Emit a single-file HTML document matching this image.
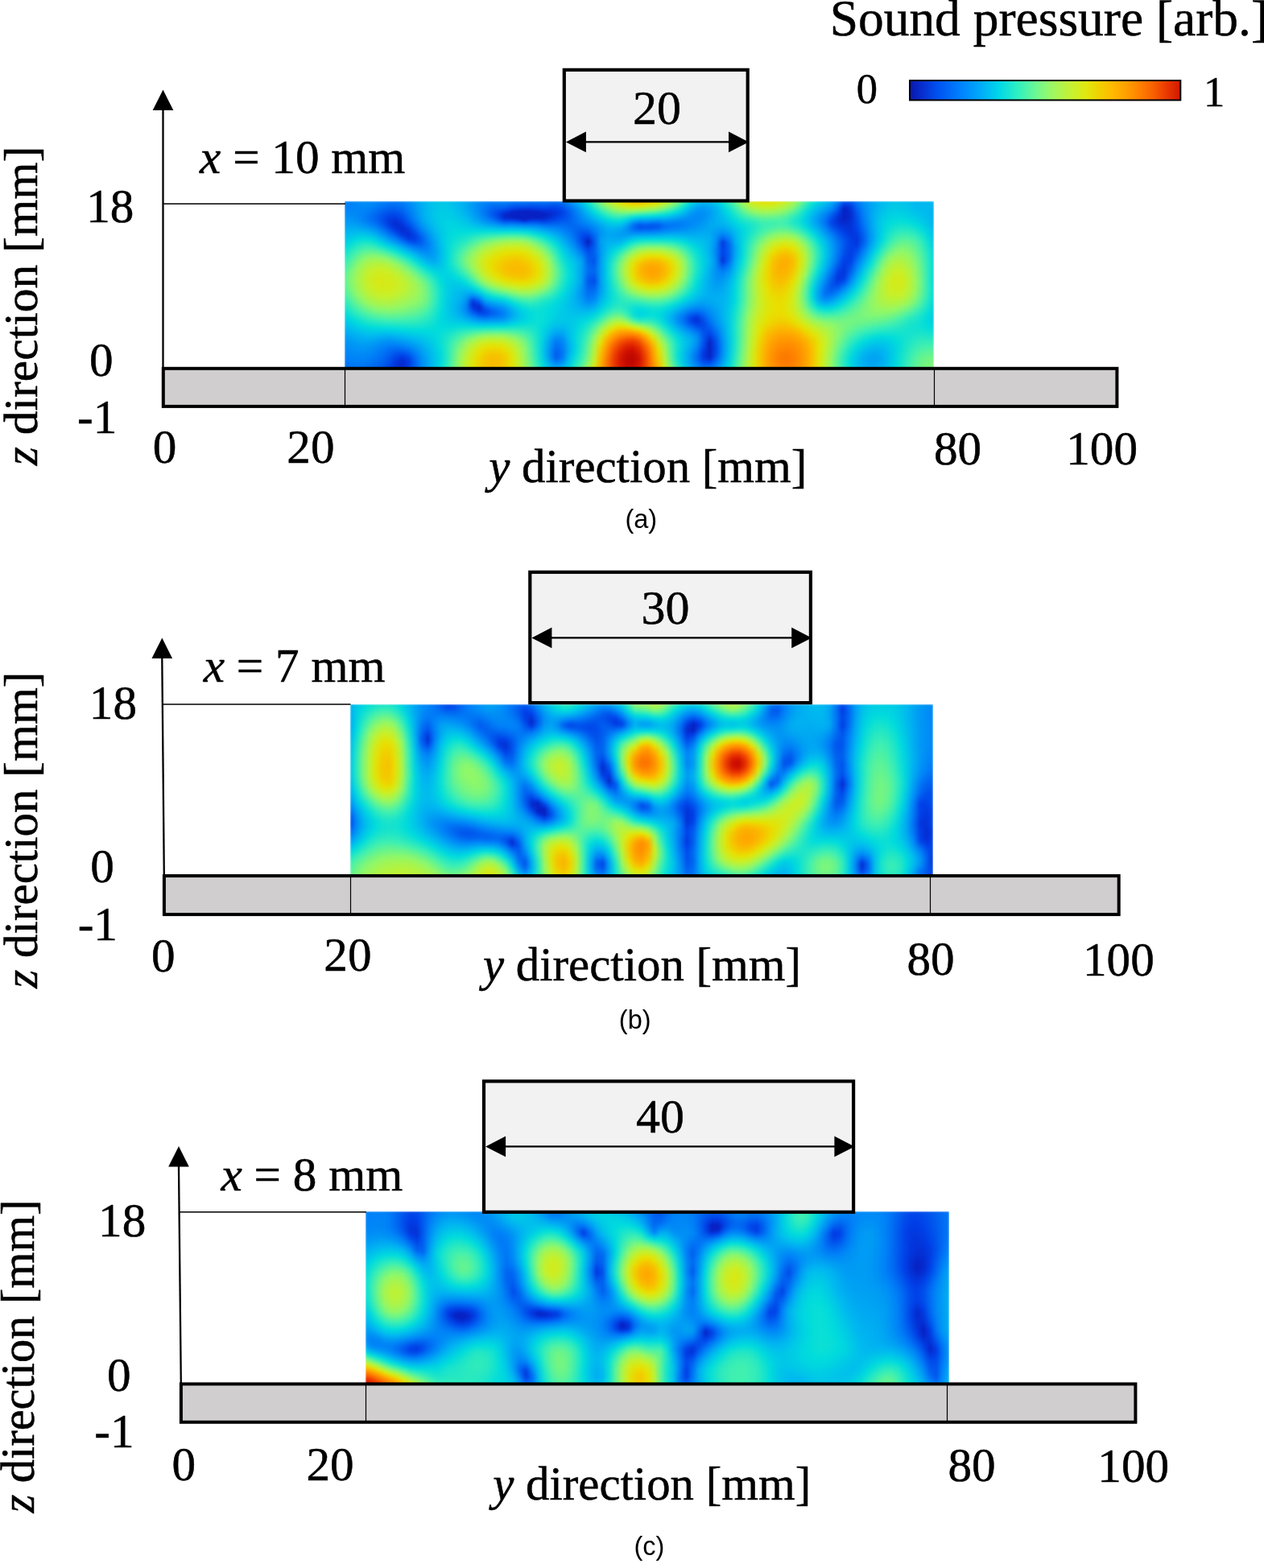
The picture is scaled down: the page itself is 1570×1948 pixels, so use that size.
<!DOCTYPE html>
<html lang="en">
<head>
<meta charset="utf-8">
<title>Sound pressure distributions</title>
<style>
html,body{margin:0;padding:0;background:#fff}
body{width:1570px;height:1948px;position:relative;overflow:hidden}
.hm{position:absolute;overflow:hidden}
.hm>div{filter:blur(.8px)}
.hm i{display:block;height:2px}
svg{position:absolute;left:0;top:0;font-family:'Liberation Serif',serif;fill:#000}
text{stroke:#000;stroke-width:.5px;stroke-linejoin:round}
</style>
</head>
<body>
<div class="hm" style="left:428px;top:250px;width:732px;height:208px"><div style="width:732px"><i style="background:linear-gradient(90deg,#007df7,#0083f8,#0089f7,#008ef6,#008df6,#0086f7,#0080f8,#007af7,#0079f6,#007ff8,#008cf6,#009ef4,#00aff1,#00bcee,#00c3ea,#00c7e8,#00c5e9,#00c0ec,#00b6f0,#00aaf2,#009cf4,#008ff6,#0085f7,#0080f8,#0080f8,#0081f8,#007af6,#0075f5,#0074f5,#0071f4,#0071f4,#0072f5,#006ef4,#006df3,#0076f6,#008df6,#00a8f2,#00c6e8,#15e3ce,#4ef1a4,#8af76e,#b3f340,#d2eb1c,#e8e000,#f2cb00,#f9bd00,#f9bb00,#f6c300,#f1cf00,#e6e103,#cded21,#acf448,#7ef678,#3cefb3,#04ddd9,#00c4e9,#00bbee,#00beed,#00cce5,#0be0d4,#33ecb9,#66f48e,#9bf65c,#c2f12f,#d9e813,#e1e309,#e4e205,#e1e309,#d6e917,#c6f02a,#aaf44a,#7ef678,#44f0ad,#17e3cc,#00d4e0,#00c2eb,#00abf2,#0084f7,#0056ee,#0059ee,#0079f6,#0091f6,#00a3f3,#00b1f1,#00bcee,#00c3ea,#00c5e9,#00c4e9,#00c0ec,#00baef,#00b7f0,#00b8f0,#00b7f0)"></i><i style="background:linear-gradient(90deg,#007df7,#0083f8,#0088f7,#008cf6,#008bf6,#0083f8,#007bf7,#0075f5,#0074f5,#007af7,#0089f7,#009cf4,#00aef1,#00bcee,#00c4e9,#00c7e8,#00c6e8,#00c0eb,#00b7f0,#00a9f2,#009bf4,#008df6,#0081f8,#0079f6,#0079f6,#0079f6,#006ff4,#006af2,#0069f2,#0065f1,#0066f1,#0068f2,#0063f1,#0060f0,#0069f2,#0083f8,#009ff4,#00beed,#09dfd6,#3ff0b1,#7bf67b,#a6f54f,#c7f029,#dce60e,#eadb00,#f1cd00,#f2cc00,#edd600,#e7e001,#d8e814,#bdf235,#9bf65b,#6af48a,#2beabe,#00d4e1,#00b9ef,#00b1f1,#00b5f0,#00c4e9,#01dcdb,#2ae9bf,#5af399,#91f867,#b9f239,#d2eb1c,#d9e712,#dce60f,#dae712,#ceed20,#bcf235,#a2f554,#72f583,#39eeb5,#0be0d4,#00cde4,#00bbee,#00a4f3,#007af6,#0044e9,#004deb,#0073f5,#008ff6,#00a2f3,#00b1f1,#00bcee,#00c3ea,#00c7e8,#00c5e9,#00c0eb,#00baef,#00b7f0,#00b8f0,#00b7f0)"></i><i style="background:linear-gradient(90deg,#007ef7,#0083f8,#0088f7,#008bf6,#0088f7,#007ff8,#0076f5,#006ff4,#006ef3,#0075f5,#0086f7,#009af4,#00adf2,#00bcee,#00c4e9,#00c8e7,#00c7e8,#00c1eb,#00b7f0,#00aaf2,#009bf4,#008bf6,#007cf7,#0073f5,#0070f4,#006ff4,#0063f1,#005def,#005cef,#0058ee,#0059ee,#005def,#0057ee,#0055ed,#005eef,#0079f6,#0096f5,#00b5f0,#00dadd,#32ecb9,#6bf48a,#99f75e,#b8f23a,#d0ec1e,#dee50d,#e8e000,#e8e000,#dfe50b,#d7e916,#c7f029,#a9f44b,#87f770,#54f29e,#1be4ca,#00c9e7,#00aef1,#00a8f2,#00adf2,#00beed,#00d7df,#20e6c6,#4ef1a4,#86f771,#aff445,#c9ef26,#d1ec1d,#d4ea1a,#d1eb1d,#c5f02b,#b2f341,#98f75f,#65f48e,#2eeabc,#00dcdc,#00c6e8,#00b4f1,#009df4,#0070f4,#0236dc,#0042e8,#006df3,#008cf6,#00a1f3,#00b1f1,#00bded,#00c5e9,#00c8e7,#00c7e8,#00c2eb,#00bbee,#00b8f0,#00b8f0,#00b6f0)"></i><i style="background:linear-gradient(90deg,#007ff8,#0083f8,#0087f7,#0089f7,#0085f7,#007bf7,#0071f4,#0069f2,#0068f2,#0070f4,#0083f8,#0098f5,#00acf2,#00bbee,#00c4e9,#00c9e7,#00c8e7,#00c2ea,#00b8f0,#00aaf2,#009af4,#0089f7,#0079f6,#006cf3,#0067f2,#0064f1,#0056ee,#004eeb,#004deb,#0049ea,#004ceb,#0050ec,#004beb,#004aea,#0054ed,#0070f4,#008ef6,#00aef1,#00d2e2,#26e8c2,#5af399,#89f76e,#a9f44b,#c1f130,#ceed20,#d6e916,#d5ea18,#ccee23,#c3f12e,#b1f343,#94f763,#6ef586,#3defb2,#09dfd6,#00bfec,#00a5f3,#00a0f3,#00a7f2,#00b9f0,#00d2e2,#18e3cc,#43f0ae,#79f67d,#a4f551,#bef134,#c7f029,#caef26,#c7f029,#b9f239,#a7f54e,#8cf86c,#58f29a,#24e7c3,#00d6df,#00bfec,#00acf2,#0094f5,#0065f1,#052cd0,#013ae1,#0068f2,#008af7,#00a0f3,#00b2f1,#00beec,#00c6e8,#00c9e6,#00c8e7,#00c3ea,#00bcee,#00b9f0,#00b8f0,#00b6f0)"></i><i style="background:linear-gradient(90deg,#0081f8,#0084f7,#0086f7,#0086f7,#0081f8,#0076f6,#006bf3,#0063f1,#0061f0,#006bf3,#007ff8,#0096f5,#00abf2,#00bbee,#00c5e9,#00c9e6,#00c9e7,#00c3ea,#00baef,#00acf2,#009bf4,#0089f7,#0076f5,#0066f2,#005def,#0056ee,#0047ea,#013ee5,#013ce3,#013ae1,#013ee5,#0042e9,#0040e8,#0040e8,#004deb,#0069f2,#0088f7,#00a7f2,#00cbe6,#19e4cb,#48f1a9,#77f57f,#99f75d,#aff445,#bbf237,#c1f130,#bef134,#b3f340,#a9f44c,#98f75f,#78f67d,#53f29f,#29e9c0,#00d7df,#00b6f0,#009df4,#0099f4,#00a2f3,#00b5f0,#00cde4,#10e1d1,#39eeb4,#6cf488,#98f75f,#b1f343,#baf238,#bdf234,#baf238,#adf447,#9bf65c,#7cf67a,#4bf1a7,#1ae4ca,#00d0e3,#00b9f0,#00a4f3,#008bf6,#005bef,#0721c4,#0334da,#0063f1,#0087f7,#009ff4,#00b2f1,#00c0ec,#00c8e7,#00cbe6,#00cae6,#00c5e9,#00beed,#00baef,#00b9f0,#00b5f0)"></i><i style="background:linear-gradient(90deg,#0083f8,#0085f7,#0086f7,#0084f7,#007df7,#0071f4,#0065f1,#005cef,#005bef,#0066f1,#007cf7,#0094f5,#00aaf2,#00bbee,#00c5e9,#00cae6,#00cae6,#00c5e9,#00bbee,#00adf2,#009cf4,#0089f7,#0074f5,#0062f0,#0054ed,#0047ea,#0239e0,#042fd4,#052bcf,#052cd0,#0332d7,#0237de,#0237de,#013ae1,#0047ea,#0063f1,#0082f8,#00a1f3,#00c4ea,#0ce0d4,#38eeb5,#64f490,#87f770,#9cf65b,#a4f551,#a6f54f,#a1f655,#97f760,#8bf86c,#77f67e,#59f399,#38edb6,#14e2ce,#00cce5,#00acf2,#0096f5,#0095f5,#009ff4,#00b2f1,#00c9e6,#09dfd6,#31ebba,#5ff394,#8af76d,#a3f553,#acf447,#aff444,#acf448,#a0f656,#8ef86a,#6df488,#3eefb2,#10e1d1,#00cae6,#00b2f1,#009cf4,#0082f8,#0051ec,#0721c4,#0430d5,#005ff0,#0085f7,#009ff4,#00b3f1,#00c1eb,#00c9e6,#00cde5,#00cce5,#00c7e8,#00c0eb,#00bbee,#00b9f0,#00b4f1)"></i><i style="background:linear-gradient(90deg,#0085f7,#0087f7,#0086f7,#0082f8,#007af6,#006df3,#005ff0,#0055ed,#0054ed,#0061f0,#0078f6,#0092f5,#00a9f2,#00bbee,#00c5e9,#00cbe6,#00cbe5,#00c6e8,#00bded,#00b0f1,#009ef4,#008af7,#0074f5,#005ef0,#004beb,#013be2,#052bcf,#0721c4,#0721c4,#0721c4,#0723c6,#052cd0,#0430d5,#0236dc,#0043e9,#005ef0,#007df7,#009cf4,#00bded,#00dbdc,#29e9c0,#50f2a2,#71f583,#86f771,#8bf76d,#87f770,#7ef678,#72f583,#65f48f,#52f2a0,#3aeeb4,#20e6c6,#00dbdd,#00c0eb,#00a4f3,#0091f6,#0091f6,#009df4,#00b0f1,#00c6e8,#03ddda,#29e9c0,#52f2a0,#7af67c,#94f763,#9ef658,#a1f655,#9df659,#93f865,#7ef678,#5df396,#33ecb9,#07ded7,#00c4e9,#00abf2,#0094f5,#0077f6,#0048ea,#0721c4,#042cd1,#005bef,#0083f8,#009ff4,#00b4f1,#00c3ea,#00cbe5,#00cfe3,#00cee4,#00c9e7,#00c2ea,#00bded,#00b9ef,#00b3f1)"></i><i style="background:linear-gradient(90deg,#0088f7,#0089f7,#0087f7,#0081f8,#0076f6,#0069f2,#005aee,#004eeb,#004deb,#005bef,#0074f5,#008ff6,#00a8f2,#00baef,#00c6e8,#00cce5,#00cce5,#00c8e7,#00bfec,#00b2f1,#00a0f3,#008cf6,#0075f5,#005def,#0045e9,#0430d5,#0721c4,#0721c4,#0721c4,#0721c4,#0721c4,#0721c4,#052ace,#0335db,#0043e9,#005cef,#0079f6,#0097f5,#00b6f0,#00d3e1,#1ae4ca,#3defb2,#5cf397,#6cf488,#6bf489,#60f393,#54f29e,#49f1a8,#3defb2,#2febbb,#1ee5c8,#06ded8,#00cce5,#00b5f0,#009cf4,#008ef6,#0090f6,#009df4,#00aff1,#00c3ea,#00dadd,#21e6c5,#45f0ac,#69f48b,#82f774,#90f868,#92f866,#8ef86a,#83f774,#6ef586,#4ef1a3,#29e9c0,#00dbdc,#00bfec,#00a5f3,#008cf6,#006df3,#003fe7,#0721c4,#052bcf,#0058ee,#0081f8,#009ef4,#00b6f0,#00c5e9,#00cde4,#00d1e2,#00d0e3,#00cce5,#00c5e9,#00bfec,#00baef,#00b3f1)"></i><i style="background:linear-gradient(90deg,#008af7,#008bf6,#0088f7,#0080f8,#0074f5,#0065f1,#0055ed,#0047ea,#0045e9,#0055ed,#0070f4,#008df6,#00a6f3,#00baef,#00c6e8,#00cce5,#00cee4,#00cae6,#00c1eb,#00b5f0,#00a3f3,#008ef6,#0078f6,#005ff0,#0042e8,#0628cb,#0721c4,#0721c4,#0721c4,#0721c4,#0721c4,#0721c4,#0528cc,#0236dc,#0044e9,#005aef,#0076f5,#0092f5,#00aff1,#00cae6,#0bdfd5,#2ceabe,#45f1ab,#52f2a0,#4bf1a6,#39eeb5,#2ceabe,#24e7c3,#1ae4ca,#0ee1d2,#01dcdb,#00cfe3,#00beed,#00aaf2,#0096f5,#008bf6,#008ff6,#009df4,#00aff1,#00c1eb,#00d6df,#19e4cb,#39eeb5,#58f29a,#70f585,#7ef679,#81f676,#7cf67a,#73f582,#60f393,#40f0b0,#20e6c6,#00d7df,#00bbee,#00a0f3,#0085f7,#0063f1,#013ae1,#0721c4,#052acf,#0055ed,#007ff8,#009ef4,#00b7f0,#00c7e8,#00d0e3,#00d3e1,#00d3e1,#00cee4,#00c8e7,#00c1eb,#00baef,#00b2f1)"></i><i style="background:linear-gradient(90deg,#008ef6,#008ef6,#0089f7,#0080f8,#0072f4,#0063f1,#0051ec,#0041e8,#003fe6,#004fec,#006cf3,#008af7,#00a5f3,#00b9ef,#00c5e9,#00cde5,#00cfe3,#00cbe5,#00c4e9,#00b8f0,#00a7f2,#0092f5,#007cf7,#0064f1,#0044e9,#0626c9,#0721c4,#0721c4,#0721c4,#0721c4,#0721c4,#0721c4,#052cd0,#013ae0,#0048ea,#005bef,#0073f5,#008ef6,#00a8f2,#00c2eb,#00d9de,#1ce5c9,#32ecb9,#3aeeb4,#2eeabc,#16e3cd,#06ded8,#00dcdc,#00d6e0,#00cfe3,#00cae6,#00beec,#00aff1,#009ff4,#0090f6,#008af7,#0090f6,#009ef4,#00aff1,#00bfec,#00d2e1,#12e2d0,#2febbc,#48f1a9,#5ef395,#6cf488,#6ff585,#6bf489,#65f48f,#52f29f,#36edb7,#18e4cb,#00d3e1,#00b7f0,#009bf4,#007ff8,#005aef,#0235db,#0721c4,#052bcf,#0053ed,#007df7,#009ef4,#00b8f0,#00c9e7,#00d2e2,#00d6e0,#00d5e0,#00d1e2,#00cbe6,#00c3ea,#00bbee,#00b2f1)"></i><i style="background:linear-gradient(90deg,#0091f6,#0091f6,#008cf6,#0080f8,#0072f4,#0062f1,#004fec,#013de4,#013ae0,#0049ea,#0067f2,#0087f7,#00a2f3,#00b8f0,#00c5e9,#00cde4,#00d0e3,#00cde4,#00c6e8,#00bcee,#00abf2,#0097f5,#0082f8,#006cf3,#004deb,#042ed3,#0627cb,#0721c4,#0721c4,#0721c4,#0723c5,#0624c6,#0333d8,#003fe7,#004deb,#005cef,#0071f4,#008af7,#00a1f3,#00b9ef,#00cfe3,#0ce0d4,#21e6c5,#25e8c3,#13e2cf,#00d3e1,#00c6e8,#00c4e9,#00beed,#00b9f0,#00b7f0,#00adf2,#00a0f3,#0095f5,#008cf6,#008af7,#0091f6,#00a0f3,#00aff1,#00bded,#00cfe3,#0adfd5,#25e8c2,#3aeeb4,#4cf1a5,#5cf397,#5ff394,#5cf397,#59f29a,#47f1a9,#2eeabc,#13e2cf,#00d0e3,#00b4f1,#0098f5,#007af6,#0053ed,#0332d7,#0721c4,#042cd1,#0051ec,#007bf7,#009df4,#00b9ef,#00cbe6,#00d4e0,#00d8de,#00d8de,#00d5e0,#00cee4,#00c6e8,#00bded,#00b2f1)"></i><i style="background:linear-gradient(90deg,#0094f5,#0095f5,#008ff6,#0083f8,#0073f5,#0064f1,#004eeb,#013ae1,#0335db,#0043e9,#0062f1,#0083f8,#00a0f3,#00b7f0,#00c4e9,#00cde4,#00d1e2,#00cfe3,#00c9e7,#00bfec,#00b0f1,#009df4,#008af7,#0077f6,#005aee,#013be2,#013be2,#0331d7,#0721c4,#0331d6,#0235db,#0332d7,#013ce3,#0048ea,#0054ed,#005ef0,#0070f4,#0086f7,#009af4,#00b0f1,#00c6e8,#00dadd,#10e1d1,#11e1d0,#00d8de,#00bcee,#00abf2,#00abf2,#00a4f3,#00a0f3,#00a3f3,#009cf4,#0092f5,#008df6,#0089f7,#008bf6,#0093f5,#00a2f3,#00aff1,#00baef,#00cbe5,#03ddda,#1ce5c9,#2eeabc,#3defb2,#4ef1a3,#52f2a0,#4ff2a2,#4ff2a2,#40f0b0,#28e8c1,#0fe1d2,#00cfe3,#00b3f1,#0096f5,#0076f6,#004deb,#0430d5,#0721c4,#042ed3,#004fec,#007af6,#009df4,#00baef,#00cde5,#00d6df,#00dbdd,#00dcdc,#00d8de,#00d1e2,#00c8e7,#00beec,#00b3f1)"></i><i style="background:linear-gradient(90deg,#0098f5,#0099f4,#0093f5,#0086f7,#0076f6,#0067f2,#004fec,#0239df,#0430d6,#013ee5,#005cef,#007ef8,#009df4,#00b5f0,#00c3ea,#00cde4,#00d2e2,#00d1e2,#00cbe5,#00c3ea,#00b6f0,#00a5f3,#0093f5,#0084f7,#006bf3,#004fec,#0053ed,#004aeb,#013ae1,#0047ea,#0048ea,#0040e7,#0049ea,#0053ed,#005bef,#0061f0,#006ef4,#0082f8,#0093f5,#00a7f2,#00bcee,#00d0e3,#00dbdc,#00dbdd,#00c8e7,#00a4f3,#008ff6,#0092f5,#008af7,#0089f7,#0091f6,#008df6,#0086f7,#0087f7,#0088f7,#008cf6,#0096f5,#00a4f3,#00aff1,#00b8f0,#00c7e8,#00dadd,#13e2cf,#24e7c3,#32ecb9,#43f0ae,#47f1a9,#45f1ab,#49f1a8,#3cefb3,#25e8c3,#0ee0d2,#00cfe3,#00b3f1,#0096f5,#0075f5,#004aea,#0430d5,#0627ca,#042fd4,#004deb,#0078f6,#009cf4,#00bbee,#00cee4,#00d9de,#03ddda,#05ddd9,#00dcdc,#00d5e0,#00cbe5,#00c0eb,#00b4f1)"></i><i style="background:linear-gradient(90deg,#009cf4,#009df4,#0097f5,#008bf6,#007cf7,#006cf3,#0053ed,#0239e0,#042dd2,#0239e0,#0056ed,#0079f6,#0099f4,#00b2f1,#00c2eb,#00cde4,#00d3e1,#00d2e2,#00cee4,#00c6e8,#00bbee,#00adf2,#009df4,#0091f6,#007ef8,#0069f2,#006df3,#0066f2,#0058ee,#0061f0,#005ff0,#0054ed,#0059ee,#005ef0,#0063f1,#0064f1,#006df3,#007ef7,#008cf6,#009ff4,#00b4f1,#00c7e8,#00d1e2,#00cfe3,#00b9ef,#008ff6,#0074f5,#007bf7,#0072f4,#0073f5,#0082f8,#0081f8,#007ef8,#0083f8,#0088f7,#008ef6,#0098f5,#00a5f3,#00aef1,#00b4f1,#00c3ea,#00d5e0,#0be0d4,#1ce5c9,#2ae9bf,#3beeb3,#40f0b0,#40f0b0,#46f1aa,#3befb3,#26e8c2,#10e1d1,#00d1e2,#00b5f0,#0098f5,#0076f5,#004aeb,#0332d8,#052bcf,#0430d6,#004beb,#0076f5,#009bf4,#00bbee,#00d0e3,#00dbdd,#08ded7,#0adfd5,#07ded7,#00d9de,#00cfe3,#00c3ea,#00b5f0)"></i><i style="background:linear-gradient(90deg,#009ff4,#00a1f3,#009df4,#0091f6,#0083f8,#0072f5,#0059ee,#013ce3,#042cd1,#0334da,#004fec,#0072f5,#0094f5,#00aef1,#00c0ec,#00cce5,#00d3e1,#00d4e1,#00d0e2,#00cae6,#00c1eb,#00b5f0,#00a9f2,#009ff4,#0091f6,#0083f8,#0086f7,#0082f8,#0078f6,#007af7,#0075f5,#006af3,#0069f2,#006af2,#006af2,#0067f2,#006bf3,#0077f6,#0084f7,#0097f5,#00acf2,#00bfec,#00c8e7,#00c4ea,#00acf2,#007ef7,#005ef0,#0066f2,#005ef0,#0063f1,#0077f6,#007af6,#007af7,#0083f8,#0089f7,#0091f6,#009bf4,#00a6f3,#00acf2,#00b0f1,#00beed,#00d0e3,#05ddd9,#15e3cd,#25e8c3,#37edb6,#3eefb1,#41f0af,#48f1a9,#3eefb1,#2ae9bf,#15e3cd,#00d4e0,#00b9ef,#009cf4,#0079f6,#004fec,#0236dc,#042ed3,#0331d7,#004aea,#0073f5,#009af4,#00bbee,#00d1e2,#02dddb,#0de0d3,#11e1d1,#0de0d3,#02dddb,#00d3e1,#00c5e9,#00b6f0)"></i><i style="background:linear-gradient(90deg,#00a3f3,#00a6f3,#00a2f3,#0099f4,#008cf6,#007bf7,#0060f0,#0040e8,#042ed3,#0430d5,#0047ea,#006bf3,#008ff6,#00aaf2,#00bded,#00cbe5,#00d3e1,#00d5e0,#00d3e1,#00cee4,#00c7e8,#00beec,#00b6f0,#00aef1,#00a4f3,#009bf4,#009cf4,#0099f4,#0092f5,#0091f6,#008af7,#007ff8,#0079f6,#0076f5,#0071f4,#006bf3,#006af2,#0071f4,#007cf7,#008ff6,#00a5f3,#00b8f0,#00bfec,#00b9ef,#00a0f3,#0073f5,#0053ed,#005aee,#0055ed,#005def,#0072f4,#0078f6,#007bf7,#0084f7,#008cf6,#0094f5,#009ef4,#00a7f2,#00aaf2,#00abf2,#00b9f0,#00cce5,#00dbdc,#11e1d0,#22e7c4,#35edb8,#3ff0b1,#45f1ab,#4df1a4,#45f1ab,#32ecb9,#1de5c8,#00d9dd,#00beec,#00a0f3,#007ef8,#0056ed,#013ae1,#0331d6,#0332d7,#0047ea,#0071f4,#0099f4,#00bbef,#00d1e2,#05ded8,#12e2cf,#17e3cc,#14e2ce,#09dfd6,#00d6df,#00c8e7,#00b8f0)"></i><i style="background:linear-gradient(90deg,#00a7f2,#00abf2,#00a9f2,#00a1f3,#0095f5,#0084f7,#0069f2,#0049ea,#0332d7,#042dd2,#003fe7,#0064f1,#0089f7,#00a6f3,#00bbee,#00cae6,#00d3e1,#00d6df,#00d5e0,#00d2e2,#00cde4,#00c7e7,#00c2ea,#00bded,#00b6f0,#00b1f1,#00b2f1,#00aff1,#00aaf2,#00a5f3,#009df4,#0091f6,#0088f7,#0081f8,#0079f6,#006ff4,#0069f2,#006af3,#0073f5,#0088f7,#00a0f3,#00b2f1,#00b8f0,#00b0f1,#0098f5,#0070f4,#0055ed,#0059ee,#0057ee,#0061f0,#0074f5,#007cf7,#0081f8,#0089f7,#0091f6,#0098f5,#00a1f3,#00a7f2,#00a7f2,#00a5f3,#00b3f1,#00c7e8,#00d8de,#0ee0d2,#22e7c5,#36edb7,#43f0ae,#4df1a4,#56f29d,#50f2a2,#3defb2,#26e8c2,#05ded9,#00c4e9,#00a6f3,#0084f7,#005eef,#0040e7,#0334da,#0333d8,#0045e9,#006ef4,#0098f5,#00baef,#00d2e1,#09dfd6,#18e3cc,#1ee5c8,#1be5c9,#10e1d1,#00dbdd,#00cbe5,#00baef)"></i><i style="background:linear-gradient(90deg,#00abf2,#00b0f1,#00aff1,#00aaf2,#009ef4,#008df6,#0073f5,#0052ed,#0237dd,#052cd0,#013ae1,#005cef,#0083f8,#00a1f3,#00b8f0,#00c9e7,#00d4e1,#00d8de,#00d8de,#00d6df,#00d4e1,#00d1e2,#00cee4,#00cbe5,#00c8e7,#00c5e9,#00c6e8,#00c4e9,#00bfec,#00b9ef,#00aff1,#00a2f3,#0096f5,#008cf6,#0080f8,#0073f5,#0068f2,#0063f1,#006af2,#0082f8,#009cf4,#00adf2,#00b1f1,#00a9f2,#0094f5,#0074f5,#0061f0,#0063f1,#0064f1,#006df3,#007df7,#0085f7,#0089f7,#008ff6,#0096f5,#009df4,#00a4f3,#00a8f2,#00a3f3,#009ff4,#00acf2,#00c3ea,#00d6e0,#0de0d3,#23e7c4,#38eeb5,#4af1a7,#57f29b,#61f392,#5df396,#4bf1a6,#31ebba,#10e1d1,#00cbe5,#00adf2,#008bf6,#0066f1,#0047ea,#0237de,#0333d9,#0043e9,#006cf3,#0096f5,#00baef,#00d3e1,#0de0d3,#1ee5c8,#25e7c3,#23e7c4,#18e3cc,#04ddd9,#00cee4,#00bcee)"></i><i style="background:linear-gradient(90deg,#00aff1,#00b5f0,#00b6f0,#00b3f1,#00a8f2,#0097f5,#007ef7,#005def,#013ee5,#042dd2,#0335db,#0054ed,#007cf7,#009bf4,#00b5f0,#00c8e7,#00d4e1,#00d9de,#00dadd,#00dadd,#00dadd,#00dadd,#00dadd,#00d9dd,#00d8de,#00d7df,#00d8de,#00d7df,#00d2e1,#00cbe5,#00c0ec,#00b2f1,#00a3f3,#0096f5,#0088f7,#0077f6,#0067f2,#005def,#0060f0,#007bf7,#0098f5,#00a9f2,#00acf2,#00a3f3,#0093f5,#007ff8,#0073f5,#0075f5,#0077f6,#007ef8,#008af7,#0090f6,#0093f5,#0098f5,#009cf4,#00a1f3,#00a7f2,#00a8f2,#00a0f3,#0097f5,#00a5f3,#00bfec,#00d4e1,#0de0d3,#26e8c2,#3defb2,#53f29f,#64f490,#6ef586,#6cf488,#5bf397,#3eefb1,#1be5c9,#00d2e1,#00b4f1,#0092f5,#006ef4,#004fec,#013be2,#0334da,#0040e8,#0069f2,#0094f5,#00b9ef,#00d4e1,#11e1d0,#24e7c4,#2ceabe,#2ae9bf,#1fe6c7,#0bdfd4,#00d2e2,#00beed)"></i><i style="background:linear-gradient(90deg,#00b3f1,#00baef,#00bded,#00bbee,#00b3f1,#00a1f3,#0088f7,#0068f2,#0048ea,#0331d7,#0331d6,#004ceb,#0074f5,#0096f5,#00b2f1,#00c7e8,#00d4e0,#00dbdd,#01dcdb,#04ddd9,#08ded7,#0ce0d4,#0fe1d2,#11e1d0,#13e2cf,#14e2ce,#15e3cd,#14e2ce,#0de0d3,#00dcdc,#00cfe3,#00c0eb,#00b0f1,#00a0f3,#008ff6,#007cf7,#0068f2,#0056ee,#0055ed,#0074f5,#0097f5,#00a7f2,#00a8f2,#00a1f3,#0096f5,#008bf6,#0087f7,#0089f7,#008bf6,#0090f6,#0098f5,#009df4,#009ff4,#00a1f3,#00a3f3,#00a6f3,#00aaf2,#00a9f2,#009df4,#008ff6,#009ef4,#00bbee,#00d3e1,#0fe1d2,#2ae9bf,#44f0ad,#5ef395,#71f584,#7df679,#7df679,#6df587,#4ef1a3,#27e8c1,#00dadd,#00bbee,#0099f4,#0077f6,#0056ed,#003ee6,#0235db,#003ee6,#0066f1,#0093f5,#00b9f0,#00d5e0,#15e3ce,#2ae9bf,#33ecb9,#31ebba,#26e8c2,#12e1d0,#00d5e0,#00c0ec)"></i><i style="background:linear-gradient(90deg,#00b8f0,#00bfec,#00c4e9,#00c4e9,#00bded,#00abf2,#0092f5,#0074f5,#0054ed,#0238de,#042fd4,#0045e9,#006df3,#0091f6,#00aff1,#00c5e9,#00d4e0,#00dcdc,#06ded8,#0bdfd5,#12e2cf,#1ae4ca,#20e6c6,#26e8c2,#2ae9bf,#2eeabd,#2febbb,#2eebbc,#28e8c1,#19e4cb,#03ddda,#00cee4,#00bcee,#00aaf2,#0096f5,#0081f8,#0069f2,#0051ec,#004aeb,#006ef4,#0096f5,#00a7f2,#00a6f3,#00a0f3,#009bf4,#009af4,#009bf4,#009df4,#009ef4,#00a2f3,#00a9f2,#00acf2,#00acf2,#00abf2,#00aaf2,#00acf2,#00aef1,#00abf2,#0099f4,#0085f7,#0096f5,#00b8f0,#00d2e2,#11e1d1,#2eeabc,#4cf1a5,#6af48b,#80f676,#8df86a,#8ef86a,#7ff677,#5ff394,#34ecb8,#08ded7,#00c2ea,#00a0f3,#007ff8,#005def,#0043e9,#0237dd,#013ce3,#0063f1,#0092f5,#00b9f0,#00d6df,#1ae4ca,#30ebbb,#3aeeb4,#39eeb5,#2eeabd,#18e4cb,#00d8de,#00c2ea)"></i><i style="background:linear-gradient(90deg,#00bcee,#00c4e9,#00cbe6,#00cce5,#00c6e8,#00b6f0,#009df4,#0081f8,#0061f0,#0040e8,#0331d6,#0040e8,#0066f2,#008cf6,#00abf2,#00c4e9,#00d5e0,#02ddda,#0adfd5,#12e2d0,#1de5c8,#28e8c1,#32ebba,#39eeb5,#40f0b0,#47f1aa,#49f1a7,#49f1a8,#41f0af,#30ebbb,#18e4cb,#00dadd,#00c7e7,#00b3f1,#009df4,#0086f7,#006bf3,#004deb,#003fe7,#0069f2,#0097f5,#00a7f2,#00a6f3,#00a1f3,#00a3f3,#00aaf2,#00aff1,#00b1f1,#00b3f1,#00b6f0,#00baef,#00bbee,#00b9ef,#00b5f0,#00b2f1,#00b1f1,#00b1f1,#00acf2,#0097f5,#0079f6,#008ef6,#00b6f0,#00d2e2,#13e2cf,#34ecb8,#56f29c,#76f57f,#8ff869,#9bf65b,#9df659,#91f867,#70f585,#40f0b0,#13e2cf,#00c9e7,#00a7f2,#0085f7,#0063f1,#0047ea,#0238df,#013ae1,#0060f0,#0091f6,#00b9ef,#00d8de,#1ee5c7,#36edb7,#41f0af,#40f0b0,#35edb8,#1fe6c7,#00dbdd,#00c4e9)"></i><i style="background:linear-gradient(90deg,#00c0ec,#00c9e6,#00d1e2,#00d5e0,#00d0e3,#00c0eb,#00a8f2,#008cf6,#006ff4,#004deb,#0236dc,#003ee6,#0061f0,#0088f7,#00a9f2,#00c3ea,#00d5e0,#05ded9,#0ee0d2,#19e4cb,#27e8c1,#36edb7,#42f0ae,#4ff1a3,#5af398,#63f490,#66f48e,#66f48e,#5ef395,#47f1a9,#2deabd,#10e1d1,#00d2e2,#00bcee,#00a4f3,#008bf6,#006ef3,#004aeb,#0236dc,#0064f1,#0099f4,#00a9f2,#00a8f2,#00a4f3,#00adf2,#00baef,#00c2eb,#00c4e9,#00c5e9,#00c7e8,#00c9e6,#00c9e7,#00c5e9,#00c0ec,#00baef,#00b6f0,#00b5f0,#00aef1,#0094f5,#006bf3,#0086f7,#00b4f1,#00d2e2,#17e3cc,#3aeeb4,#60f393,#83f773,#9cf65a,#a8f54c,#abf449,#a0f656,#81f676,#50f2a2,#1ee5c7,#00cfe3,#00aef1,#008cf6,#0069f2,#004ceb,#013ae1,#0238de,#005ef0,#0091f6,#00baef,#00dadd,#24e7c4,#3defb2,#4af1a7,#49f1a8,#3cefb3,#25e8c3,#03ddda,#00c6e8)"></i><i style="background:linear-gradient(90deg,#00c4e9,#00cfe3,#00d8de,#02dddb,#00d9de,#00cae6,#00b3f1,#0098f5,#007ef8,#005bef,#003ee5,#003fe7,#005eef,#0084f7,#00a6f3,#00c2ea,#00d6df,#08ded7,#13e2cf,#20e6c6,#32ecba,#44f0ad,#56f29c,#65f48f,#73f582,#7df679,#80f677,#80f676,#79f67d,#61f393,#40f0b0,#22e6c5,#00dcdc,#00c4e9,#00abf2,#0090f6,#0071f4,#004aea,#052cd0,#005ff0,#009bf4,#00abf2,#00abf2,#00aaf2,#00b8f0,#00c9e7,#00d3e1,#00d6df,#00d7df,#00d8de,#00d9de,#00d7df,#00d2e2,#00cae6,#00c1eb,#00bcee,#00b8f0,#00b0f1,#0093f5,#005bef,#007df7,#00b2f1,#00d2e2,#1ae4ca,#40f0b0,#6af48a,#90f868,#a8f54c,#b5f33e,#b9f23a,#aef446,#91f867,#5ef395,#29e9c0,#00d5e0,#00b4f1,#0091f6,#006ef4,#0050ec,#013ce4,#0236dd,#005def,#0092f5,#00bbee,#00dcdc,#29e9c0,#44f0ac,#53f29f,#51f2a0,#43f0ad,#2be9bf,#08ded7,#00c8e7)"></i><i style="background:linear-gradient(90deg,#00c8e7,#00d4e0,#04ddd9,#0ee0d2,#09dfd6,#00d4e0,#00beed,#00a5f3,#008cf6,#006bf3,#004beb,#0045e9,#005def,#0081f8,#00a3f3,#00c1eb,#00d6df,#0adfd5,#18e4cb,#27e8c1,#3cefb3,#54f29e,#69f48b,#79f67c,#89f76e,#94f764,#96f761,#96f761,#91f867,#78f67e,#56f29c,#32ecba,#0ee0d2,#00cce5,#00b2f1,#0096f5,#0076f5,#004beb,#0723c5,#005bef,#009ef4,#00aef1,#00aff1,#00b0f1,#00c3ea,#00d8de,#0de0d3,#12e2cf,#14e2ce,#15e2ce,#14e2ce,#0fe1d2,#03ddda,#00d4e1,#00c9e7,#00c1eb,#00bbee,#00b2f1,#0091f6,#0049ea,#0075f5,#00b1f1,#00d2e1,#1de5c8,#47f1aa,#74f581,#9af75c,#b4f33f,#c2f12f,#c6f02b,#bbf237,#9df659,#6cf489,#33ecb9,#00dbdd,#00b9f0,#0096f5,#0072f5,#0053ed,#003ee6,#0236dc,#005def,#0094f5,#00bded,#05ded9,#2febbc,#4df1a5,#5cf397,#5af399,#4bf1a6,#30ebbb,#0ce0d4,#00c9e6)"></i><i style="background:linear-gradient(90deg,#00cde5,#00d9de,#0ee0d2,#1ae4ca,#17e3cc,#03ddda,#00c9e6,#00b2f1,#009af4,#007cf7,#005bef,#004fec,#005ef0,#007ff8,#00a1f3,#00c0eb,#00d7df,#0de0d3,#1de5c8,#2febbc,#48f1a9,#63f391,#7af67c,#8cf86b,#9af75c,#a5f550,#a7f54e,#a8f54d,#a2f553,#8df86b,#6af48a,#42f0ae,#1ce5c9,#00d4e1,#00b9f0,#009cf4,#007bf7,#004fec,#0721c4,#0059ee,#009ff4,#00b1f1,#00b4f1,#00b9ef,#00cfe3,#10e1d1,#25e8c2,#2deabd,#2eebbc,#2eeabc,#2ceabe,#24e7c3,#16e3cd,#02ddda,#00d0e3,#00c6e8,#00beed,#00b2f1,#008ff6,#013de4,#006ef4,#00aff1,#00d3e1,#21e6c6,#4ef1a3,#7ef678,#a4f551,#bff132,#ccee23,#d0ec1e,#c7f029,#a8f54d,#78f67d,#3cefb3,#06ded8,#00bded,#009af4,#0076f5,#0055ed,#003fe7,#0237dd,#005ff0,#0096f5,#00c0eb,#0adfd5,#35edb7,#55f29d,#64f490,#61f392,#52f2a0,#35edb7,#10e1d1,#00cbe5)"></i><i style="background:linear-gradient(90deg,#00d1e2,#04ddd9,#18e4cb,#25e8c2,#24e7c3,#12e2d0,#00d5e0,#00bfec,#00a8f2,#008cf6,#006df3,#005cef,#0063f1,#007ef8,#009ff4,#00bfec,#00d7df,#10e1d1,#23e7c4,#37edb6,#54f29e,#71f584,#8af76d,#9bf65c,#a9f44c,#b3f340,#b6f33c,#b7f23c,#b1f342,#9df65a,#7df679,#54f29e,#29e9c0,#00dbdd,#00bfec,#00a1f3,#0081f8,#0054ed,#0626c9,#005aee,#009ef4,#00b3f1,#00baef,#00c3ea,#00dbdd,#25e8c3,#3defb2,#47f1aa,#4af1a7,#49f1a8,#44f0ad,#39eeb5,#28e9c0,#11e1d0,#00d7df,#00cae6,#00c1eb,#00b3f1,#008df6,#013ae1,#006af2,#00adf2,#00d3e1,#24e7c4,#55f29d,#87f770,#adf447,#c9f027,#d5e917,#d9e813,#d0ec1e,#b2f341,#84f773,#45f0ac,#0de0d3,#00c1eb,#009df4,#0078f6,#0056ed,#003fe7,#0139e0,#0063f1,#0099f4,#00c4e9,#11e1d0,#3cefb3,#5ef395,#6cf489,#69f48b,#58f29a,#39eeb4,#13e2cf,#00cde4)"></i><i style="background:linear-gradient(90deg,#00d6e0,#0ce0d4,#21e6c5,#30ebbb,#30ebbb,#21e6c5,#06ded8,#00cce5,#00b7f0,#009bf4,#007ff8,#006af3,#006af2,#007ff8,#009ef4,#00beed,#00d7df,#13e2cf,#29e9c0,#3ff0b0,#60f393,#7ff677,#97f760,#a8f54d,#b6f33d,#c0f131,#c4f12d,#c4f12c,#bef133,#aaf44a,#8ef869,#64f48f,#35edb8,#08dfd6,#00c4e9,#00a7f2,#0087f7,#005aef,#042fd4,#005cef,#009cf4,#00b5f0,#00c0eb,#00cee4,#11e1d1,#39eeb5,#57f29b,#64f48f,#68f48c,#67f48d,#60f394,#51f2a1,#3aeeb4,#20e6c6,#04ddd9,#00cfe3,#00c3ea,#00b2f1,#008af7,#013ce3,#0066f2,#00aaf2,#00d3e1,#26e8c2,#5af398,#90f868,#b5f33d,#d0ec1e,#dee50d,#e1e309,#d8e814,#bcf236,#8ff869,#4df1a4,#13e2cf,#00c4e9,#009ff4,#007af6,#0056ed,#003fe6,#013de4,#0069f2,#009ef4,#00c8e7,#18e4cb,#44f0ac,#66f48e,#74f582,#70f585,#5ef395,#3defb2,#17e3cc,#00cfe3)"></i><i style="background:linear-gradient(90deg,#00dadd,#14e2ce,#2be9bf,#3aeeb4,#3cefb3,#2febbb,#18e3cc,#00d9de,#00c4e9,#00aaf2,#008ff6,#007af6,#0072f5,#0081f8,#009df4,#00bded,#00d7df,#15e3cd,#2eebbc,#4af1a7,#6cf489,#8cf86c,#a2f553,#b3f340,#c2f12f,#cbef24,#ceed20,#cfed20,#c9ef26,#b7f23c,#9cf65b,#74f581,#40f0b0,#12e2cf,#00cae6,#00acf2,#008cf6,#0062f0,#0238de,#005eef,#009bf4,#00b8f0,#00c7e8,#00d8de,#23e7c4,#50f2a2,#71f584,#81f676,#85f772,#83f774,#7af67c,#69f48b,#4df1a4,#2deabd,#0ee0d2,#00d4e1,#00c5e9,#00b2f1,#0087f7,#003ee6,#0064f1,#00a8f2,#00d4e1,#29e9c0,#60f393,#96f761,#bdf234,#d7e815,#e5e104,#e8df00,#dfe50b,#c4f12c,#96f761,#55f29d,#18e3cc,#00c6e8,#00a1f3,#007af7,#0055ed,#003ee6,#0041e8,#006ff4,#00a2f3,#00cde4,#20e6c6,#4df1a4,#6ff586,#7bf67b,#76f57f,#63f391,#41f0af,#1ae4ca,#00d1e2)"></i><i style="background:linear-gradient(90deg,#03ddda,#1ce5c9,#33ecb9,#45f0ac,#4af1a7,#3eefb2,#29e9c0,#0ee0d2,#00d1e2,#00b9ef,#009ef4,#0088f7,#007cf7,#0084f7,#009df4,#00bcee,#00d7df,#18e4cb,#34ecb8,#53f29f,#76f57f,#96f761,#acf448,#bef134,#cbee24,#d3ea1a,#d7e915,#d7e815,#d2eb1c,#c2f12f,#a7f54d,#82f774,#4df1a4,#1be5c9,#00cfe3,#00b2f1,#0093f5,#006af3,#003fe7,#005ff0,#009af4,#00baef,#00cde4,#0adfd5,#35edb8,#67f48d,#8af76d,#99f75e,#9df659,#9bf65b,#93f865,#80f676,#61f392,#3beeb4,#18e3cc,#00d8de,#00c7e8,#00b2f1,#0086f7,#0040e8,#0063f1,#00a7f2,#00d4e0,#2beabe,#65f48f,#9cf65a,#c5f02c,#dee50d,#ebdb00,#edd600,#e5e103,#cbee24,#9df659,#5cf397,#1ce5c9,#00c8e7,#00a2f3,#007bf7,#0054ed,#013de5,#0047ea,#0075f5,#00a7f2,#00d2e1,#28e9c0,#57f29b,#77f67e,#83f774,#7cf67a,#68f48c,#44f0ac,#1de5c8,#00d2e1)"></i><i style="background:linear-gradient(90deg,#0adfd5,#24e7c4,#3cefb3,#51f2a1,#58f29a,#4ef1a3,#3aeeb4,#21e6c5,#02ddda,#00c6e8,#00adf2,#0095f5,#0086f7,#0088f7,#009cf4,#00bbee,#00d7df,#1be4ca,#39eeb5,#5cf397,#81f676,#9ff657,#b6f33d,#c7f029,#d3eb1b,#dbe711,#dee50c,#dfe50c,#d9e813,#cbee24,#b2f341,#90f868,#5af399,#24e7c3,#00d4e1,#00b7f0,#0099f4,#0073f5,#0047ea,#0060f0,#0099f4,#00bcee,#00d4e1,#19e4cb,#47f1a9,#7df679,#9ef658,#adf447,#b2f341,#aff444,#a6f54f,#95f763,#75f581,#49f1a8,#21e6c5,#00dcdc,#00c9e6,#00b2f1,#0085f7,#0042e8,#0063f1,#00a6f3,#00d5e0,#2eeabd,#6af48a,#a1f654,#cbef25,#e4e205,#efd300,#f1ce00,#eadc00,#d0ec1d,#a2f553,#61f392,#1fe6c7,#00cae6,#00a2f3,#007af7,#0052ec,#013de5,#004ceb,#007cf7,#00adf2,#00d7df,#30ebbb,#61f392,#80f677,#8af76e,#82f774,#6cf488,#48f1a9,#1fe6c7,#00d4e1)"></i><i style="background:linear-gradient(90deg,#10e1d1,#2be9bf,#45f1ab,#5df396,#66f48e,#5ff394,#4cf1a5,#33ecb9,#15e3cd,#00d3e1,#00bbee,#00a2f3,#008ff6,#008cf6,#009df4,#00bbef,#00d7df,#1de5c8,#3eefb1,#64f48f,#8af76e,#a7f54e,#bef133,#ceed20,#d9e712,#e1e409,#e5e104,#e5e103,#e0e40a,#d3eb1b,#bcf236,#9af75d,#65f48e,#2ceabe,#00d8de,#00bcee,#009ff4,#007bf7,#004eeb,#0060f0,#0099f4,#00bfec,#00dadd,#27e8c1,#5bf397,#92f866,#b0f343,#c0f132,#c5f02b,#c2f12e,#b8f23b,#a5f550,#87f770,#57f29b,#29e9c0,#05ddd9,#00cbe5,#00b2f1,#0085f7,#0042e8,#0062f1,#00a6f3,#00d5e0,#30ebbb,#6ef587,#a6f54e,#d0ec1f,#e9de00,#f2cc00,#f4c700,#edd500,#d5e918,#a7f54e,#65f48f,#21e6c5,#00cae6,#00a2f3,#0079f6,#0050ec,#013de4,#0052ec,#0082f8,#00b3f1,#01dcdb,#39eeb5,#6bf489,#88f76f,#91f867,#88f76f,#71f584,#4bf1a6,#21e6c5,#00d5e0)"></i><i style="background:linear-gradient(90deg,#16e3cd,#32ecba,#4ff2a2,#68f48c,#73f582,#6ff586,#5ff394,#45f1ab,#27e8c1,#06ded8,#00c8e7,#00aff1,#0099f4,#0091f6,#009ef4,#00baef,#00d7df,#1fe6c7,#42f0ae,#6cf489,#91f867,#aef446,#c6f02b,#d4ea18,#dfe40b,#e7e102,#eadc00,#eadc00,#e6e103,#d9e712,#c5f02b,#a3f552,#70f585,#33ecb9,#00dcdc,#00c0ec,#00a5f3,#0083f8,#0053ed,#005ff0,#0099f4,#00c2eb,#06ded8,#34ecb8,#6ef587,#a2f554,#c1f130,#cfec1f,#d4ea19,#d2eb1c,#c8f028,#b4f33e,#96f761,#64f48f,#31ebba,#09dfd6,#00cde5,#00b3f1,#0085f7,#0040e8,#0062f0,#00a7f2,#00d6df,#32ecba,#72f583,#abf449,#d4ea19,#ecd800,#f5c500,#f8c100,#f0cf00,#d9e712,#abf449,#68f48c,#23e7c4,#00cbe6,#00a2f3,#0077f6,#004deb,#013de4,#0057ee,#0088f7,#00b8f0,#09dfd5,#42f0af,#75f580,#91f867,#96f761,#8ef86a,#75f580,#4ef1a3,#24e7c4,#00d6df)"></i><i style="background:linear-gradient(90deg,#1ce5c9,#38eeb5,#59f29a,#73f582,#80f677,#7ef678,#71f584,#59f399,#39eeb5,#18e3cc,#00d4e1,#00bbef,#00a3f3,#0096f5,#009ff4,#00baef,#00d7df,#21e6c6,#47f1aa,#72f583,#97f760,#b4f33f,#cbee24,#dae712,#e4e205,#eadb00,#edd600,#edd600,#eadc00,#dfe40b,#ccee23,#abf449,#7af67c,#3aeeb4,#05ded8,#00c4e9,#00abf2,#008bf6,#0058ee,#005eef,#0099f4,#00c5e9,#0ee0d2,#40f0b0,#7ff677,#b0f343,#ceed20,#dce60f,#e1e308,#dfe50c,#d4ea19,#c2f12e,#a2f553,#70f584,#37edb6,#0de0d3,#00cee4,#00b5f0,#0086f7,#003ee6,#0062f0,#00a8f2,#00d7df,#34ecb8,#76f57f,#aff444,#d8e814,#efd200,#f8bf00,#f9bc00,#f3ca00,#dde60e,#aef446,#6af48a,#23e7c4,#00cae6,#00a1f3,#0075f5,#004aeb,#013de5,#005def,#008ef6,#00bded,#12e2d0,#4cf1a5,#7ff677,#98f75f,#9cf65b,#92f865,#79f67d,#51f2a0,#25e8c2,#00d7df)"></i><i style="background:linear-gradient(90deg,#22e7c5,#3ff0b1,#62f392,#7df679,#8cf86c,#8cf86b,#82f774,#6df488,#4bf1a6,#29e9c0,#05ded9,#00c6e8,#00adf2,#009cf4,#00a1f3,#00bbee,#00d8de,#22e7c5,#4af1a7,#77f57f,#9bf65b,#b9f239,#d0ec1e,#dee50c,#e8df00,#edd600,#f0d000,#f0d000,#edd600,#e5e204,#d2eb1b,#b3f340,#83f774,#40f0b0,#0adfd5,#00c8e7,#00b1f1,#0092f5,#005bef,#005bef,#009af4,#00c7e7,#16e3cd,#4df1a5,#8ef869,#bef134,#dae712,#e8e001,#ebd900,#eadd00,#dfe40b,#ceed21,#aef446,#7bf67b,#3defb2,#10e1d1,#00cfe3,#00b6f0,#0088f7,#013be2,#0062f1,#00aaf2,#00d9de,#36edb7,#79f67c,#b3f33f,#dce60f,#f1cd00,#f9bb00,#fab700,#f6c500,#dfe40b,#b0f344,#6bf489,#23e7c4,#00cae6,#009ff4,#0072f5,#0047ea,#013ee5,#0063f1,#0094f5,#00c3ea,#1ae4ca,#56f29c,#89f76f,#9ef658,#a1f654,#97f761,#7df679,#54f29e,#27e8c1,#00d8de)"></i><i style="background:linear-gradient(90deg,#27e8c1,#46f1ab,#6af48a,#87f770,#96f761,#98f75f,#92f866,#7ef678,#5ef395,#39eeb5,#16e3cd,#00d0e3,#00b7f0,#00a3f3,#00a3f3,#00bcee,#00d8de,#22e7c5,#4cf1a5,#7af67c,#9ef658,#bdf235,#d4ea19,#e2e307,#ebda00,#efd100,#f2cb00,#f3cb00,#efd100,#e9de00,#d8e814,#baf238,#8bf86c,#47f1aa,#0fe1d2,#00cbe5,#00b6f0,#0099f4,#005def,#0058ee,#009cf4,#00cae6,#1de5c8,#59f29a,#9af75d,#c9ef26,#e4e205,#eed400,#f2cc00,#f0d000,#e9df00,#d7e916,#b7f23b,#85f772,#43f0ae,#13e2cf,#00d0e2,#00b8f0,#008af7,#0238de,#0064f1,#00adf2,#00dbdd,#39eeb5,#7df679,#b7f23b,#e0e40b,#f4c900,#fab700,#fbb400,#f7c100,#e1e308,#b1f342,#6bf48a,#22e6c5,#00c8e7,#009df4,#006ff4,#0044e9,#003ee6,#0068f2,#009af4,#00c8e7,#22e7c4,#60f393,#92f866,#a5f551,#a6f54f,#9bf65c,#81f676,#57f29b,#28e9c0,#00d8de)"></i><i style="background:linear-gradient(90deg,#2ceabd,#4df1a4,#73f583,#90f868,#9ef658,#a1f654,#9df659,#8ef869,#6ff585,#4bf1a6,#26e8c2,#00dadd,#00c0ec,#00abf2,#00a7f2,#00bded,#00d8de,#22e7c5,#4df1a5,#7cf67a,#a0f655,#c0f132,#d7e916,#e5e103,#edd700,#f1ce00,#f5c700,#f5c600,#f2cc00,#ebd900,#dce60f,#c1f130,#92f866,#4df1a4,#13e2cf,#00cfe3,#00baef,#009ff4,#005ff0,#0056ee,#009df4,#00cce5,#23e7c4,#63f391,#a3f552,#d2eb1c,#ebda00,#f4c800,#f8c000,#f6c400,#eed400,#dee50c,#c0f131,#8df86b,#48f1a9,#15e3cd,#00d1e2,#00b9f0,#008cf6,#0235db,#0067f2,#00b0f1,#01dcdb,#3cefb3,#81f676,#bbf237,#e3e307,#f5c500,#fbb400,#fcb100,#f8be00,#e3e307,#b1f342,#69f48b,#20e6c6,#00c6e8,#009bf4,#006bf3,#0040e8,#0040e7,#006ef4,#00a0f3,#00cde4,#2ae9bf,#6af48a,#99f75e,#abf44a,#abf449,#9ef658,#84f773,#5af399,#2ae9bf,#00d9de)"></i><i style="background:linear-gradient(90deg,#32ecba,#54f29e,#7af67c,#97f760,#a6f54f,#aaf44a,#a7f54d,#9af75c,#7ff677,#5cf397,#35edb8,#0de0d3,#00c9e6,#00b4f1,#00acf2,#00bfec,#00d9de,#21e6c5,#4cf1a6,#7cf67a,#a1f655,#c1f130,#d9e813,#e8e000,#eed300,#f3ca00,#f6c300,#f7c200,#f4c800,#eed400,#e0e409,#c6f02a,#97f760,#53f29e,#18e3cc,#00d2e2,#00bded,#00a3f3,#0061f0,#0056ee,#009ef4,#00cee4,#28e9c0,#6cf489,#abf449,#d9e713,#f0d100,#f8bf00,#fab800,#f9bc00,#f2cb00,#e5e204,#c7f02a,#93f865,#4df1a5,#17e3cc,#00d1e2,#00b9ef,#008ef6,#0238de,#006bf3,#00b3f1,#04ddd9,#3ff0b1,#85f772,#bef133,#e5e104,#f7c200,#fbb200,#fcaf00,#f9bd00,#e3e206,#b1f343,#67f48d,#1de5c8,#00c4e9,#0098f5,#0067f2,#003ee5,#0042e9,#0074f5,#00a6f3,#00d2e1,#32ecba,#73f582,#a0f656,#b0f343,#b0f343,#a2f553,#88f76f,#5cf397,#2be9be,#00d9de)"></i><i style="background:linear-gradient(90deg,#37edb6,#5bf398,#81f775,#9df659,#adf447,#b2f341,#b0f343,#a4f551,#8ef86a,#6cf488,#43f0ad,#1be4c9,#00d3e1,#00bcee,#00b3f1,#00c1eb,#00d8de,#1fe6c6,#49f1a8,#7af67c,#a0f655,#c2f12f,#dae712,#e9de00,#f0d100,#f4c700,#f8c000,#f8bf00,#f6c500,#f0d000,#e4e205,#caef26,#9cf65b,#59f399,#1de5c8,#00d5e0,#00c0ec,#00a3f3,#0064f1,#0059ee,#009ef4,#00d0e3,#2ceabd,#73f582,#b2f341,#dfe50c,#f3c900,#fab800,#fcb100,#fbb500,#f6c400,#e9de00,#cbef24,#97f760,#50f2a1,#19e4cb,#00d2e2,#00b9f0,#008ef6,#0042e9,#0072f4,#00b5f0,#08ded7,#43f0ad,#89f76e,#c1f12f,#e7e001,#f8c000,#fcb000,#fcae00,#f9bd00,#e3e307,#aff444,#64f48f,#1ae4ca,#00c1eb,#0094f5,#0062f1,#013ce3,#0046ea,#007bf7,#00acf2,#00d8de,#3aeeb4,#7bf67b,#a5f550,#b5f33d,#b5f33e,#a6f54f,#8bf86c,#5ff395,#2ceabe,#00dadd)"></i><i style="background:linear-gradient(90deg,#3cefb3,#62f392,#88f76f,#a3f552,#b3f340,#b9f239,#b8f23a,#adf447,#99f75e,#7bf67b,#53f29f,#29e9c0,#00dcdc,#00c5e9,#00baef,#00c3ea,#00d8de,#1de5c8,#45f0ac,#75f580,#9ef658,#c1f130,#dae712,#e9dd00,#f0cf00,#f5c500,#f8be00,#f9bd00,#f7c200,#f1cd00,#e7e102,#cdee22,#a0f656,#5ef395,#22e6c5,#00d7df,#00c1eb,#00a3f3,#0068f2,#005cef,#009ef4,#00d1e2,#30ebbb,#78f67d,#b7f23b,#e3e306,#f6c300,#fbb200,#fdab00,#fcb000,#f8bf00,#ebd900,#ceed21,#9af75d,#53f29f,#1ae4ca,#00d1e2,#00b7f0,#008ef6,#0051ec,#0079f6,#00b7f0,#0bdfd4,#48f1a9,#8ef869,#c5f02c,#e9de00,#f8be00,#fcb000,#fcae00,#f9be00,#e2e308,#adf447,#61f393,#15e3cd,#00beed,#0090f6,#005def,#013ae1,#004beb,#0081f8,#00b2f1,#02ddda,#41f0af,#83f774,#aaf44a,#baf238,#b9f239,#aaf44b,#8ff869,#61f392,#2deabd,#00dadd)"></i><i style="background:linear-gradient(90deg,#41f0af,#68f48c,#8ef86a,#a8f54d,#b8f23a,#bff132,#bff133,#b5f33e,#a2f553,#88f76f,#62f391,#36edb7,#0ee1d2,#00cee4,#00c1eb,#00c6e8,#00d7df,#19e4ca,#3ff0b1,#6ff585,#9bf65b,#bff132,#d9e813,#e9dd00,#f1ce00,#f6c400,#f9bd00,#f9bb00,#f8bf00,#f3cb00,#e8df00,#cfed1f,#a3f553,#63f391,#26e8c2,#00d9dd,#00c3ea,#00a3f3,#006bf3,#0060f0,#009ef4,#00d1e2,#32ecb9,#7df679,#bbf237,#e6e102,#f8bf00,#fcae00,#fea700,#fdac00,#f9bb00,#edd700,#cfec1f,#9cf65b,#55f29d,#1be4ca,#00d1e2,#00b6f0,#008ef6,#005ef0,#0081f8,#00baef,#0fe1d2,#4df1a4,#93f865,#c8f029,#eadd00,#f9be00,#fcaf00,#fcaf00,#f8c000,#e0e40a,#aaf44a,#5cf397,#11e1d1,#00baef,#008bf6,#0057ee,#0238df,#0050ec,#0087f7,#00b8f0,#0bdfd5,#4af1a7,#8af76d,#aff445,#bef133,#bdf235,#adf447,#92f866,#63f490,#2eeabc,#00dadd)"></i><i style="background:linear-gradient(90deg,#46f1aa,#6ef587,#93f864,#acf448,#bdf235,#c5f02c,#c4f12c,#bcf236,#aaf44a,#93f864,#70f585,#44f0ad,#1ce5c9,#00d7df,#00c8e7,#00c9e6,#00d7df,#16e3cd,#39eeb5,#68f48c,#97f760,#bcf236,#d7e815,#e9de00,#f1ce00,#f6c300,#f9bc00,#f9ba00,#f9be00,#f4c900,#e9dd00,#d1ec1d,#a5f550,#66f48d,#29e9c0,#00dbdc,#00c3ea,#00a2f3,#006cf3,#0063f1,#009ef4,#00d2e2,#34ecb8,#7ff677,#bef134,#e8e000,#f9bd00,#fdab00,#ffa400,#fea900,#fab900,#edd500,#d0ec1e,#9cf65a,#56f29c,#1be4ca,#00d0e3,#00b4f1,#008ef6,#006af2,#0088f7,#00bcee,#12e2cf,#52f2a0,#97f760,#caef26,#eadb00,#f9bd00,#fcaf00,#fcb000,#f7c200,#dee50d,#a7f54e,#57f29c,#0be0d4,#00b6f0,#0086f7,#0052ec,#0237dd,#0055ed,#008df6,#00beed,#13e2cf,#53f29f,#91f867,#b3f340,#c3f12e,#c1f130,#b1f343,#94f763,#65f48f,#2febbc,#00dadd)"></i><i style="background:linear-gradient(90deg,#4bf1a6,#73f582,#97f760,#b0f343,#c1f130,#c9f027,#c9ef27,#c1f12f,#b2f341,#9cf65a,#7df679,#52f2a0,#29e9c0,#06ded8,#00cfe3,#00cce5,#00d6df,#11e1d0,#33ecb9,#5ff394,#91f867,#b8f23b,#d5e918,#e8e000,#f0cf00,#f6c300,#f9bc00,#f9ba00,#f9bd00,#f4c800,#eadc00,#d2eb1c,#a7f54e,#69f48b,#2ceabe,#01dcdb,#00c4e9,#00a1f3,#006df3,#0064f1,#009ef4,#00d2e2,#35ecb8,#81f676,#bff132,#e9de00,#f9bb00,#feaa00,#ffa300,#fea800,#fab800,#eed500,#d0ec1f,#9cf65a,#56f29d,#1ae4ca,#00cee4,#00b2f1,#008ff6,#0073f5,#008ef6,#00bfec,#16e3cd,#57f29b,#9af75c,#ccee23,#ebda00,#f9bd00,#fcb000,#fcb100,#f6c500,#dbe710,#a3f552,#50f2a1,#05ded8,#00b2f1,#0081f8,#004beb,#0236dc,#005aef,#0092f5,#00c3ea,#1be4c9,#5bf397,#96f761,#b7f23b,#c6f02a,#c4f12c,#b4f33f,#97f760,#67f48d,#30ebbb,#00dadd)"></i><i style="background:linear-gradient(90deg,#50f2a2,#78f67e,#9bf65c,#b4f33f,#c5f02c,#ccee23,#cdee22,#c7f02a,#b8f23a,#a4f551,#89f76f,#60f393,#36edb7,#12e2cf,#00d6e0,#00cfe3,#00d5e0,#0ce0d4,#2beabe,#55f29d,#89f76f,#b3f340,#d2eb1b,#e6e103,#efd100,#f6c500,#f9bd00,#f9bb00,#f9bd00,#f4c800,#eadc00,#d2eb1b,#a8f54d,#6bf489,#2eeabc,#02ddda,#00c4e9,#00a1f3,#006cf3,#0063f1,#009df4,#00d2e2,#35ecb8,#81f676,#bff132,#e9de00,#f9bb00,#fea900,#ffa300,#fea800,#fab800,#edd600,#cfed20,#9bf65c,#54f29e,#19e4cb,#00cde4,#00b0f1,#0090f6,#007cf7,#0094f5,#00c2ea,#1ae4ca,#5cf397,#9ef658,#ceed21,#ebd900,#f9bd00,#fcb100,#fbb300,#f4c800,#d8e814,#9ef658,#49f1a8,#00dbdd,#00adf2,#007bf7,#0045e9,#0235db,#0060f0,#0098f5,#00c9e7,#23e7c4,#63f490,#9bf65c,#bbf237,#c9ef26,#c8f028,#b7f23c,#99f75e,#69f48b,#30ebbb,#00dadd)"></i><i style="background:linear-gradient(90deg,#54f29e,#7cf67a,#9ef658,#b7f23c,#c8f028,#cfed20,#cfec1f,#caef25,#bef133,#acf449,#93f865,#6df488,#42f0ae,#1ee5c7,#00dcdc,#00d2e2,#00d4e0,#07ded7,#23e7c4,#4af1a7,#7ff678,#acf448,#ceed20,#e2e307,#eed400,#f4c700,#f8bf00,#f9bc00,#f8be00,#f4c900,#eadc00,#d2eb1b,#a8f54d,#6cf489,#2febbc,#03ddda,#00c5e9,#00a1f3,#006af3,#0062f0,#009df4,#00d2e2,#34ecb8,#80f677,#bef133,#e8df00,#f9bc00,#feaa00,#ffa300,#fea800,#faba00,#ecd800,#cdee22,#99f75e,#52f2a0,#16e3cd,#00cbe5,#00aef1,#0091f6,#0083f8,#009af4,#00c5e9,#1ee5c8,#61f392,#a1f654,#cfec1f,#ecd900,#f9be00,#fbb300,#fbb600,#f2cb00,#d5ea18,#99f75e,#41f0af,#00d7df,#00a7f2,#0075f5,#0040e8,#0235dc,#0066f1,#009ef4,#00cee4,#2ae9bf,#6bf48a,#9ff657,#bef133,#ccee23,#caef25,#b9f239,#9bf65c,#6af48a,#31ebbb,#00dadd)"></i><i style="background:linear-gradient(90deg,#57f29b,#7ff677,#a0f656,#b9f239,#caef26,#d1ec1d,#d2eb1c,#cded22,#c3f12e,#b2f341,#9bf65c,#78f67d,#4ff2a2,#2ae9bf,#09dfd6,#00d4e0,#00d3e1,#01dcdb,#1be4ca,#3eefb1,#73f582,#a5f550,#caef26,#dee50c,#ecd900,#f3cb00,#f7c200,#f8bf00,#f8c000,#f3cb00,#e9de00,#d1eb1c,#a7f54d,#6bf489,#2febbc,#04ddda,#00c5e9,#00a1f3,#0068f2,#005ef0,#009df4,#00d2e2,#33ecb9,#7df679,#bcf235,#e7e001,#f9be00,#fdac00,#ffa500,#fdaa00,#f9bc00,#ebdb00,#caef25,#96f761,#4ef1a3,#14e2ce,#00cae6,#00adf2,#0092f5,#0088f7,#009ff4,#00c8e7,#21e6c5,#65f48f,#a4f551,#d0ec1e,#ecd800,#f8bf00,#fbb400,#fab800,#f1cf00,#d1ec1d,#94f764,#3aeeb4,#00d2e2,#00a2f3,#006ff4,#013ce3,#0237dd,#006cf3,#00a4f3,#00d3e1,#31ebba,#72f583,#a3f552,#c1f12f,#ceed20,#ccee22,#bbf236,#9df659,#6cf489,#31ebbb,#00d9dd)"></i><i style="background:linear-gradient(90deg,#5af399,#82f775,#a2f553,#bbf237,#cbee24,#d2eb1b,#d3ea1a,#cfec1f,#c7f029,#b7f23b,#a2f554,#83f774,#5cf397,#34ecb8,#11e1d0,#00d7df,#00d2e2,#00d9de,#12e2d0,#33ecb9,#67f48d,#9df659,#c3f12e,#d9e713,#e9de00,#f0cf00,#f5c700,#f7c200,#f6c300,#f1ce00,#e7e001,#d0ec1e,#a6f54f,#6af48b,#2eeabc,#03ddda,#00c5e9,#00a1f3,#0064f1,#005aee,#009df4,#00d1e2,#31ebba,#7af67c,#b9f239,#e5e204,#f8c000,#fcaf00,#fea800,#fdae00,#f8bf00,#e9df00,#c7f02a,#92f866,#4af1a7,#11e1d1,#00c8e7,#00acf2,#0093f5,#008df6,#00a4f3,#00cbe5,#25e7c3,#69f48b,#a7f54e,#d1eb1c,#ecd800,#f8c000,#fab600,#f9bb00,#efd300,#cded21,#8ef86a,#33ecb9,#00cde5,#009cf4,#006af2,#0239e0,#0239df,#0073f5,#00abf2,#00d8de,#38edb6,#78f67d,#a7f54d,#c4f12c,#d0ec1d,#ceed20,#bdf234,#9ef658,#6df488,#31ebba,#00d9de)"></i><i style="background:linear-gradient(90deg,#5bf397,#83f773,#a3f552,#bcf235,#ccee22,#d3ea1a,#d5ea18,#d1eb1c,#caef26,#bcf236,#a8f54d,#8cf86c,#67f48d,#3defb2,#18e4cb,#00d9de,#00d1e2,#00d6e0,#08dfd6,#28e8c1,#59f399,#93f864,#bbf237,#d3eb1a,#e4e205,#edd600,#f2cd00,#f4c800,#f4c800,#efd200,#e4e205,#ceed21,#a3f552,#67f48d,#2ceabe,#02dddb,#00c5e9,#00a2f3,#0060f0,#0055ed,#009df4,#00d1e2,#2febbc,#75f580,#b5f33d,#e2e308,#f6c500,#fbb300,#fdac00,#fcb200,#f6c500,#e5e204,#c2f12f,#8df86b,#45f0ac,#0de0d3,#00c6e8,#00abf2,#0095f5,#0092f5,#00a8f2,#00cee4,#28e8c1,#6df488,#a9f44c,#d2eb1b,#ecd900,#f7c100,#fab800,#f9bd00,#edd600,#caef26,#86f771,#2ceabe,#00c8e7,#0097f5,#0064f1,#0238de,#013ce3,#007af6,#00b1f1,#02dddb,#3eefb1,#7ff678,#abf449,#c7f029,#d2eb1b,#d0ec1e,#bff132,#9ff656,#6ef587,#31ebba,#00d9de)"></i><i style="background:linear-gradient(90deg,#5df396,#85f772,#a4f551,#bdf235,#cded22,#d4ea19,#d6e917,#d3eb1b,#ccee23,#c0f132,#adf447,#93f864,#70f584,#47f1aa,#1fe6c7,#00dbdd,#00d0e3,#00d2e1,#00dcdc,#1ce5c9,#4af1a7,#86f771,#b1f342,#ccee24,#dde60e,#e9dd00,#eed400,#f1ce00,#f1ce00,#ecd800,#e0e40a,#caef25,#9ff657,#63f490,#2ae9bf,#01dcdc,#00c4e9,#00a2f3,#005cef,#0050ec,#009ef4,#00d0e3,#2ceabe,#70f585,#b0f343,#dde50d,#f3cb00,#fab900,#fcb200,#fab700,#f3cb00,#e0e40a,#bcf236,#86f771,#3ff0b0,#09dfd6,#00c5e9,#00aaf2,#0096f5,#0096f5,#00acf2,#00d0e3,#2be9bf,#70f585,#abf44a,#d3eb1b,#ebd900,#f7c300,#f9ba00,#f8c000,#ebda00,#c5f02b,#7ff677,#25e7c3,#00c2ea,#0091f6,#0060f0,#0238df,#0041e8,#0082f8,#00b7f0,#0adfd5,#45f1ab,#84f773,#aef446,#c9f027,#d3ea1a,#d1eb1d,#c0f131,#a0f655,#6ff586,#31ebba,#00d8de)"></i><i style="background:linear-gradient(90deg,#5df396,#85f772,#a4f551,#bdf235,#cded22,#d4ea19,#d6e916,#d3ea1a,#cded22,#c2f12e,#b1f343,#98f75e,#79f67d,#50f2a2,#25e7c3,#01dcdb,#00d0e3,#00cfe3,#00d6df,#10e1d1,#3befb3,#77f57f,#a6f54f,#c2f12f,#d5ea18,#e3e307,#e9dd00,#edd600,#eed500,#e8df00,#dbe710,#c5f02b,#9af75c,#5ef395,#27e8c1,#00dbdd,#00c3ea,#00a2f3,#005aef,#004eec,#009ef4,#00cfe3,#29e9c0,#6af48a,#abf44a,#d8e814,#efd200,#f8c000,#fab900,#f9be00,#efd300,#dae712,#b5f33e,#7ff677,#3aeeb4,#05ded8,#00c3ea,#00aaf2,#0098f5,#0099f4,#00b0f1,#00d2e1,#2deabd,#72f583,#acf448,#d3eb1b,#ebda00,#f6c500,#f9bd00,#f6c400,#e9de00,#c1f130,#78f67d,#1ee5c7,#00bded,#008bf6,#005cef,#013be2,#004beb,#0089f7,#00bded,#11e1d0,#4df1a5,#89f76e,#b1f343,#caef26,#d4ea19,#d2eb1c,#c1f130,#a1f655,#6ff586,#31ebba,#00d9de)"></i><i style="background:linear-gradient(90deg,#5df396,#84f773,#a4f551,#bdf235,#cdee22,#d4ea19,#d6e916,#d4ea19,#ceed21,#c4f12c,#b3f340,#9df65a,#7ff677,#57f29c,#2ae9bf,#04ddd9,#00cfe3,#00cce5,#00d1e2,#04ddd9,#2deabd,#65f48f,#99f75e,#b5f33d,#cbee24,#d9e712,#e2e308,#e8e000,#e9de00,#e2e308,#d4ea18,#bef134,#94f763,#58f29a,#24e7c3,#00d9dd,#00c1eb,#00a0f3,#005bef,#0051ec,#009df4,#00cee4,#26e8c2,#65f48f,#a4f551,#d2eb1c,#eadb00,#f3c900,#f7c100,#f5c700,#eadb00,#d3ea1a,#adf446,#77f57f,#35edb7,#01dcdb,#00c2eb,#00aaf2,#009af4,#009df4,#00b3f1,#00d4e0,#2febbc,#74f582,#adf447,#d3eb1b,#eadb00,#f5c700,#f8bf00,#f4c700,#e6e102,#bcf235,#72f583,#18e3cc,#00b9f0,#0086f7,#0059ee,#003fe7,#0058ee,#0092f5,#00c3ea,#19e4cb,#54f29e,#8ef86a,#b3f340,#cbef25,#d4ea18,#d2eb1c,#c1f130,#a1f655,#6ff586,#31ebba,#00d9de)"></i><i style="background:linear-gradient(90deg,#5bf397,#83f774,#a3f553,#bbf236,#ccee23,#d3ea1a,#d6e917,#d4ea1a,#ceed20,#c5f02c,#b5f33e,#a0f656,#84f773,#5cf397,#2eeabc,#07ded7,#00cfe3,#00cae6,#00cce5,#00d8de,#1ee6c7,#51f2a0,#88f76f,#a7f54d,#bef133,#cfed20,#d8e814,#dfe50b,#e1e409,#dae711,#cdee22,#b4f33e,#8cf86c,#52f2a0,#20e6c6,#00d7df,#00bfec,#009df4,#005def,#0056ee,#009cf4,#00cde5,#23e7c4,#5ef395,#9df659,#caef25,#e4e206,#eed400,#f2cc00,#efd200,#e4e205,#ccee23,#a5f550,#6ef587,#30ebbb,#00dadd,#00c0eb,#00aaf2,#009df4,#00a0f3,#00b5f0,#00d6e0,#30ebbb,#75f580,#adf447,#d2eb1b,#eadd00,#f4c900,#f7c200,#f3cb00,#e3e307,#b8f23a,#6cf488,#13e2cf,#00b4f1,#0081f8,#0056ee,#0047ea,#0065f1,#009af4,#00c9e6,#20e6c6,#5af399,#92f866,#b4f33e,#cbee24,#d4ea19,#d1eb1c,#c0f131,#a0f655,#6ff586,#31ebba,#00dadd)"></i><i style="background:linear-gradient(90deg,#59f399,#81f676,#a1f655,#baf238,#cbef25,#d2eb1b,#d5ea18,#d3ea1a,#ceed21,#c5f02c,#b6f33d,#a2f554,#88f76f,#60f393,#32ebba,#09dfd5,#00cfe3,#00c8e7,#00c8e7,#00d0e2,#0ee1d2,#3defb2,#73f582,#98f75f,#aff444,#c1f130,#cdee22,#d5ea18,#d7e815,#d1eb1c,#c3f12d,#aaf44a,#81f775,#4af1a7,#1ce5c9,#00d5e0,#00bded,#009af4,#0061f0,#005cef,#009cf4,#00cbe5,#1fe6c7,#58f29b,#95f763,#c0f131,#dae711,#e8e000,#ecd800,#e9dd00,#dbe710,#c2f12e,#9cf65b,#64f490,#2ae9bf,#00d8de,#00bfec,#00abf2,#009ff4,#00a3f3,#00b8f0,#00d7df,#32ecba,#76f580,#adf447,#d2eb1c,#e9de00,#f2cb00,#f5c500,#f1ce00,#e0e40b,#b4f33f,#67f48d,#0ee0d2,#00aff1,#007cf7,#0056ed,#0051ec,#0073f5,#00a3f3,#00cfe3,#27e8c1,#60f393,#95f763,#b6f33d,#cbee24,#d4ea1a,#d0ec1d,#bff132,#a0f656,#6ef587,#32ecba,#00dadd)"></i><i style="background:linear-gradient(90deg,#57f29c,#7ef678,#9ff657,#b7f23b,#c9f027,#d1ec1d,#d4ea19,#d2eb1c,#cdee22,#c4f12d,#b6f33d,#a3f552,#8bf76d,#64f490,#34ecb8,#0ce0d4,#00d0e3,#00c6e8,#00c4e9,#00c9e6,#00dadd,#2ae9bf,#5df396,#85f772,#9ef658,#b1f343,#bff132,#caef26,#cdee22,#c7f029,#b8f23b,#9ff657,#76f580,#42f0ae,#18e3cc,#00d3e1,#00bbef,#0098f5,#0064f1,#0063f1,#009cf4,#00cae6,#1ce5c9,#51f2a1,#8bf86c,#b5f33e,#d0ec1e,#dee50d,#e4e206,#e0e40b,#d1eb1c,#b7f23b,#92f866,#59f399,#23e7c4,#00d5e0,#00beed,#00abf2,#00a1f3,#00a6f3,#00b9ef,#00d8de,#33ecb9,#76f57f,#acf448,#d1eb1d,#e8e000,#f1ce00,#f4c800,#efd200,#dde60e,#b0f343,#63f391,#0adfd5,#00abf2,#0078f6,#0057ee,#005cef,#0080f8,#00adf2,#00d6e0,#2eeabc,#66f48e,#97f760,#b6f33c,#cbef24,#d2eb1b,#cfec1f,#bef133,#9ff657,#6df587,#32ecba,#00dbdd)"></i><i style="background:linear-gradient(90deg,#53f29e,#7bf67b,#9cf65a,#b5f33e,#c7f02a,#cfec1f,#d2eb1c,#d1ec1d,#cbee24,#c2f12f,#b5f33e,#a3f552,#8df86b,#66f48d,#37edb6,#0de0d3,#00d0e3,#00c5e9,#00c1eb,#00c2ea,#00cee4,#16e3cd,#45f1ab,#6ef586,#8bf86c,#9ff657,#aff445,#bbf237,#c0f131,#baf238,#abf449,#92f865,#69f48b,#3aeeb4,#13e2cf,#00d1e2,#00b8f0,#0096f5,#0067f2,#0068f2,#009df4,#00cae6,#19e4cb,#4af1a7,#80f677,#a9f44c,#c4f12c,#d2eb1b,#d8e814,#d4ea18,#c7f02a,#abf449,#85f772,#4ef1a4,#1ce5c9,#00d2e1,#00bcee,#00acf2,#00a4f3,#00a8f2,#00bbee,#00d9de,#33ecb9,#76f57f,#acf448,#d0ec1e,#e7e101,#f0d000,#f2cb00,#edd500,#dae712,#adf447,#5ff394,#07ded7,#00a8f2,#0074f5,#005aef,#0067f2,#008cf6,#00b6f0,#00dcdc,#35ecb8,#6bf489,#99f75d,#b7f23c,#caef25,#d1ec1d,#cded21,#bcf235,#9df659,#6cf489,#32ecba,#00dcdc)"></i><i style="background:linear-gradient(90deg,#50f2a2,#76f57f,#99f75e,#b2f342,#c4f12d,#cdee22,#d0ec1e,#cfed20,#caef26,#c0f131,#b3f340,#a3f552,#8ef86a,#68f48c,#38eeb5,#0ee0d2,#00d0e3,#00c3ea,#00beed,#00bbee,#00c1eb,#00dcdc,#30ebbb,#57f29c,#73f582,#8bf76d,#9df659,#abf449,#b1f342,#acf447,#9df659,#83f774,#5cf397,#33ecb9,#0ee0d3,#00cee4,#00b6f0,#0094f5,#006bf3,#006ef3,#009ff4,#00c9e6,#16e3cd,#42f0ae,#74f581,#9cf65a,#b6f33d,#c6f02a,#ccee23,#c9f027,#b9f239,#9ff657,#76f57f,#42f0af,#15e2ce,#00cfe3,#00bbef,#00acf2,#00a6f3,#00aaf2,#00bcee,#00d9dd,#34ecb8,#76f57f,#abf449,#cfec1f,#e6e103,#efd200,#f1ce00,#ecd800,#d7e815,#aaf44a,#5cf397,#04ddd9,#00a5f3,#0072f5,#0060f0,#0073f5,#0097f5,#00beed,#09dfd6,#3beeb3,#70f584,#9bf65b,#b7f23c,#c9ef27,#cfec1f,#cbee24,#baf238,#9bf65b,#6af48a,#31ebba,#00dcdc)"></i><i style="background:linear-gradient(90deg,#4bf1a6,#72f583,#95f762,#aef446,#c0f131,#caef25,#cded21,#ccee23,#c7f029,#bdf235,#b1f343,#a2f553,#8ef86a,#6af48b,#3aeeb4,#0fe1d2,#00cfe3,#00c2ea,#00bbee,#00b4f1,#00b3f1,#00cde4,#1ce5c9,#3eefb1,#59f399,#71f584,#89f76e,#9af75c,#a2f554,#9ef658,#8ff869,#72f583,#4ff1a3,#2be9bf,#08dfd6,#00cce5,#00b4f1,#0094f5,#006ef3,#0073f5,#00a1f3,#00cae6,#13e2cf,#3cefb3,#68f48c,#8ff869,#a7f54e,#b6f33c,#bdf235,#b9f239,#abf44a,#92f866,#67f48d,#37edb6,#0de0d3,#00cce5,#00b9ef,#00adf2,#00a8f2,#00acf2,#00bded,#00dadd,#34ecb8,#76f57f,#abf449,#cfed20,#e4e205,#eed500,#f0d000,#ebdb00,#d5e917,#a8f54d,#5af399,#02ddda,#00a3f3,#0072f5,#0067f2,#007ff8,#00a2f3,#00c6e8,#12e2cf,#42f0ae,#75f580,#9cf65a,#b7f23c,#c8f029,#cdee22,#c9f027,#b7f23b,#99f75e,#67f48d,#30ebbb,#00dcdc)"></i><i style="background:linear-gradient(90deg,#46f1aa,#6cf488,#91f867,#aaf44a,#bcf236,#c7f029,#cbef25,#caef26,#c4f12d,#baf239,#aef446,#a0f655,#8ef86a,#6af48a,#3aeeb4,#0fe1d2,#00cfe3,#00c1eb,#00b9ef,#00acf2,#00a2f3,#00bded,#07ded7,#2ae9bf,#3ff0b1,#56f29c,#71f584,#87f770,#92f866,#8ff869,#7df679,#61f392,#41f0af,#23e7c4,#03ddda,#00c9e6,#00b3f1,#0094f5,#0071f4,#0077f6,#00a4f3,#00cae6,#11e1d0,#36edb7,#5cf397,#7ef678,#97f760,#a6f54f,#acf447,#a9f44b,#9cf65b,#81f676,#58f29b,#2ceabe,#04ddd9,#00c8e7,#00b7f0,#00adf2,#00aaf2,#00aef1,#00beed,#00dadd,#35ecb8,#76f57f,#aaf44a,#ceed21,#e3e306,#edd700,#efd300,#e9dd00,#d4ea19,#a6f54f,#58f29a,#02dddb,#00a2f3,#0074f5,#0070f4,#008af7,#00acf2,#00cee4,#1ce5c9,#49f1a8,#79f67c,#9ef659,#b6f33d,#c5f02b,#caef25,#c6f02b,#b4f33f,#96f761,#65f48f,#2febbb,#00dcdc)"></i><i style="background:linear-gradient(90deg,#41f0af,#67f48d,#8bf86c,#a5f550,#b8f23b,#c2f12e,#c7f029,#c6f02a,#c0f132,#b6f33d,#aaf44a,#9ef658,#8cf86b,#6af48a,#3aeeb4,#0fe1d2,#00cee4,#00c1eb,#00b7f0,#00a6f3,#0090f6,#00abf2,#00d3e1,#14e2ce,#28e9c0,#3befb3,#58f29b,#71f584,#7ef678,#7cf67a,#6cf489,#50f2a1,#36edb7,#1be4c9,#00dadd,#00c7e7,#00b2f1,#0095f5,#0074f5,#007cf7,#00a7f2,#00cbe5,#10e1d1,#31ebba,#50f2a2,#6df488,#85f772,#95f762,#9cf65b,#99f75e,#8cf86c,#6ff586,#47f1a9,#20e6c6,#00d8de,#00c3ea,#00b4f1,#00adf2,#00abf2,#00aff1,#00beec,#00dadd,#35edb8,#76f57f,#aaf44a,#cded22,#e2e308,#ecd900,#edd500,#e8df00,#d2eb1b,#a5f550,#58f29a,#02ddda,#00a3f3,#0078f6,#007af7,#0095f5,#00b7f0,#00d6df,#24e7c3,#50f2a1,#7df679,#9ef658,#b5f33e,#c3f12e,#c7f029,#c2f12f,#b1f343,#92f865,#61f392,#2eeabd,#00dcdc)"></i><i style="background:linear-gradient(90deg,#3cefb3,#60f393,#85f772,#a0f655,#b3f340,#bef134,#c3f12e,#c2f12f,#bbf237,#b1f342,#a6f54f,#9bf65b,#8bf76d,#6af48a,#3aeeb4,#0ee1d2,#00cee4,#00c0ec,#00b6f0,#00a0f3,#007bf7,#0097f5,#00c6e8,#00dbdc,#11e1d0,#24e7c3,#3ff0b1,#5bf398,#6af48a,#6af48a,#5af399,#40f0b0,#2ceabe,#14e2ce,#00d7df,#00c5e9,#00b1f1,#0097f5,#0078f6,#0081f8,#00acf2,#00cde4,#0fe1d1,#2deabd,#45f0ac,#5cf397,#70f584,#81f676,#89f76e,#87f770,#78f67e,#5df396,#38eeb5,#14e2ce,#00d2e2,#00beec,#00b1f1,#00acf2,#00adf2,#00b1f1,#00bfec,#00dadd,#35edb7,#77f57f,#aaf44a,#cdee22,#e1e409,#ebdb00,#ecd700,#e7e101,#d1eb1c,#a5f550,#59f399,#05ddd9,#00a4f3,#007ef8,#0085f7,#00a0f3,#00c0ec,#03ddda,#2deabd,#57f29b,#80f676,#9ff657,#b3f340,#c0f132,#c3f12e,#bdf234,#adf447,#8ef86a,#5df396,#2ceabe,#00dcdc)"></i><i style="background:linear-gradient(90deg,#37edb6,#5af399,#7ef678,#9bf65b,#adf447,#b8f23a,#bdf234,#bdf235,#b6f33c,#acf448,#a2f554,#98f75f,#88f76f,#68f48c,#39eeb5,#0ee0d3,#00cde4,#00bfec,#00b4f1,#009bf4,#0061f0,#0083f8,#00b8f0,#00cde4,#00d8de,#0de0d3,#2ae9bf,#44f0ac,#56f29c,#58f29a,#49f1a8,#33ecb9,#22e7c5,#0de0d3,#00d4e0,#00c4e9,#00b1f1,#0099f4,#007df7,#0086f7,#00b0f1,#00cfe3,#10e1d1,#29e9c0,#3beeb3,#4bf1a6,#5cf397,#6cf489,#74f581,#72f583,#64f48f,#4af1a7,#2ae9bf,#07ded7,#00cbe6,#00b9ef,#00adf2,#00abf2,#00aef1,#00b2f1,#00c0ec,#00dbdd,#36edb7,#77f67e,#aaf44a,#ccee23,#e0e40a,#eadc00,#ebd900,#e6e103,#d1ec1d,#a5f550,#5bf398,#08dfd6,#00a8f2,#0087f7,#0091f6,#00abf2,#00c9e7,#0ee0d2,#35ecb8,#5df396,#83f773,#9ff657,#b1f342,#bcf236,#bef133,#b8f23a,#a8f54d,#88f76f,#58f29a,#29e9c0,#00dbdc)"></i><i style="background:linear-gradient(90deg,#32ebba,#53f29f,#77f57f,#95f762,#a7f54d,#b2f341,#b8f23b,#b7f23b,#b1f342,#a7f54d,#9df659,#94f763,#84f772,#66f48e,#38edb6,#0de0d3,#00cce5,#00beed,#00b2f1,#0096f5,#0047ea,#006df3,#00a9f2,#00beec,#00c9e6,#00d5e0,#16e3cd,#32ecba,#43f0ae,#47f1aa,#3beeb3,#28e8c1,#19e4cb,#07ded7,#00d2e2,#00c3ea,#00b2f1,#009cf4,#0083f8,#008cf6,#00b5f0,#00d2e2,#11e1d0,#26e8c2,#33ecb9,#3cefb3,#48f1a9,#57f29c,#5ff394,#5ef395,#51f2a1,#39eeb5,#1ce5c9,#00d8de,#00c3ea,#00b2f1,#00a9f2,#00a9f2,#00aef1,#00b2f1,#00c1eb,#00dbdc,#37edb6,#78f67d,#aaf44a,#ccee23,#dfe50b,#e9de00,#ebdb00,#e5e204,#d0ec1e,#a5f550,#5ef395,#0ee0d3,#00aff1,#0091f6,#009df4,#00b7f0,#00d2e2,#19e4cb,#3cefb3,#63f490,#86f771,#9ef658,#aff445,#b8f23a,#b9f239,#b2f341,#a2f553,#82f775,#53f29f,#26e8c2,#00dadd)"></i><i style="background:linear-gradient(90deg,#2ceabe,#4bf1a6,#6ff586,#8ef86a,#a1f655,#acf448,#b2f342,#b1f342,#abf449,#a2f553,#99f75e,#90f868,#80f676,#62f391,#36edb7,#0ce0d4,#00cce5,#00bded,#00b0f1,#0091f6,#0238de,#0057ee,#0099f4,#00aff1,#00baef,#00c8e7,#03ddda,#21e6c5,#33ecb9,#38eeb5,#30ebbb,#1fe6c7,#12e2d0,#01dcdb,#00cfe3,#00c2ea,#00b3f1,#009ff4,#008af7,#0094f5,#00baef,#00d5e0,#13e2cf,#25e8c2,#2deabd,#30ebbb,#37edb6,#42f0ae,#4bf1a6,#4af1a7,#3eefb1,#2ae9bf,#0de0d3,#00cfe3,#00bbef,#00abf2,#00a4f3,#00a7f2,#00adf2,#00b3f1,#00c2eb,#01dcdb,#39eeb5,#7af67c,#abf449,#ccee23,#dee50c,#e8df00,#eadc00,#e4e205,#d0ec1e,#a6f54f,#62f391,#14e2ce,#00b8f0,#009ef4,#00aaf2,#00c1eb,#00dadd,#23e7c4,#44f0ac,#68f48c,#88f76f,#9df659,#acf448,#b3f33f,#b3f340,#acf448,#9cf65b,#7af67b,#4df1a4,#23e7c4,#00d9de)"></i><i style="background:linear-gradient(90deg,#27e8c1,#44f0ad,#67f48d,#86f771,#9af75d,#a5f550,#abf449,#abf449,#a5f550,#9df65a,#94f764,#8af76d,#7bf67b,#5ef395,#33ecb9,#0adfd5,#00cce5,#00bcee,#00adf2,#008bf6,#0331d6,#0044e9,#0089f7,#009ff4,#00abf2,#00bbee,#00d2e1,#11e1d0,#25e8c2,#2ceabd,#26e8c2,#18e3cc,#0ce0d4,#00dadd,#00cee4,#00c1eb,#00b4f1,#00a3f3,#0091f6,#009cf4,#00beec,#00d9de,#17e3cc,#25e8c2,#28e8c1,#25e8c2,#29e9c0,#32ecb9,#3aeeb4,#39eeb5,#2febbc,#1ae4ca,#00dadd,#00c5e9,#00b1f1,#00a3f3,#009ef4,#00a4f3,#00abf2,#00b3f1,#00c3ea,#03ddda,#3beeb4,#7cf67a,#acf448,#ccee23,#dee50d,#e8e000,#e9dd00,#e3e306,#d0ec1e,#a8f54d,#67f48c,#1de5c8,#00c2ea,#00adf2,#00b7f0,#00cbe5,#0adfd5,#2ceabe,#4cf1a5,#6df488,#89f76e,#9cf65a,#a8f54c,#aef445,#adf447,#a5f551,#94f763,#72f583,#47f1aa,#20e6c6,#00d8de)"></i><i style="background:linear-gradient(90deg,#21e6c5,#3defb2,#5ef395,#7cf67a,#92f865,#9ef658,#a4f552,#a4f551,#9ff657,#97f760,#8ef86a,#84f773,#75f581,#58f29a,#31ebbb,#09dfd6,#00cce5,#00bcee,#00abf2,#0087f7,#0331d6,#0237dd,#0077f6,#0090f6,#009df4,#00aef1,#00c7e7,#02dddb,#18e4cb,#22e7c5,#1ee5c7,#12e2d0,#07ded7,#00d8de,#00cde5,#00c1eb,#00b5f0,#00a6f3,#009af4,#00a5f3,#00c4ea,#02dcdb,#1ce5c9,#27e8c1,#24e7c3,#1ce5c9,#1be4c9,#24e7c3,#2ceabe,#2beabe,#21e6c6,#0be0d4,#00d0e3,#00bbee,#00a7f2,#009af4,#0098f5,#00a0f3,#00a9f2,#00b3f1,#00c4e9,#06ded8,#3defb2,#7ef679,#adf447,#ccee23,#dee50d,#e8e001,#e9de00,#e3e307,#d0ec1e,#aaf44a,#6ef587,#26e8c2,#00cde4,#00bbee,#00c3ea,#00d5e0,#16e3cd,#35edb8,#54f29e,#71f584,#8af76e,#9af75c,#a5f550,#a9f44b,#a6f54e,#9df659,#8bf76d,#69f48b,#40f0b0,#1ce5c9,#00d7df)"></i><i style="background:linear-gradient(90deg,#1be5c9,#36edb7,#56f29d,#73f582,#89f76e,#96f761,#9cf65a,#9cf65a,#98f75f,#91f867,#88f770,#7ef679,#6ef587,#52f29f,#2eeabd,#08ded7,#00cbe5,#00bbee,#00a9f2,#0084f7,#0236dc,#042ed2,#0066f1,#0082f8,#0090f6,#00a2f3,#00bded,#00d5e0,#0de0d3,#18e4cb,#17e3cc,#0ee0d2,#03ddda,#00d6e0,#00cce5,#00c2eb,#00b7f0,#00abf2,#00a2f3,#00aef1,#00c9e6,#09dfd6,#22e7c4,#2be9be,#23e7c4,#14e2cf,#0fe1d2,#17e3cc,#1fe6c6,#1fe6c7,#13e2cf,#00dadd,#00c6e8,#00b0f1,#009cf4,#0090f6,#0091f6,#009bf4,#00a7f2,#00b3f1,#00c6e8,#09dfd6,#3ff0b1,#80f676,#aef445,#cdee22,#dee50d,#e7e001,#e9de00,#e2e307,#d0ec1d,#adf447,#75f581,#30ebbb,#00d8de,#00c9e7,#00cfe3,#05ddd9,#21e6c5,#3defb2,#5af398,#74f581,#8af76e,#98f75f,#a0f655,#a3f552,#9ff657,#95f763,#80f677,#60f394,#3aeeb4,#18e3cc,#00d5e0)"></i><i style="background:linear-gradient(90deg,#15e3cd,#30ebbb,#4cf1a5,#69f48b,#7ef678,#8df86b,#94f764,#95f763,#91f867,#89f76e,#80f676,#76f57f,#67f48d,#4cf1a5,#2ae9bf,#06ded8,#00cbe5,#00bbee,#00a8f2,#0084f7,#013de5,#052bcf,#0057ee,#0074f5,#0084f7,#0098f5,#00b5f0,#00cde4,#03ddda,#10e1d1,#12e2d0,#0bdfd5,#01dcdc,#00d4e0,#00cbe5,#00c2ea,#00b9ef,#00b0f1,#00aaf2,#00b6f0,#00cfe3,#12e1d0,#2ae9bf,#31ebbb,#23e7c4,#0ee0d3,#05ddd9,#0ce0d4,#15e3ce,#14e2ce,#07ded7,#00d1e2,#00bded,#00a5f3,#0090f6,#0086f7,#008af7,#0097f5,#00a5f3,#00b3f1,#00c7e8,#0be0d4,#42f0ae,#83f774,#b0f344,#ceed21,#dee50c,#e7e001,#e9de00,#e3e307,#d1eb1c,#b0f343,#7df679,#3beeb3,#0ce0d4,#00d6df,#00dbdd,#13e2cf,#2deabd,#46f1aa,#60f393,#77f57f,#89f76e,#96f762,#9cf65a,#9df659,#98f75f,#8bf86c,#74f581,#56f29d,#34ecb8,#13e2cf,#00d4e1)"></i><i style="background:linear-gradient(90deg,#0fe1d2,#29e9c0,#43f0ae,#5ef395,#74f582,#82f775,#8af76d,#8cf86c,#88f76f,#81f676,#79f67d,#6ff586,#5ff394,#46f1ab,#27e8c1,#05ddd9,#00cbe5,#00bbee,#00a8f2,#0086f7,#0049ea,#042fd4,#004deb,#0068f2,#007af6,#0090f6,#00adf2,#00c7e8,#00d8de,#0adfd5,#0ee0d3,#09dfd6,#00dbdd,#00d3e1,#00cbe6,#00c3ea,#00bbee,#00b5f0,#00b2f1,#00beed,#00d6e0,#1be4c9,#34ecb8,#38eeb5,#27e8c1,#0adfd5,#00dadd,#04ddd9,#0de0d3,#0be0d4,#00dadd,#00c9e7,#00b3f1,#009af4,#0085f7,#007af6,#0082f8,#0092f5,#00a3f3,#00b3f1,#00c8e7,#0ee0d2,#45f0ac,#85f772,#b2f341,#cfed20,#dfe50c,#e8e001,#e9de00,#e3e206,#d3eb1a,#b4f33f,#85f772,#48f1a9,#1de5c8,#0adfd5,#10e1d1,#22e6c5,#37edb6,#4ff2a2,#66f48e,#79f67d,#88f76f,#93f865,#97f760,#96f761,#90f868,#80f677,#69f48b,#4bf1a6,#2eeabd,#0fe1d2,#00d2e1)"></i><i style="background:linear-gradient(90deg,#08dfd6,#22e7c5,#3aeeb4,#53f29f,#68f48c,#77f57f,#7ff678,#81f676,#7ef678,#78f67e,#70f584,#67f48d,#58f29b,#3ff0b1,#23e7c4,#03ddda,#00cbe5,#00bcee,#00aaf2,#008af7,#0057ee,#0238df,#0049ea,#0062f0,#0073f5,#008af7,#00a8f2,#00c2ea,#00d4e0,#05ddd9,#0bdfd5,#07ded7,#00dadd,#00d2e1,#00cae6,#00c4ea,#00beed,#00baef,#00baef,#00c6e8,#01dcdc,#26e8c2,#3ff0b1,#43f0ad,#2ceabd,#09dfd6,#00d6df,#00dbdc,#08ded7,#05ded9,#00d4e0,#00c1eb,#00a9f2,#0090f6,#0077f6,#006cf3,#0079f6,#008ef6,#00a0f3,#00b2f1,#00c9e7,#10e1d1,#48f1a9,#88f76f,#b4f33f,#d0ec1e,#dfe40b,#e8e000,#e9dd00,#e4e205,#d5ea18,#b8f23a,#8ff869,#57f29c,#2deabd,#1de5c8,#21e6c5,#2febbc,#41f0af,#57f29b,#6af48a,#7af67c,#87f770,#8ff869,#92f866,#8ff868,#86f771,#74f581,#5df396,#41f0af,#27e8c1,#0be0d4,#00d1e2)"></i><i style="background:linear-gradient(90deg,#02dddb,#1ae4ca,#32ecba,#48f1a8,#5df396,#6bf48a,#73f582,#75f580,#73f582,#6ef586,#68f48c,#5ff395,#50f2a2,#3aeeb4,#20e6c6,#02dcdb,#00cce5,#00bded,#00acf2,#0090f6,#0065f1,#0045e9,#004ceb,#0061f0,#0071f4,#0087f7,#00a5f3,#00bfec,#00d1e2,#01dcdb,#09dfd6,#07ded7,#00d9dd,#00d1e2,#00cae6,#00c4e9,#00c0eb,#00bfec,#00c1eb,#00cde4,#0ce0d4,#31ebba,#4df1a4,#52f2a0,#35edb8,#0be0d4,#00d5e0,#00dadd,#06ded8,#01dcdb,#00d0e3,#00bbee,#00a0f3,#0086f7,#006af2,#005ef0,#0070f4,#0089f7,#009ef4,#00b2f1,#00c9e6,#12e2cf,#4bf1a6,#8cf86c,#b6f33c,#d1eb1c,#e0e40a,#e9df00,#eadc00,#e6e103,#d7e815,#bdf234,#97f760,#65f48f,#3defb2,#2febbc,#31ebba,#3befb3,#4cf1a5,#5ff394,#6ef587,#7af67c,#84f772,#8af76e,#8bf76d,#87f771,#7bf67b,#69f48b,#51f2a1,#39eeb5,#22e6c5,#07ded7,#00d0e3)"></i><i style="background:linear-gradient(90deg,#00d9de,#13e2cf,#2ae9bf,#3eefb2,#51f2a1,#5ff395,#67f48d,#6af48a,#68f48c,#64f48f,#5ff394,#56f29c,#48f1a9,#34ecb8,#1ce5c9,#00dcdc,#00cce5,#00bfec,#00b0f1,#0097f5,#0075f5,#0057ee,#0055ed,#0066f2,#0073f5,#0087f7,#00a5f3,#00beed,#00cfe3,#00dbdc,#08dfd6,#07ded7,#00d9de,#00d0e2,#00cae6,#00c5e9,#00c3ea,#00c3ea,#00c8e7,#00d5e0,#17e3cc,#3defb2,#5ef395,#63f490,#41f0af,#11e1d0,#00d7df,#00dcdc,#07ded7,#00dcdc,#00cde4,#00b6f0,#0099f4,#007df7,#005cef,#0050ec,#0067f2,#0085f7,#009cf4,#00b1f1,#00cae6,#14e2ce,#4ef1a4,#8ff869,#b9f239,#d3eb1a,#e2e308,#e9dd00,#ebda00,#e8e000,#dae712,#c3f12e,#9ff657,#74f582,#4ff2a2,#3ff0b1,#40f0b0,#49f1a8,#56f29c,#65f48e,#70f584,#7af67c,#81f775,#84f773,#83f774,#7df679,#71f584,#5df395,#45f1ab,#31ebba,#1ce5c9,#04ddd9,#00cfe3)"></i><i style="background:linear-gradient(90deg,#00d4e0,#0bdfd4,#21e6c5,#34ecb8,#44f0ac,#52f2a0,#5af398,#5df396,#5df396,#5af399,#55f29d,#4df1a5,#3ff0b0,#2febbc,#18e4cb,#00dbdc,#00cde5,#00c2eb,#00b4f1,#009ff4,#0084f7,#006af3,#0064f1,#0071f4,#007bf7,#008af7,#00a7f2,#00bfec,#00cfe3,#00dbdd,#08dfd6,#07ded7,#00d8de,#00cfe3,#00c9e6,#00c6e8,#00c5e9,#00c8e7,#00cee4,#01dcdc,#23e7c4,#4cf1a5,#70f585,#76f57f,#52f29f,#1be4c9,#00dcdc,#07ded7,#0ce0d4,#01dcdb,#00cce5,#00b2f1,#0093f5,#0075f5,#0050ec,#0041e8,#005ef0,#0080f8,#0099f4,#00b0f1,#00cae6,#16e3cd,#50f2a1,#92f866,#bcf236,#d5ea18,#e3e206,#eadc00,#ecd800,#e9dd00,#dde50e,#c9f027,#a7f54d,#82f775,#61f392,#52f2a0,#52f2a0,#56f29c,#5ff394,#6bf48a,#72f583,#78f67d,#7df679,#7ef678,#7bf67b,#74f581,#67f48d,#52f2a0,#3beeb4,#2ae9bf,#17e3cc,#01dcdb,#00cfe3)"></i><i style="background:linear-gradient(90deg,#00d0e3,#03ddda,#19e4cb,#2be9be,#39eeb5,#45f0ac,#4df1a4,#51f2a1,#51f2a1,#4ff1a3,#4bf1a6,#43f0ad,#39eeb5,#2ae9bf,#15e3ce,#00dbdd,#00cee4,#00c4e9,#00baef,#00a9f2,#0093f5,#007ef8,#0076f5,#0081f8,#0087f7,#0092f5,#00acf2,#00c2eb,#00d0e3,#00dbdc,#08dfd6,#07ded7,#00d7df,#00cee4,#00c9e7,#00c6e8,#00c8e7,#00cde5,#00d4e0,#0ce0d4,#2febbc,#5df396,#83f774,#8bf86c,#67f48c,#2ae9bf,#0ce0d4,#13e2cf,#13e2cf,#05ded8,#00cce5,#00b0f1,#0090f6,#0070f4,#0047ea,#0238de,#0057ee,#007bf7,#0097f5,#00aff1,#00cae6,#17e3cc,#53f29f,#94f763,#bef133,#d7e916,#e5e204,#ebd900,#eed500,#ebda00,#e1e409,#ceed21,#b0f343,#90f868,#72f583,#63f490,#62f392,#61f392,#67f48d,#6ff586,#73f583,#76f57f,#79f67d,#77f57f,#72f583,#6af48a,#5cf397,#48f1a9,#32ecb9,#23e7c4,#13e2cf,#00dbdc,#00cfe3)"></i><i style="background:linear-gradient(90deg,#00cce5,#00d9de,#10e1d1,#22e7c5,#2febbb,#39eeb5,#40f0b0,#43f0ad,#44f0ad,#43f0ad,#40f0b0,#3beeb4,#32ecba,#24e7c3,#12e2d0,#00dadd,#00cfe3,#00c8e7,#00c0ec,#00b3f1,#00a1f3,#0090f6,#0089f7,#0091f6,#0095f5,#009df4,#00b4f1,#00c6e8,#00d2e1,#01dcdb,#09dfd6,#07ded7,#00d6df,#00cce5,#00c8e7,#00c6e8,#00cae6,#00d1e2,#00dadd,#17e3cc,#3befb3,#6ff586,#95f762,#9ef658,#7ff677,#3eefb2,#1fe6c7,#22e7c5,#1ee5c7,#0ce0d4,#00cee4,#00b1f1,#008ff6,#006ff4,#0044e9,#0331d7,#0050ec,#0076f6,#0094f5,#00adf2,#00cae6,#18e4cb,#55f29d,#96f761,#c1f130,#d9e813,#e7e001,#edd700,#efd100,#edd600,#e5e204,#d3ea1a,#b9f239,#9bf65c,#82f775,#73f582,#70f585,#6bf489,#6df587,#72f583,#72f583,#72f583,#73f582,#6ff586,#69f48b,#60f393,#52f2a0,#3eefb1,#2be9bf,#1ee5c8,#10e1d1,#00dbdd,#00cfe3)"></i><i style="background:linear-gradient(90deg,#00c7e8,#00d4e0,#08ded7,#18e4cb,#25e8c3,#2eeabc,#34ecb8,#37edb6,#38eeb5,#39eeb5,#37edb6,#33ecb9,#2be9bf,#1fe6c7,#0fe1d2,#00dadd,#00d1e2,#00cce5,#00c6e8,#00bded,#00b0f1,#00a3f3,#009cf4,#00a2f3,#00a5f3,#00abf2,#00beed,#00cce5,#00d6df,#04ddd9,#0adfd5,#06ded8,#00d4e0,#00cae6,#00c6e8,#00c6e8,#00cce5,#00d5e0,#06ded8,#23e7c4,#4bf1a6,#81f775,#a5f550,#b0f344,#98f75f,#5cf397,#38edb6,#35edb7,#2ceabe,#15e2ce,#00d2e2,#00b3f1,#0091f6,#0071f4,#0046ea,#0331d6,#004ceb,#0071f4,#0091f6,#00acf2,#00cae6,#19e4cb,#57f29b,#98f75f,#c3f12e,#dbe711,#e9de00,#eed300,#f1ce00,#efd100,#e9de00,#d9e813,#c2f12f,#a6f54f,#90f868,#81f775,#7bf67b,#74f581,#72f583,#73f582,#70f585,#6ef587,#6cf488,#66f48e,#5ff394,#56f29c,#48f1a9,#37edb7,#25e7c3,#19e4cb,#0de0d3,#00dadd,#00d0e3)"></i><i style="background:linear-gradient(90deg,#00c3ea,#00cfe3,#00dcdc,#0fe1d2,#1be4ca,#23e7c4,#29e9c0,#2beabe,#2deabd,#2eeabc,#2eeabd,#2ae9bf,#24e7c4,#19e4cb,#0ce0d4,#00dadd,#00d4e1,#00d0e2,#00cde4,#00c7e8,#00beed,#00b5f0,#00b1f1,#00b5f0,#00b7f0,#00bbee,#00c9e7,#00d4e0,#00dcdc,#08dfd6,#0bdfd4,#04ddd9,#00d2e2,#00c7e8,#00c3ea,#00c6e8,#00cde4,#00d8de,#0fe1d2,#2eeabd,#5cf397,#93f865,#b5f33d,#c2f12f,#aef446,#80f677,#5af399,#4ef1a4,#3beeb3,#1fe6c6,#00d7df,#00b8f0,#0096f5,#0076f6,#004eec,#0237dd,#0049ea,#006cf3,#008df6,#00aaf2,#00cae6,#1ae4ca,#59f29a,#99f75d,#c5f02c,#dde60e,#ebdb00,#f0cf00,#f3c900,#f2cc00,#ecd800,#dfe50b,#caef25,#b0f343,#9cf65b,#8ef86a,#85f772,#7bf67b,#75f580,#72f583,#6df488,#68f48c,#64f490,#5df396,#55f29d,#4bf1a6,#3eefb1,#30ebbb,#20e6c6,#16e3cd,#0ce0d4,#00dbdd,#00d2e2)"></i><i style="background:linear-gradient(90deg,#00beec,#00cbe6,#00d6df,#06ded8,#11e1d1,#18e3cc,#1ce5c8,#1fe6c7,#21e6c5,#23e7c4,#24e7c3,#21e6c5,#1ce5c9,#14e2ce,#09dfd6,#00dbdd,#00d6df,#00d5e0,#00d4e0,#00d1e2,#00cce5,#00c6e8,#00c4e9,#00c7e8,#00c8e7,#00cbe5,#00d4e0,#01dcdc,#08dfd6,#0de0d3,#0ce0d4,#02dcdb,#00cfe3,#00c3ea,#00c0eb,#00c5e9,#00cee4,#00dbdd,#16e3cd,#39eeb5,#6df488,#a2f553,#c6f02b,#d2eb1c,#c6f02b,#a1f654,#80f676,#6bf489,#4ff2a2,#2ceabe,#02dddb,#00beed,#009df4,#007ef8,#0059ee,#003fe6,#0048ea,#0067f2,#0089f7,#00a8f2,#00c9e6,#1be4c9,#5af398,#9bf65c,#c6f02a,#dfe50b,#ecd700,#f3cb00,#f6c400,#f5c700,#efd100,#e5e104,#d2eb1c,#bbf237,#a6f54f,#98f75f,#8df86b,#80f676,#77f57f,#70f584,#68f48c,#61f392,#5bf398,#52f29f,#4af1a7,#41f0af,#37edb6,#2ae9bf,#1ce5c8,#14e2ce,#0ce0d4,#00dcdc,#00d4e0)"></i><i style="background:linear-gradient(90deg,#00baef,#00c6e8,#00d1e2,#00dadd,#06ded8,#0ce0d3,#10e1d1,#13e2cf,#15e3cd,#18e4cb,#1ae4ca,#19e4cb,#15e3ce,#0fe1d2,#07ded7,#00dcdc,#00d9de,#00dadd,#00dbdc,#00dbdd,#00d9de,#00d6df,#00d6df,#00d8de,#00d9de,#00dbdd,#07ded7,#0fe1d2,#13e2cf,#13e2cf,#0ee0d3,#00dbdc,#00cce5,#00bfec,#00bded,#00c4ea,#00d0e3,#02ddda,#1ee5c8,#44f0ad,#7df679,#b1f342,#d4ea1a,#e1e309,#d9e712,#c0f131,#a3f552,#8af76d,#66f48e,#39eeb5,#0de0d3,#00c5e9,#00a5f3,#0087f7,#0066f1,#004beb,#0049ea,#0061f0,#0084f7,#00a6f3,#00c9e7,#1ce5c9,#5bf397,#9cf65a,#c8f028,#e1e309,#eed400,#f5c600,#f8bf00,#f8c100,#f3cb00,#eadc00,#d9e813,#c5f02c,#aff444,#a0f656,#93f865,#84f773,#78f67e,#6ef587,#63f391,#59f399,#51f2a1,#47f1a9,#3ff0b1,#38eeb5,#2febbb,#24e7c3,#1ae4ca,#13e2cf,#0ce0d4,#02ddda,#00d7df)"></i><i style="background:linear-gradient(90deg,#00b6f0,#00c1eb,#00cbe5,#00d4e1,#00d9dd,#01dcdb,#03ddda,#06ded8,#09dfd6,#0de0d3,#0fe1d2,#0fe1d1,#0ee0d3,#0adfd5,#04ddd9,#00dcdc,#00dcdc,#05ddd9,#0adfd5,#0ee0d3,#0fe1d2,#10e1d1,#11e1d0,#14e2ce,#15e3cd,#17e3cc,#1be4ca,#1ee5c8,#1de5c8,#19e4cb,#0fe1d2,#00dadd,#00c8e7,#00baef,#00b9f0,#00c2ea,#00d0e2,#06ded8,#25e7c3,#50f2a1,#8ef86a,#c0f131,#e1e409,#edd500,#ebda00,#dbe711,#c3f12e,#a5f550,#7df679,#49f1a8,#18e4cb,#00cce5,#00adf2,#0090f6,#0073f5,#0057ee,#004beb,#005cef,#007ff8,#00a3f3,#00c8e7,#1ce5c9,#5cf396,#9df659,#c9ef27,#e3e206,#f0d000,#f7c100,#f9bb00,#f9bb00,#f6c400,#eed400,#e0e40a,#cdee22,#b8f23a,#a7f54e,#98f75f,#87f770,#77f67e,#6af48a,#5df396,#51f2a1,#46f1aa,#3defb2,#36edb7,#30ebbb,#29e9c0,#20e6c6,#18e3cc,#13e2cf,#0ee0d3,#06ded8,#00dadd)"></i><i style="background:linear-gradient(90deg,#00b1f1,#00bcee,#00c6e8,#00cee4,#00d3e1,#00d5e0,#00d6df,#00d7df,#00d9dd,#01dcdc,#04ddd9,#06ded8,#06ded8,#04ddd9,#02ddda,#02dddb,#05ded8,#0de0d3,#15e3cd,#1de5c8,#22e7c4,#27e8c1,#2be9bf,#2eeabd,#2eebbc,#2eeabc,#2eeabc,#2deabd,#28e8c1,#1fe6c7,#11e1d1,#00d8de,#00c4e9,#00b4f1,#00b4f1,#00c1eb,#00d1e2,#0adfd5,#2be9be,#5cf397,#9bf65c,#cded22,#ecd800,#f7c200,#f7c100,#efd300,#dce60f,#bef133,#94f763,#5bf398,#24e7c3,#00d4e1,#00b6f0,#0099f4,#0080f8,#0063f1,#004eec,#0056ee,#007af6,#00a1f3,#00c8e7,#1ce5c9,#5df396,#9ef658,#caef25,#e6e103,#f2cc00,#f9bd00,#fbb600,#fab600,#f9bd00,#f2cc00,#e7e102,#d4ea19,#c1f131,#adf447,#9bf65b,#89f76e,#76f57f,#65f48e,#55f29d,#47f1aa,#3cefb3,#33ecb9,#2ceabe,#27e8c1,#22e7c5,#1ce5c9,#16e3cd,#13e2cf,#10e1d1,#09dfd5,#01dcdb)"></i><i style="background:linear-gradient(90deg,#00adf2,#00b8f0,#00c1eb,#00c8e7,#00cce5,#00cee4,#00cde4,#00cee4,#00d1e2,#00d5e0,#00d8de,#00dadd,#00dbdd,#00dcdc,#00dcdc,#03ddda,#0adfd5,#14e2ce,#21e6c6,#2ceabe,#35edb8,#3defb2,#44f0ac,#47f1a9,#48f1a9,#46f1aa,#41f0af,#3cefb3,#33ecb9,#25e8c2,#13e2cf,#00d6df,#00c0eb,#00aef1,#00aef1,#00bfec,#00d2e2,#0ee0d3,#31ebba,#67f48c,#a7f54e,#d9e813,#f4c800,#fcb100,#fdac00,#fab700,#efd100,#d4ea19,#a7f54e,#6df488,#30ebbb,#00dbdc,#00beed,#00a3f3,#008af7,#006ff4,#0051ec,#0050ec,#0074f5,#009ef4,#00c7e8,#1ce5c8,#5ef395,#9ff657,#ccee23,#e8e000,#f4c700,#fab800,#fcb100,#fcb100,#fab700,#f6c500,#ebda00,#dae711,#c8f028,#b3f340,#9ff657,#8af76e,#74f581,#60f393,#4df1a4,#3eefb2,#33ecb9,#29e9c0,#23e7c4,#1fe6c7,#1ce5c9,#18e4cb,#15e3cd,#15e2ce,#13e2cf,#0ee0d2,#07ded7)"></i><i style="background:linear-gradient(90deg,#00a8f2,#00b3f1,#00bcee,#00c3ea,#00c6e8,#00c6e8,#00c5e9,#00c5e9,#00c8e7,#00cde5,#00d0e2,#00d4e1,#00d6df,#00d8de,#00dbdd,#04ddd9,#0ee1d2,#1ce5c9,#2beabe,#3aeeb4,#48f1a9,#56f29c,#61f393,#64f490,#64f48f,#61f392,#58f29a,#4cf1a5,#3eefb2,#2ceabe,#14e2ce,#00d5e0,#00bcee,#00a7f2,#00a8f2,#00bded,#00d3e1,#11e1d0,#37edb7,#72f583,#b2f341,#e4e205,#fab900,#ffa100,#ff9b00,#ffa000,#fab700,#e7e101,#baf238,#7ff678,#3defb2,#0bdfd5,#00c6e8,#00abf2,#0094f5,#0079f6,#0054ed,#004aea,#006ff4,#009cf4,#00c6e8,#1ce5c8,#5ff394,#a0f656,#cded21,#e9dd00,#f6c300,#fbb400,#fdac00,#fdab00,#fcb100,#f9be00,#efd200,#e0e40a,#cded21,#b8f23b,#a1f655,#8af76e,#71f584,#5af399,#45f0ac,#35edb8,#29e9c0,#1fe6c7,#19e4cb,#17e3cc,#16e3cd,#15e3ce,#15e3cd,#17e3cc,#16e3cd,#13e2cf,#0de0d3)"></i><i style="background:linear-gradient(90deg,#00a4f3,#00aef1,#00b7f0,#00bded,#00c0ec,#00bfec,#00bcee,#00bcee,#00c0ec,#00c4e9,#00c9e7,#00cde4,#00d1e2,#00d5e0,#00d9de,#05ded8,#13e2cf,#23e7c4,#36edb7,#49f1a8,#5df396,#6ff586,#7bf67b,#7ff677,#7ff677,#7af67b,#6ef587,#5ef395,#4af1a7,#32ecba,#16e3cd,#00d4e1,#00b7f0,#009ff4,#00a2f3,#00bcee,#00d4e1,#14e2ce,#3cefb3,#7cf67a,#bdf235,#ecd800,#fdac00,#ff9500,#ff8b00,#ff8e00,#ffa000,#f3cb00,#cbef25,#90f868,#4af1a7,#16e3cd,#00cde4,#00b3f1,#009df4,#0082f8,#0056ed,#0042e9,#0069f2,#0099f4,#00c6e8,#1ce5c8,#5ff394,#a1f655,#cfed20,#ebda00,#f8bf00,#fcb000,#fea700,#ffa600,#fdab00,#fab700,#f3cb00,#e6e103,#d2eb1b,#bcf236,#a3f552,#89f76e,#6df488,#53f29f,#3cefb2,#2ceabe,#1fe6c7,#14e2ce,#0fe1d2,#0fe1d2,#10e1d1,#12e2cf,#15e3cd,#19e4cb,#1be4ca,#18e3cc,#13e2cf)"></i><i style="background:linear-gradient(90deg,#00a0f3,#00aaf2,#00b2f1,#00b8f0,#00baef,#00b8f0,#00b3f1,#00b2f1,#00b7f0,#00bcee,#00c2eb,#00c7e8,#00cce5,#00d2e2,#00d8de,#06ded8,#17e3cc,#2ae9bf,#3ff0b0,#59f399,#70f585,#85f772,#93f864,#96f761,#96f761,#92f866,#82f775,#6ef587,#56f29c,#38edb6,#18e4cb,#00d2e1,#00b3f1,#0097f5,#009cf4,#00baef,#00d4e0,#17e3cd,#40f0b0,#85f772,#c7f029,#f2cc00,#ffa000,#ff8900,#fd7900,#fd7900,#ff8f00,#fab700,#d8e814,#9df659,#58f29a,#20e6c6,#00d3e1,#00baef,#00a4f3,#0089f7,#0057ee,#013ce3,#0063f1,#0097f5,#00c5e9,#1ce5c9,#60f394,#a2f554,#d0ec1e,#ecd700,#f9bc00,#fdac00,#ffa300,#ffa100,#ffa600,#fcb200,#f6c400,#eadc00,#d6e916,#c0f132,#a4f551,#88f76f,#69f48b,#4cf1a5,#35edb8,#23e7c4,#15e2ce,#0adfd5,#05ded8,#07ded7,#0be0d4,#10e1d1,#16e3cd,#1ce5c9,#1fe6c7,#1de5c8,#19e4cb)"></i><i style="background:linear-gradient(90deg,#009cf4,#00a5f3,#00aef1,#00b3f1,#00b4f1,#00b0f1,#00aaf2,#00a8f2,#00adf2,#00b3f1,#00baef,#00c1eb,#00c7e7,#00cee4,#00d6df,#07ded7,#1be4ca,#30ebbb,#4bf1a6,#68f48c,#82f775,#98f75f,#a5f54f,#a8f54c,#a8f54d,#a3f552,#93f864,#7df679,#61f392,#3defb2,#1ae4ca,#00d1e2,#00aef1,#008ef6,#0095f5,#00b8f0,#00d5e0,#19e4cb,#46f1ab,#8df86a,#cfed1f,#f8c000,#ff9600,#fd7a00,#fa6800,#f96500,#fd7d00,#fea600,#e5e204,#aaf44a,#65f48e,#2ae9bf,#00d9de,#00bfec,#00aaf2,#008ff6,#0058ee,#0235db,#005ef0,#0095f5,#00c4e9,#1ce5c9,#60f393,#a3f553,#d1eb1c,#eed500,#fab900,#fea700,#ff9f00,#ff9d00,#ffa100,#fdac00,#f9be00,#edd700,#dae711,#c2f12e,#a5f550,#86f771,#64f490,#45f0ac,#2deabd,#1ae4ca,#0bdfd5,#00dcdc,#00d9dd,#00dcdc,#07ded7,#0fe1d2,#17e3cc,#1fe6c7,#24e7c4,#23e7c4,#1fe6c7)"></i><i style="background:linear-gradient(90deg,#0098f5,#00a1f3,#00a9f2,#00aef1,#00aef1,#00a9f2,#00a2f3,#009ff4,#00a4f3,#00aaf2,#00b2f1,#00baef,#00c3ea,#00cbe5,#00d5e0,#07ded7,#1ee5c8,#36edb7,#55f29d,#76f580,#92f866,#a7f54e,#b6f33d,#b8f23a,#b8f23a,#b2f341,#a1f655,#8af76d,#6cf489,#42f0ae,#1be5c9,#00d0e3,#00a9f2,#0086f7,#008ff6,#00b6f0,#00d5e0,#1be4c9,#4bf1a6,#94f763,#d6e917,#fbb600,#ff8d00,#fb6c00,#f65800,#f55300,#fa6b00,#ff9900,#edd500,#b6f33d,#71f584,#32ecba,#02ddda,#00c3ea,#00aef1,#0092f5,#0058ee,#042fd3,#0059ee,#0093f5,#00c3ea,#1ce5c8,#61f392,#a4f552,#d3eb1b,#efd200,#fbb600,#ffa400,#ff9b00,#ff9900,#ff9d00,#fea700,#fab900,#efd200,#dde50d,#c5f02c,#a5f550,#83f773,#5ff394,#3eefb1,#25e8c3,#10e1d1,#01dcdc,#00d5e0,#00d4e1,#00d8de,#03ddda,#0de0d3,#18e4cb,#22e7c4,#28e9c0,#29e9c0,#25e8c2)"></i><i style="background:linear-gradient(90deg,#0095f5,#009ef4,#00a5f3,#00a9f2,#00a8f2,#00a2f3,#009af4,#0096f5,#009af4,#00a1f3,#00aaf2,#00b3f1,#00beed,#00c8e7,#00d3e1,#07ded7,#20e6c6,#3cefb3,#5ff394,#82f774,#9ef658,#b4f33f,#c4f12d,#c7f029,#c6f02a,#c0f132,#adf447,#95f762,#74f581,#48f1a9,#1ce5c8,#00cee4,#00a5f3,#0080f8,#008af7,#00b4f1,#00d5e0,#1de5c8,#50f2a2,#9bf65c,#dde60e,#fdad00,#fe8300,#f95f00,#f14900,#ef4300,#f85b00,#ff8e00,#f4c800,#c1f130,#7cf67a,#38eeb5,#07ded7,#00c5e9,#00b0f1,#0093f5,#0057ee,#0529cd,#0055ed,#0091f6,#00c3ea,#1de5c8,#62f392,#a5f550,#d4ea19,#f0d000,#fbb300,#ffa100,#ff9800,#ff9500,#ff9900,#ffa200,#fbb400,#f1cd00,#e0e40a,#c6f02a,#a5f550,#81f676,#5af399,#38edb6,#1de5c8,#07ded7,#00d6df,#00cfe3,#00cee4,#00d4e1,#00dcdc,#0ce0d3,#1ae4ca,#26e8c2,#2deabd,#2eeabc,#2ceabe)"></i><i style="background:linear-gradient(90deg,#0092f5,#009af4,#00a1f3,#00a4f3,#00a2f3,#009cf4,#0093f5,#008ef6,#0091f6,#0098f5,#00a1f3,#00acf2,#00b9f0,#00c5e9,#00d1e2,#07ded7,#22e7c5,#40f0b0,#68f48c,#8df86a,#a8f54c,#c0f132,#ceed21,#d1eb1c,#d1ec1d,#caef25,#b7f23b,#9ef659,#7cf67a,#4cf1a5,#1de5c8,#00cde4,#00a1f3,#007af6,#0086f7,#00b2f1,#00d4e0,#1fe6c7,#54f29e,#a0f655,#e3e307,#ffa500,#fd7900,#f55400,#ec3c00,#ea3600,#f34e00,#fe8300,#f9bc00,#cbef25,#86f771,#3eefb1,#0bdfd4,#00c7e8,#00b1f1,#0091f6,#0055ed,#0626c9,#0051ec,#0090f6,#00c3ea,#1de5c8,#63f490,#a6f54f,#d5e917,#f1ce00,#fcb000,#ff9e00,#ff9400,#ff9200,#ff9500,#ff9f00,#fcb100,#f3ca00,#e2e308,#c7f029,#a4f551,#7df679,#54f29e,#31ebba,#15e3cd,#00dbdd,#00d0e3,#00c9e6,#00c9e6,#00d0e3,#00dadd,#0ce0d4,#1ce5c9,#29e9c0,#32ecba,#34ecb8,#32ecba)"></i><i style="background:linear-gradient(90deg,#008ff6,#0097f5,#009df4,#009ff4,#009df4,#0096f5,#008df6,#0087f7,#0089f7,#008ff6,#0098f5,#00a5f3,#00b3f1,#00c1eb,#00cfe3,#06ded8,#24e7c4,#45f1ab,#70f585,#96f761,#b2f341,#c9ef26,#d6e916,#dae711,#dae712,#d2eb1b,#c0f131,#a5f550,#82f775,#50f2a2,#1ee5c7,#00cbe5,#009ef4,#0075f5,#0082f8,#00aff1,#00d4e1,#20e6c6,#59f29a,#a6f54f,#e8e000,#ff9f00,#fb7000,#f14900,#e83100,#e52c00,#ef4300,#fc7800,#fcb200,#d2eb1c,#8ff869,#43f0ae,#0de0d3,#00c7e7,#00aff1,#008ef6,#0053ed,#0723c6,#004eec,#008ef6,#00c2ea,#1de5c8,#64f48f,#a7f54e,#d6e916,#f2cc00,#fdae00,#ff9b00,#ff9100,#ff8e00,#ff9200,#ff9c00,#fdad00,#f5c700,#e3e206,#c7f029,#a3f552,#7af67c,#4ef1a3,#2be9be,#0ee0d3,#00d5e0,#00cae6,#00c4e9,#00c5e9,#00cde4,#00d8de,#0ce0d4,#1ee5c8,#2deabd,#37edb6,#3aeeb4,#38eeb5)"></i><i style="background:linear-gradient(90deg,#008df6,#0094f5,#009af4,#009bf4,#0099f4,#0091f6,#0087f7,#0080f8,#0080f8,#0086f7,#0090f6,#009ef4,#00aef1,#00beed,#00cde4,#05ddd9,#25e7c3,#4af1a7,#77f57f,#9df659,#baf238,#d0ec1d,#dde50d,#e2e307,#e1e308,#d9e712,#c8f028,#abf449,#87f770,#53f29f,#1fe6c7,#00cae6,#009bf4,#0070f4,#007ff8,#00adf2,#00d3e1,#22e7c5,#5df396,#abf44a,#ebd900,#ff9900,#fa6800,#ee4000,#e22800,#de2300,#eb3900,#fb6e00,#fea900,#d9e813,#95f762,#47f1aa,#0ee0d2,#00c7e8,#00adf2,#008af7,#004fec,#0721c4,#004ceb,#008df6,#00c2ea,#1ee5c7,#66f48e,#a8f54c,#d7e815,#f3ca00,#fdab00,#ff9900,#ff8e00,#ff8b00,#ff8f00,#ff9900,#fdaa00,#f6c400,#e4e205,#c7f029,#a1f654,#76f57f,#49f1a8,#25e8c3,#06ded8,#00d0e3,#00c4e9,#00bfec,#00c1eb,#00cae6,#00d7df,#0ce0d4,#20e6c6,#31ebbb,#3befb3,#40f0b0,#3eefb1)"></i><i style="background:linear-gradient(90deg,#008af7,#0092f5,#0096f5,#0098f5,#0094f5,#008cf6,#0082f8,#0079f6,#0077f6,#007cf7,#0087f7,#0097f5,#00a9f2,#00bbee,#00cce5,#03ddda,#25e8c2,#4df1a4,#7df679,#a4f551,#c2f12f,#d7e916,#e4e205,#e9df00,#e8e000,#dfe40b,#ceed21,#b1f342,#8cf86c,#56f29c,#1fe6c6,#00c9e7,#0098f5,#006cf3,#007cf7,#00acf2,#00d3e1,#23e7c4,#60f393,#aff445,#eed300,#ff9400,#f96000,#eb3700,#dc2000,#d91b00,#e83000,#f96500,#ffa200,#dee50c,#9af75c,#4af1a7,#0ee0d2,#00c6e8,#00aaf2,#0086f7,#004beb,#0721c4,#004beb,#008df6,#00c2ea,#1fe6c7,#67f48d,#aaf44b,#d8e813,#f4c800,#fea900,#ff9600,#ff8b00,#ff8800,#ff8c00,#ff9600,#fea700,#f7c200,#e5e204,#c7f02a,#a0f656,#72f583,#43f0ad,#1fe6c7,#00dbdc,#00cae6,#00bfec,#00baef,#00bded,#00c8e7,#00d6e0,#0de0d3,#22e7c5,#34ecb8,#40f0b0,#46f1aa,#45f1ab)"></i><i style="background:linear-gradient(90deg,#0088f7,#008ff6,#0093f5,#0094f5,#0090f6,#0088f7,#007df7,#0073f5,#006ef4,#0071f4,#007ef8,#0090f6,#00a4f3,#00b8f0,#00cae6,#02dddb,#26e8c2,#51f2a1,#83f774,#a9f44b,#c8f028,#dce60f,#e9de00,#ecd700,#ecd900,#e5e204,#d3eb1b,#b6f33d,#90f868,#59f29a,#20e6c6,#00c8e7,#0096f5,#0068f2,#0079f6,#00acf2,#00d4e1,#25e8c2,#63f490,#b3f340,#f1ce00,#ff9000,#f75900,#e83000,#d71900,#d41500,#e32a00,#f85e00,#ff9d00,#e3e206,#9ff657,#4cf1a5,#0ee0d2,#00c5e9,#00a6f3,#0081f8,#0046ea,#0721c4,#004aea,#008df6,#00c3ea,#20e6c6,#69f48b,#abf449,#d9e712,#f4c700,#fea800,#ff9400,#ff8900,#fe8500,#ff8a00,#ff9400,#ffa500,#f8c000,#e5e204,#c6f02a,#9ef658,#6ef586,#3eefb2,#19e4cb,#00d7df,#00c5e9,#00baef,#00b5f0,#00baef,#00c6e8,#00d5e0,#0de0d3,#25e7c3,#38edb6,#46f1ab,#4df1a4,#4df1a5)"></i><i style="background:linear-gradient(90deg,#0086f7,#008df6,#0091f6,#0091f6,#008df6,#0084f7,#0079f6,#006df3,#0066f1,#0066f2,#0074f5,#008af7,#00a0f3,#00b5f0,#00c8e7,#00dcdc,#26e8c2,#53f29f,#88f770,#aff445,#cdee22,#e1e409,#ecd800,#f0d100,#efd200,#e9de00,#d7e916,#baf239,#92f865,#5bf398,#21e6c5,#00c8e7,#0094f5,#0064f1,#0077f6,#00acf2,#00d5e0,#27e8c1,#66f48e,#b6f33d,#f3c900,#ff8c00,#f55300,#e32a00,#d21300,#cf0f00,#df2400,#f65700,#ff9800,#e8e000,#a2f553,#4ef1a3,#0de0d3,#00c3ea,#00a3f3,#007cf7,#0041e8,#0721c4,#004aea,#008df6,#00c3ea,#21e6c5,#6bf48a,#acf448,#dae711,#f5c600,#fea600,#ff9300,#ff8600,#fe8100,#ff8700,#ff9200,#ffa400,#f8bf00,#e5e204,#c5f02c,#9cf65b,#6af48a,#39eeb5,#13e2cf,#00d2e1,#00c1eb,#00b5f0,#00b1f1,#00b7f0,#00c4e9,#00d4e0,#0ee0d2,#27e8c1,#3cefb3,#4cf1a5,#54f29e,#54f29e)"></i><i style="background:linear-gradient(90deg,#0084f7,#008bf6,#008ef6,#008ef6,#0089f7,#0081f8,#0075f5,#0068f2,#005def,#005bef,#006af2,#0083f8,#009cf4,#00b2f1,#00c6e8,#00dbdd,#25e8c2,#56f29c,#8cf86c,#b3f340,#d1ec1d,#e5e204,#eed300,#f2cc00,#f2cd00,#ecd900,#dae711,#bdf235,#95f763,#5df396,#22e7c5,#00c8e7,#0093f5,#0061f0,#0075f5,#00adf2,#00d6df,#29e9c0,#69f48b,#b9f239,#f6c500,#ff8800,#f34e00,#e02500,#ce0f00,#ca0d00,#db1f00,#f45100,#ff9400,#eadc00,#a6f54f,#50f2a2,#0ce0d4,#00c1eb,#00a0f3,#0077f6,#013ee5,#0721c4,#004beb,#008ef6,#00c4e9,#23e7c4,#6cf488,#adf447,#dbe610,#f6c500,#ffa500,#ff9100,#fe8300,#fe7f00,#fe8500,#ff9100,#ffa200,#f8bf00,#e5e204,#c4f12d,#9af75d,#66f48d,#35edb7,#0ee0d2,#00cee4,#00bcee,#00b0f1,#00adf2,#00b4f1,#00c3ea,#00d4e0,#0fe1d1,#29e9c0,#3ff0b1,#51f2a0,#5af399,#5af399)"></i><i style="background:linear-gradient(90deg,#0082f8,#0089f7,#008cf6,#008bf6,#0086f7,#007ef7,#0072f4,#0064f1,#0056ed,#0050ec,#0060f0,#007df7,#0098f5,#00b0f1,#00c5e9,#00dadd,#25e8c3,#58f29b,#90f868,#b7f23b,#d4ea19,#e8e000,#f1cf00,#f4c700,#f4c800,#eed400,#dde50d,#c0f131,#96f761,#5ef395,#23e7c4,#00c9e7,#0093f5,#005ef0,#0075f5,#00aff1,#00d9de,#2ceabe,#6bf489,#bbf236,#f8c100,#fe8300,#f14900,#dd2100,#ca0d00,#c50b00,#d81a00,#f24d00,#ff9100,#ecd800,#a9f44c,#51f2a1,#0bdfd4,#00c0ec,#009df4,#0073f5,#013be2,#0721c4,#004deb,#008ff6,#00c5e9,#24e7c3,#6ef586,#aef445,#dce60f,#f6c400,#ffa400,#ff9000,#fe8100,#fd7c00,#fe8300,#ff8f00,#ffa100,#f8be00,#e4e205,#c2f12f,#98f75f,#63f391,#31ebba,#09dfd5,#00cbe6,#00b8f0,#00acf2,#00aaf2,#00b2f1,#00c2eb,#00d4e0,#11e1d1,#2ceabe,#43f0ad,#57f29c,#60f394,#60f393)"></i><i style="background:linear-gradient(90deg,#0081f8,#0087f7,#0089f7,#0088f7,#0083f8,#007bf7,#006ff4,#0060f0,#004eec,#0045e9,#0056ed,#0077f6,#0094f5,#00adf2,#00c3ea,#00d9de,#25e8c3,#5af399,#93f865,#bbf237,#d7e815,#eadc00,#f2cb00,#f6c300,#f6c400,#f0d100,#e0e40a,#c2f12f,#98f75f,#60f393,#25e7c3,#00cae6,#0094f5,#005def,#0076f5,#00b2f1,#00dbdc,#2febbc,#6ef587,#bef133,#f9be00,#fe8000,#f04500,#da1e00,#c70c00,#c20900,#d51700,#f14900,#ff8f00,#eed500,#acf448,#53f29f,#0adfd5,#00bfec,#009bf4,#0070f4,#013ae1,#0721c4,#0050ec,#0091f6,#00c6e8,#26e8c2,#70f584,#b0f344,#dce60f,#f6c300,#ffa300,#ff8f00,#fe7f00,#fd7a00,#fe8100,#ff8e00,#ffa100,#f9be00,#e4e205,#c1f130,#96f761,#5ff394,#2eeabd,#05ded8,#00c7e7,#00b5f0,#00a9f2,#00a7f2,#00b0f1,#00c1eb,#00d4e0,#12e2d0,#2eeabc,#47f1aa,#5bf397,#65f48f,#66f48e)"></i><i style="background:linear-gradient(90deg,#007ff8,#0085f7,#0087f7,#0086f7,#0081f8,#0078f6,#006cf3,#005cef,#0047ea,#013ce4,#004ceb,#0071f4,#0091f6,#00acf2,#00c2ea,#00d9de,#25e7c3,#5cf397,#95f762,#bdf234,#d9e712,#ebd900,#f4c800,#f8c000,#f7c100,#f1ce00,#e2e308,#c4f12c,#99f75d,#62f391,#26e8c2,#00cce5,#0096f5,#005ef0,#0078f6,#00b6f0,#04ddd9,#33ecb9,#71f583,#c1f130,#f9ba00,#fd7c00,#ef4200,#d91b00,#c50a00,#bf0800,#d31400,#f04600,#ff8c00,#efd100,#aff445,#55f29d,#0bdfd5,#00bfec,#0099f4,#006ef3,#013ae1,#0721c4,#0055ed,#0093f5,#00c8e7,#28e9c0,#72f583,#b1f343,#dde60e,#f7c300,#ffa300,#ff8e00,#fd7e00,#fd7900,#fe8000,#ff8e00,#ffa000,#f9be00,#e3e206,#c0f132,#94f763,#5cf397,#2be9bf,#02dddb,#00c5e9,#00b2f1,#00a7f2,#00a5f3,#00aff1,#00c1eb,#00d5e0,#14e2cf,#30ebbb,#4bf1a6,#60f393,#6af48a,#6bf489)"></i><i style="background:linear-gradient(90deg,#007cf7,#0083f8,#0084f7,#0083f8,#007ef7,#0075f5,#0069f2,#0059ee,#0041e8,#0235db,#0044e9,#006cf3,#008ff6,#00aaf2,#00c2eb,#00d8de,#25e8c3,#5df396,#97f760,#c0f131,#dbe610,#ecd700,#f5c600,#f8be00,#f8bf00,#f2cb00,#e3e206,#c6f02a,#9bf65c,#64f490,#28e9c0,#00cee4,#009af4,#0063f1,#007df7,#00b9ef,#09dfd6,#37edb6,#76f57f,#c4f12c,#fab700,#fd7900,#ee4000,#d71a00,#c30a00,#be0700,#d21200,#ef4400,#ff8a00,#f1ce00,#b2f341,#58f29b,#0ce0d4,#00bfec,#0099f4,#006ef3,#013de4,#0529cd,#005bef,#0096f5,#00cae6,#2be9bf,#74f581,#b2f341,#dde50d,#f7c300,#ffa200,#ff8d00,#fd7d00,#fc7800,#fe7f00,#ff8d00,#ffa000,#f9be00,#e3e307,#bff133,#93f865,#5af399,#28e9c0,#00dbdc,#00c3ea,#00aff1,#00a5f3,#00a4f3,#00aef1,#00c1eb,#00d5e0,#15e3ce,#32ecb9,#4ef1a3,#64f490,#6ef587,#70f585)"></i><i style="background:linear-gradient(90deg,#007af6,#0081f8,#0082f8,#0081f8,#007bf7,#0072f4,#0066f2,#0055ed,#013de4,#042fd4,#003ee6,#0069f2,#008df6,#00a9f2,#00c1eb,#00d9de,#26e8c2,#5ff394,#99f75e,#c2f12f,#dde60e,#edd500,#f6c500,#f9bd00,#f8be00,#f3ca00,#e5e204,#c7f029,#9cf65a,#66f48e,#2be9bf,#00d0e3,#009ef4,#006df3,#0084f7,#00bded,#0de0d3,#3cefb3,#7cf67a,#c8f028,#fbb500,#fc7700,#ed3e00,#d61900,#c30900,#bd0700,#d11200,#ef4200,#ff8900,#f3cb00,#b6f33d,#5cf397,#0fe1d2,#00c0eb,#009af4,#0070f4,#0042e9,#0334da,#0062f0,#009af4,#00cce5,#2deabd,#77f57f,#b3f340,#dee50d,#f7c200,#ffa200,#ff8d00,#fd7d00,#fc7800,#fe7f00,#ff8d00,#ffa000,#f8be00,#e2e307,#bef134,#92f866,#58f29a,#27e8c1,#00dadd,#00c2eb,#00aef1,#00a4f3,#00a3f3,#00aef1,#00c1eb,#00d6df,#17e3cc,#34ecb8,#51f2a1,#67f48d,#71f583,#74f581)"></i><i style="background:linear-gradient(90deg,#0077f6,#007ef7,#007ff8,#007ef7,#0078f6,#006ff4,#0063f1,#0051ec,#013ae0,#052bcf,#013ce3,#0066f2,#008bf6,#00a8f2,#00c1eb,#00d9de,#28e8c1,#61f392,#9af75c,#c3f12e,#dee50d,#eed400,#f6c400,#f9bc00,#f9bd00,#f3c900,#e5e103,#c9f027,#9ef658,#68f48c,#2deabd,#00d3e1,#00a3f3,#0079f6,#008df6,#00c1eb,#12e2d0,#41f0af,#83f773,#ccee22,#fcb200,#fc7500,#ed3d00,#d61800,#c30a00,#be0700,#d21200,#ee4200,#ff8700,#f4c700,#baf238,#62f392,#13e2cf,#00c2ea,#009cf4,#0074f5,#004beb,#003fe7,#006af3,#009ff4,#00cfe3,#30ebbb,#79f67d,#b4f33f,#dee50c,#f7c200,#ffa200,#ff8e00,#fd7d00,#fd7900,#fe8000,#ff8e00,#ffa100,#f8bf00,#e2e308,#bdf234,#91f867,#57f29b,#26e8c2,#00dadd,#00c1eb,#00aef1,#00a4f3,#00a4f3,#00aff1,#00c2ea,#00d7df,#18e4cb,#36edb7,#53f29f,#69f48b,#74f581,#77f67e)"></i><i style="background:linear-gradient(90deg,#0074f5,#007bf7,#007df7,#007bf7,#0075f5,#006cf3,#0060f0,#004eeb,#0237dd,#0528cc,#013be2,#0065f1,#008af7,#00a8f2,#00c1eb,#00dadd,#2ae9bf,#63f490,#9bf65b,#c4f12d,#dee50c,#eed300,#f7c300,#f9bc00,#f9bd00,#f3c900,#e6e103,#c9ef26,#a0f656,#6bf489,#30ebbb,#00d5e0,#00aaf2,#0086f7,#0097f5,#00c5e9,#17e3cc,#49f1a8,#8cf86c,#d1ec1d,#fcaf00,#fc7400,#ed3d00,#d71900,#c40a00,#c00800,#d31400,#ee4200,#fe8500,#f6c300,#bef133,#68f48c,#19e4cb,#00c5e9,#00a0f3,#0079f6,#0055ed,#004deb,#0074f5,#00a4f3,#00d2e2,#33ecb9,#7bf67b,#b5f33e,#dfe50c,#f7c200,#ffa300,#ff8e00,#fe7f00,#fd7a00,#fe8100,#ff8f00,#ffa100,#f8bf00,#e2e308,#bdf235,#90f868,#57f29b,#26e8c2,#00d9dd,#00c1eb,#00aef1,#00a4f3,#00a5f3,#00b0f1,#00c3ea,#00d8de,#1ae4ca,#37edb6,#55f29d,#6bf489,#77f57f,#7af67c)"></i><i style="background:linear-gradient(90deg,#0071f4,#0078f6,#007af6,#0078f6,#0072f4,#0069f2,#005def,#004aeb,#0335db,#0528cc,#013be2,#0064f1,#008af7,#00a8f2,#00c2ea,#00dcdc,#2ceabe,#65f48f,#9cf65a,#c5f02c,#dfe50b,#eed300,#f7c300,#f9bc00,#f9bd00,#f3ca00,#e6e103,#caef25,#a2f554,#6ef587,#33ecb9,#00d9de,#00b1f1,#0093f5,#00a1f3,#00cae6,#1ce5c9,#50f2a1,#94f764,#d6e917,#fdac00,#fc7300,#ed3d00,#d71a00,#c60b00,#c30900,#d41600,#ef4200,#fe8300,#f8c000,#c3f12e,#6ff585,#1fe6c7,#00c9e7,#00a4f3,#0080f8,#0060f0,#005bef,#007df7,#00a9f2,#00d5e0,#36edb7,#7df679,#b6f33d,#dfe50b,#f7c200,#ffa300,#ff8f00,#fe8000,#fd7c00,#fe8200,#ff9000,#ffa200,#f8c000,#e1e308,#bdf235,#90f868,#57f29b,#26e8c2,#00dadd,#00c2eb,#00aff1,#00a6f3,#00a7f2,#00b2f1,#00c5e9,#00d9de,#1be5c9,#39eeb5,#56f29c,#6cf488,#78f67d,#7cf67a)"></i><i style="background:linear-gradient(90deg,#006ef4,#0075f5,#0076f6,#0074f5,#006ff4,#0066f1,#005aee,#0047ea,#0334da,#052ace,#013de4,#0065f1,#008af7,#00a8f2,#00c3ea,#02dddb,#2febbc,#67f48d,#9df659,#c5f02c,#dfe50b,#eed300,#f6c300,#f9bc00,#f8be00,#f3ca00,#e6e103,#cbef25,#a3f552,#71f584,#36edb7,#00dcdc,#00b8f0,#009ef4,#00abf2,#00cfe3,#22e7c5,#59f29a,#9bf65c,#dae711,#fea900,#fc7200,#ed3e00,#d81b00,#c80c00,#c60b00,#d61900,#ef4300,#fe8100,#f9bd00,#c7f029,#77f57f,#26e8c2,#00cde4,#00a9f2,#0087f7,#006bf3,#0068f2,#0086f7,#00aff1,#00d9de,#39eeb5,#7ff677,#b7f23c,#dfe40b,#f7c200,#ffa400,#ff9000,#fe8200,#fd7e00,#fe8400,#ff9100,#ffa300,#f8c100,#e1e309,#bdf235,#90f868,#58f29b,#27e8c1,#00dadd,#00c3ea,#00b1f1,#00a8f2,#00a9f2,#00b4f1,#00c6e8,#00dadd,#1de5c8,#3aeeb4,#57f29b,#6df587,#7af67c,#7ef678)"></i><i style="background:linear-gradient(90deg,#006bf3,#0071f4,#0073f5,#0071f4,#006cf3,#0063f1,#0057ee,#0045e9,#0334d9,#042dd1,#003fe7,#0066f2,#008bf6,#00a9f2,#00c4e9,#04ddd9,#31ebba,#69f48b,#9ef658,#c5f02b,#dfe50c,#eed400,#f6c400,#f9bd00,#f8bf00,#f2cb00,#e6e103,#cbee24,#a5f550,#74f582,#3aeeb4,#06ded8,#00bfec,#00aaf2,#00b5f0,#00d4e0,#29e9c0,#61f392,#a2f553,#dfe50c,#fea700,#fb7200,#ed3f00,#da1d00,#cb0d00,#c90c00,#d91b00,#ef4500,#fe8000,#faba00,#cbee24,#7ff677,#2deabd,#00d2e1,#00aff1,#008ef6,#0076f6,#0075f5,#008ff6,#00b5f0,#00dcdc,#3cefb3,#82f775,#b8f23b,#dfe40b,#f7c300,#ffa400,#ff9100,#fe8500,#fe8000,#ff8600,#ff9200,#ffa400,#f7c200,#e1e409,#bdf235,#91f867,#59f29a,#28e9c0,#00dcdc,#00c5e9,#00b3f1,#00aaf2,#00acf2,#00b7f0,#00c8e7,#00dcdc,#1fe6c7,#3befb3,#58f29a,#6ef587,#7bf67b,#7ff677)"></i></div></div>
<div class="hm" style="left:435px;top:875px;width:724px;height:214px"><div style="width:724px"><i style="background:linear-gradient(90deg,#00adf2,#00c5e9,#00d5e0,#08ded7,#17e3cc,#20e6c6,#1ce5c9,#0ce0d4,#00d2e2,#00bbee,#00a3f3,#0090f6,#0082f8,#0072f5,#005eef,#004aeb,#0050ec,#0067f2,#007cf7,#008af7,#0095f5,#009ef4,#009ef4,#0095f5,#0088f7,#0078f6,#0067f2,#005eef,#0072f4,#0095f5,#00b7f0,#00d2e1,#11e1d0,#26e8c2,#21e6c5,#08ded7,#00cee4,#00bbef,#00a7f2,#0099f4,#009df4,#00b5f0,#00d6df,#3defb2,#86f771,#94f763,#a1f654,#b4f33f,#a3f552,#75f580,#3aeeb4,#11e1d0,#00d5e0,#00cfe3,#01dcdb,#28e9c0,#58f29b,#84f773,#a2f553,#b3f340,#a4f551,#7df679,#46f1ab,#08dfd6,#00b2f1,#007ff8,#006ff4,#0084f7,#009af4,#00a9f2,#00b2f1,#00b8f0,#00baef,#00b7f0,#00a7f2,#007cf7,#004eeb,#0071f4,#009ef4,#00bbee,#00c8e7,#00cee4,#00cfe3,#00cee4,#00cbe6,#00c3ea,#00b7f0,#00a8f2,#009af4,#0090f6,#0089f7)"></i><i style="background:linear-gradient(90deg,#00aff1,#00c7e7,#00d8de,#0ee0d2,#1fe6c7,#28e8c1,#25e7c3,#14e2ce,#00d6df,#00beed,#00a4f3,#0090f6,#0083f8,#0074f5,#0061f0,#004deb,#0052ec,#0067f2,#007cf7,#0088f7,#0093f5,#009cf4,#009cf4,#0094f5,#0086f7,#0075f5,#0062f1,#0053ed,#0067f2,#008ef6,#00b1f1,#00cde4,#09dfd6,#1ee5c8,#17e3cc,#00d9dd,#00c6e8,#00b1f1,#009df4,#008cf6,#0090f6,#00a7f2,#00cae6,#2eeabc,#79f67d,#82f774,#92f866,#a9f44b,#98f75f,#65f48f,#2be9be,#01dcdc,#00c9e7,#00c2eb,#00d0e3,#18e3cc,#46f1ab,#73f582,#96f761,#a9f44c,#99f75e,#70f585,#3aeeb4,#00dadd,#00a9f2,#0072f4,#0066f1,#0080f8,#0098f5,#00a8f2,#00b2f1,#00b8f0,#00baef,#00b7f0,#00a8f2,#0078f6,#0042e9,#006df3,#009ef4,#00bded,#00cae6,#00cfe3,#00d1e2,#00d0e3,#00cce5,#00c4e9,#00b7f0,#00a8f2,#0099f4,#0090f6,#0089f7)"></i><i style="background:linear-gradient(90deg,#00b0f1,#00c9e6,#00dbdc,#15e2ce,#27e8c1,#31ebbb,#2eeabd,#1ce5c9,#00dadd,#00c0eb,#00a5f3,#0090f6,#0083f8,#0076f5,#0064f1,#0052ec,#0055ed,#0068f2,#007bf7,#0086f7,#0090f6,#0099f4,#009af4,#0093f5,#0085f7,#0074f5,#005ef0,#004beb,#005def,#0087f7,#00acf2,#00c7e8,#00dbdd,#13e2cf,#0adfd5,#00d1e2,#00bded,#00a8f2,#0092f5,#0080f8,#0082f8,#0099f4,#00beed,#1ee5c7,#67f48d,#6ef587,#7ef679,#9bf65c,#88f76f,#53f29f,#1ce5c9,#00d2e2,#00bcee,#00b4f1,#00c4e9,#06ded8,#35edb8,#60f393,#86f771,#9cf65b,#8bf86c,#60f393,#2eeabc,#00d3e1,#00a1f3,#0067f2,#005ff0,#007ef7,#0098f5,#00a8f2,#00b2f1,#00b7f0,#00baef,#00b7f0,#00a8f2,#0076f6,#013ce4,#006af2,#009df4,#00beed,#00cce5,#00d1e2,#00d2e1,#00d2e2,#00cde4,#00c5e9,#00b8f0,#00a7f2,#0099f4,#008ff6,#0088f7)"></i><i style="background:linear-gradient(90deg,#00b0f1,#00cbe5,#04ddda,#1be5c9,#2febbc,#3aeeb4,#37edb6,#25e7c3,#04ddd9,#00c3ea,#00a7f2,#0090f6,#0082f8,#0077f6,#0069f2,#0059ee,#005bef,#006af3,#007af6,#0084f7,#008cf6,#0096f5,#0098f5,#0091f6,#0085f7,#0073f5,#005cef,#0044e9,#0054ed,#0081f8,#00a6f3,#00c1eb,#00d4e1,#04ddd9,#00d9de,#00c8e7,#00b4f1,#009ef4,#0089f7,#0074f5,#0074f5,#008cf6,#00b2f1,#0de0d3,#50f2a2,#57f29b,#67f48d,#86f771,#74f581,#41f0af,#0de0d3,#00c7e8,#00b0f1,#00a6f3,#00b7f0,#00d4e0,#24e7c3,#4cf1a5,#72f583,#8af76e,#78f67e,#4ff1a3,#21e6c5,#00cbe5,#009af4,#0062f0,#005cef,#007df7,#0098f5,#00a8f2,#00b1f1,#00b7f0,#00baef,#00b7f0,#00a7f2,#0075f5,#013be2,#0068f2,#009df4,#00bfec,#00cde4,#00d3e1,#00d4e0,#00d3e1,#00cfe3,#00c6e8,#00b8f0,#00a7f2,#0099f4,#008ff6,#0088f7)"></i><i style="background:linear-gradient(90deg,#00b0f1,#00cce5,#08dfd6,#22e7c4,#37edb6,#44f0ad,#40f0b0,#2deabd,#0bdfd4,#00c6e8,#00a8f2,#008ff6,#0081f8,#0079f6,#006ef4,#0062f0,#0062f0,#006df3,#0079f6,#0081f8,#0088f7,#0092f5,#0095f5,#0090f6,#0085f7,#0074f5,#005cef,#0040e8,#004beb,#0079f6,#00a0f3,#00bcee,#00cce5,#00d4e0,#00cee4,#00bded,#00aaf2,#0095f5,#007ff8,#006af2,#0067f2,#007ef8,#00a5f3,#00d9de,#38edb6,#3ff0b1,#4ef1a4,#6cf489,#5ef395,#31ebba,#00dbdc,#00bded,#00a3f3,#0098f5,#00a9f2,#00c8e7,#11e1d0,#38eeb5,#5cf397,#72f583,#63f391,#3defb2,#13e2cf,#00c4ea,#0094f5,#0060f0,#005cef,#007ef7,#0098f5,#00a9f2,#00b1f1,#00b6f0,#00b9ef,#00b7f0,#00a6f3,#0075f5,#013de4,#0067f2,#009df4,#00bfec,#00cfe3,#00d5e0,#00d7df,#00d5e0,#00d0e3,#00c6e8,#00b8f0,#00a7f2,#0099f4,#008ff6,#0087f7)"></i><i style="background:linear-gradient(90deg,#00b0f1,#00cee4,#0de0d3,#2ae9bf,#40f0b0,#4ff2a2,#4cf1a5,#36edb7,#12e2cf,#00cae6,#00a9f2,#008ef6,#007ff8,#007af7,#0074f5,#006bf3,#0069f2,#0070f4,#0078f6,#007df7,#0084f7,#008ef6,#0092f5,#008ff6,#0085f7,#0075f5,#005def,#003ee5,#0043e9,#0072f5,#009bf4,#00b6f0,#00c3ea,#00c8e7,#00c1eb,#00b2f1,#009ff4,#008bf6,#0076f5,#0061f0,#005cef,#006ff4,#0098f5,#00cde5,#21e6c5,#2ae9bf,#35edb7,#4ff1a3,#46f1ab,#22e7c5,#00d3e1,#00b2f1,#0096f5,#008af7,#009bf4,#00bcee,#00dbdd,#26e8c2,#44f0ac,#58f29b,#4bf1a6,#2deabd,#05ded9,#00bcee,#008ff6,#0061f0,#005ff0,#0080f8,#009af4,#00a9f2,#00b1f1,#00b6f0,#00b9f0,#00b7f0,#00a5f3,#0075f5,#003fe7,#0067f2,#009df4,#00c0ec,#00d0e2,#00d7df,#00d9de,#00d7df,#00d1e2,#00c7e8,#00b9f0,#00a8f2,#0099f4,#008ef6,#0087f7)"></i><i style="background:linear-gradient(90deg,#00aff1,#00cfe3,#12e2d0,#31ebbb,#4bf1a7,#5bf398,#59f29a,#3ff0b0,#1ae4ca,#00cde5,#00aaf2,#008cf6,#007df7,#007cf7,#007bf7,#0074f5,#0071f4,#0074f5,#0078f6,#007af6,#007ff8,#0089f7,#008ff6,#008df6,#0085f7,#0078f6,#005ff0,#013de5,#013de4,#006cf3,#0097f5,#00b0f1,#00baef,#00bbee,#00b3f1,#00a5f3,#0094f5,#0081f8,#006df3,#005bef,#0052ed,#0061f0,#008bf6,#00c0ec,#0bdfd4,#14e2ce,#1ee5c7,#34ecb8,#31ebbb,#12e2d0,#00cae6,#00a8f2,#0089f7,#007bf7,#008cf6,#00aef1,#00cfe3,#13e2cf,#30ebbb,#3defb2,#36edb7,#1de5c8,#00d6df,#00b5f0,#008bf6,#0064f1,#0065f1,#0083f8,#009cf4,#00aaf2,#00b1f1,#00b5f0,#00b8f0,#00b6f0,#00a5f3,#0076f5,#0042e8,#0067f2,#009df4,#00c1eb,#00d2e1,#00dadd,#00dbdc,#00d9de,#00d3e1,#00c8e7,#00b9ef,#00a8f2,#0099f4,#008ef6,#0087f7)"></i><i style="background:linear-gradient(90deg,#00aef1,#00d0e3,#16e3cd,#38edb6,#55f29d,#67f48d,#65f48f,#4bf1a6,#21e6c5,#00d0e3,#00abf2,#008af7,#007bf7,#007df7,#0081f8,#007ef7,#0079f6,#0079f6,#0078f6,#0076f6,#0079f6,#0084f7,#008cf6,#008cf6,#0086f7,#007af7,#0063f1,#013ee5,#0238de,#0067f2,#0094f5,#00abf2,#00b1f1,#00acf2,#00a3f3,#0097f5,#0088f7,#0077f6,#0066f1,#0057ee,#004beb,#0053ed,#007cf7,#00b3f1,#00d5e0,#00dadd,#06ded8,#1ce5c9,#1de5c8,#03ddda,#00c2eb,#009ef4,#007cf7,#006af2,#007ef7,#00a1f3,#00c3ea,#01dcdb,#1ce5c9,#27e8c1,#23e7c4,#0ee0d3,#00cde4,#00aef1,#0088f7,#0069f2,#006bf3,#0086f7,#009ef4,#00abf2,#00b1f1,#00b4f1,#00b7f0,#00b6f0,#00a4f3,#0077f6,#0044e9,#0068f2,#009ef4,#00c2eb,#00d4e1,#00dcdc,#03ddda,#00dbdd,#00d4e0,#00c8e7,#00b9ef,#00a8f2,#0099f4,#008ef6,#0087f7)"></i><i style="background:linear-gradient(90deg,#00aef1,#00d1e2,#1be4c9,#3ff0b1,#60f393,#73f582,#72f583,#56f29c,#28e9c0,#00d3e1,#00acf2,#0088f7,#0077f6,#007ff8,#0087f7,#0086f7,#0081f8,#007ef8,#0079f6,#0073f5,#0073f5,#007ff8,#0088f7,#008bf6,#0086f7,#007df7,#0067f2,#003fe7,#0333d8,#0062f1,#0091f6,#00a6f3,#00a7f2,#009df4,#0092f5,#0089f7,#007df7,#006df3,#005ff0,#0054ed,#0047ea,#0046ea,#006df3,#00a6f3,#00c9e7,#00cbe5,#00d0e3,#04ddd9,#09dfd6,#00d4e0,#00baef,#0095f5,#006ef4,#0059ee,#006df3,#0094f5,#00b7f0,#00d2e2,#09dfd6,#12e2d0,#10e1d1,#00dcdc,#00c5e9,#00a8f2,#0087f7,#006ff4,#0072f4,#008af7,#00a0f3,#00adf2,#00b1f1,#00b3f1,#00b6f0,#00b5f0,#00a5f3,#0077f6,#0044e9,#0068f2,#009ff4,#00c3ea,#00d6e0,#04ddda,#07ded7,#02dddb,#00d5e0,#00c9e6,#00baef,#00a8f2,#0099f4,#008ef6,#0087f7)"></i><i style="background:linear-gradient(90deg,#00adf2,#00d2e1,#20e6c6,#47f1aa,#6af48a,#7ff677,#7ef678,#62f392,#2febbb,#00d6e0,#00acf2,#0085f7,#0074f5,#0081f8,#008df6,#008df6,#0089f7,#0083f8,#007cf7,#0071f4,#006df3,#0079f6,#0085f7,#0089f7,#0086f7,#0080f8,#006cf3,#0042e8,#042ed3,#0060f0,#0091f6,#00a3f3,#009ff4,#008df6,#0081f8,#007bf7,#0070f4,#0063f1,#005aef,#0054ed,#0047ea,#013ee5,#005eef,#009bf4,#00bfec,#00bded,#00c0eb,#00d0e2,#00d7df,#00cce5,#00b2f1,#008df6,#0061f0,#0047ea,#005eef,#0088f7,#00acf2,#00c8e7,#00d8de,#00dbdd,#00dcdc,#00d4e0,#00bfec,#00a3f3,#0088f7,#0075f5,#0079f6,#008ef6,#00a3f3,#00aef1,#00b1f1,#00b2f1,#00b5f0,#00b5f0,#00a6f3,#0078f6,#0043e9,#0069f2,#00a0f3,#00c4e9,#00d7df,#07ded7,#0adfd5,#05ded9,#00d7df,#00cae6,#00baef,#00a8f2,#0099f4,#008ff6,#0087f7)"></i><i style="background:linear-gradient(90deg,#00acf2,#00d3e1,#24e7c3,#4ff2a2,#75f580,#8af76d,#8af76d,#6df488,#37edb7,#00d8de,#00acf2,#0082f8,#006ff4,#0082f8,#0093f5,#0095f5,#0090f6,#0089f7,#007ff8,#0070f4,#0068f2,#0073f5,#0081f8,#0088f7,#0086f7,#0082f8,#0071f4,#0046ea,#052bcf,#005ff0,#0091f6,#00a2f3,#0098f5,#007df7,#006df3,#006cf3,#0065f1,#005bef,#0056ee,#0056ee,#0049ea,#013ae1,#0051ec,#0091f6,#00b7f0,#00b0f1,#00b2f1,#00c4e9,#00cde4,#00c5e9,#00acf2,#0085f7,#0054ed,#0238df,#004fec,#007ff8,#00a3f3,#00c1eb,#00cfe3,#00d0e2,#00d4e0,#00cfe3,#00bbef,#00a1f3,#0089f7,#007cf7,#007ff8,#0091f6,#00a6f3,#00aff1,#00b0f1,#00b1f1,#00b4f1,#00b4f1,#00a7f2,#0078f6,#0041e8,#006af2,#00a1f3,#00c6e8,#00d9dd,#0bdfd5,#0ee0d2,#08dfd6,#00d8de,#00cbe5,#00bbee,#00a8f2,#0099f4,#008ff6,#0087f7)"></i><i style="background:linear-gradient(90deg,#00acf2,#00d5e0,#29e9c0,#58f29b,#7ff677,#95f763,#95f762,#78f67e,#3defb2,#00dbdd,#00adf2,#007ff8,#006af3,#0083f8,#0098f5,#009bf4,#0097f5,#008ff6,#0083f8,#0070f4,#0063f1,#006ef3,#007df7,#0086f7,#0085f7,#0083f8,#0076f6,#004beb,#052bcf,#0060f0,#0093f5,#00a1f3,#0093f5,#006ef4,#005bef,#0060f0,#005bef,#0053ed,#0053ed,#0059ee,#004deb,#013ae1,#0048ea,#008cf6,#00b3f1,#00a7f2,#00a8f2,#00bbee,#00c5e9,#00bfec,#00a7f2,#007ef8,#0047ea,#052ace,#0044e9,#0078f6,#009df4,#00bcee,#00cae6,#00c9e7,#00cfe3,#00cde5,#00b9f0,#00a1f3,#008cf6,#0082f8,#0084f7,#0095f5,#00a8f2,#00b0f1,#00b0f1,#00aff1,#00b2f1,#00b4f1,#00a8f2,#0078f6,#003fe6,#006bf3,#00a2f3,#00c7e7,#00dbdc,#0ee0d2,#12e2d0,#0be0d4,#00dadd,#00cce5,#00bbee,#00a9f2,#0099f4,#008ff6,#0088f7)"></i><i style="background:linear-gradient(90deg,#00acf2,#00d6df,#2eeabd,#60f393,#89f76e,#9df659,#9ef658,#82f774,#45f1ab,#03ddda,#00adf2,#007bf7,#0065f1,#0083f8,#009df4,#00a2f3,#009ef4,#0095f5,#0088f7,#0072f4,#0060f0,#0069f2,#0079f6,#0083f8,#0083f8,#0084f7,#007af7,#0051ec,#042fd4,#0064f1,#0096f5,#00a3f3,#0092f5,#0064f1,#004fec,#0057ee,#0053ed,#004deb,#0051ec,#005cef,#0053ed,#003fe6,#0048ea,#008bf6,#00b4f1,#00a4f3,#00a4f3,#00b6f0,#00c1eb,#00bbee,#00a3f3,#0078f6,#013de5,#0721c4,#003ee6,#0075f5,#009bf4,#00bcee,#00cae6,#00c6e8,#00cfe3,#00cee4,#00baef,#00a3f3,#0091f6,#0088f7,#0089f7,#0097f5,#00aaf2,#00b0f1,#00aff1,#00aef1,#00b1f1,#00b2f1,#00a8f2,#0077f6,#013de4,#006cf3,#00a4f3,#00c9e7,#02dddb,#12e2d0,#15e3cd,#0ee1d2,#00dbdc,#00cde4,#00bcee,#00a9f2,#0099f4,#008ff6,#0088f7)"></i><i style="background:linear-gradient(90deg,#00acf2,#00d8de,#32ecb9,#68f48c,#92f866,#a6f54f,#a7f54e,#8cf86b,#4df1a4,#07ded7,#00aef1,#0077f6,#005ff0,#0082f8,#00a0f3,#00a8f2,#00a5f3,#009df4,#008df6,#0075f5,#005ff0,#0066f1,#0074f5,#007ff8,#0081f8,#0083f8,#007cf7,#0057ee,#0238df,#006bf3,#009af4,#00a5f3,#0093f5,#0063f1,#004ceb,#0054ed,#004fec,#0049ea,#004fec,#005eef,#0058ee,#004aea,#0054ed,#0090f6,#00b8f0,#00a9f2,#00a9f2,#00b8f0,#00c0eb,#00b9ef,#00a0f3,#0073f5,#0237dd,#0721c4,#003ee6,#0078f6,#009ef4,#00bfec,#00cde4,#00cae6,#00d4e1,#00d3e1,#00bfec,#00a9f2,#0096f5,#008df6,#008df6,#0099f4,#00aaf2,#00b0f1,#00aff1,#00acf2,#00aff1,#00b1f1,#00a6f3,#0076f6,#013ee5,#006ef4,#00a5f3,#00cae6,#04ddd9,#15e3ce,#19e4cb,#12e2d0,#01dcdb,#00cee4,#00bded,#00a9f2,#0099f4,#008ff6,#0088f7)"></i><i style="background:linear-gradient(90deg,#00adf2,#00dadd,#37edb6,#70f585,#99f75d,#aef446,#aff445,#94f763,#55f29d,#0be0d4,#00aef1,#0074f5,#005aef,#0081f8,#00a2f3,#00adf2,#00adf2,#00a4f3,#0094f5,#007bf7,#0062f0,#0063f1,#006ff4,#0079f6,#007df7,#0081f8,#007cf7,#005def,#0046ea,#0074f5,#009ef4,#00a9f2,#0098f5,#006df3,#0054ed,#0056ee,#004fec,#0048ea,#004eeb,#005eef,#005ef0,#0058ee,#0066f2,#009af4,#00beec,#00b6f0,#00b5f0,#00bfec,#00c3ea,#00baef,#009ff4,#0070f4,#0332d7,#0721c4,#0045e9,#0080f8,#00a6f3,#00c7e8,#00d5e0,#00d5e0,#01dcdb,#00dbdc,#00c8e7,#00b1f1,#009cf4,#0092f5,#0090f6,#009af4,#00a9f2,#00aff1,#00aef1,#00acf2,#00aef1,#00aef1,#00a3f3,#0075f5,#0042e8,#0070f4,#00a7f2,#00cce5,#07ded7,#18e4cb,#1ce5c8,#15e3ce,#04ddd9,#00cfe3,#00bded,#00aaf2,#0099f4,#008ff6,#0088f7)"></i><i style="background:linear-gradient(90deg,#00aef1,#00dcdc,#3cefb3,#77f67e,#a1f655,#b6f33d,#b6f33c,#9cf65b,#5df396,#0fe1d1,#00aff1,#0071f4,#0055ed,#0080f8,#00a4f3,#00b2f1,#00b4f1,#00acf2,#009bf4,#0082f8,#0067f2,#0062f0,#006af2,#0073f5,#0077f6,#007ef7,#007bf7,#0064f1,#0058ee,#007ef8,#00a3f3,#00aef1,#009ff4,#007cf7,#0064f1,#005ef0,#0053ed,#0048ea,#004deb,#005def,#0064f1,#0068f2,#007cf7,#00a7f2,#00c8e7,#00c7e8,#00c7e8,#00cbe5,#00cae6,#00bded,#00a0f3,#006ff4,#042fd4,#0721c4,#0051ec,#008bf6,#00b3f1,#00d1e2,#08dfd6,#0ce0d4,#16e3cd,#11e1d0,#00d3e1,#00baef,#00a4f3,#0096f5,#0092f5,#009af4,#00a8f2,#00adf2,#00adf2,#00abf2,#00acf2,#00acf2,#009ff4,#0073f5,#0048ea,#0073f5,#00a8f2,#00cde5,#0adfd5,#1ce5c9,#20e6c6,#18e4cb,#07ded7,#00d0e2,#00beed,#00aaf2,#0099f4,#008ff6,#0088f7)"></i><i style="background:linear-gradient(90deg,#00aff1,#03ddda,#40f0b0,#7ff677,#a8f54d,#bdf234,#bef134,#a3f553,#65f48f,#14e2cf,#00b0f1,#006df3,#004eec,#007ef7,#00a5f3,#00b7f0,#00bbee,#00b4f1,#00a3f3,#0089f7,#006df3,#0062f0,#0065f1,#006bf3,#0071f4,#0079f6,#007af6,#006bf3,#0068f2,#0088f7,#00a9f2,#00b4f1,#00a9f2,#008df6,#0077f6,#006af3,#005aee,#004beb,#004deb,#005def,#006af3,#0078f6,#0090f6,#00b6f0,#00d4e1,#00d9dd,#00dadd,#00dadd,#00d2e1,#00c2eb,#00a2f3,#006ff4,#042fd3,#0721c4,#005ff0,#0098f5,#00c0ec,#04ddd9,#1fe6c7,#27e8c1,#2eeabc,#27e8c1,#06ded8,#00c5e9,#00abf2,#009af4,#0094f5,#009af4,#00a5f3,#00abf2,#00acf2,#00aaf2,#00abf2,#00a9f2,#009af4,#0071f4,#004deb,#0076f6,#00a9f2,#00cee4,#0ce0d4,#1fe6c7,#23e7c4,#1be5c9,#09dfd6,#00d2e2,#00bfec,#00aaf2,#0099f4,#008ff6,#0088f7)"></i><i style="background:linear-gradient(90deg,#00b0f1,#06ded8,#46f1ab,#86f771,#aef445,#c4f12c,#c5f02c,#a9f44b,#6cf489,#18e3cc,#00b0f1,#006af3,#0047ea,#007cf7,#00a7f2,#00bcee,#00c2eb,#00bcee,#00abf2,#0091f6,#0074f5,#0063f1,#0060f0,#0063f1,#006af2,#0074f5,#0079f6,#0072f5,#0076f6,#0093f5,#00b0f1,#00bcee,#00b4f1,#009ef4,#0089f7,#0078f6,#0063f1,#004fec,#004deb,#005def,#0071f4,#0087f7,#00a3f3,#00c6e8,#09dfd6,#1be4c9,#1ee6c7,#16e3cd,#02dddb,#00c8e7,#00a5f3,#0071f4,#0331d6,#042fd3,#006ff4,#00a6f3,#00cee4,#1be4ca,#38eeb5,#45f0ac,#4cf1a5,#3ff0b1,#1ce5c9,#00d0e3,#00b4f1,#009ff4,#0096f5,#0099f4,#00a3f3,#00a9f2,#00aaf2,#00aaf2,#00a9f2,#00a5f3,#0095f5,#006ef4,#0051ec,#0079f6,#00aaf2,#00cfe3,#0fe1d2,#22e7c5,#27e8c1,#1ee5c7,#0ce0d4,#00d3e1,#00c0ec,#00abf2,#009af4,#008ff6,#0088f7)"></i><i style="background:linear-gradient(90deg,#00b2f1,#09dfd6,#4bf1a6,#8df86b,#b5f33e,#cbef25,#cbef24,#b0f344,#73f582,#1ce5c9,#00b1f1,#0067f2,#003fe7,#007af7,#00a9f2,#00c0eb,#00c8e7,#00c4e9,#00b4f1,#0099f4,#007bf7,#0066f1,#005cef,#005bef,#0062f0,#006ff4,#0078f6,#0079f6,#0083f8,#009df4,#00b8f0,#00c3ea,#00bfec,#00aff1,#009bf4,#0087f7,#006df3,#0054ed,#004deb,#005def,#0077f6,#0095f5,#00b5f0,#00d5e0,#20e6c6,#3beeb4,#40f0b0,#30ebbb,#14e2ce,#00d0e3,#00aaf2,#0074f5,#0335db,#013ae0,#007ef8,#00b5f0,#02dddb,#33ecb9,#58f29a,#6af48a,#70f585,#5ff394,#33ecb9,#00dcdc,#00bcee,#00a3f3,#0097f5,#0097f5,#009ff4,#00a6f3,#00a9f2,#00a9f2,#00a8f2,#00a2f3,#0090f6,#006bf3,#0054ed,#007bf7,#00acf2,#00d0e3,#11e1d0,#25e8c2,#2ae9bf,#21e6c5,#0ee0d2,#00d4e0,#00c0eb,#00abf2,#009af4,#008ff6,#0088f7)"></i><i style="background:linear-gradient(90deg,#00b3f1,#0ce0d4,#50f2a1,#93f865,#bbf237,#d0ec1e,#d0ec1e,#b6f33c,#79f67c,#20e6c6,#00b2f1,#0064f1,#013ae1,#007af6,#00abf2,#00c5e9,#00cfe3,#00cce5,#00bcee,#00a1f3,#0083f8,#006af2,#0059ee,#0052ed,#0059ee,#0069f2,#0077f6,#0080f8,#008ef6,#00a7f2,#00c0ec,#00cce5,#00cbe6,#00bfec,#00acf2,#0094f5,#0078f6,#005aef,#004eec,#005eef,#007ef8,#00a2f3,#00c5e9,#0de0d3,#38edb6,#61f393,#69f48b,#4ef1a3,#28e8c1,#00d8de,#00b0f1,#0079f6,#0239e0,#0045e9,#008cf6,#00c3ea,#19e4ca,#50f2a2,#7bf67b,#90f868,#94f763,#81f676,#4df1a4,#13e2cf,#00c4e9,#00a8f2,#0098f5,#0095f5,#009cf4,#00a3f3,#00a7f2,#00a8f2,#00a7f2,#009ff4,#008cf6,#0068f2,#0056ed,#007ef7,#00adf2,#00d1e2,#14e2ce,#28e9c0,#2deabd,#25e7c3,#11e1d0,#00d5e0,#00c1eb,#00abf2,#009af4,#008ff6,#0088f7)"></i><i style="background:linear-gradient(90deg,#00b4f1,#0fe1d2,#55f29d,#98f75f,#c0f131,#d5ea18,#d6e917,#bcf235,#80f677,#23e7c4,#00b4f1,#0063f1,#0334da,#007bf7,#00aef1,#00cae6,#00d5e0,#00d3e1,#00c4e9,#00a9f2,#008af7,#006ff4,#0057ee,#004aea,#0050ec,#0063f1,#0077f6,#0086f7,#0098f5,#00b1f1,#00c8e7,#00d5e0,#00d6df,#00cde4,#00bcee,#00a1f3,#0082f8,#0061f0,#0050ec,#005ff0,#0084f7,#00aef1,#00d4e0,#24e7c3,#53f29f,#87f770,#91f866,#6ff586,#3cefb3,#08dfd6,#00b7f0,#007ff8,#003ee6,#0051ec,#0099f4,#00d1e2,#31ebba,#70f585,#9bf65b,#aff445,#b2f341,#9ff657,#6bf489,#26e8c2,#00cde5,#00adf2,#0099f4,#0093f5,#0098f5,#00a1f3,#00a6f3,#00a7f2,#00a5f3,#009df4,#0088f7,#0065f1,#0057ee,#0080f8,#00aff1,#00d3e1,#17e3cc,#2ceabe,#31ebba,#28e8c1,#13e2cf,#00d7df,#00c2eb,#00acf2,#0099f4,#008ff6,#0088f7)"></i><i style="background:linear-gradient(90deg,#00b5f0,#12e2d0,#5af398,#9cf65a,#c6f02b,#dae712,#dbe710,#c2f12e,#86f771,#27e8c1,#00b5f0,#0062f1,#0332d8,#007cf7,#00b2f1,#00cee4,#00dbdc,#00dbdd,#00cce5,#00b2f1,#0092f5,#0075f5,#0058ee,#0042e8,#0046ea,#005eef,#0078f6,#008cf6,#00a2f3,#00bbef,#00d0e3,#03ddda,#09dfd6,#00dcdc,#00cae6,#00aef1,#008cf6,#0068f2,#0052ec,#0060f0,#008af7,#00b9ef,#0adfd5,#3beeb4,#70f585,#a7f54e,#b1f343,#8ff869,#53f29f,#17e3cc,#00beec,#0085f7,#0045e9,#005cef,#00a5f3,#03ddda,#49f1a8,#8ff869,#b7f23c,#cbee24,#ceed21,#baf238,#89f76e,#39eeb5,#00d5e0,#00b2f1,#009af4,#0091f6,#0095f5,#009df4,#00a4f3,#00a7f2,#00a4f3,#009af4,#0084f7,#0061f0,#0057ee,#0081f8,#00b0f1,#00d4e0,#19e4cb,#2febbc,#34ecb8,#2be9bf,#16e3cd,#00d8de,#00c2ea,#00acf2,#0099f4,#008ff6,#0088f7)"></i><i style="background:linear-gradient(90deg,#00b6f0,#14e2ce,#5ff394,#a1f655,#caef25,#dee50c,#e0e40a,#c8f028,#8cf86c,#2be9bf,#00b7f0,#0063f1,#0335da,#007ff8,#00b6f0,#00d3e1,#09dfd6,#0adfd5,#00d4e1,#00baef,#009af4,#007cf7,#005aee,#013de4,#013ee5,#0059ee,#0079f6,#0092f5,#00abf2,#00c3ea,#00d8de,#11e1d0,#1ae4ca,#14e2ce,#00d7df,#00baef,#0095f5,#006ef4,#0054ed,#0060f0,#008ff6,#00c2ea,#1fe6c7,#55f29e,#8af76d,#c3f12d,#cdee22,#a7f54e,#6bf489,#26e8c2,#00c6e8,#008bf6,#004ceb,#0066f2,#00b1f1,#17e3cc,#64f48f,#a7f54d,#d0ec1e,#e2e307,#e5e204,#d3eb1b,#a2f553,#4ef1a3,#02dddb,#00b8f0,#009bf4,#008ef6,#0090f6,#009af4,#00a3f3,#00a6f3,#00a4f3,#0098f5,#0081f8,#005eef,#0056ed,#0083f8,#00b2f1,#00d6df,#1ce5c9,#32ecba,#37edb6,#2deabd,#18e4cb,#00d9de,#00c3ea,#00acf2,#0099f4,#008ff6,#0088f7)"></i><i style="background:linear-gradient(90deg,#00b7f0,#17e3cc,#63f391,#a5f550,#ceed21,#e2e307,#e5e204,#ccee23,#91f867,#2eeabc,#00b9ef,#0066f1,#0239e0,#0083f8,#00baef,#00d7df,#12e2d0,#15e3ce,#00dbdc,#00c2ea,#00a2f3,#0084f7,#005ef0,#013ae0,#0238de,#0055ed,#007af7,#0098f5,#00b3f1,#00cce5,#07ded7,#20e6c6,#2beabe,#28e8c1,#0ce0d4,#00c5e9,#009ef4,#0075f5,#0057ee,#0061f0,#0093f5,#00cbe6,#32ecba,#6ef587,#9ff656,#dae712,#e2e307,#bdf234,#82f774,#35edb8,#00cde4,#0091f6,#0053ed,#006ff4,#00bbee,#29e9c0,#7ef678,#bef133,#e5e204,#f2cb00,#f4c800,#e8e000,#b9f239,#65f48e,#0fe1d2,#00bded,#009cf4,#008bf6,#008cf6,#0097f5,#00a2f3,#00a6f3,#00a3f3,#0097f5,#007ff8,#005bef,#0055ed,#0084f7,#00b4f1,#00d7df,#1fe6c7,#35edb8,#3beeb4,#30ebbb,#1ae4ca,#00dadd,#00c4e9,#00acf2,#0099f4,#008ff6,#0088f7)"></i><i style="background:linear-gradient(90deg,#00b9f0,#19e4cb,#66f48d,#a8f54c,#d1eb1c,#e6e102,#e9df00,#d0ec1e,#95f763,#31ebba,#00bbee,#006af3,#003fe6,#0087f7,#00bded,#00dcdc,#1ae4ca,#20e6c6,#0bdfd5,#00cae6,#00abf2,#008cf6,#0065f1,#0239e0,#0333d9,#0052ec,#007cf7,#009ef4,#00bbee,#00d4e1,#14e2ce,#2eeabd,#3befb3,#39eeb4,#1de5c8,#00cfe3,#00a7f2,#007cf7,#0059ee,#0062f0,#0097f5,#00d2e2,#43f0ae,#86f771,#b2f341,#ebda00,#f0cf00,#d0ec1e,#97f760,#44f0ac,#00d5e0,#0097f5,#005bef,#0078f6,#00c4e9,#3aeeb4,#95f763,#d2eb1c,#f2cc00,#fbb300,#fcb000,#f4c700,#ceed21,#7cf67a,#1ce5c9,#00c2ea,#009ef4,#0088f7,#0087f7,#0094f5,#00a0f3,#00a6f3,#00a4f3,#0097f5,#007df7,#0058ee,#0054ed,#0085f7,#00b5f0,#00d9de,#21e6c5,#38edb6,#3eefb2,#33ecb9,#1de5c8,#00dbdd,#00c4e9,#00acf2,#0098f5,#008ff6,#0088f7)"></i><i style="background:linear-gradient(90deg,#00baef,#1ce5c9,#6af48a,#abf449,#d4ea19,#e9de00,#ebdb00,#d3ea1a,#98f75f,#34ecb8,#00bded,#0070f4,#0048ea,#008bf6,#00c1eb,#05ded8,#22e7c5,#29e9c0,#16e3cd,#00d3e1,#00b5f0,#0095f5,#006df3,#013ce3,#0331d6,#0050ec,#007ef8,#00a3f3,#00c2eb,#00dcdc,#21e6c5,#3cefb3,#4df1a4,#4cf1a5,#2deabd,#00d8de,#00aff1,#0082f8,#005cef,#0062f1,#0099f4,#00d7df,#54f29e,#99f75d,#c6f02b,#f6c500,#f9bb00,#dfe40b,#a8f54d,#56f29d,#00dcdc,#009ef4,#0063f1,#0080f8,#00cce5,#4bf1a6,#a6f54f,#e2e307,#fbb600,#ff9e00,#ff9b00,#fcb100,#dfe40b,#92f865,#2ae9bf,#00c7e7,#009ff4,#0085f7,#0082f8,#0090f6,#009ff4,#00a6f3,#00a4f3,#0097f5,#007cf7,#0057ee,#0054ed,#0087f7,#00b7f0,#00dbdd,#24e7c3,#3aeeb4,#40f0b0,#35edb7,#1fe6c7,#00dcdc,#00c5e9,#00adf2,#0098f5,#008ff6,#0088f7)"></i><i style="background:linear-gradient(90deg,#00bbee,#1ee5c8,#6df587,#aef445,#d7e915,#ebdb00,#ecd700,#d6e917,#9bf65b,#37edb6,#00bfec,#0076f6,#0054ed,#008ff6,#00c3ea,#0bdfd5,#29e9c0,#32ebba,#21e6c6,#00dbdd,#00beec,#009ff4,#0077f6,#0043e9,#0332d7,#0050ec,#0081f8,#00a8f2,#00c8e7,#0bdfd4,#2eeabc,#4bf1a6,#5ef395,#5df396,#3beeb4,#06ded8,#00b6f0,#0087f7,#005ef0,#0063f1,#009bf4,#00dcdc,#61f392,#a9f44b,#d7e815,#fbb500,#fdad00,#ebda00,#b7f23b,#66f48e,#0adfd5,#00a4f3,#006bf3,#0087f7,#00d2e1,#5af398,#b6f33c,#eed400,#ffa300,#ff8d00,#ff8a00,#ff9f00,#edd700,#a4f551,#38eeb5,#00cde4,#00a0f3,#0082f8,#007df7,#008cf6,#009ef4,#00a7f2,#00a6f3,#0098f5,#007df7,#0057ee,#0056ed,#0088f7,#00b8f0,#00dcdc,#26e8c2,#3defb2,#43f0ad,#37edb6,#21e6c6,#02dddb,#00c6e8,#00adf2,#0099f4,#008ef6,#0087f7)"></i><i style="background:linear-gradient(90deg,#00bcee,#20e6c6,#70f585,#b1f343,#d9e713,#ecd800,#eed500,#d8e814,#9ef658,#39eeb5,#00c2eb,#007df7,#005ff0,#0093f5,#00c6e8,#10e1d1,#2febbc,#39eeb5,#2be9be,#0bdfd4,#00c8e7,#00a9f2,#0082f8,#004eeb,#0235db,#0051ec,#0083f8,#00acf2,#00cee4,#16e3cd,#3aeeb4,#5bf397,#6ff586,#6cf488,#49f1a8,#12e2d0,#00bded,#008cf6,#0060f0,#0063f1,#009cf4,#05ddd9,#6cf489,#b8f23b,#e7e101,#fea800,#ffa100,#f3ca00,#c6f02a,#75f580,#14e2ce,#00aaf2,#0073f5,#008ef6,#00d8de,#68f48c,#c5f02c,#f7c300,#ff9500,#fd7b00,#fc7600,#ff9000,#f6c400,#b5f33e,#48f1a9,#00d2e2,#00a1f3,#007ef7,#0077f6,#0089f7,#009df4,#00a8f2,#00a8f2,#009af4,#007ef7,#0058ee,#0058ee,#0089f7,#00b9ef,#02dddb,#29e9c0,#3ff0b1,#46f1ab,#3aeeb4,#23e7c4,#03ddda,#00c7e8,#00aef1,#0099f4,#008ef6,#0086f7)"></i><i style="background:linear-gradient(90deg,#00beed,#22e7c5,#72f583,#b3f340,#dbe610,#eed500,#efd300,#dae712,#a0f656,#3befb3,#00c4e9,#0083f8,#0069f2,#0097f5,#00c8e7,#15e2ce,#35edb8,#41f0af,#35edb7,#18e3cc,#00d2e2,#00b4f1,#008cf6,#005aee,#013ae1,#0053ed,#0085f7,#00b1f1,#00d4e1,#20e6c6,#47f1a9,#6bf48a,#7ef678,#7bf67b,#57f29c,#1de5c8,#00c3ea,#0091f6,#0062f1,#0062f0,#009cf4,#07ded7,#74f581,#c5f02c,#f0cf00,#ff9f00,#ff9900,#f9bc00,#d1eb1d,#84f773,#1de5c8,#00aff1,#007af6,#0093f5,#00dcdc,#73f582,#d0ec1f,#fbb500,#ff8800,#fa6700,#f96300,#fe8000,#fbb300,#c5f02b,#58f29a,#00d7df,#00a2f3,#0079f6,#0070f4,#0086f7,#009cf4,#00aaf2,#00abf2,#009df4,#0080f8,#005aee,#005aee,#008af7,#00bbef,#04ddd9,#2be9be,#42f0ae,#48f1a9,#3cefb3,#24e7c3,#04ddd9,#00c7e8,#00aff1,#009af4,#008ef6,#0085f7)"></i><i style="background:linear-gradient(90deg,#00bfec,#24e7c3,#75f581,#b5f33e,#dde60e,#efd300,#f0d100,#dbe610,#a2f554,#3defb2,#00c6e8,#0089f7,#0072f5,#009bf4,#00cae6,#19e4cb,#3aeeb4,#49f1a8,#3ff0b1,#24e7c3,#00dbdd,#00beed,#0097f5,#0065f1,#003fe7,#0055ed,#0088f7,#00b5f0,#00d9de,#2ae9bf,#55f29d,#79f67d,#8cf86c,#87f770,#63f490,#27e8c1,#00c8e7,#0095f5,#0064f1,#0060f0,#009bf4,#08dfd6,#7bf67b,#cfed20,#f8c000,#ff9700,#ff9200,#fcb200,#dbe711,#91f867,#26e8c2,#00b4f1,#007ff8,#0098f5,#06ded8,#7df679,#d9e813,#fea900,#fd7900,#f65600,#f45100,#fb6f00,#ffa500,#d1eb1d,#67f48d,#00dbdc,#00a2f3,#0075f5,#006af2,#0083f8,#009df4,#00acf2,#00aef1,#00a0f3,#0082f8,#005cef,#005bef,#008bf6,#00bcee,#07ded8,#2deabd,#44f0ac,#4bf1a6,#3defb2,#26e8c2,#06ded8,#00c8e7,#00aff1,#009af4,#008df6,#0085f7)"></i><i style="background:linear-gradient(90deg,#00c0ec,#25e8c2,#76f57f,#b6f33c,#dee50c,#f0d100,#f1cf00,#dde60e,#a3f552,#3ff0b1,#00c8e7,#008ef6,#007af7,#009ff4,#00cce5,#1de5c8,#3ff0b0,#52f2a0,#4af1a7,#30ebbb,#0ce0d4,#00c7e8,#00a1f3,#0071f4,#0047ea,#0058ee,#008af7,#00b8f0,#02dddb,#33ecb9,#62f392,#86f771,#97f760,#93f865,#6ff586,#30ebbb,#00cde4,#0099f4,#0065f1,#005def,#0098f5,#08ded7,#80f677,#d7e916,#fbb400,#ff8f00,#ff8c00,#fea900,#e3e206,#9af75c,#2eeabd,#00b9f0,#0083f8,#009bf4,#0bdfd5,#86f771,#e0e409,#ff9f00,#fa6b00,#f04500,#ee4000,#f96000,#ff9a00,#dbe610,#74f582,#05ddd9,#00a3f3,#0070f4,#0064f1,#0081f8,#009ef4,#00b0f1,#00b3f1,#00a4f3,#0085f7,#005eef,#005cef,#008cf6,#00bded,#09dfd6,#30ebbb,#47f1aa,#4df1a4,#3ff0b0,#28e8c1,#07ded7,#00c9e7,#00b0f1,#009af4,#008df6,#0084f7)"></i><i style="background:linear-gradient(90deg,#00c1eb,#27e8c1,#78f67e,#b7f23b,#dfe40b,#f1cf00,#f2cd00,#dee50c,#a5f550,#40f0b0,#00cae6,#0093f5,#0081f8,#00a2f3,#00cee4,#21e6c6,#45f1ab,#59f399,#55f29d,#3cefb3,#1ae4ca,#00d0e2,#00abf2,#007cf7,#004fec,#005bef,#008df6,#00bbee,#08ded7,#3aeeb4,#6df587,#91f866,#a0f656,#9bf65b,#79f67c,#38edb6,#00d2e2,#009cf4,#0065f1,#0059ee,#0094f5,#05ded8,#83f774,#dee50d,#fea900,#ff8900,#ff8600,#ffa100,#eadd00,#a3f553,#35edb8,#00bcee,#0086f7,#009cf4,#0fe1d2,#8df86a,#e7e001,#ff9800,#f85f00,#ea3700,#e83000,#f45200,#ff9100,#e4e205,#7ef678,#09dfd5,#00a2f3,#006af3,#005eef,#0080f8,#00a0f3,#00b4f1,#00b8f0,#00a9f2,#0089f7,#005ff0,#005def,#008df6,#00beed,#0bdfd4,#32ecba,#49f1a7,#4ff2a2,#41f0af,#29e9c0,#08dfd6,#00c9e6,#00b0f1,#009af4,#008cf6,#0083f8)"></i><i style="background:linear-gradient(90deg,#00c2eb,#28e8c1,#79f67d,#b8f23a,#e0e409,#f1cd00,#f2cb00,#dfe40b,#a6f54f,#41f0af,#00cbe5,#0097f5,#0086f7,#00a5f3,#00d0e2,#24e7c3,#4bf1a6,#61f392,#60f394,#48f1a9,#26e8c2,#00dadd,#00b6f0,#0086f7,#0057ee,#005ef0,#008ff6,#00beed,#0de0d3,#41f0af,#77f67e,#9af75d,#a8f54c,#a4f552,#83f774,#3ff0b1,#00d6df,#00a0f3,#0066f1,#0053ed,#008ff6,#01dcdb,#84f772,#e3e206,#ffa200,#fe8200,#fe8000,#ff9c00,#edd500,#aaf44a,#3befb3,#00bfec,#0087f7,#009df4,#11e1d0,#93f865,#ebda00,#ff9100,#f55500,#e42b00,#df2400,#f04600,#ff8a00,#eadb00,#87f770,#0de0d3,#00a1f3,#0065f1,#0058ee,#0080f8,#00a3f3,#00b9f0,#00bded,#00aef1,#008cf6,#0061f0,#005cef,#008df6,#00bfec,#0de0d3,#34ecb8,#4cf1a5,#52f2a0,#44f0ad,#2be9bf,#09dfd6,#00cae6,#00b0f1,#009af4,#008bf6,#0082f8)"></i><i style="background:linear-gradient(90deg,#00c2ea,#29e9c0,#7af67c,#b9f239,#e1e308,#f2cc00,#f3c900,#e1e409,#a7f54e,#42f0af,#00cce5,#009af4,#008bf6,#00a8f2,#00d2e1,#28e8c1,#50f2a2,#68f48c,#69f48b,#55f29d,#32ecb9,#0adfd5,#00bfec,#0090f6,#005ff0,#0062f0,#0091f6,#00c0eb,#12e2d0,#48f1a9,#80f676,#a1f654,#b0f344,#abf449,#8cf86b,#47f1aa,#00dadd,#00a3f3,#0066f1,#004ceb,#0089f7,#00d9de,#84f772,#e8e001,#ff9c00,#fd7d00,#fd7b00,#ff9800,#f1cf00,#b0f343,#41f0af,#00c2ea,#0087f7,#009df4,#14e2ce,#97f760,#eed400,#ff8c00,#f24c00,#dd2100,#d71a00,#ed3c00,#fe8200,#eed400,#8df86b,#0fe1d2,#00a0f3,#005ff0,#0055ed,#0082f8,#00a7f2,#00beed,#00c3ea,#00b4f1,#0090f6,#0062f1,#005bef,#008df6,#00c0eb,#0fe1d1,#36edb7,#4ef1a3,#54f29e,#46f1ab,#2ceabe,#0adfd5,#00cae6,#00b1f1,#009af4,#008bf6,#0081f8)"></i><i style="background:linear-gradient(90deg,#00c3ea,#2ae9bf,#7bf67b,#b9f239,#e2e308,#f3ca00,#f4c700,#e2e308,#a8f54d,#42f0ae,#00cde4,#009ef4,#008ef6,#00abf2,#00d4e0,#2be9bf,#55f29d,#6ef587,#73f583,#60f393,#3defb2,#16e3cd,#00c8e7,#0099f4,#0067f2,#0065f1,#0093f5,#00c2ea,#15e3ce,#4ef1a4,#87f770,#a8f54d,#b6f33d,#b1f342,#93f864,#4ff1a3,#02dddb,#00a5f3,#0066f2,#0045e9,#0081f8,#00d4e0,#83f774,#eadd00,#ff9800,#fc7800,#fc7800,#ff9500,#f3ca00,#b5f33d,#47f1a9,#00c4e9,#0087f7,#009cf4,#15e3cd,#9af75d,#f0d000,#ff8800,#f04600,#d71a00,#d11100,#ea3500,#fd7c00,#f0d000,#90f868,#0fe1d2,#009ef4,#005aee,#0053ed,#0085f7,#00acf2,#00c4e9,#00c9e7,#00baef,#0094f5,#0064f1,#0059ee,#008df6,#00c1eb,#11e1d0,#38eeb5,#51f2a1,#57f29c,#48f1a9,#2deabd,#0be0d4,#00cbe6,#00b1f1,#0099f4,#008af7,#007ff8)"></i><i style="background:linear-gradient(90deg,#00c3ea,#2ae9bf,#7cf67a,#baf238,#e2e307,#f3c900,#f5c500,#e3e206,#a8f54c,#42f0ae,#00cee4,#00a1f3,#0092f5,#00aef1,#00d6df,#2eeabd,#59f29a,#73f582,#7bf67b,#6bf489,#49f1a8,#22e7c4,#00d0e3,#00a2f3,#006ff4,#006af2,#0095f5,#00c3ea,#17e3cc,#51f2a0,#8df86b,#adf447,#bbf237,#b7f23b,#99f75e,#55f29d,#07ded8,#00a8f2,#0067f2,#013de5,#0078f6,#00cfe3,#80f677,#eadb00,#ff9500,#fc7600,#fc7500,#ff9300,#f5c600,#b9f239,#4cf1a5,#00c6e8,#0086f7,#009bf4,#17e3cc,#9cf65a,#f1cd00,#ff8500,#ee4200,#d31400,#cb0d00,#e83000,#fd7800,#f1cd00,#91f867,#0ee0d3,#009cf4,#0056ed,#0054ed,#008bf6,#00b3f1,#00cbe6,#00cfe3,#00c0ec,#0098f5,#0065f1,#0057ee,#008df6,#00c2eb,#13e2cf,#3aeeb4,#53f29f,#59f399,#4af1a7,#2febbc,#0ce0d3,#00cbe6,#00b0f1,#0098f5,#0089f7,#007ef7)"></i><i style="background:linear-gradient(90deg,#00c3ea,#2be9bf,#7cf67a,#baf238,#e3e306,#f4c800,#f6c400,#e4e205,#a9f44b,#42f0ae,#00cfe3,#00a4f3,#0095f5,#00b0f1,#00d8de,#30ebbb,#5cf396,#78f67d,#82f775,#74f581,#55f29d,#2deabd,#00d8de,#00abf2,#0078f6,#006ff4,#0097f5,#00c4e9,#18e3cc,#53f29f,#91f867,#b0f343,#bff132,#bcf236,#9ef658,#5bf397,#0bdfd4,#00abf2,#0068f2,#0237de,#006ff4,#00c9e7,#7bf67b,#eadb00,#ff9400,#fc7500,#fc7500,#ff9300,#f6c400,#bcf235,#50f2a1,#00c8e7,#0087f7,#009af4,#18e3cc,#9ef658,#f2cb00,#fe8400,#ee3f00,#d11100,#c70b00,#e62e00,#fc7700,#f1cd00,#8ff869,#0adfd5,#0099f4,#0054ed,#005aee,#0093f5,#00bbee,#00d2e2,#00d6df,#00c5e9,#009cf4,#0066f1,#0054ed,#008cf6,#00c2ea,#15e3ce,#3befb3,#55f29d,#5bf397,#4cf1a5,#31ebbb,#0ee0d3,#00cbe5,#00b0f1,#0098f5,#0087f7,#007cf7)"></i><i style="background:linear-gradient(90deg,#00c3ea,#2be9be,#7cf67a,#baf238,#e3e206,#f4c800,#f6c300,#e5e204,#aaf44b,#43f0ad,#00d0e2,#00a6f3,#0099f4,#00b3f1,#00dadd,#32ecb9,#5ff394,#7cf67a,#87f770,#7cf67a,#5ff394,#37edb6,#04ddd9,#00b3f1,#0082f8,#0076f6,#0098f5,#00c4ea,#17e3cc,#53f29f,#92f866,#b3f340,#c1f12f,#bff132,#a2f554,#61f393,#10e1d1,#00aef1,#006af2,#0332d7,#0065f1,#00c3ea,#75f580,#e9de00,#ff9400,#fc7700,#fc7600,#ff9300,#f6c300,#bef133,#53f29f,#00cae6,#0088f7,#009bf4,#19e4cb,#9ef658,#f2cb00,#fe8400,#ee4000,#d11200,#c70b00,#e72f00,#fd7900,#f0d000,#8af76e,#05ded9,#0095f5,#0055ed,#0063f1,#009cf4,#00c3ea,#00dadd,#01dcdb,#00cae6,#00a0f3,#0067f2,#0053ed,#008bf6,#00c2ea,#16e3cd,#3defb2,#57f29b,#5ef395,#4ff1a3,#32ecba,#0fe1d2,#00cce5,#00b0f1,#0097f5,#0086f7,#007bf7)"></i><i style="background:linear-gradient(90deg,#00c4ea,#2be9be,#7df679,#bbf237,#e4e206,#f4c700,#f6c300,#e5e204,#aaf44a,#45f0ac,#00d2e2,#00a9f2,#009cf4,#00b5f0,#00dbdd,#34ecb8,#61f392,#7ff677,#8bf86c,#82f775,#67f48d,#40f0b0,#0fe1d2,#00bcee,#008df6,#007ef7,#0099f4,#00c2ea,#14e2ce,#51f2a0,#91f867,#b3f340,#c3f12e,#c1f130,#a4f551,#65f48f,#14e2ce,#00b1f1,#006df3,#042ed3,#005def,#00bfec,#6ef587,#e6e103,#ff9800,#fd7b00,#fd7a00,#ff9500,#f6c400,#bff133,#55f29d,#00cbe5,#008bf6,#009ef4,#1ae4ca,#9ef658,#f2cc00,#ff8500,#ef4200,#d41500,#cb0e00,#e93300,#fd7d00,#eed500,#82f775,#00dadd,#0091f6,#005aee,#0071f4,#00a7f2,#00cde4,#09dfd6,#0be0d4,#00cfe3,#00a3f3,#0069f2,#0053ed,#008af7,#00c2ea,#16e3cd,#3eefb1,#59f399,#60f394,#51f2a1,#34ecb8,#10e1d1,#00cce5,#00b0f1,#0095f5,#0084f7,#0078f6)"></i><i style="background:linear-gradient(90deg,#00c4e9,#2beabe,#7df679,#bbf237,#e4e205,#f4c700,#f6c300,#e5e204,#aaf44a,#46f1aa,#00d3e1,#00acf2,#00a0f3,#00b8f0,#01dcdc,#35edb7,#63f490,#81f775,#8ef86a,#87f770,#6ff586,#49f1a8,#18e4cb,#00c4ea,#0097f5,#0086f7,#009af4,#00c0ec,#10e1d1,#4df1a4,#8ff869,#b2f341,#c3f12e,#c2f12f,#a6f54f,#69f48b,#18e4cb,#00b5f0,#0071f4,#042dd1,#0055ed,#00bbef,#65f48f,#e0e409,#ff9d00,#fe8100,#fe8000,#ff9700,#f5c500,#bef133,#55f29d,#00cce5,#008ff6,#00a1f3,#1be4c9,#9ef658,#f1ce00,#ff8800,#f04700,#d81b00,#d21300,#ec3a00,#fe8400,#eadd00,#77f67e,#00d4e0,#008df6,#0061f0,#0081f8,#00b3f1,#00d7df,#17e3cc,#16e3cd,#00d3e1,#00a6f3,#006bf3,#0053ed,#0089f7,#00c1eb,#16e3cd,#3ff0b1,#5bf398,#61f392,#53f29f,#36edb7,#12e2d0,#00cce5,#00aff1,#0094f5,#0082f8,#0076f6)"></i><i style="background:linear-gradient(90deg,#00c4e9,#2beabe,#7df679,#bcf236,#e4e205,#f4c700,#f6c400,#e4e205,#abf44a,#48f1a9,#00d5e0,#00aff1,#00a3f3,#00baef,#02ddda,#36edb7,#64f490,#82f774,#90f868,#8bf76d,#75f580,#51f2a1,#21e6c5,#00cbe5,#00a2f3,#008df6,#009bf4,#00bcee,#0adfd5,#48f1a9,#8af76d,#b0f343,#c2f12f,#c1f130,#a7f54e,#6cf488,#1de5c8,#00b9f0,#0075f5,#042ed3,#004fec,#00b6f0,#5bf398,#dae712,#ffa400,#ff8900,#ff8700,#ff9b00,#f4c800,#bdf235,#54f29e,#00cde4,#0093f5,#00a5f3,#1ce5c9,#9cf65a,#efd200,#ff8c00,#f34e00,#de2300,#da1d00,#ef4400,#ff8c00,#e3e307,#6af48b,#00cde4,#0088f7,#006af2,#008ff6,#00c0ec,#09dfd6,#25e7c3,#20e6c6,#00d7df,#00a9f2,#006df3,#0053ed,#0088f7,#00c1eb,#16e3cd,#40f0b0,#5cf397,#63f490,#55f29d,#37edb6,#13e2cf,#00cce5,#00aef1,#0093f5,#0080f8,#0074f5)"></i><i style="background:linear-gradient(90deg,#00c4ea,#2be9bf,#7df679,#bcf236,#e4e205,#f4c800,#f6c500,#e4e205,#aaf44a,#4af1a7,#00d6df,#00b1f1,#00a7f2,#00bcee,#04ddd9,#37edb6,#64f48f,#83f774,#91f867,#8df86a,#7bf67b,#59f29a,#29e9c0,#00d2e1,#00acf2,#0094f5,#009bf4,#00b8f0,#03ddda,#40f0b0,#84f773,#adf447,#c0f131,#c0f131,#a7f54d,#6ff586,#21e6c6,#00bcee,#007bf7,#0331d6,#0048ea,#00b0f1,#4ff2a2,#d1eb1c,#fdae00,#ff9100,#ff8e00,#ff9f00,#f2cc00,#baf238,#53f29f,#00cde4,#0097f5,#00a8f2,#1ce5c9,#9af75d,#edd600,#ff9100,#f65700,#e62e00,#e32900,#f45100,#ff9500,#d9e813,#59f399,#00c4e9,#0082f8,#0073f5,#009df4,#00cce5,#1ae4ca,#33ecb9,#2ae9bf,#00dbdc,#00acf2,#006ff4,#0052ed,#0086f7,#00c0ec,#16e3cd,#40f0b0,#5ef395,#65f48f,#57f29b,#39eeb5,#15e2ce,#00cde5,#00adf2,#0091f6,#007ef7,#0071f4)"></i><i style="background:linear-gradient(90deg,#00c3ea,#2ae9bf,#7cf67a,#bbf237,#e3e206,#f4c900,#f5c600,#e3e206,#aaf44a,#4af1a7,#00d7df,#00b3f1,#00a9f2,#00beec,#06ded8,#37edb6,#64f48f,#83f774,#91f867,#8ff869,#7ff677,#5ff394,#31ebba,#00d9de,#00b5f0,#009bf4,#009bf4,#00b3f1,#00d8de,#39eeb5,#7df67a,#a8f54d,#bdf234,#bff133,#a7f54e,#71f584,#24e7c3,#00c0eb,#0081f8,#0235db,#0041e8,#00a9f2,#42f0ae,#c8f028,#fab900,#ff9a00,#ff9600,#ffa500,#efd100,#b7f23c,#50f2a2,#00cde4,#0099f4,#00abf2,#1ce5c9,#97f760,#eadc00,#ff9700,#f96100,#ec3c00,#eb3800,#f95f00,#ffa000,#cded21,#47f1aa,#00baef,#007cf7,#007ef7,#00abf2,#00d8de,#2be9bf,#41f0af,#34ecb8,#05ded9,#00aef1,#006ff4,#0050ec,#0084f7,#00bfec,#15e3cd,#41f0af,#5ff394,#67f48d,#59f399,#3beeb3,#16e3cd,#00cde4,#00acf2,#008ff6,#007bf7,#006ff4)"></i><i style="background:linear-gradient(90deg,#00c2ea,#29e9c0,#7bf67b,#baf237,#e3e307,#f3ca00,#f5c700,#e3e307,#aaf44b,#4af1a7,#00d8de,#00b5f0,#00acf2,#00c0eb,#07ded7,#38edb6,#64f490,#82f775,#90f868,#90f868,#82f774,#65f48e,#38edb6,#05ded8,#00bded,#00a1f3,#009af4,#00adf2,#00d2e2,#30ebbb,#74f581,#a3f553,#b9f239,#bcf235,#a6f54e,#72f583,#28e8c1,#00c4e9,#0087f7,#013be2,#013be2,#00a2f3,#36edb7,#bcf236,#f5c600,#ffa400,#ff9f00,#fdad00,#ecd800,#b2f341,#4cf1a5,#00cde5,#009bf4,#00acf2,#1ce5c9,#93f864,#e5e103,#ff9e00,#fb6e00,#f24c00,#f14a00,#fb7000,#fdad00,#bff133,#35edb8,#00aef1,#0076f5,#0087f7,#00b9f0,#0ce0d4,#3befb3,#53f29f,#3ef0b1,#0bdfd5,#00aff1,#006ff4,#004deb,#0082f8,#00beed,#15e3cd,#42f0ae,#61f393,#69f48c,#5bf397,#3defb2,#17e3cc,#00cde4,#00abf2,#008cf6,#0078f6,#006cf3)"></i><i style="background:linear-gradient(90deg,#00c2eb,#28e8c1,#79f67c,#b9f239,#e1e308,#f2cb00,#f4c800,#e2e308,#a9f44c,#4af1a7,#00d9de,#00b7f0,#00aef1,#00c2eb,#08ded7,#38edb6,#63f490,#81f676,#8ff869,#91f867,#85f772,#6bf489,#3ef0b1,#0ee1d2,#00c4e9,#00a7f2,#0099f4,#00a6f3,#00cae6,#27e8c1,#6af48a,#9cf65a,#b5f33e,#b9f239,#a5f550,#73f582,#2beabe,#00c8e7,#008ef6,#0041e8,#0236dc,#0099f4,#29e9c0,#aef446,#eed400,#fcb200,#feaa00,#fbb600,#e9df00,#adf447,#47f1a9,#00cbe5,#009bf4,#00adf2,#1ae4ca,#8ef86a,#dfe50c,#fea700,#fd7c00,#f85d00,#f85d00,#fe8200,#f9bd00,#adf447,#23e7c4,#00a0f3,#0070f4,#0091f6,#00c5e9,#1ee5c7,#4ef1a3,#64f490,#4af1a7,#10e1d1,#00b1f1,#006ef3,#0048ea,#0080f8,#00bded,#15e3cd,#43f0ad,#62f391,#6af48a,#5df396,#3ef0b1,#19e4cb,#00cde4,#00aaf2,#0089f7,#0074f5,#0069f2)"></i><i style="background:linear-gradient(90deg,#00c0eb,#26e8c2,#77f67e,#b8f23b,#e0e40a,#f2cd00,#f3c900,#e1e409,#a7f54e,#48f1a8,#00d9de,#00b8f0,#00b0f1,#00c3ea,#09dfd6,#38edb6,#62f391,#7ff677,#8ef86a,#90f868,#87f770,#70f585,#45f1ab,#17e3cd,#00cae6,#00acf2,#0098f5,#009ff4,#00c2ea,#1ce5c9,#5ff394,#95f763,#aff445,#b6f33d,#a4f552,#74f581,#2febbc,#00cce5,#0095f5,#004ceb,#0430d5,#008ef6,#1be4c9,#9ff656,#e5e204,#f8c100,#fab800,#f8c000,#e2e307,#a6f54f,#41f0af,#00c9e6,#009af4,#00acf2,#18e3cc,#88f770,#d7e915,#fbb300,#ff8b00,#fb7000,#fb7200,#ff9300,#f0d100,#9bf65c,#10e1d1,#0091f6,#006bf3,#009bf4,#00d1e2,#30ebbb,#61f392,#74f581,#56f29c,#15e3ce,#00b2f1,#006cf3,#0042e9,#007cf7,#00bded,#16e3cd,#44f0ad,#63f490,#6cf488,#5ff394,#40f0b0,#1ae4ca,#00cde5,#00a8f2,#0086f7,#0071f4,#0067f2)"></i><i style="background:linear-gradient(90deg,#00bfec,#24e7c3,#74f581,#b5f33e,#dee50d,#f0cf00,#f3cb00,#dfe40b,#a5f550,#46f1aa,#00d9de,#00b9ef,#00b1f1,#00c4e9,#09dfd6,#37edb6,#61f392,#7df679,#8bf86c,#90f868,#89f76e,#74f582,#4cf1a5,#1ee5c8,#00d0e3,#00b0f1,#0097f5,#0096f5,#00baef,#10e1d1,#52f29f,#8bf86c,#a8f54c,#b1f342,#a1f654,#74f581,#32ecba,#00d1e2,#009cf4,#0057ee,#052bcf,#0083f8,#0ce0d4,#90f868,#d8e815,#eed300,#f4c800,#f2cc00,#dbe711,#9ef658,#3befb3,#00c7e8,#0098f5,#00aaf2,#14e2ce,#80f677,#ceed20,#f8c000,#ff9800,#fe8400,#ff8700,#ffa300,#e4e206,#85f772,#00dadd,#0081f8,#0069f2,#00a5f3,#01dcdb,#40f0b0,#73f582,#84f773,#61f393,#19e4cb,#00b2f1,#006af3,#013ce4,#0079f6,#00bcee,#16e3cd,#45f0ac,#65f48f,#6ef587,#61f392,#42f0ae,#1be4ca,#00cce5,#00a6f3,#0083f8,#006ef3,#0065f1)"></i><i style="background:linear-gradient(90deg,#00bded,#21e6c5,#71f584,#b2f341,#dbe610,#efd300,#f1cd00,#dee50d,#a3f552,#44f0ad,#00d9de,#00baef,#00b3f1,#00c5e9,#09dfd5,#37edb6,#5ff394,#7af67b,#89f76e,#8ef869,#8af76e,#77f57f,#51f2a1,#24e7c3,#00d5e0,#00b4f1,#0095f5,#008ef6,#00b0f1,#04ddd9,#45f1ab,#80f677,#a1f655,#acf448,#9ef657,#74f581,#35ecb8,#00d5e0,#00a4f3,#0062f1,#052ace,#0075f5,#00dadd,#7cf67a,#caef26,#e2e307,#ebda00,#ebd900,#d2eb1b,#96f762,#35ecb8,#00c4ea,#0094f5,#00a7f2,#10e1d1,#76f57f,#c4f12d,#f0d000,#fea700,#ff9500,#ff9900,#fab700,#d2eb1b,#6cf488,#00cee4,#0070f4,#006af3,#00b0f1,#12e2cf,#54f29e,#84f773,#92f866,#6af48a,#1de5c8,#00b2f1,#0068f2,#0236dd,#0077f6,#00bcee,#17e3cc,#46f1ab,#66f48e,#6ff585,#63f391,#43f0ad,#1ce5c9,#00cce5,#00a4f3,#007ff8,#006af3,#0062f1)"></i><i style="background:linear-gradient(90deg,#00bbee,#1ee5c7,#6df488,#aff445,#d8e814,#edd700,#f0d000,#dbe610,#a0f656,#41f0af,#00d8de,#00bbee,#00b4f1,#00c5e9,#09dfd5,#36edb7,#5df396,#78f67e,#86f771,#8df86b,#8af76e,#79f67d,#56f29d,#29e9c0,#00d9de,#00b7f0,#0094f5,#0085f7,#00a5f3,#00d6df,#38eeb5,#73f582,#98f75f,#a6f54f,#9bf65c,#73f582,#38edb6,#00dadd,#00adf2,#006ff4,#042ed3,#0067f2,#00d0e3,#67f48d,#b8f23a,#d2eb1c,#dde60e,#e2e307,#c9f027,#8af76d,#2deabd,#00c0ec,#0091f6,#00a3f3,#0adfd5,#6cf489,#b6f33c,#e7e102,#fab900,#fea700,#fdac00,#f1cf00,#bef133,#54f29e,#00c2ea,#0061f0,#0070f4,#00bbee,#23e7c4,#65f48e,#92f866,#9cf65a,#71f583,#1fe6c7,#00b2f1,#0066f1,#0331d6,#0075f5,#00bcee,#18e3cc,#47f1aa,#67f48c,#71f584,#64f490,#45f0ac,#1ce5c9,#00cbe5,#00a2f3,#007bf7,#0067f2,#0060f0)"></i><i style="background:linear-gradient(90deg,#00b9ef,#1ae4ca,#68f48c,#aaf44a,#d4ea19,#eadc00,#eed400,#d8e814,#9df659,#3ef0b1,#00d8de,#00bcee,#00b5f0,#00c6e8,#09dfd6,#34ecb8,#5af398,#75f581,#83f774,#8bf76d,#89f76e,#7af67b,#59f29a,#2deabd,#00dcdc,#00b9ef,#0092f5,#007cf7,#009bf4,#00cde4,#2ceabe,#65f48f,#8ef86a,#9ff657,#96f761,#71f584,#3beeb3,#06ded8,#00b6f0,#007cf7,#0237dd,#005cef,#00c7e8,#51f2a1,#a4f551,#bef133,#ccee23,#d5ea18,#bbf237,#7cf67a,#24e7c3,#00bcee,#008df6,#009ff4,#03ddda,#5ff394,#a8f54d,#d8e814,#f1ce00,#f9bc00,#f6c400,#e2e308,#a7f54d,#3cefb2,#00b9f0,#005aef,#007cf7,#00c5e9,#33ecb9,#76f580,#9cf65a,#a4f552,#77f57f,#21e6c5,#00b2f1,#0064f1,#042dd2,#0074f5,#00bded,#18e4cb,#48f1a9,#69f48b,#72f583,#65f48f,#45f1ab,#1ce5c9,#00cbe6,#00a0f3,#0077f6,#0063f1,#005eef)"></i><i style="background:linear-gradient(90deg,#00b7f0,#17e3cd,#62f391,#a5f550,#d0ec1e,#e7e102,#ebdb00,#d4ea19,#99f75e,#3defb2,#00d8de,#00bded,#00b7f0,#00c6e8,#08dfd6,#33ecb9,#57f29b,#71f584,#80f676,#88f76f,#88f76f,#7af67b,#5bf398,#30ebbb,#04ddd9,#00bbee,#0091f6,#0075f5,#0091f6,#00c4ea,#1ee5c8,#55f29d,#81f676,#96f761,#91f867,#6ff585,#3ff0b1,#0ee0d2,#00beec,#0089f7,#0043e9,#0059ee,#00bded,#3aeeb4,#8df86a,#a7f54e,#b7f23b,#c5f02b,#acf448,#6df488,#1ae4ca,#00b6f0,#0089f7,#009bf4,#00d9de,#50f2a2,#98f75f,#c8f028,#e4e205,#edd600,#e9de00,#cdee22,#91f867,#2ae9bf,#00b1f1,#0062f0,#008af7,#00d1e2,#41f0af,#85f772,#a5f550,#a8f54c,#7af67c,#21e6c5,#00b2f1,#0064f1,#042fd4,#0075f5,#00bded,#19e4cb,#49f1a8,#6af48b,#73f582,#66f48e,#46f1ab,#1ce5c9,#00cae6,#009ef4,#0074f5,#0060f0,#005bef)"></i><i style="background:linear-gradient(90deg,#00b4f1,#12e2cf,#5bf397,#9ff657,#caef25,#e1e308,#e6e102,#cfed20,#95f763,#3beeb3,#00d8de,#00beed,#00b8f0,#00c7e8,#07ded7,#30ebbb,#53f29f,#6df587,#7df679,#86f771,#86f771,#79f67c,#5bf397,#32ecba,#06ded8,#00bcee,#0090f6,#0070f4,#0088f7,#00baef,#0fe1d2,#44f0ad,#72f583,#8cf86c,#89f76f,#6df587,#43f0ae,#17e3cc,#00c7e7,#0095f5,#0054ed,#005cef,#00b4f1,#27e8c1,#6ff585,#8ff869,#a1f654,#b0f343,#9bf65c,#5cf397,#0ee1d2,#00b0f1,#0085f7,#0098f5,#00d2e1,#3ff0b1,#85f772,#b3f340,#d1ec1d,#dbe610,#d3ea1a,#b4f33f,#74f581,#19e4ca,#00acf2,#0072f5,#009af4,#00dcdc,#52f2a0,#92f866,#acf448,#abf44a,#7bf67b,#21e6c5,#00b1f1,#0063f1,#0334d9,#0078f6,#00beed,#19e4cb,#4af1a7,#6af48a,#74f581,#66f48d,#46f1ab,#1be4c9,#00c9e7,#009cf4,#0072f4,#005def,#0059ee)"></i><i style="background:linear-gradient(90deg,#00b2f1,#0ee0d3,#54f29e,#98f75f,#c4f12d,#dbe610,#dfe40b,#c9f027,#90f868,#39eeb5,#00d8de,#00bfec,#00b9ef,#00c7e8,#06ded8,#2deabd,#4ff2a2,#69f48b,#7af67c,#83f774,#83f773,#78f67e,#5bf398,#33ecb9,#07ded7,#00bded,#0090f6,#006cf3,#007ff8,#00aff1,#00dbdd,#34ecb8,#62f392,#7ef678,#80f677,#6af48a,#47f1a9,#21e6c5,#00d0e2,#00a1f3,#0066f1,#0061f0,#00acf2,#13e2cf,#50f2a2,#6ff586,#88f76f,#9af75d,#87f770,#49f1a8,#02dddb,#00aaf2,#0082f8,#0094f5,#00cbe5,#30ebbb,#6ff586,#9ef658,#baf238,#c5f02b,#bbf237,#9af75d,#59f399,#0bdfd5,#00abf2,#0084f7,#00abf2,#11e1d0,#62f391,#9bf65b,#b2f341,#acf448,#7af67c,#1fe6c6,#00b0f1,#0063f1,#0239df,#007bf7,#00bfec,#1ae4ca,#4af1a7,#6bf489,#74f581,#67f48d,#45f1ab,#1ae4ca,#00c8e7,#009af4,#006ff4,#0059ee,#0056ee)"></i><i style="background:linear-gradient(90deg,#00aff1,#09dfd6,#4cf1a5,#91f867,#bcf236,#d4ea19,#d8e814,#c1f130,#89f76e,#37edb6,#00d8de,#00c0ec,#00baef,#00c7e7,#04ddd9,#2ae9bf,#4bf1a7,#65f48f,#76f580,#7ff677,#80f676,#75f580,#5af399,#33ecb9,#07ded7,#00bded,#0090f6,#0068f2,#0074f5,#00a3f3,#00d0e3,#25e7c3,#51f2a1,#70f585,#76f580,#67f48d,#4cf1a5,#2ae9bf,#00dadd,#00aef1,#0077f6,#0069f2,#00a4f3,#00dbdd,#33ecb9,#4ef1a4,#68f48c,#7ff677,#6ff585,#38edb6,#00d5e0,#00a3f3,#007df7,#008ff6,#00c4ea,#20e6c6,#57f29b,#86f771,#a1f654,#aaf44a,#9ff657,#7cf67a,#3ff0b1,#00dbdd,#00adf2,#0096f5,#00bcee,#23e7c4,#72f583,#a4f551,#b6f33c,#acf448,#77f57f,#1de5c8,#00aff1,#0063f1,#013de5,#007ff8,#00c0ec,#1be4ca,#4bf1a6,#6cf489,#75f581,#67f48d,#45f0ac,#19e4cb,#00c6e8,#0098f5,#006cf3,#0056ee,#0054ed)"></i><i style="background:linear-gradient(90deg,#00acf2,#03ddda,#44f0ad,#87f770,#b3f340,#cdee22,#d0ec1d,#b9f239,#82f775,#34ecb8,#00d8de,#00c0ec,#00bbee,#00c7e8,#02ddda,#27e8c1,#45f1ab,#60f393,#71f584,#7bf67b,#7cf67a,#71f584,#57f29b,#32ecb9,#07ded7,#00bded,#0090f6,#0065f1,#006af2,#0097f5,#00c4e9,#14e2ce,#3ff0b1,#61f393,#6bf489,#63f490,#50f2a2,#34ecb8,#0bdfd4,#00baef,#0086f7,#0071f4,#009ef4,#00cee4,#18e4cb,#2febbc,#47f1a9,#62f392,#57f29b,#28e8c1,#00cce5,#009bf4,#0078f6,#008af7,#00bcee,#10e1d1,#40f0b0,#6bf48a,#87f771,#90f868,#81f676,#5cf397,#2ceabe,#00d4e0,#00b1f1,#00a7f2,#00cce5,#34ecb8,#81f676,#acf448,#baf238,#abf449,#73f582,#1ae4ca,#00adf2,#0063f1,#0042e9,#0082f8,#00c1eb,#1ce5c9,#4cf1a5,#6cf488,#75f580,#67f48d,#44f0ac,#17e3cc,#00c5e9,#0096f5,#0069f2,#0053ed,#0053ed)"></i><i style="background:linear-gradient(90deg,#00a8f2,#00dadd,#3cefb3,#7cf67a,#aaf44b,#c4f12c,#c9f027,#b0f343,#7af67c,#31ebba,#00d7df,#00c0eb,#00bbee,#00c7e8,#00dcdc,#23e7c4,#40f0b0,#5af398,#6cf488,#76f57f,#77f67e,#6df587,#54f29e,#31ebba,#07ded7,#00bded,#0090f6,#0062f1,#005ff0,#0089f7,#00b8f0,#03ddda,#30ebbb,#51f2a1,#61f393,#60f394,#54f29e,#3eefb2,#19e4cb,#00c5e9,#0094f5,#007af6,#0099f4,#00c2eb,#00dbdd,#12e1d0,#2ae9bf,#44f0ad,#3ff0b1,#17e3cc,#00c3ea,#0093f5,#0072f4,#0084f7,#00b3f1,#00dcdc,#2deabd,#4ff1a3,#68f48c,#70f585,#60f393,#3ef0b1,#1ae4ca,#00d0e3,#00b7f0,#00b7f0,#00dbdc,#47f1aa,#8ff869,#b3f340,#bef134,#aaf44b,#6ef586,#15e3cd,#00abf2,#0062f1,#0048ea,#0086f7,#00c3ea,#1de5c8,#4df1a4,#6df488,#75f580,#66f48e,#43f0ad,#16e3cd,#00c3ea,#0093f5,#0065f1,#0050ec,#0052ec)"></i><i style="background:linear-gradient(90deg,#00a5f3,#00d6df,#34ecb8,#71f584,#a0f656,#baf238,#bff133,#a7f54d,#72f583,#2deabd,#00d6df,#00c0eb,#00bbee,#00c6e8,#00dadd,#1fe6c7,#3beeb4,#54f29e,#67f48d,#71f584,#72f583,#68f48c,#51f2a1,#2febbc,#06ded8,#00bded,#0090f6,#0060f0,#0053ed,#007bf7,#00aaf2,#00d2e1,#21e6c6,#41f0af,#56f29d,#5bf397,#58f29a,#49f1a8,#28e8c1,#00d0e3,#00a0f3,#0083f8,#0095f5,#00b6f0,#00cae6,#00d4e1,#0ce0d3,#2be9be,#2be9bf,#06ded8,#00b9ef,#008bf6,#006bf3,#007ef8,#00aaf2,#00d1e2,#1be4ca,#36edb7,#4af1a7,#51f2a1,#41f0af,#28e8c1,#0ce0d4,#00cee4,#00beed,#00c6e8,#15e3ce,#5cf397,#9af75d,#baf238,#c0f131,#a8f54d,#69f48b,#10e1d1,#00a8f2,#0061f0,#004ceb,#0089f7,#00c4e9,#1ee5c7,#4ef1a4,#6df587,#75f580,#66f48e,#42f0ae,#14e2ce,#00c2eb,#0090f6,#0060f0,#004deb,#0051ec)"></i><i style="background:linear-gradient(90deg,#00a1f3,#00d2e2,#2ceabe,#65f48f,#96f761,#b0f344,#b4f33f,#9ef658,#6af48a,#29e9c0,#00d5e0,#00c0eb,#00bbee,#00c5e9,#00d8de,#1ae4ca,#35edb7,#4df1a4,#60f393,#6af48a,#6cf489,#63f391,#4cf1a5,#2deabd,#05ddd9,#00bded,#0091f6,#005ef0,#0048ea,#006af2,#009bf4,#00c7e8,#11e1d1,#34ecb8,#4af1a7,#57f29b,#5cf397,#54f29e,#36edb7,#00dbdd,#00adf2,#008cf6,#0094f5,#00abf2,#00b9ef,#00bfec,#00d0e3,#13e2cf,#18e3cc,#00d5e0,#00aef1,#0082f8,#0064f1,#0077f6,#00a2f3,#00c8e7,#09dfd6,#22e7c5,#32ebba,#37edb6,#2ae9bf,#14e2ce,#01dcdc,#00cee4,#00c6e8,#00d4e0,#2ae9bf,#6ff585,#a4f551,#bff132,#c2f12f,#a5f550,#62f391,#0adfd5,#00a5f3,#005ff0,#004fec,#008df6,#00c6e8,#20e6c6,#4ef1a3,#6df587,#75f581,#65f48f,#40f0b0,#13e2cf,#00c0ec,#008df6,#005bef,#004beb,#0051ec)"></i><i style="background:linear-gradient(90deg,#009cf4,#00cde4,#23e7c4,#59f29a,#8af76d,#a5f550,#aaf44a,#95f762,#61f392,#24e7c3,#00d4e1,#00c0ec,#00bbee,#00c4ea,#00d5e0,#14e2ce,#2febbc,#45f0ac,#59f29a,#63f490,#64f48f,#5cf396,#47f1a9,#2ae9bf,#03ddda,#00bded,#0091f6,#005def,#013de5,#0057ee,#008cf6,#00baef,#01dcdc,#27e8c1,#3ff0b0,#52f29f,#5ff394,#5ff394,#44f0ad,#0de0d3,#00b8f0,#0095f5,#0094f5,#00a2f3,#00a8f2,#00a8f2,#00bbee,#00dadd,#05ded9,#00cbe6,#00a4f3,#0078f6,#005def,#0070f4,#0099f4,#00beec,#00d7df,#0fe1d2,#1de5c8,#24e7c3,#16e3cd,#03ddda,#00d8de,#00d0e2,#00d0e3,#09dfd6,#3eefb1,#82f775,#adf447,#c4f12c,#c3f12e,#a2f553,#5bf397,#04ddd9,#00a1f3,#005def,#0053ed,#0090f6,#00c8e7,#21e6c5,#4ff2a2,#6df587,#74f581,#64f490,#3ff0b1,#11e1d0,#00beed,#008af7,#0055ed,#0048ea,#0051ec)"></i><i style="background:linear-gradient(90deg,#0098f5,#00c9e7,#1be4ca,#4cf1a5,#7df679,#9af75c,#a0f656,#8bf86c,#58f29a,#20e6c6,#00d2e1,#00bfec,#00baef,#00c2eb,#00d2e1,#0fe1d2,#28e9c0,#3defb2,#50f2a1,#5bf398,#5cf397,#55f29d,#42f0af,#27e8c1,#01dcdb,#00bded,#0093f5,#005def,#0236dc,#0042e9,#007cf7,#00adf2,#00d2e2,#1ae4ca,#37edb6,#4ef1a4,#61f392,#68f48c,#53f29f,#1ce5c9,#00c3ea,#009ef4,#0098f5,#009cf4,#0099f4,#0091f6,#00a5f3,#00cce5,#00d4e1,#00c0eb,#0099f4,#006ef3,#0055ed,#0068f2,#0091f6,#00b6f0,#00cee4,#00dbdd,#0ce0d4,#14e2ce,#07ded7,#00d6df,#00d7df,#00d5e0,#00dadd,#1de5c8,#54f29e,#92f865,#b5f33e,#c8f028,#c3f12d,#9ff657,#54f29e,#00dadd,#009ef4,#005bef,#0056ed,#0093f5,#00cae6,#23e7c4,#50f2a2,#6df587,#74f582,#62f391,#3defb2,#0fe1d2,#00bcee,#0086f7,#004eec,#0046e9,#0051ec)"></i><i style="background:linear-gradient(90deg,#0093f5,#00c4ea,#12e2d0,#40f0b0,#70f585,#8ff869,#95f762,#80f677,#4ff1a3,#1be4ca,#00d1e2,#00beed,#00b9f0,#00c0ec,#00cfe3,#08dfd6,#20e6c6,#35ecb8,#47f1aa,#51f2a0,#53f29f,#4df1a4,#3cefb3,#23e7c4,#00dcdc,#00bded,#0094f5,#005ff0,#0430d5,#0331d6,#0069f2,#00a0f3,#00c8e7,#0de0d3,#2eeabc,#49f1a8,#64f490,#70f584,#61f392,#29e9c0,#00cde4,#00a9f2,#009df4,#0099f4,#008cf6,#0079f6,#008ef6,#00c0ec,#00c9e6,#00b7f0,#008ff6,#0065f1,#004deb,#0061f0,#008af7,#00aef1,#00c7e8,#00d3e1,#00dbdc,#0adfd5,#00dbdd,#00d2e1,#00d9de,#00dcdc,#0de0d3,#30ebbb,#6af48b,#9ff657,#bcf236,#caef25,#c3f12e,#9af75c,#4cf1a5,#00d6df,#009af4,#005aee,#005aee,#0096f5,#00cce5,#24e7c3,#50f2a2,#6df488,#72f583,#60f393,#3befb3,#0de0d3,#00baef,#0083f8,#0048ea,#0044e9,#0051ec)"></i><i style="background:linear-gradient(90deg,#008ef6,#00bfec,#09dfd6,#36edb7,#63f391,#82f775,#8af76e,#74f581,#46f1ab,#16e3cd,#00cfe3,#00bded,#00b7f0,#00bded,#00cbe6,#01dcdc,#18e3cc,#2ceabe,#3cefb2,#46f1aa,#49f1a8,#44f0ac,#36edb7,#1fe6c7,#00dadd,#00beed,#0096f5,#0062f0,#042cd1,#0721c4,#0056ed,#0093f5,#00beed,#01dcdb,#26e8c2,#45f1ab,#66f48e,#77f67e,#6df488,#35ecb8,#00d7df,#00b4f1,#00a5f3,#0099f4,#0083f8,#0063f1,#0078f6,#00b4f1,#00c0ec,#00aef1,#0087f7,#005def,#0046ea,#005bef,#0084f7,#00a8f2,#00c1eb,#00cee4,#00d6df,#05ded8,#00d9de,#00d3e1,#03ddda,#0ee0d3,#1fe6c7,#43f0ad,#7df679,#a9f44b,#c1f130,#cbee24,#c1f130,#95f762,#43f0ad,#00d2e2,#0097f5,#005aee,#005ef0,#009af4,#00cee4,#26e8c2,#50f2a2,#6cf489,#71f584,#5ef395,#39eeb5,#0adfd5,#00b9f0,#0080f8,#0043e9,#0042e8,#0050ec)"></i><i style="background:linear-gradient(90deg,#0088f7,#00b9ef,#00dcdc,#2ceabd,#56f29c,#74f581,#7cf67a,#68f48c,#3eefb2,#11e1d0,#00cde4,#00bcee,#00b5f0,#00baef,#00c7e8,#00d7df,#0ee0d2,#21e6c5,#32ecb9,#3befb3,#3eefb1,#3befb3,#30ebbb,#1ae4ca,#00d9de,#00beed,#0098f5,#0066f2,#042ed2,#0721c4,#0042e9,#0086f7,#00b4f1,#00d5e0,#1fe6c7,#42f0ae,#67f48d,#7cf67a,#74f581,#3ff0b1,#07ded7,#00c1eb,#00b0f1,#009df4,#007ff8,#0054ed,#0068f2,#00a8f2,#00b7f0,#00a6f3,#0081f8,#0057ee,#0040e7,#0054ed,#007ff8,#00a4f3,#00beec,#00cce5,#00d6df,#07ded7,#01dcdb,#00dadd,#10e1d1,#1ee5c7,#31ebba,#59f29a,#8ef86a,#b2f341,#c6f02b,#cbee24,#bdf234,#8ff869,#3cefb3,#00cee4,#0095f5,#005cef,#0064f1,#009df4,#00cfe3,#26e8c2,#4ff2a2,#6af48a,#6ef586,#5bf398,#37edb6,#08ded7,#00b7f0,#007ef8,#0040e8,#003fe7,#004fec)"></i><i style="background:linear-gradient(90deg,#0082f8,#00b4f1,#00d7df,#23e7c4,#49f1a8,#67f48d,#6ff586,#5df396,#37edb6,#0de0d3,#00cce5,#00bbef,#00b3f1,#00b7f0,#00c2eb,#00d1e2,#04ddd9,#16e3cd,#27e8c1,#30ebbb,#34ecb8,#32ecb9,#28e9c0,#15e3cd,#00d7df,#00beed,#009bf4,#006cf3,#0333d9,#0721c4,#0334da,#0079f6,#00aaf2,#00cee4,#18e4cb,#40f0b0,#68f48c,#80f677,#79f67d,#4af1a7,#16e3cd,#00cee4,#00bbee,#00a3f3,#0080f8,#004fec,#0060f0,#009ef4,#00aef1,#00a0f3,#007ef7,#0053ed,#013be2,#004eec,#007bf7,#00a1f3,#00beed,#00cde4,#00dadd,#0ee0d2,#0de0d3,#0ee0d3,#20e6c6,#30ebbb,#45f1ab,#6ef587,#9af75c,#b9f239,#c8f027,#caef25,#b8f23a,#87f770,#35edb7,#00cae6,#0093f5,#0060f0,#006bf3,#00a0f3,#00d1e2,#27e8c1,#4ef1a3,#68f48c,#6bf489,#58f29b,#34ecb8,#04ddd9,#00b5f0,#007cf7,#0040e8,#013ee5,#004deb)"></i><i style="background:linear-gradient(90deg,#007bf7,#00aef1,#00d1e2,#1be4ca,#3eefb1,#5af398,#62f391,#52f2a0,#30ebbb,#09dfd6,#00cae6,#00b9ef,#00b1f1,#00b3f1,#00bded,#00cae6,#00d7df,#0adfd5,#1ae4ca,#24e7c3,#29e9c0,#29e9c0,#21e6c6,#10e1d1,#00d6e0,#00beec,#009ef4,#0073f5,#013be2,#0721c4,#0625c8,#006cf3,#00a1f3,#00c8e7,#13e2cf,#3eefb2,#69f48b,#82f775,#7cf67a,#54f29e,#25e7c3,#00dbdd,#00c7e8,#00adf2,#0086f7,#0056ed,#0061f0,#0097f5,#00a8f2,#009cf4,#007df7,#0052ed,#0238de,#0049ea,#0078f6,#00a1f3,#00bfec,#00d2e2,#07ded7,#1ae4ca,#1ee5c7,#23e7c4,#34ecb9,#44f0ac,#5df396,#81f775,#a5f550,#bff132,#caef26,#c8f028,#b2f341,#7ff678,#2eeabc,#00c7e8,#0091f6,#0065f1,#0072f4,#00a4f3,#00d2e2,#27e8c1,#4df1a4,#65f48e,#68f48c,#54f29e,#30ebbb,#01dcdb,#00b3f1,#007bf7,#0041e8,#013ce3,#004beb)"></i><i style="background:linear-gradient(90deg,#0074f5,#00a8f2,#00cce5,#12e2cf,#35ecb8,#4ef1a4,#56f29d,#47f1aa,#2ae9bf,#06ded8,#00c9e7,#00b8f0,#00aef1,#00aff1,#00b7f0,#00c3ea,#00cfe3,#00dadd,#0de0d3,#17e3cc,#1de5c8,#1ee5c7,#18e4cb,#0adfd5,#00d4e1,#00bfec,#00a1f3,#007bf7,#0045e9,#0721c4,#0721c4,#0061f0,#0099f4,#00c3ea,#0de0d3,#3cefb3,#6af48b,#83f774,#7ff678,#5cf397,#32ecba,#12e2d0,#00d4e1,#00b8f0,#008ff6,#0064f1,#0069f2,#0093f5,#00a3f3,#009af4,#007ef7,#0053ed,#0235db,#0045e9,#0077f6,#00a2f3,#00c2ea,#00d8de,#15e2ce,#2ae9bf,#32ecb9,#3aeeb4,#4bf1a6,#5df396,#74f581,#93f865,#aff444,#c4f12c,#cbef25,#c5f02c,#abf449,#75f580,#27e8c1,#00c3ea,#0090f6,#006af2,#0078f6,#00a7f2,#00d3e1,#27e8c1,#4cf1a5,#62f391,#64f48f,#50f2a2,#2deabd,#00dadd,#00b1f1,#007af7,#0041e8,#013be2,#0049ea)"></i><i style="background:linear-gradient(90deg,#006df3,#00a3f3,#00c7e7,#0adfd5,#2ceabe,#42f0ae,#4af1a7,#3defb2,#24e7c3,#02dddb,#00c8e7,#00b6f0,#00acf2,#00aaf2,#00b1f1,#00bcee,#00c7e8,#00d1e2,#00dbdd,#0adfd5,#11e1d0,#13e2cf,#0fe1d2,#03ddda,#00d2e2,#00bfec,#00a4f3,#0083f8,#0052ed,#0721c4,#0721c4,#0059ee,#0093f5,#00beed,#09dfd6,#3beeb3,#6af48a,#83f773,#80f676,#63f391,#3ff0b1,#25e8c3,#07ded7,#00c3ea,#009bf4,#0075f5,#0075f5,#0093f5,#00a1f3,#0099f4,#0080f8,#0056ed,#0333d9,#0043e9,#0078f6,#00a5f3,#00c7e7,#06ded8,#25e7c3,#3cefb3,#4af1a7,#57f29c,#66f48d,#76f57f,#8af76d,#a1f655,#b8f23a,#c8f028,#cbef25,#c0f131,#a4f551,#6bf489,#20e6c6,#00c0ec,#008ff6,#006ff4,#007ff8,#00aaf2,#00d5e0,#27e8c1,#4af1a7,#5ff394,#60f393,#4cf1a6,#29e9bf,#00d8de,#00aff1,#0079f6,#0041e8,#0239e0,#0048ea)"></i><i style="background:linear-gradient(90deg,#0066f1,#009ef4,#00c3ea,#03ddda,#24e7c3,#39eeb5,#3ff0b1,#35edb8,#1ee5c7,#00dbdc,#00c7e8,#00b5f0,#00a9f2,#00a6f3,#00aaf2,#00b3f1,#00beed,#00c8e7,#00d1e2,#00d9de,#04ddda,#08ded7,#06ded8,#00dadd,#00cfe3,#00bfec,#00a7f2,#008af7,#005ff0,#0529cd,#0721c4,#0054ed,#008ff6,#00bbef,#06ded8,#3aeeb4,#6af48a,#83f774,#80f676,#68f48c,#4df1a4,#37edb6,#1ce5c9,#00d0e3,#00a9f2,#0088f7,#0083f8,#0097f5,#00a1f3,#009bf4,#0084f7,#005aef,#0333d8,#0041e8,#007af6,#00a9f2,#00cde4,#15e2ce,#36edb7,#53f29f,#67f48d,#75f580,#82f774,#8ff869,#9df65a,#aef446,#c0f131,#cbef24,#caef26,#bcf236,#9cf65a,#61f393,#18e4cb,#00bded,#008ff6,#0074f5,#0085f7,#00aef1,#00d6e0,#26e8c2,#48f1a9,#5cf397,#5cf397,#47f1aa,#26e8c2,#00d6df,#00adf2,#0078f6,#0041e8,#0238df,#0047ea)"></i><i style="background:linear-gradient(90deg,#005ff0,#0099f4,#00bfec,#00dadd,#1ce5c9,#30ebbb,#36edb7,#2eeabd,#19e4cb,#00dadd,#00c6e8,#00b4f1,#00a7f2,#00a2f3,#00a4f3,#00abf2,#00b4f1,#00beed,#00c7e8,#00cfe3,#00d5e0,#00d9de,#00d9de,#00d5e0,#00cde4,#00beec,#00aaf2,#0091f6,#006cf3,#0139e0,#0721c4,#0054ed,#008df6,#00b8f0,#04ddda,#3aeeb4,#6af48a,#83f774,#80f676,#6df488,#5af399,#4bf1a6,#30ebbb,#01dcdc,#00b8f0,#009af4,#0092f5,#009df4,#00a3f3,#009df4,#0089f7,#005ff0,#0332d8,#0040e8,#007cf7,#00aef1,#00d4e0,#24e7c4,#4bf1a6,#6cf488,#84f773,#93f865,#9bf65c,#a3f553,#adf447,#baf238,#c8f028,#cded22,#c9f027,#b6f33c,#94f763,#56f29c,#11e1d0,#00baef,#008ff6,#007af6,#008af7,#00b1f1,#00d7df,#26e8c2,#45f1ab,#58f29a,#57f29b,#42f0ae,#22e7c5,#00d4e1,#00abf2,#0077f6,#0040e8,#0237dd,#0046e9)"></i><i style="background:linear-gradient(90deg,#0059ee,#0095f5,#00bbee,#00d6df,#16e3cd,#29e9c0,#2eeabc,#27e8c1,#15e2ce,#00d8de,#00c5e9,#00b3f1,#00a5f3,#009ef4,#009ef4,#00a2f3,#00aaf2,#00b3f1,#00bcee,#00c4e9,#00cce5,#00d1e2,#00d2e1,#00d0e3,#00cae6,#00beed,#00acf2,#0098f5,#0079f6,#004aea,#0430d5,#0058ee,#008ef6,#00b8f0,#03ddda,#3aeeb4,#6bf48a,#82f775,#7ff677,#70f585,#65f48f,#5ff394,#44f0ac,#14e2ce,#00c6e8,#00acf2,#00a2f3,#00a5f3,#00a8f2,#00a1f3,#008ff6,#0065f1,#0332d8,#0040e8,#0080f8,#00b3f1,#00dcdc,#33ecb9,#62f392,#85f771,#9df659,#aaf44a,#b0f344,#b5f33e,#bcf236,#c5f02b,#cdee22,#cfed20,#c7f029,#b0f343,#8bf86c,#4cf1a6,#09dfd5,#00b7f0,#0090f6,#007ff8,#008ff6,#00b4f1,#00d8de,#26e8c2,#43f0ae,#54f29e,#53f29f,#3eefb1,#1ee5c7,#00d2e2,#00aaf2,#0076f5,#003ee6,#0236dc,#0046e9)"></i><i style="background:linear-gradient(90deg,#0054ed,#0091f6,#00b8f0,#00d2e1,#10e1d1,#22e7c4,#27e8c1,#21e6c5,#11e1d1,#00d7df,#00c5e9,#00b3f1,#00a3f3,#009af4,#0097f5,#0099f4,#00a0f3,#00a8f2,#00b0f1,#00baef,#00c2ea,#00c8e7,#00cbe6,#00cae6,#00c7e8,#00bded,#00aef1,#009ef4,#0085f7,#005cef,#003ee6,#0061f0,#0092f5,#00b9f0,#03ddda,#3aeeb4,#6bf48a,#80f676,#7df679,#72f583,#6ff586,#72f583,#5bf397,#28e8c1,#00d4e0,#00beed,#00b3f1,#00aff1,#00adf2,#00a6f3,#0095f5,#006af3,#0332d8,#0040e8,#0084f7,#00b9ef,#0bdfd5,#43f0ae,#78f67e,#9bf65c,#b2f341,#c0f131,#c3f12d,#c6f02a,#caef26,#ceed21,#d2eb1c,#d0ec1e,#c4f12c,#aaf44a,#81f676,#41f0af,#02ddda,#00b4f1,#0091f6,#0084f7,#0094f5,#00b6f0,#00d9de,#25e8c3,#40f0b0,#50f2a2,#4ef1a3,#3aeeb4,#1ae4ca,#00d0e3,#00a8f2,#0075f5,#013de4,#0235db,#0046e9)"></i><i style="background:linear-gradient(90deg,#004fec,#008ef6,#00b5f0,#00d0e3,#0bdfd5,#1de5c8,#21e6c5,#1ce5c9,#0ee0d3,#00d6df,#00c5e9,#00b2f1,#00a2f3,#0097f5,#0092f5,#0091f6,#0096f5,#009df4,#00a4f3,#00aef1,#00b8f0,#00bfec,#00c3ea,#00c4e9,#00c3ea,#00bbee,#00aff1,#00a4f3,#008ff6,#006df3,#0051ec,#006ef4,#0099f4,#00bbee,#05ded8,#3befb3,#6bf48a,#7ef678,#7af67b,#72f583,#76f57f,#83f774,#71f584,#3beeb3,#0bdfd5,#00d0e3,#00c3ea,#00bbef,#00b4f1,#00abf2,#009bf4,#006ff4,#0332d8,#0042e8,#0088f7,#00beed,#16e3cd,#55f29d,#8df86b,#adf447,#c6f02a,#d2eb1b,#d3eb1a,#d3eb1a,#d4ea19,#d5e918,#d6e917,#d1ec1d,#c1f130,#a4f551,#77f57f,#39eeb5,#00d9de,#00b1f1,#0093f5,#0089f7,#0098f5,#00b9ef,#00d9de,#24e7c3,#3defb2,#4bf1a6,#49f1a8,#36edb7,#17e3cc,#00cee4,#00a6f3,#0073f5,#013be2,#0334da,#0046ea)"></i><i style="background:linear-gradient(90deg,#004deb,#008cf6,#00b3f1,#00cee4,#07ded7,#18e4cb,#1de5c8,#18e4cb,#0bdfd4,#00d6df,#00c5e9,#00b3f1,#00a1f3,#0094f5,#008df6,#0089f7,#008cf6,#0091f6,#0097f5,#00a2f3,#00adf2,#00b6f0,#00bbee,#00beed,#00beec,#00b8f0,#00b0f1,#00aaf2,#0099f4,#007df7,#0066f1,#007ff8,#00a3f3,#00c0eb,#09dfd6,#3defb2,#6af48a,#7bf67b,#77f57f,#71f584,#7cf67a,#91f867,#85f772,#51f2a0,#21e6c5,#08ded7,#00d3e1,#00c6e8,#00bbee,#00b0f1,#00a1f3,#0074f5,#0332d8,#0044e9,#008cf6,#00c4ea,#21e6c6,#66f48e,#9df659,#bef134,#d5e917,#e1e409,#e0e40a,#dee50c,#dde50d,#dbe610,#d9e813,#d1ec1d,#bef134,#9ef658,#6cf488,#31ebba,#00d5e0,#00b0f1,#0095f5,#008ef6,#009df4,#00bbee,#00dadd,#22e7c4,#3aeeb4,#46f1aa,#44f0ad,#32ecba,#13e2cf,#00cce5,#00a5f3,#0072f5,#0239df,#0333d9,#0047ea)"></i><i style="background:linear-gradient(90deg,#004ceb,#008bf6,#00b2f1,#00cce5,#04ddd9,#15e3ce,#19e4cb,#15e3cd,#0adfd5,#00d6df,#00c6e8,#00b4f1,#00a1f3,#0093f5,#0089f7,#0082f8,#0083f8,#0086f7,#008bf6,#0096f5,#00a2f3,#00acf2,#00b2f1,#00b6f0,#00b9ef,#00b4f1,#00aff1,#00aef1,#00a1f3,#008cf6,#007cf7,#0090f6,#00b0f1,#00c8e7,#10e1d1,#3ff0b1,#69f48b,#76f57f,#72f583,#6ff586,#80f676,#9af75d,#95f763,#68f48c,#39eeb5,#24e7c3,#0ce0d4,#00d2e1,#00c3ea,#00b5f0,#00a5f3,#0077f6,#0333d9,#0047ea,#0090f6,#00c9e7,#2be9bf,#75f580,#abf449,#ccee23,#e2e308,#ecd900,#eadb00,#e8df00,#e5e103,#e1e409,#dbe610,#d1ec1d,#baf238,#97f760,#63f391,#2ae9bf,#00d2e1,#00aff1,#0098f5,#0093f5,#00a1f3,#00bded,#00dadd,#20e6c6,#36edb7,#41f0af,#3ff0b1,#2eeabd,#10e1d1,#00cae6,#00a4f3,#0072f4,#0237de,#0332d8,#0046ea)"></i><i style="background:linear-gradient(90deg,#004eec,#008bf6,#00b2f1,#00cce5,#03ddda,#13e2cf,#17e3cc,#14e2cf,#09dfd6,#00d6df,#00c7e8,#00b5f0,#00a2f3,#0093f5,#0087f7,#007cf7,#007af6,#007cf7,#007ff8,#008af7,#0097f5,#00a1f3,#00a9f2,#00aef1,#00b2f1,#00aff1,#00adf2,#00b0f1,#00a9f2,#009bf4,#0091f6,#00a2f3,#00beed,#00d1e2,#18e4cb,#42f0ae,#67f48d,#71f584,#6cf489,#6cf488,#82f774,#9ff657,#9ff656,#7ef678,#57f29c,#40f0b0,#27e8c1,#05ddd9,#00cae6,#00baef,#00a7f2,#0079f6,#0236dd,#004beb,#0093f5,#00cde4,#34ecb9,#82f774,#b7f23b,#d6e916,#ebda00,#f2cc00,#f1cf00,#eed400,#ebdb00,#e5e103,#dde60e,#cfec1f,#b6f33d,#91f867,#5af399,#24e7c3,#00d0e3,#00b0f1,#009cf4,#0099f4,#00a6f3,#00bfec,#00d9de,#1de5c8,#32ecba,#3cefb3,#3aeeb4,#2ae9bf,#0ce0d4,#00c9e7,#00a3f3,#0071f4,#0237de,#0332d7,#0045e9)"></i><i style="background:linear-gradient(90deg,#0052ed,#008df6,#00b3f1,#00cce5,#03ddda,#12e2d0,#16e3cd,#13e2cf,#09dfd6,#00d7df,#00c8e7,#00b7f0,#00a4f3,#0093f5,#0085f7,#0078f6,#0072f4,#0071f4,#0074f5,#007ff8,#008cf6,#0097f5,#009ff4,#00a5f3,#00a9f2,#00a9f2,#00aaf2,#00b1f1,#00b0f1,#00a9f2,#00a5f3,#00b6f0,#00cce5,#02dddb,#23e7c4,#46f1ab,#63f391,#6af48b,#65f48f,#68f48c,#82f774,#a2f553,#a8f54d,#93f865,#77f57f,#64f490,#42f0ae,#19e4cb,#00d2e2,#00bded,#00a7f2,#007af6,#013ae1,#0050ec,#0097f5,#00d1e2,#3cefb3,#8ef86a,#c1f12f,#dfe40b,#f1cf00,#f8c100,#f6c400,#f3cb00,#eed400,#e8df00,#dee50d,#ceed21,#b2f342,#8af76d,#52f2a0,#1ee5c7,#00cee4,#00b1f1,#00a1f3,#009ef4,#00aaf2,#00c0eb,#00d8de,#1ae4ca,#2deabd,#37edb6,#35edb7,#25e8c2,#09dfd6,#00c7e7,#00a3f3,#0072f4,#0238df,#0431d6,#0043e9)"></i><i style="background:linear-gradient(90deg,#0058ee,#008ff6,#00b4f1,#00cde4,#04ddd9,#12e2cf,#17e3cd,#14e2cf,#0adfd5,#00d8de,#00cae6,#00b9ef,#00a6f3,#0095f5,#0085f7,#0076f5,#006cf3,#0068f2,#0069f2,#0073f5,#0081f8,#008cf6,#0095f5,#009bf4,#00a0f3,#00a1f3,#00a6f3,#00b1f1,#00b6f0,#00b6f0,#00b9ef,#00c8e7,#00dbdd,#15e3cd,#2febbc,#4bf1a6,#5ff394,#61f392,#5cf396,#63f391,#81f676,#a3f552,#aff445,#a3f552,#94f763,#86f771,#63f391,#2ceabe,#00d9de,#00c0eb,#00a7f2,#0079f6,#013ee5,#0054ed,#009af4,#00d5e0,#44f0ad,#96f761,#caef26,#e7e001,#f5c600,#fab900,#f9bc00,#f6c300,#f1ce00,#eadc00,#dee50d,#ccee24,#adf447,#82f774,#4af1a7,#19e4cb,#00cee4,#00b4f1,#00a6f3,#00a4f3,#00aff1,#00c2ea,#00d7df,#16e3cd,#29e9c0,#32ecba,#30ebbb,#21e6c5,#06ded8,#00c7e8,#00a3f3,#0072f5,#013ae1,#0430d5,#0040e8)"></i><i style="background:linear-gradient(90deg,#005ff0,#0093f5,#00b7f0,#00cfe3,#06ded8,#14e2ce,#18e3cc,#15e3cd,#0ce0d4,#00dadd,#00cce5,#00bcee,#00aaf2,#0098f5,#0086f7,#0075f5,#0068f2,#0062f0,#0060f0,#0069f2,#0076f6,#0082f8,#008bf6,#0091f6,#0096f5,#0098f5,#00a1f3,#00b1f1,#00bcee,#00c2ea,#00cae6,#00dadd,#16e3cd,#2ae9bf,#3cefb3,#50f2a2,#5af398,#58f29a,#53f29f,#5cf397,#7df679,#a3f553,#b4f33f,#b2f341,#acf448,#a4f551,#83f774,#3ff0b1,#06ded8,#00c3ea,#00a6f3,#0078f6,#0040e8,#0058ee,#009df4,#00d8de,#4bf1a6,#9df659,#cfec1f,#ebd900,#f8be00,#fbb300,#fbb500,#f9be00,#f3ca00,#ebda00,#dde50d,#c9f027,#a7f54d,#7bf67b,#43f0ad,#15e3ce,#00cde4,#00b8f0,#00acf2,#00abf2,#00b3f1,#00c3ea,#00d6df,#11e1d0,#23e7c4,#2deabd,#2beabe,#1de5c8,#04ddda,#00c6e8,#00a3f3,#0073f5,#013be3,#042fd4,#003ee6)"></i><i style="background:linear-gradient(90deg,#0067f2,#0097f5,#00baef,#00d2e2,#09dfd6,#17e3cd,#1ae4ca,#18e3cc,#0fe1d2,#00dcdc,#00cfe3,#00c0ec,#00aef1,#009bf4,#0089f7,#0076f6,#0067f2,#005def,#005aee,#0061f0,#006df3,#0077f6,#0081f8,#0088f7,#008bf6,#008df6,#009bf4,#00b0f1,#00c1eb,#00cee4,#00dbdd,#17e3cc,#2eeabd,#3eefb1,#4cf1a5,#56f29d,#56f29c,#4ef1a3,#48f1a9,#53f29e,#77f67e,#a1f655,#b9f23a,#c0f131,#c2f12f,#bef133,#9ff657,#55f29d,#10e1d1,#00c6e8,#00a6f3,#0077f6,#0042e8,#005bef,#00a0f3,#00dbdd,#52f2a0,#a2f553,#d4ea19,#efd300,#fab900,#fcae00,#fcb000,#fab900,#f5c700,#ecd900,#dce60f,#c5f02c,#a2f554,#73f582,#3defb2,#11e1d0,#00cee4,#00bcee,#00b2f1,#00b1f1,#00b8f0,#00c4e9,#00d5e0,#0ce0d4,#1ee5c8,#27e8c1,#26e8c2,#1ae4ca,#01dcdb,#00c5e9,#00a3f3,#0075f5,#013de4,#042ed3,#013de4)"></i><i style="background:linear-gradient(90deg,#006ff4,#009cf4,#00beed,#00d5e0,#0de0d3,#1ae4ca,#1ee5c8,#1be4c9,#12e2cf,#04ddd9,#00d2e1,#00c3ea,#00b2f1,#00a0f3,#008df6,#0079f6,#0068f2,#005bef,#0056ee,#005cef,#0065f1,#006ef3,#0077f6,#007ef8,#0080f8,#0082f8,#0094f5,#00aff1,#00c6e8,#00d8de,#16e3cd,#30ebbb,#46f1ab,#56f29c,#5ef395,#5cf397,#52f2a0,#44f0ad,#3defb2,#49f1a8,#70f584,#9ef658,#bcf235,#ccee24,#d4ea19,#d4ea19,#b7f23c,#6af48a,#19e4cb,#00c8e7,#00a5f3,#0076f5,#0042e9,#005eef,#00a2f3,#02dddb,#58f29b,#a7f54e,#d8e814,#f1cd00,#fbb500,#fdab00,#fdad00,#fab700,#f5c500,#ecd900,#dae711,#c0f131,#9cf65a,#6cf488,#38eeb5,#0ee0d2,#00cfe3,#00c0ec,#00b9f0,#00b8f0,#00bcee,#00c5e9,#00d3e1,#07ded7,#18e3cc,#21e6c5,#21e6c5,#16e3cd,#00dcdc,#00c5e9,#00a5f3,#0076f6,#013ee5,#042ed2,#013ce3)"></i><i style="background:linear-gradient(90deg,#0077f6,#00a1f3,#00c2eb,#00d9de,#12e2d0,#1ee5c7,#22e7c5,#1fe6c7,#17e3cc,#09dfd6,#00d6df,#00c8e7,#00b7f0,#00a5f3,#0091f6,#007ef7,#006bf3,#005def,#0055ed,#0059ee,#0061f0,#0067f2,#006ff4,#0075f5,#0073f5,#0075f5,#008cf6,#00aef1,#00cae6,#09dfd6,#2ceabe,#49f1a8,#62f392,#6ff586,#6ff586,#62f391,#4df1a4,#3aeeb4,#33ecb9,#3eefb1,#68f48c,#9bf65c,#bff132,#d5ea18,#e3e206,#e7e001,#ccee22,#7df67a,#21e6c5,#00cae6,#00a5f3,#0074f5,#0042e8,#005ff0,#00a3f3,#05ded8,#5cf397,#abf449,#dbe610,#f3c900,#fcb200,#fea800,#fdaa00,#fbb500,#f6c500,#ebda00,#d7e815,#bbf237,#96f761,#65f48f,#33ecb9,#0ce0d4,#00d0e3,#00c4e9,#00bfec,#00beed,#00c0ec,#00c6e8,#00d1e2,#01dcdb,#11e1d0,#1ce5c9,#1de5c8,#13e2cf,#00dbdd,#00c6e8,#00a6f3,#0079f6,#003ee6,#042dd2,#013be2)"></i><i style="background:linear-gradient(90deg,#0080f8,#00a7f2,#00c6e8,#01dcdb,#18e3cc,#23e7c4,#27e8c2,#24e7c3,#1ce5c9,#0ee0d2,#00dadd,#00cce5,#00bded,#00aaf2,#0097f5,#0083f8,#0070f4,#0060f0,#0058ee,#005bef,#0060f0,#0063f1,#0069f2,#006ef3,#0067f2,#0066f1,#0084f7,#00adf2,#00cee4,#17e3cc,#40f0b0,#65f48f,#7cf67a,#86f771,#80f677,#69f48b,#49f1a8,#31ebba,#28e8c1,#34ecb8,#5ef395,#97f760,#c1f12f,#dde60e,#edd500,#f3cb00,#dee50d,#8df86b,#28e8c1,#00cce5,#00a5f3,#0073f5,#0040e8,#0060f0,#00a5f3,#08ded7,#60f393,#aef446,#dee50d,#f5c700,#fcb000,#fea600,#fea900,#fbb400,#f5c500,#eadc00,#d4ea19,#b5f33e,#8ff869,#5df396,#2febbc,#0adfd5,#00d2e2,#00c9e6,#00c5e9,#00c4ea,#00c4ea,#00c7e8,#00cfe3,#00d9de,#0bdfd5,#16e3cd,#18e4cb,#10e1d1,#00dadd,#00c7e8,#00a8f2,#007bf7,#003fe7,#042dd2,#013be3)"></i><i style="background:linear-gradient(90deg,#0089f7,#00adf2,#00cbe5,#09dfd6,#1ee5c7,#29e9c0,#2ceabe,#29e9c0,#21e6c5,#14e2ce,#04ddda,#00d1e2,#00c2ea,#00b1f1,#009df4,#0089f7,#0077f6,#0067f2,#005eef,#0060f0,#0064f1,#0063f1,#0068f2,#006af2,#005eef,#0056ed,#007bf7,#00abf2,#00d2e2,#24e7c3,#56f29c,#7ef678,#93f864,#9af75c,#90f868,#6ff585,#45f1ab,#28e8c1,#1ce5c9,#29e9c0,#53f29f,#92f865,#c3f12e,#e4e205,#f5c600,#fab700,#ecd800,#99f75e,#2eeabd,#00cee4,#00a5f3,#0072f4,#003ee6,#0060f0,#00a6f3,#0adfd5,#63f490,#b1f343,#e0e40b,#f6c500,#fcaf00,#ffa600,#fea800,#fbb500,#f4c700,#e8df00,#d0ec1e,#aef445,#86f771,#55f29d,#2be9bf,#09dfd6,#00d4e0,#00cee4,#00cce5,#00cae6,#00c7e7,#00c8e7,#00cce5,#00d5e0,#04ddd9,#10e1d1,#14e2ce,#0de0d3,#00dadd,#00c8e7,#00abf2,#007ff8,#0040e8,#042ed3,#013ce4)"></i><i style="background:linear-gradient(90deg,#0091f6,#00b4f1,#00d1e2,#10e1d1,#24e7c3,#2febbc,#32ecba,#2febbc,#28e8c1,#1be4ca,#0bdfd4,#00d7df,#00c8e7,#00b7f0,#00a4f3,#0090f6,#007ef8,#006ff4,#0066f2,#0068f2,#006bf3,#0067f2,#006bf3,#006af2,#0057ee,#0045e9,#0072f4,#00a9f2,#00d4e0,#2eeabc,#6bf48a,#94f764,#a5f550,#abf449,#9cf65a,#76f57f,#42f0ae,#1fe6c7,#10e1d1,#1ce5c8,#48f1a9,#8cf86b,#c4f12c,#e9de00,#faba00,#fea800,#f5c600,#a2f554,#33ecb9,#00d0e3,#00a6f3,#0071f4,#013ce3,#0060f0,#00a7f2,#0ce0d4,#65f48e,#b2f341,#e1e409,#f6c400,#fcaf00,#ffa600,#fea900,#fab700,#f3ca00,#e5e204,#cbee24,#a7f54e,#7df679,#4ef1a3,#27e8c1,#09dfd6,#00d7df,#00d4e0,#00d3e1,#00d0e3,#00cbe5,#00c8e7,#00cae6,#00d0e3,#00dadd,#0adfd5,#10e1d1,#0be0d4,#00dadd,#00c9e6,#00aef1,#0082f8,#0041e8,#0430d5,#013ee5)"></i><i style="background:linear-gradient(90deg,#0099f4,#00bbee,#00d6df,#18e3cc,#2beabe,#35edb8,#38edb6,#36edb7,#2eeabc,#22e7c5,#13e2cf,#01dcdb,#00cee4,#00beed,#00abf2,#0097f5,#0086f7,#0078f6,#0070f4,#0073f5,#0077f6,#0071f4,#0072f5,#006ef4,#0055ed,#0238df,#0069f2,#00a7f2,#00d6df,#37edb6,#7cf67a,#a4f551,#b6f33d,#baf237,#a8f54c,#7df679,#3ff0b1,#16e3cd,#03ddda,#10e1d1,#3cefb2,#85f772,#c5f02c,#ecd700,#fcb000,#ff9c00,#fab700,#a9f44b,#38edb6,#00d2e2,#00a7f2,#0071f4,#013ae1,#0060f0,#00a8f2,#0de0d3,#67f48d,#b3f340,#e1e309,#f6c400,#fcb000,#fea700,#fdab00,#fab900,#f1cf00,#e1e409,#c5f02c,#9ff657,#74f582,#47f1aa,#24e7c3,#09dfd6,#00dbdd,#00dadd,#00d9dd,#00d6e0,#00cfe3,#00c9e7,#00c7e8,#00cbe5,#00d5e0,#05ddd9,#0de0d3,#0adfd5,#00dbdd,#00cbe5,#00b1f1,#0086f7,#0044e9,#0332d8,#003fe7)"></i><i style="background:linear-gradient(90deg,#00a2f3,#00c2eb,#00dcdc,#20e6c6,#32ecb9,#3befb3,#3eefb1,#3cefb2,#36edb7,#2ae9bf,#1ce5c9,#0adfd5,#00d5e0,#00c4e9,#00b2f1,#009ff4,#008ff6,#0083f8,#007df7,#0081f8,#0084f7,#007ef8,#007ef8,#0077f6,#0058ee,#0430d6,#0061f0,#00a5f3,#00d7df,#3eefb1,#8bf76d,#b2f342,#c4f12c,#c8f028,#b3f340,#84f773,#3eefb2,#0ee0d3,#00d6df,#02ddda,#32ecb9,#7ef678,#c5f02c,#efd200,#fea900,#ff9400,#fdad00,#b0f344,#3defb2,#00d4e0,#00a8f2,#0071f4,#0239e0,#0060f0,#00a9f2,#0ee0d2,#68f48c,#b4f33f,#e1e409,#f5c500,#fcb100,#fea900,#fdae00,#f9bd00,#eed400,#dbe610,#bdf235,#96f761,#69f48b,#3ff0b0,#22e6c5,#0adfd5,#04ddd9,#06ded8,#06ded8,#00dbdc,#00d3e1,#00c9e6,#00c4e9,#00c6e8,#00d0e3,#00dbdc,#0adfd5,#0adfd5,#00dcdc,#00cde4,#00b5f0,#008bf6,#004aea,#0236dc,#0040e8)"></i><i style="background:linear-gradient(90deg,#00acf2,#00c9e7,#09dfd6,#27e8c1,#39eeb5,#43f0ae,#46f1aa,#44f0ac,#3defb2,#32ecb9,#25e8c3,#14e2ce,#00dbdc,#00cbe5,#00baef,#00a7f2,#0098f5,#008df6,#0089f7,#008ef6,#0092f5,#008ef6,#008df6,#0083f8,#0061f0,#0332d7,#005bef,#00a2f3,#00d7df,#44f0ad,#94f763,#bdf235,#cfec1f,#d2eb1b,#bdf235,#8bf76d,#3defb2,#06ded8,#00cee4,#00d5e0,#28e9c0,#78f67e,#c4f12c,#f1ce00,#ffa300,#ff8f00,#fea700,#b8f23b,#43f0ad,#00d6df,#00aaf2,#0072f4,#013ae1,#0062f0,#00aaf2,#0fe1d1,#69f48b,#b4f33f,#e0e40a,#f5c700,#fbb400,#fdac00,#fcb200,#f7c200,#eadb00,#d5ea18,#b3f33f,#8cf86c,#5ff394,#3aeeb4,#20e6c6,#0de0d3,#0bdfd5,#0fe1d2,#10e1d1,#08ded7,#00d7df,#00cae6,#00c1eb,#00c1eb,#00cbe6,#00d8de,#08ded7,#0adfd5,#02ddda,#00d0e3,#00b8f0,#0090f6,#0053ed,#013ae1,#0040e8)"></i><i style="background:linear-gradient(90deg,#00b6f0,#00d0e3,#12e2cf,#2febbc,#40f0b0,#4bf1a6,#4ff2a2,#4ef1a4,#47f1aa,#3beeb3,#2eeabc,#1ee5c7,#09dfd6,#00d2e2,#00c1eb,#00b0f1,#00a1f3,#0097f5,#0095f5,#009bf4,#00a1f3,#009ff4,#009df4,#0090f6,#006ef3,#013be2,#0058ee,#009ef4,#00d7df,#47f1a9,#9af75c,#c6f02a,#d8e814,#dbe711,#c6f02b,#91f867,#3defb2,#00dcdc,#00c6e8,#00cce5,#1ee5c7,#71f584,#c3f12e,#f2cc00,#ff9f00,#ff8c00,#ffa400,#c0f132,#4bf1a6,#00d9de,#00abf2,#0073f5,#013de4,#0063f1,#00aaf2,#10e1d1,#69f48b,#b3f340,#dfe50c,#f3ca00,#fab700,#fcb100,#fab700,#f3c900,#e6e103,#cdee22,#a9f44b,#7ff677,#54f29e,#34ecb8,#1ee5c7,#11e1d0,#12e2d0,#18e4cb,#1ae4ca,#11e1d1,#00dadd,#00cae6,#00bded,#00bbef,#00c5e9,#00d4e0,#06ded8,#0ce0d4,#06ded8,#00d3e1,#00bcee,#0095f5,#005def,#003fe6,#003fe6)"></i><i style="background:linear-gradient(90deg,#00bfec,#00d8de,#1ce5c9,#36edb7,#49f1a8,#54f29e,#58f29a,#57f29b,#51f2a1,#45f1ab,#38eeb5,#28e9c0,#14e2cf,#00d9de,#00c8e7,#00b8f0,#00aaf2,#00a2f3,#00a2f3,#00aaf2,#00b1f1,#00b2f1,#00aef1,#009ff4,#007df7,#0049ea,#0057ee,#0099f4,#00d5e0,#49f1a8,#9ef658,#ccee23,#e0e40a,#e2e307,#cdee22,#96f761,#3eefb1,#00d8de,#00beed,#00c3ea,#14e2cf,#6af48a,#c2f12f,#f3ca00,#ff9d00,#ff8c00,#ffa500,#c6f02a,#52f29f,#00dbdd,#00acf2,#0074f5,#0040e8,#0065f1,#00abf2,#11e1d0,#68f48c,#b1f342,#dde60e,#f1cd00,#f9bb00,#fbb600,#f9bd00,#f0d100,#dee50c,#c3f12d,#9ef658,#71f584,#49f1a8,#2eebbc,#1de5c8,#16e3cd,#1ae4ca,#22e7c5,#23e7c4,#19e4cb,#03ddda,#00cbe6,#00b9ef,#00b3f1,#00bfec,#00d1e2,#05ded8,#0ee0d2,#09dfd6,#00d6df,#00c0ec,#009af4,#0068f2,#0045e9,#013de5)"></i><i style="background:linear-gradient(90deg,#00c7e7,#04ddd9,#25e7c3,#3eefb2,#51f2a0,#5cf396,#61f392,#60f393,#5bf398,#51f2a1,#42f0ae,#32ecba,#1ee5c7,#06ded8,#00cfe3,#00c0ec,#00b3f1,#00adf2,#00aff1,#00b8f0,#00c0eb,#00c3ea,#00bfec,#00aff1,#008cf6,#005aee,#0058ee,#0094f5,#00d2e2,#49f1a8,#a1f655,#d1ec1d,#e6e102,#e9df00,#d2eb1b,#9bf65b,#3ff0b1,#00d4e0,#00b5f0,#00baef,#09dfd6,#63f391,#c0f132,#f3c900,#ff9c00,#ff8c00,#fea600,#caef26,#59f29a,#02dddb,#00aef1,#0076f6,#0044e9,#0067f2,#00acf2,#11e1d0,#67f48d,#aff444,#dae711,#efd100,#f8bf00,#f9bb00,#f6c400,#ebda00,#d6e916,#b8f23b,#91f867,#63f391,#3eefb1,#29e9c0,#1de5c8,#1be4ca,#22e7c4,#2beabe,#2deabd,#22e6c5,#09dfd6,#00cbe5,#00b5f0,#00acf2,#00b8f0,#00cee4,#05ded9,#11e1d0,#0ee0d3,#00d9dd,#00c3ea,#00a0f3,#0072f4,#004ceb,#013ce3)"></i><i style="background:linear-gradient(90deg,#00d0e3,#10e1d1,#2eeabd,#46f1aa,#5af399,#65f48f,#6af48a,#6af48a,#65f48e,#5cf396,#4ef1a3,#3cefb3,#29e9c0,#11e1d0,#00d6df,#00c7e8,#00bcee,#00b7f0,#00bbee,#00c5e9,#00cfe3,#00d3e1,#00cfe3,#00beed,#009bf4,#006af2,#005aee,#008ff6,#00cfe3,#47f1aa,#a2f553,#d5ea18,#eadb00,#ecd700,#d8e814,#a0f656,#40f0b0,#00d1e2,#00acf2,#00b0f1,#00dbdd,#5bf397,#bdf235,#f3ca00,#ff9c00,#ff8e00,#fea900,#ccee23,#5ef395,#05ded9,#00aff1,#0079f6,#0048ea,#0069f2,#00adf2,#11e1d0,#66f48e,#adf447,#d7e815,#edd600,#f5c500,#f7c200,#f2cd00,#e5e103,#cded21,#abf449,#81f676,#53f29f,#34ecb8,#24e7c3,#1de5c8,#20e6c6,#2be9bf,#35edb8,#36edb7,#2ae9bf,#0ee0d2,#00cbe5,#00b0f1,#00a3f3,#00b1f1,#00cbe6,#05ded8,#14e2ce,#12e2cf,#01dcdb,#00c7e8,#00a6f3,#007bf7,#0052ec,#013ae1)"></i><i style="background:linear-gradient(90deg,#00d8de,#1ae4ca,#36edb7,#4ff2a2,#62f391,#6df587,#72f583,#73f582,#70f585,#68f48c,#5bf398,#48f1a9,#33ecb9,#1be5c9,#02dddb,#00cfe3,#00c4e9,#00c1eb,#00c6e8,#00d1e2,#02dddb,#0ce0d4,#04ddd9,#00cde5,#00aaf2,#0079f6,#005cef,#0089f7,#00cae6,#44f0ad,#a2f553,#d7e815,#edd500,#f0d000,#dde50e,#a4f551,#41f0af,#00cee4,#00a3f3,#00a5f3,#00d4e1,#53f29e,#baf238,#f3cb00,#ff9d00,#ff9000,#fdac00,#ccee23,#61f393,#08ded7,#00b1f1,#007bf7,#004beb,#006af3,#00adf2,#11e1d0,#64f490,#aaf44b,#d4ea19,#eadc00,#f2cc00,#f3ca00,#edd600,#dde50e,#c3f12e,#9ef658,#6ff585,#43f0ad,#2be9bf,#1fe6c7,#1de5c8,#25e7c3,#33ecb9,#3eefb1,#3ff0b1,#32ecba,#14e2ce,#00cce5,#00abf2,#0099f4,#00a9f2,#00c8e7,#06ded8,#18e3cc,#17e3cc,#06ded8,#00cbe6,#00abf2,#0082f8,#0057ee,#0239e0)"></i><i style="background:linear-gradient(90deg,#06ded8,#25e7c3,#3ff0b1,#58f29a,#6af48a,#75f580,#7bf67b,#7cf67a,#7af67c,#73f582,#66f48e,#54f29e,#3defb2,#26e8c2,#0de0d3,#00d6df,#00cce5,#00cae6,#00d0e2,#02dddb,#17e3cc,#24e7c4,#1ce5c8,#00dbdd,#00b9f0,#0087f7,#005ef0,#0082f8,#00c6e8,#3ff0b0,#a2f554,#d9e712,#f0d000,#f3ca00,#e2e308,#a8f54c,#42f0ae,#00cae6,#0099f4,#0099f4,#00cce5,#4bf1a6,#b6f33d,#f1cd00,#ff9f00,#ff9300,#fcaf00,#cbef24,#62f392,#0adfd5,#00b4f1,#007ef8,#004deb,#006bf3,#00aef1,#11e1d1,#61f392,#a6f54f,#d0ec1e,#e6e102,#eed400,#efd300,#e8e000,#d4ea19,#b6f33c,#90f868,#5df396,#35ecb8,#21e6c5,#1ae4ca,#1ee5c8,#2ae9bf,#3aeeb4,#49f1a8,#49f1a8,#39eeb5,#19e4cb,#00cce5,#00a6f3,#008ff6,#00a0f3,#00c5e9,#08ded7,#1ce5c9,#1ce5c9,#0ce0d4,#00cee4,#00b0f1,#0088f7,#005bef,#0237de)"></i><i style="background:linear-gradient(90deg,#11e1d0,#2eebbc,#48f1a9,#61f393,#72f583,#7df679,#83f774,#85f772,#83f773,#7ef678,#72f583,#60f394,#49f1a8,#30ebbb,#17e3cc,#01dcdb,#00d4e1,#00d3e1,#00dadd,#14e2ce,#2ceabe,#3beeb4,#34ecb9,#14e2ce,#00c6e8,#0094f5,#0062f0,#007bf7,#00c1eb,#3befb3,#a1f655,#dbe711,#f2cc00,#f6c400,#e6e102,#acf448,#42f0ae,#00c7e8,#0090f6,#008df6,#00c5e9,#43f0ae,#b1f342,#f0d000,#ffa100,#ff9600,#fbb300,#c8f027,#61f392,#0be0d4,#00b6f0,#0081f8,#004eec,#006bf3,#00aef1,#10e1d1,#5ef395,#a2f554,#cbee24,#e1e409,#eadc00,#eadc00,#e0e40a,#cbef25,#a9f44c,#7ef678,#4af1a7,#27e8c1,#17e3cc,#15e3cd,#1ee5c7,#2eebbc,#42f0ae,#53f29f,#53f29f,#41f0af,#1fe6c7,#00cde5,#00a1f3,#0083f8,#0097f5,#00c3ea,#0adfd5,#20e6c6,#21e6c5,#11e1d0,#00d2e2,#00b4f1,#008ef6,#005ff0,#0236dc)"></i><i style="background:linear-gradient(90deg,#1be5c9,#38edb6,#52f2a0,#69f48b,#7af67c,#85f772,#8bf76d,#8df86a,#8cf86b,#88f76f,#7df679,#6bf489,#54f29e,#3aeeb4,#21e6c5,#0ce0d4,#00dbdc,#00dbdd,#0ce0d4,#25e7c3,#3ff0b1,#54f29e,#4cf1a5,#29e9c0,#00d3e1,#00a0f3,#0065f1,#0072f4,#00bcee,#37edb6,#9ff657,#dbe610,#f4c800,#f8bf00,#e9dd00,#aff445,#42f0ae,#00c4e9,#0086f7,#0080f8,#00beed,#3beeb3,#adf447,#eed400,#ffa400,#ff9900,#fab700,#c4f12c,#5ff395,#0ce0d4,#00b8f0,#0083f8,#004fec,#006af3,#00aef1,#0fe1d2,#5af399,#9df659,#c6f02b,#dae711,#e4e205,#e3e206,#d7e916,#bff133,#9bf65b,#6cf489,#39eeb5,#19e4cb,#0ee0d3,#11e1d0,#1ee6c7,#33ecb9,#4bf1a6,#5df396,#5cf397,#49f1a8,#24e7c3,#00cde4,#009bf4,#0074f5,#008ef6,#00c1eb,#0ce0d4,#23e7c4,#26e8c2,#16e3cd,#00d4e0,#00b8f0,#0092f5,#0061f0,#0334da)"></i><i style="background:linear-gradient(90deg,#25e8c2,#40f0b0,#5bf398,#71f584,#81f676,#8cf86c,#92f866,#94f763,#94f763,#91f866,#87f770,#76f580,#60f393,#44f0ac,#2be9be,#16e3cd,#0adfd5,#0bdfd4,#1ae4ca,#34ecb8,#55f29d,#6ef587,#65f48e,#3defb2,#06ded8,#00abf2,#0069f2,#0069f2,#00b7f0,#32ecb9,#9df659,#dce60f,#f5c600,#f9bb00,#ecd900,#b1f342,#42f0ae,#00c1eb,#007cf7,#0070f4,#00b7f0,#34ecb8,#a8f54d,#ebd900,#fea800,#ff9d00,#f9bc00,#bef133,#5bf398,#0ce0d3,#00baef,#0086f7,#004fec,#0069f2,#00aef1,#0de0d3,#55f29d,#97f760,#bff133,#d3ea1a,#dde60e,#dbe610,#cded21,#b2f341,#8df86b,#59f399,#2ae9bf,#0bdfd5,#05ddd9,#0de0d3,#1fe6c7,#37edb6,#53f29f,#65f48e,#64f490,#51f2a1,#29e9c0,#00cde4,#0096f5,#0064f1,#0085f7,#00c0ec,#0fe1d2,#27e8c1,#2ae9bf,#1ae4ca,#00d7df,#00baef,#0095f5,#0062f1,#0332d7)"></i><i style="background:linear-gradient(90deg,#2eeabc,#4af1a7,#63f391,#78f67e,#88f76f,#92f866,#98f75f,#9af75c,#9af75c,#99f75e,#90f868,#80f677,#6bf489,#50f2a2,#34ecb8,#20e6c6,#15e2ce,#17e3cc,#27e8c1,#44f0ad,#6af48a,#85f772,#7df679,#53f29f,#18e4cb,#00b7f0,#006ef4,#0060f0,#00b2f1,#2eeabc,#9bf65b,#dce60f,#f6c400,#fab800,#edd500,#b3f340,#42f0ae,#00bfec,#0072f4,#0060f0,#00b0f1,#2eeabd,#a2f553,#e9de00,#fdad00,#ffa100,#f7c100,#b7f23b,#56f29c,#0ce0d4,#00bcee,#0088f7,#0050ec,#0068f2,#00aef1,#0be0d4,#4ff2a2,#91f867,#b7f23c,#ccee23,#d4ea18,#d2eb1b,#c3f12e,#a5f550,#7bf67b,#47f1aa,#1be4ca,#00dadd,#00dadd,#0adfd5,#20e6c6,#3aeeb4,#59f399,#6df587,#6bf489,#57f29b,#2deabd,#00cde4,#0092f5,#0052ec,#007cf7,#00bfec,#11e1d0,#2be9bf,#2eeabc,#1ee5c8,#00d9de,#00bcee,#0097f5,#0063f1,#0430d5)"></i><i style="background:linear-gradient(90deg,#36edb7,#52f2a0,#6af48a,#7ff677,#8ef86a,#97f760,#9df659,#a0f656,#a0f655,#9ff657,#97f760,#89f76e,#75f580,#5af398,#3defb2,#29e9c0,#1fe6c7,#22e7c5,#34ecb9,#54f29e,#7cf67a,#98f75f,#92f866,#68f48c,#2ae9bf,#00c1eb,#0075f5,#0059ee,#00aef1,#2ae9bf,#99f75e,#dbe610,#f6c300,#fbb600,#eed300,#b4f33f,#41f0af,#00bded,#006af2,#0052ed,#00abf2,#27e8c1,#9cf65a,#e4e205,#fbb300,#fea700,#f4c800,#b0f344,#51f2a1,#0ce0d4,#00bded,#008af7,#0051ec,#0068f2,#00adf2,#09dfd6,#49f1a8,#87f770,#adf447,#c2f12f,#ccee23,#c9ef27,#b6f33c,#97f760,#69f48b,#37edb6,#0ce0d3,#00d2e2,#00d5e0,#07ded7,#20e6c6,#3defb2,#5ff394,#73f582,#70f584,#5cf396,#30ebbb,#00cee4,#008ef6,#0040e8,#0073f5,#00beed,#14e2ce,#2eeabd,#31ebba,#21e6c6,#00dadd,#00bcee,#0097f5,#0062f1,#0430d5)"></i><i style="background:linear-gradient(90deg,#3cefb3,#59f399,#71f584,#85f772,#93f864,#9cf65a,#a2f554,#a5f550,#a6f54f,#a5f551,#9df659,#92f866,#7ff677,#65f48f,#47f1aa,#32ecba,#28e9c0,#2ceabe,#3ff0b1,#64f490,#8df86b,#a6f54f,#a0f655,#7cf67a,#3aeeb4,#00cbe6,#007cf7,#0057ee,#00aaf2,#27e8c1,#97f760,#dae711,#f6c300,#fbb500,#efd200,#b5f33e,#41f0af,#00bcee,#0065f1,#004aea,#00a6f3,#22e7c4,#97f760,#dfe50b,#f9ba00,#fcae00,#f0d000,#a9f44b,#4bf1a6,#0adfd5,#00beed,#008cf6,#0053ed,#0068f2,#00adf2,#07ded7,#41f0af,#7cf67a,#a2f553,#b7f23c,#c1f130,#bdf234,#aaf44b,#88f76f,#58f29b,#2ae9bf,#00dcdc,#00cbe5,#00d1e2,#05ddd9,#21e6c5,#40f0b0,#63f391,#77f67e,#75f581,#60f393,#33ecb9,#00cee4,#008bf6,#0236dc,#006df3,#00beed,#15e3cd,#30ebbb,#34ecb9,#23e7c4,#00dadd,#00bbee,#0095f5,#0062f0,#0431d6)"></i><i style="background:linear-gradient(90deg,#42f0af,#60f394,#77f67e,#8bf76d,#98f75f,#a1f655,#a6f54e,#aaf44b,#aaf44a,#a9f44b,#a3f553,#98f75f,#88f76f,#6ef586,#51f2a1,#3aeeb4,#31ebba,#36edb7,#4bf1a6,#72f583,#9af75d,#b2f341,#adf446,#8ef86a,#4bf1a6,#00d4e1,#0085f7,#0058ee,#00a9f2,#25e8c3,#95f763,#d9e813,#f6c400,#fbb600,#efd300,#b5f33e,#40f0b0,#00bbee,#0063f1,#0047ea,#00a4f3,#1ee5c7,#91f867,#d9e813,#f7c200,#fab700,#ebd900,#a3f553,#46f1ab,#09dfd6,#00beec,#008ef6,#0056ed,#006af2,#00adf2,#04ddda,#3aeeb4,#6ff586,#96f761,#abf449,#b5f33e,#b0f343,#9cf65a,#77f67e,#46f1aa,#1ce5c9,#00d4e0,#00c6e8,#00cde4,#03ddda,#22e7c5,#42f0ae,#65f48e,#7af67c,#77f67e,#63f391,#34ecb8,#00cee4,#0089f7,#0331d6,#006af3,#00bded,#16e3cd,#31ebba,#35edb7,#24e7c3,#00dadd,#00b9ef,#0091f6,#0061f0,#0333d9)"></i><i style="background:linear-gradient(90deg,#47f1aa,#65f48f,#7df679,#90f868,#9cf65a,#a5f550,#abf44a,#aef446,#aff445,#adf446,#a8f54d,#9ef658,#90f868,#78f67e,#5bf398,#42f0ae,#3aeeb4,#40f0b0,#57f29b,#7ef678,#a4f551,#bcf236,#b8f23a,#9bf65c,#5df396,#01dcdb,#008df6,#005def,#00a9f2,#24e7c3,#93f865,#d7e915,#f5c600,#fab800,#eed400,#b4f33f,#40f0b0,#00bbee,#0065f1,#004aeb,#00a3f3,#1be4c9,#8af76e,#d2eb1b,#f2cc00,#f8c000,#e5e103,#9cf65a,#41f0af,#07ded7,#00beed,#008ff6,#0059ee,#006cf3,#00acf2,#00dcdc,#33ecb9,#61f392,#87f770,#9ef658,#a8f54d,#a3f552,#8ff869,#66f48e,#38edb6,#10e1d1,#00cee4,#00c2ea,#00cbe6,#01dcdb,#22e7c4,#44f0ad,#67f48d,#7af67b,#79f67d,#64f490,#34ecb8,#00cee4,#0088f7,#0430d5,#0069f2,#00bded,#16e3cd,#32ecb9,#36edb7,#25e7c3,#00d9dd,#00b6f0,#008cf6,#005ff0,#0236dc)"></i><i style="background:linear-gradient(90deg,#4cf1a5,#6af48a,#82f775,#94f763,#a0f656,#a9f44c,#aef445,#b2f341,#b3f340,#b1f342,#acf448,#a3f552,#97f760,#80f676,#64f490,#4cf1a5,#43f0ae,#4bf1a6,#63f391,#8af76e,#adf446,#c5f02b,#c2f12f,#a6f54f,#6df587,#0fe1d2,#0097f5,#0064f1,#00aaf2,#24e7c3,#91f867,#d5ea18,#f3c900,#f9ba00,#edd600,#b2f341,#3ff0b0,#00bcee,#0069f2,#0050ec,#00a3f3,#18e4cb,#82f774,#ccee23,#edd600,#f3cb00,#dde60e,#95f762,#3cefb3,#05ddd9,#00beed,#0090f6,#005def,#006ef3,#00acf2,#00dadd,#2beabe,#52f29f,#76f57f,#91f867,#9bf65c,#96f761,#7ef678,#56f29d,#2be9bf,#04ddd9,#00c8e7,#00bfec,#00c9e7,#00dcdc,#23e7c4,#44f0ac,#67f48d,#7af67c,#79f67d,#64f490,#34ecb8,#00cee4,#0089f7,#0333d9,#006af3,#00bded,#16e3cd,#32ecb9,#36edb7,#24e7c3,#00d8de,#00b2f1,#0085f7,#005eef,#0239e0)"></i><i style="background:linear-gradient(90deg,#50f2a1,#6ef587,#86f771,#98f75f,#a4f552,#acf448,#b2f341,#b5f33d,#b6f33c,#b4f33e,#b0f343,#a8f54c,#9df65a,#89f76f,#6df488,#55f29d,#4df1a4,#56f29c,#6df587,#93f864,#b6f33d,#ccee23,#caef26,#aff445,#7cf67a,#1ce5c9,#00a0f3,#006df3,#00aef1,#24e7c3,#8ff869,#d3eb1b,#f2cd00,#f9bd00,#ebda00,#b0f343,#3ff0b1,#00bded,#0070f4,#0058ee,#00a4f3,#16e3cd,#7bf67b,#c4f12d,#e7e001,#edd600,#d5ea18,#8df86b,#38edb6,#02ddda,#00beed,#0091f6,#0060f0,#0070f4,#00abf2,#00d7df,#23e7c4,#43f0ad,#64f490,#80f677,#8cf86b,#86f771,#6df587,#45f0ac,#1ee5c7,#00d7df,#00c3ea,#00bcee,#00c7e8,#00dcdc,#23e7c4,#44f0ac,#66f48e,#79f67d,#78f67e,#63f391,#33ecb9,#00cee4,#008bf6,#0238df,#006df3,#00bded,#16e3cd,#31ebba,#36edb7,#23e7c4,#00d7df,#00aef1,#007ef8,#005cef,#013be3)"></i><i style="background:linear-gradient(90deg,#54f29e,#72f583,#8af76d,#9bf65b,#a7f54e,#b0f344,#b5f33d,#b9f239,#baf238,#b8f23b,#b4f33f,#adf447,#a2f553,#90f868,#75f580,#5ef395,#58f29b,#61f392,#78f67e,#9bf65b,#bdf235,#d1ec1d,#cfed1f,#b7f23c,#88f76f,#27e8c1,#00abf2,#007af6,#00b2f1,#26e8c2,#8df86a,#d0ec1e,#efd100,#f7c200,#e9de00,#aef446,#3ff0b1,#00c0ec,#0078f6,#0062f1,#00a6f3,#14e2ce,#73f582,#bbf237,#dee50c,#e6e102,#ccee23,#83f774,#34ecb9,#00dcdc,#00bded,#0092f5,#0063f1,#0072f4,#00aaf2,#00d4e1,#1ae4ca,#36edb7,#52f2a0,#6ef586,#7bf67b,#75f580,#5cf396,#37edb6,#12e2d0,#00d1e2,#00bfec,#00b9ef,#00c5e9,#00dbdd,#23e7c4,#43f0ad,#64f48f,#76f57f,#76f580,#61f393,#32ecb9,#00cee4,#008df6,#003fe7,#0072f4,#00beed,#15e3ce,#30ebbb,#34ecb8,#22e6c5,#00d5e0,#00aaf2,#0078f6,#005aef,#013de5)"></i><i style="background:linear-gradient(90deg,#59f29a,#76f57f,#8ef869,#9ef658,#aaf44a,#b3f340,#b9f239,#bcf236,#bdf235,#bbf237,#b8f23b,#b1f342,#a7f54e,#96f761,#7ef678,#68f48c,#62f391,#6cf489,#82f774,#a3f553,#c3f12e,#d5ea18,#d3ea1a,#bdf234,#91f867,#32ecba,#00b6f0,#0089f7,#00b9f0,#28e9c0,#8cf86c,#cded21,#edd600,#f4c700,#e6e103,#abf449,#3ff0b1,#00c2ea,#0081f8,#006df3,#00a9f2,#12e2d0,#6cf489,#b2f341,#d5e917,#dce60e,#c2f12e,#7af67c,#2febbb,#00dadd,#00bcee,#0092f5,#0067f2,#0074f5,#00a8f2,#00d0e3,#11e1d0,#2ae9bf,#41f0af,#5df396,#6af48b,#64f490,#4cf1a6,#2ae9bf,#06ded8,#00cae6,#00baef,#00b7f0,#00c4e9,#00dadd,#22e6c5,#42f0ae,#62f392,#73f582,#72f583,#5ef395,#30ebbb,#00cfe3,#0091f6,#004deb,#0078f6,#00beed,#13e2cf,#2deabd,#31ebba,#1fe6c7,#00d3e1,#00a7f2,#0074f5,#0058ee,#013de5)"></i><i style="background:linear-gradient(90deg,#5df396,#7af67c,#92f866,#a1f654,#adf447,#b6f33d,#bcf236,#bff132,#c0f131,#bef133,#bbf237,#b5f33d,#acf448,#9cf65b,#86f771,#72f583,#6df488,#77f57f,#8df86b,#aaf44a,#c8f028,#d8e814,#d7e916,#c3f12e,#97f760,#3beeb4,#00c1eb,#0099f4,#00c0ec,#2beabe,#8af76d,#caef25,#eadc00,#f1ce00,#e1e309,#a8f54d,#3ff0b0,#00c6e8,#008af7,#0079f6,#00acf2,#10e1d1,#64f48f,#a9f44c,#ccee23,#d2eb1b,#b7f23b,#72f583,#2ceabe,#00d8de,#00bbef,#0093f5,#006bf3,#0076f6,#00a6f3,#00cbe5,#07ded7,#1fe6c7,#34ecb8,#4cf1a5,#58f29a,#53f29f,#3cefb3,#1ee5c8,#00d9de,#00c5e9,#00b6f0,#00b5f0,#00c3ea,#00d9de,#20e6c6,#40f0b0,#5ef395,#70f585,#6ff586,#5af399,#2eeabd,#00cfe3,#0095f5,#005cef,#007ff8,#00beed,#10e1d1,#2ae9bf,#2deabd,#1be4ca,#00d0e3,#00a5f3,#0073f5,#0057ee,#013de4)"></i><i style="background:linear-gradient(90deg,#62f392,#7ef678,#95f763,#a4f551,#b0f343,#b9f239,#bff133,#c2f12f,#c3f12e,#c2f12f,#bff133,#b9f239,#b0f344,#a1f655,#8ff869,#7cf67a,#77f67e,#81f775,#95f762,#b1f343,#ccee23,#dbe711,#d9e713,#c7f02a,#9cf65b,#44f0ac,#00cce5,#00a9f2,#00c7e8,#2febbc,#89f76e,#c7f029,#e7e101,#edd500,#dce60f,#a4f551,#40f0b0,#00c9e6,#0093f5,#0084f7,#00aff1,#0ee0d2,#5df396,#9ff656,#c2f12f,#c9f027,#acf448,#6af48a,#28e8c1,#00d6df,#00b9f0,#0093f5,#006ff4,#0079f6,#00a3f3,#00c6e8,#00dadd,#14e2ce,#28e9c0,#3cefb3,#47f1aa,#41f0af,#2febbc,#12e2d0,#00d2e2,#00bfec,#00b3f1,#00b3f1,#00c2eb,#00d8de,#1ee5c7,#3defb2,#5bf398,#6bf489,#6af48a,#55f29d,#2be9bf,#00cfe3,#0099f4,#006af3,#0086f7,#00beed,#0ce0d4,#26e8c2,#29e9c0,#16e3cd,#00cee4,#00a3f3,#0073f5,#0055ed,#013be3)"></i></div></div>
<div class="hm" style="left:454px;top:1505px;width:725px;height:215px"><div style="width:725px"><i style="background:linear-gradient(90deg,#007bf7,#007ff8,#0081f8,#0080f8,#0076f6,#0065f1,#0053ed,#0046ea,#004aea,#005cef,#0072f4,#0084f7,#008ef6,#0093f5,#0093f5,#0090f6,#008bf6,#0088f7,#008af7,#0092f5,#009ef4,#00adf2,#00bded,#00c7e7,#00c8e7,#00c2eb,#00b7f0,#00a6f3,#008ff6,#007af7,#007bf7,#008af7,#009bf4,#00a9f2,#00b8f0,#00c8e7,#00d1e2,#00d3e1,#00d1e2,#00cbe5,#00c3ea,#00b6f0,#00a4f3,#0090f6,#0078f6,#0062f0,#005def,#006ef3,#007ff8,#0083f8,#0082f8,#007cf7,#0070f4,#0063f1,#005bef,#005eef,#0069f2,#0078f6,#0084f7,#0084f7,#007ef7,#007ef7,#0088f7,#0099f4,#00b1f1,#00cce5,#12e2cf,#32ecba,#3ff0b1,#31ebba,#11e1d1,#00cce5,#00b1f1,#009bf4,#008df6,#0087f7,#0087f7,#0089f7,#008af7,#008af7,#0087f7,#0080f8,#0074f5,#0063f1,#0053ed,#004aeb,#0049ea,#004eeb,#0057ee,#0061f0,#006cf3,#0078f6)"></i><i style="background:linear-gradient(90deg,#007cf7,#0081f8,#0082f8,#0081f8,#0077f6,#0066f1,#0052ec,#0044e9,#0048ea,#005cef,#0074f5,#0087f7,#0092f5,#0097f5,#0097f5,#0094f5,#008ef6,#0089f7,#008af7,#0091f6,#009df4,#00acf2,#00bcee,#00c7e7,#00c8e7,#00c2ea,#00b9f0,#00a8f2,#0093f5,#007df7,#007df7,#008bf6,#009af4,#00a6f3,#00b5f0,#00c6e8,#00d0e3,#00d3e1,#00d2e2,#00cde4,#00c5e9,#00b9ef,#00a8f2,#0093f5,#007af7,#0062f0,#005cef,#006ff4,#0081f8,#0084f7,#0083f8,#007df7,#006ff4,#005ff0,#0055ed,#0057ee,#0064f1,#0075f5,#0082f8,#0081f8,#0078f6,#0078f6,#0083f8,#0096f5,#00aef1,#00cbe5,#12e2d0,#32ecba,#40f0b0,#31ebbb,#0ee0d2,#00c9e7,#00adf2,#0096f5,#0088f7,#0084f7,#0086f7,#0089f7,#008af7,#008af7,#0087f7,#0081f8,#0073f5,#0062f1,#0052ec,#0048ea,#0047ea,#004deb,#0056ed,#0061f0,#006cf3,#0078f6)"></i><i style="background:linear-gradient(90deg,#007ef7,#0082f8,#0083f8,#0082f8,#0078f6,#0066f1,#0051ec,#0042e8,#0046ea,#005cef,#0076f5,#008af7,#0095f5,#009bf4,#009bf4,#0098f5,#0091f6,#008bf6,#008bf6,#0090f6,#009bf4,#00aaf2,#00baef,#00c7e8,#00c8e7,#00c2ea,#00baef,#00abf2,#0097f5,#0082f8,#0081f8,#008df6,#0099f4,#00a3f3,#00b0f1,#00c3ea,#00cee4,#00d2e1,#00d2e1,#00cfe3,#00c8e7,#00bded,#00adf2,#0097f5,#007cf7,#0062f0,#005cef,#0071f4,#0082f8,#0085f7,#0084f7,#007df7,#006ef3,#005bef,#004fec,#0051ec,#005ef0,#0071f4,#007ff8,#007df7,#0072f5,#0071f4,#007ef8,#0093f5,#00acf2,#00cae6,#11e1d0,#32ecba,#40f0b0,#2febbb,#0bdfd4,#00c6e8,#00a8f2,#0090f6,#0083f8,#0081f8,#0084f7,#0089f7,#008bf6,#008bf6,#0088f7,#0081f8,#0073f5,#0061f0,#0050ec,#0046ea,#0045e9,#004beb,#0055ed,#0060f0,#006cf3,#0078f6)"></i><i style="background:linear-gradient(90deg,#007ff8,#0083f8,#0084f7,#0083f8,#0079f6,#0065f1,#0050ec,#0040e7,#0044e9,#005cef,#0078f6,#008df6,#0099f4,#009ff4,#009ff4,#009cf4,#0095f5,#008ef6,#008cf6,#008ff6,#0099f4,#00a7f2,#00b7f0,#00c4e9,#00c6e8,#00c2ea,#00bbee,#00aef1,#009cf4,#0089f7,#0087f7,#008ff6,#0098f5,#009ef4,#00abf2,#00bfec,#00cce5,#00d1e2,#00d3e1,#00d1e2,#00cbe5,#00c1eb,#00b2f1,#009cf4,#007ff8,#0062f1,#005eef,#0073f5,#0083f8,#0086f7,#0085f7,#007ef7,#006df3,#0057ee,#0047ea,#0049ea,#0058ee,#006df3,#007bf7,#0078f6,#006cf3,#006af3,#0079f6,#0090f6,#00abf2,#00c9e6,#10e1d1,#31ebbb,#3ff0b1,#2deabd,#08ded7,#00c2ea,#00a3f3,#008bf6,#007ef7,#007df7,#0083f8,#0089f7,#008cf6,#008cf6,#0089f7,#0082f8,#0073f5,#0061f0,#004eec,#0044e9,#0044e9,#004aea,#0054ed,#0060f0,#006cf3,#0079f6)"></i><i style="background:linear-gradient(90deg,#007ff8,#0083f8,#0085f7,#0083f8,#0079f6,#0065f1,#004eec,#013ee5,#0042e9,#005cef,#0079f6,#0090f6,#009df4,#00a3f3,#00a4f3,#00a0f3,#0099f4,#0091f6,#008df6,#008ef6,#0096f5,#00a4f3,#00b4f1,#00c1eb,#00c5e9,#00c2eb,#00bcee,#00b1f1,#00a2f3,#0091f6,#008ef6,#0092f5,#0096f5,#0098f5,#00a4f3,#00b9ef,#00c8e7,#00d0e3,#00d3e1,#00d3e1,#00cfe3,#00c6e8,#00b8f0,#00a1f3,#0082f8,#0063f1,#0061f0,#0075f5,#0084f7,#0087f7,#0086f7,#007ef8,#006cf3,#0053ed,#003fe7,#0040e8,#0053ed,#0069f2,#0076f6,#0072f5,#0064f1,#0062f1,#0073f5,#008df6,#00aaf2,#00c9e7,#0fe1d2,#2febbc,#3befb3,#2ae9bf,#04ddda,#00bfec,#009ef4,#0085f7,#0078f6,#007af6,#0082f8,#0089f7,#008df6,#008df6,#008af7,#0082f8,#0073f5,#0060f0,#004deb,#0042e9,#0042e8,#0049ea,#0053ed,#005ff0,#006cf3,#0079f6)"></i><i style="background:linear-gradient(90deg,#0080f8,#0084f7,#0085f7,#0083f8,#0079f6,#0065f1,#004deb,#013ce3,#0040e8,#005cef,#007bf7,#0092f5,#00a1f3,#00a8f2,#00a9f2,#00a5f3,#009df4,#0094f5,#008ef6,#008ef6,#0094f5,#00a0f3,#00b0f1,#00beed,#00c2ea,#00c1eb,#00bded,#00b5f0,#00a9f2,#009bf4,#0096f5,#0095f5,#0094f5,#0092f5,#009cf4,#00b2f1,#00c4e9,#00cfe3,#00d4e1,#00d5e0,#00d2e2,#00cbe6,#00beed,#00a7f2,#0085f7,#0064f1,#0065f1,#0078f6,#0084f7,#0087f7,#0086f7,#007ff8,#006bf3,#004fec,#0239e0,#0239df,#004deb,#0065f1,#0072f5,#006df3,#005def,#005bef,#006ef4,#008cf6,#00aaf2,#00c9e7,#0de0d3,#2ceabe,#37edb6,#26e8c2,#00dbdc,#00bbee,#0099f4,#007ef8,#0072f4,#0077f6,#0082f8,#008af7,#008ef6,#008ff6,#008af7,#0082f8,#0072f5,#005ff0,#004ceb,#0041e8,#0040e8,#0047ea,#0052ec,#005ef0,#006cf3,#0079f6)"></i><i style="background:linear-gradient(90deg,#0081f8,#0085f7,#0086f7,#0083f8,#0079f6,#0065f1,#004ceb,#013ae1,#003ee6,#005bef,#007df7,#0095f5,#00a5f3,#00acf2,#00aef1,#00aaf2,#00a2f3,#0098f5,#0090f6,#008df6,#0091f6,#009cf4,#00acf2,#00baef,#00bfec,#00c0eb,#00beed,#00b9ef,#00b0f1,#00a5f3,#009ff4,#009af4,#0092f5,#008bf6,#0093f5,#00aaf2,#00c0ec,#00cde4,#00d4e1,#00d6df,#00d5e0,#00d0e3,#00c4e9,#00adf2,#0088f7,#0066f1,#006af3,#007df7,#0085f7,#0088f7,#0087f7,#0080f8,#006af3,#004beb,#0332d7,#0331d6,#0049ea,#0063f1,#006ef4,#0067f2,#0056ee,#0052ed,#0069f2,#008af7,#00aaf2,#00c9e7,#0ce0d4,#29e9c0,#33ecb9,#21e6c5,#00d8de,#00b7f0,#0093f5,#0076f6,#006bf3,#0074f5,#0082f8,#008bf6,#0090f6,#0090f6,#008bf6,#0082f8,#0072f4,#005ef0,#004beb,#0040e7,#003fe7,#0046ea,#0051ec,#005eef,#006bf3,#0079f6)"></i><i style="background:linear-gradient(90deg,#0082f8,#0085f7,#0087f7,#0084f7,#0079f6,#0066f1,#004ceb,#0238df,#013ce3,#005bef,#007ff8,#0098f5,#00a9f2,#00b1f1,#00b3f1,#00aff1,#00a7f2,#009cf4,#0092f5,#008df6,#008ef6,#0098f5,#00a7f2,#00b5f0,#00bded,#00bfec,#00bfec,#00bded,#00b8f0,#00b0f1,#00a8f2,#009ff4,#0092f5,#0084f7,#0088f7,#00a2f3,#00bbee,#00cbe5,#00d4e1,#00d8de,#00d9de,#00d5e0,#00cbe6,#00b4f1,#008cf6,#0068f2,#0070f4,#0082f8,#0086f7,#0088f7,#0088f7,#0081f8,#006af3,#0048ea,#0529cd,#0529cc,#0046e9,#0062f0,#006cf3,#0063f1,#004fec,#004beb,#0065f1,#0089f7,#00aaf2,#00c9e7,#09dfd5,#25e8c2,#2eeabc,#1ce5c9,#00d4e0,#00b3f1,#008df6,#006ef4,#0065f1,#0071f4,#0082f8,#008cf6,#0092f5,#0091f6,#008cf6,#0082f8,#0071f4,#005def,#004aea,#003ee6,#003ee6,#0045e9,#0050ec,#005def,#006bf3,#0079f6)"></i><i style="background:linear-gradient(90deg,#0082f8,#0086f7,#0087f7,#0084f7,#007af6,#0066f2,#004ceb,#0237dd,#013ae1,#005bef,#0080f8,#009bf4,#00adf2,#00b6f0,#00b8f0,#00b4f1,#00acf2,#00a0f3,#0095f5,#008df6,#008bf6,#0094f5,#00a2f3,#00b0f1,#00baef,#00beec,#00c1eb,#00c2eb,#00c0ec,#00baef,#00b2f1,#00a5f3,#0092f5,#007df7,#007cf7,#0099f4,#00b6f0,#00c9e7,#00d3e1,#00dadd,#01dcdb,#00dbdd,#00d2e2,#00bcee,#0092f5,#006bf3,#0078f6,#0087f7,#0088f7,#0089f7,#0089f7,#0082f8,#006af3,#0045e9,#0721c4,#0721c4,#0045e9,#0063f1,#006cf3,#0061f0,#004aeb,#0043e9,#0062f0,#0089f7,#00abf2,#00c8e7,#07ded7,#21e6c5,#29e9c0,#16e3cd,#00d1e2,#00aef1,#0088f7,#0066f1,#005ef0,#006ff4,#0082f8,#008ef6,#0093f5,#0093f5,#008df6,#0082f8,#0071f4,#005def,#0049ea,#013de5,#013de5,#0044e9,#004fec,#005cef,#006bf3,#0079f6)"></i><i style="background:linear-gradient(90deg,#0083f8,#0087f7,#0088f7,#0085f7,#007bf7,#0068f2,#004deb,#0235db,#0238de,#005aef,#0082f8,#009ef4,#00b1f1,#00baef,#00bded,#00baef,#00b1f1,#00a5f3,#0098f5,#008df6,#0089f7,#008ff6,#009df4,#00abf2,#00b7f0,#00beed,#00c3ea,#00c6e8,#00c8e7,#00c4e9,#00bcee,#00acf2,#0094f5,#0076f6,#006ff4,#008ff6,#00b1f1,#00c7e8,#00d3e1,#00dbdd,#06ded8,#06ded8,#00d9de,#00c4ea,#0098f5,#006ef4,#0081f8,#008ef6,#008af7,#008af7,#008bf6,#0083f8,#006bf3,#0044e9,#0721c4,#0721c4,#0048ea,#0066f1,#006ef3,#0062f0,#0048ea,#003ee6,#0060f0,#0089f7,#00abf2,#00c8e7,#04ddd9,#1de5c8,#23e7c4,#10e1d1,#00cce5,#00a9f2,#0081f8,#005def,#0058ee,#006df3,#0082f8,#008ff6,#0095f5,#0094f5,#008df6,#0082f8,#0071f4,#005cef,#0048ea,#013ce4,#013ce3,#0042e9,#004eec,#005cef,#006af3,#0079f6)"></i><i style="background:linear-gradient(90deg,#0084f7,#0088f7,#008af7,#0086f7,#007df7,#006af2,#004fec,#0335db,#0236dc,#005aef,#0084f7,#00a2f3,#00b5f0,#00bfec,#00c2eb,#00bfec,#00b6f0,#00a9f2,#009bf4,#008ef6,#0086f7,#008bf6,#0098f5,#00a6f3,#00b4f1,#00beed,#00c5e9,#00cce5,#00d0e3,#00cee4,#00c5e9,#00b3f1,#0097f5,#0071f4,#0060f0,#0086f7,#00acf2,#00c4e9,#00d2e1,#00dcdc,#0be0d4,#0fe1d2,#06ded8,#00cce5,#009ff4,#0073f5,#008bf6,#0095f5,#008cf6,#008bf6,#008cf6,#0085f7,#006cf3,#0044e9,#0721c4,#0721c4,#004eec,#006cf3,#0072f5,#0065f1,#0048ea,#013ce4,#005ff0,#0089f7,#00acf2,#00c7e7,#01dcdc,#18e3cc,#1de5c8,#0adfd5,#00c8e7,#00a4f3,#007bf7,#0053ed,#0051ec,#006cf3,#0083f8,#0091f6,#0097f5,#0096f5,#008ef6,#0082f8,#0070f4,#005bef,#0046ea,#013be3,#013be2,#0041e8,#004deb,#005bef,#006af3,#007af6)"></i><i style="background:linear-gradient(90deg,#0086f7,#008af7,#008bf6,#0088f7,#007ff8,#006df3,#0051ec,#0335db,#0334da,#005aef,#0086f7,#00a5f3,#00b9ef,#00c4ea,#00c7e8,#00c4e9,#00bcee,#00aef1,#009ff4,#008ff6,#0084f7,#0087f7,#0093f5,#00a1f3,#00b1f1,#00beed,#00c7e7,#00d1e2,#00d8de,#00d8de,#00cfe3,#00bbee,#009cf4,#006ef3,#0051ec,#007df7,#00a6f3,#00c2ea,#00d1e2,#02dddb,#10e1d1,#17e3cc,#12e2d0,#00d5e0,#00a8f2,#0079f6,#0096f5,#009df4,#008ff6,#008cf6,#008df6,#0086f7,#006df3,#0046ea,#0721c4,#0625c8,#0058ee,#0075f5,#0079f6,#006bf3,#004deb,#013de4,#0061f0,#008af7,#00acf2,#00c6e8,#00dadd,#12e2d0,#17e3cc,#03ddda,#00c4ea,#009ff4,#0074f5,#004aea,#004ceb,#006bf3,#0084f7,#0092f5,#0099f4,#0097f5,#008ff6,#0082f8,#0070f4,#005bef,#0045e9,#013be2,#013ae1,#0040e8,#004ceb,#005aef,#006af2,#007af6)"></i><i style="background:linear-gradient(90deg,#0087f7,#008bf6,#008df6,#008bf6,#0082f8,#0071f4,#0055ed,#0236dd,#0333d8,#005aef,#0087f7,#00a8f2,#00bded,#00c8e7,#00cce5,#00c9e6,#00c1eb,#00b3f1,#00a2f3,#0090f6,#0082f8,#0083f8,#008ef6,#009df4,#00aff1,#00beec,#00cae6,#00d7df,#06ded8,#09dfd6,#00d8de,#00c4ea,#00a2f3,#006ff4,#0045e9,#0075f5,#00a1f3,#00bfec,#00d0e3,#03ddda,#15e3cd,#1fe6c7,#1de5c8,#04ddd9,#00b2f1,#0081f8,#00a3f3,#00a6f3,#0092f5,#008ef6,#008ef6,#0087f7,#006ef3,#004aeb,#0628cb,#0332d7,#0064f1,#007ff8,#0082f8,#0074f5,#0056ee,#0041e8,#0064f1,#008cf6,#00adf2,#00c5e9,#00d7df,#0ce0d4,#11e1d0,#00dadd,#00bfec,#009af4,#006ef4,#0041e8,#0047ea,#006bf3,#0085f7,#0093f5,#009af4,#0098f5,#008ff6,#0082f8,#0070f4,#005aef,#0044e9,#013ae1,#0239e0,#003fe7,#004beb,#005aee,#006af2,#007af7)"></i><i style="background:linear-gradient(90deg,#0089f7,#008ef6,#0090f6,#008df6,#0086f7,#0075f5,#005aef,#0239e0,#0333d8,#005bef,#0089f7,#00acf2,#00c1eb,#00cde5,#00d1e2,#00cfe3,#00c6e8,#00b9f0,#00a7f2,#0093f5,#0082f8,#0080f8,#008af7,#0099f4,#00adf2,#00bfec,#00cee4,#02dddb,#13e2cf,#17e3cc,#09dfd6,#00cce5,#00aaf2,#0074f5,#0040e8,#006ff4,#009cf4,#00bcee,#00cee4,#04ddda,#1ae4ca,#27e8c1,#28e9c0,#12e2cf,#00beed,#008df6,#00aff1,#00aef1,#0097f5,#0090f6,#008ef6,#0088f7,#006ff4,#0050ec,#0236dc,#0040e8,#0072f5,#008af7,#008df6,#0080f8,#0063f1,#004ceb,#006af2,#008df6,#00acf2,#00c3ea,#00d4e1,#05ded8,#0adfd5,#00d5e0,#00bbee,#0095f5,#0069f2,#013ce3,#0045e9,#006bf3,#0086f7,#0095f5,#009cf4,#0099f4,#0090f6,#0082f8,#0070f4,#005aee,#0044e9,#0239e0,#0238df,#003ee6,#004aea,#0059ee,#006af2,#007bf7)"></i><i style="background:linear-gradient(90deg,#008bf6,#0090f6,#0093f5,#0091f6,#008af7,#007bf7,#0060f0,#013de5,#0334da,#005bef,#008bf6,#00aff1,#00c5e9,#00d1e2,#00d6df,#00d4e0,#00cce5,#00beed,#00abf2,#0096f5,#0082f8,#007df7,#0086f7,#0096f5,#00acf2,#00c1eb,#00d2e1,#0ce0d4,#1fe6c6,#25e8c2,#17e3cc,#00d5e0,#00b3f1,#007ef8,#0047ea,#006bf3,#0097f5,#00b8f0,#00cce5,#04ddda,#1de5c8,#2eeabc,#33ecb9,#20e6c6,#00cae6,#00a0f3,#00baef,#00b7f0,#009df4,#0092f5,#008ef6,#0086f7,#0070f4,#0057ee,#0044e9,#0056ee,#0082f8,#0097f5,#0099f4,#008cf6,#0072f4,#005cef,#0071f4,#0090f6,#00acf2,#00c1eb,#00d0e3,#00dbdd,#02dcdb,#00d0e3,#00b6f0,#0091f6,#0065f1,#013be2,#0045e9,#006cf3,#0087f7,#0095f5,#009cf4,#0099f4,#0090f6,#0082f8,#0070f4,#005aee,#0043e9,#0239df,#0238de,#013de5,#0049ea,#0058ee,#006af2,#007bf7)"></i><i style="background:linear-gradient(90deg,#008ef6,#0093f5,#0096f5,#0095f5,#008ef6,#0081f8,#0067f2,#0043e9,#0237dd,#005cef,#008df6,#00b2f1,#00c9e7,#00d6df,#00dbdd,#00d9de,#00d1e2,#00c3ea,#00b0f1,#0099f4,#0084f7,#007cf7,#0083f8,#0094f5,#00acf2,#00c3ea,#00d7df,#16e3cd,#2ceabe,#33ecb9,#26e8c2,#04ddd9,#00bcee,#0089f7,#0056ed,#006af3,#0092f5,#00b2f1,#00c9e7,#03ddda,#21e6c5,#36edb7,#3defb2,#2deabd,#00d7df,#00b6f0,#00c4ea,#00beed,#00a4f3,#0095f5,#008df6,#0084f7,#0070f4,#005ff0,#0058ee,#006df3,#0091f6,#00a4f3,#00a6f3,#009af4,#0082f8,#006ef3,#007af7,#0092f5,#00abf2,#00beed,#00cbe5,#00d5e0,#00d7df,#00cbe6,#00b2f1,#008ef6,#0063f1,#013ce4,#0047ea,#006df3,#0088f7,#0096f5,#009df4,#009af4,#0090f6,#0082f8,#0070f4,#005aee,#0043e9,#0238df,#0237dd,#013ce4,#0047ea,#0058ee,#006af2,#007cf7)"></i><i style="background:linear-gradient(90deg,#0091f6,#0097f5,#009af4,#009af4,#0094f5,#0087f7,#006ff4,#004ceb,#013ae1,#005def,#008ff6,#00b5f0,#00cde4,#00dadd,#06ded8,#04ddd9,#00d7df,#00c9e7,#00b6f0,#009df4,#0086f7,#007bf7,#0081f8,#0093f5,#00adf2,#00c6e8,#01dcdb,#21e6c5,#38eeb5,#40f0b0,#34ecb8,#13e2cf,#00c6e8,#0096f5,#0067f2,#006cf3,#008df6,#00acf2,#00c6e8,#02ddda,#24e7c3,#3defb2,#49f1a8,#3aeeb4,#0ee0d2,#00cae6,#00cee4,#00c6e8,#00acf2,#0098f5,#008cf6,#0081f8,#0071f4,#0068f2,#006af3,#0082f8,#00a0f3,#00b2f1,#00b3f1,#00a8f2,#0092f5,#007ff8,#0084f7,#0095f5,#00a9f2,#00baef,#00c7e8,#00d0e3,#00d1e2,#00c5e9,#00adf2,#008bf6,#0062f1,#003fe7,#004ceb,#006ff4,#0089f7,#0097f5,#009df4,#009af4,#0091f6,#0083f8,#0070f4,#005aee,#0044e9,#0238de,#0236dc,#013be2,#0046e9,#0057ee,#006af2,#007df7)"></i><i style="background:linear-gradient(90deg,#0094f5,#009af4,#009ef4,#009ff4,#009af4,#008ef6,#0078f6,#0054ed,#013ee5,#005eef,#0091f6,#00b8f0,#00d1e2,#04ddd9,#0de0d3,#0ce0d4,#00dcdc,#00cee4,#00bbee,#00a1f3,#0088f7,#007af7,#007ff8,#0092f5,#00adf2,#00c9e7,#09dfd6,#2ceabe,#45f1ab,#50f2a2,#42f0ae,#22e7c5,#00d0e2,#00a3f3,#0077f6,#0070f4,#0088f7,#00a6f3,#00c2eb,#01dcdb,#27e8c1,#44f0ac,#55f29d,#4af1a7,#24e7c3,#00dcdc,#00dadd,#00cee4,#00b4f1,#009cf4,#008af7,#007df7,#0072f5,#0071f4,#007cf7,#0093f5,#00aff1,#00bfec,#00c1eb,#00b6f0,#00a1f3,#008ff6,#008df6,#0098f5,#00a8f2,#00b6f0,#00c1eb,#00cae6,#00cbe6,#00c0ec,#00a9f2,#0089f7,#0063f1,#0045e9,#0051ec,#0071f4,#0089f7,#0097f5,#009df4,#009af4,#0091f6,#0083f8,#0070f4,#005aee,#0044e9,#0238de,#0235db,#013ae1,#0045e9,#0056ee,#006af3,#007ef7)"></i><i style="background:linear-gradient(90deg,#0097f5,#009ef4,#00a3f3,#00a4f3,#00a0f3,#0095f5,#0081f8,#005eef,#0042e8,#005ff0,#0093f5,#00bbee,#00d4e0,#0adfd5,#15e2ce,#14e2ce,#09dfd6,#00d4e0,#00c0ec,#00a6f3,#008bf6,#007bf7,#007df7,#0091f6,#00aef1,#00cce5,#11e1d0,#36edb7,#54f29e,#60f393,#53f29f,#30ebbb,#00dbdd,#00b1f1,#0086f7,#0075f5,#0084f7,#009ff4,#00beed,#00dcdc,#2ae9bf,#4df1a4,#62f392,#5bf397,#3aeeb4,#1be4ca,#0ee0d2,#00d6df,#00bbee,#009ff4,#0089f7,#0079f6,#0073f5,#007af7,#008bf6,#00a4f3,#00beed,#00cde5,#00cee4,#00c3ea,#00b0f1,#009df4,#0096f5,#009bf4,#00a7f2,#00b2f1,#00bcee,#00c3ea,#00c5e9,#00bbee,#00a5f3,#0087f7,#0064f1,#004ceb,#0057ee,#0074f5,#008af7,#0097f5,#009df4,#009af4,#0091f6,#0083f8,#0070f4,#005aee,#0044e9,#0238de,#0334da,#0239df,#0043e9,#0056ed,#006af3,#007ff8)"></i><i style="background:linear-gradient(90deg,#009bf4,#00a2f3,#00a8f2,#00aaf2,#00a7f2,#009df4,#0089f7,#0067f2,#0047ea,#005ff0,#0095f5,#00bfec,#00d8de,#11e1d0,#1ce5c9,#1ce5c9,#11e1d0,#00d9dd,#00c5e9,#00aaf2,#008ef6,#007bf7,#007cf7,#0090f6,#00aff1,#00cfe3,#19e4cb,#41f0af,#63f391,#6ff586,#64f490,#3ff0b1,#0ee0d3,#00bded,#0093f5,#007bf7,#0080f8,#0099f4,#00baef,#00dbdd,#2eeabd,#56f29d,#6ef586,#6df587,#52f2a0,#33ecb9,#20e6c6,#04ddd9,#00c2ea,#00a3f3,#0087f7,#0075f5,#0074f5,#0083f8,#0099f4,#00b3f1,#00cbe5,#00dadd,#00dadd,#00d0e3,#00beed,#00abf2,#009ff4,#009ff4,#00a5f3,#00adf2,#00b6f0,#00bded,#00beed,#00b5f0,#00a1f3,#0086f7,#0066f2,#0052ed,#005def,#0077f6,#008bf6,#0098f5,#009df4,#009af4,#0091f6,#0083f8,#0070f4,#005aef,#0044e9,#0238de,#0334d9,#0238de,#0042e8,#0055ed,#006bf3,#0080f8)"></i><i style="background:linear-gradient(90deg,#009ef4,#00a7f2,#00adf2,#00b0f1,#00aef1,#00a5f3,#0092f5,#0071f4,#004ceb,#0060f0,#0097f5,#00c2eb,#00dcdc,#17e3cc,#22e7c4,#23e7c4,#19e4cb,#04ddd9,#00cae6,#00aff1,#0091f6,#007cf7,#007bf7,#0090f6,#00b1f1,#00d2e1,#21e6c5,#4df1a4,#71f584,#7ef678,#74f582,#50f2a2,#1de5c8,#00c8e7,#009ff4,#0080f8,#007bf7,#0092f5,#00b6f0,#00dadd,#31ebba,#5ef395,#7bf67b,#80f677,#6cf489,#4df1a5,#32ecb9,#12e2d0,#00c9e7,#00a6f3,#0086f7,#0071f4,#0076f5,#008bf6,#00a6f3,#00c1eb,#00d8de,#10e1d1,#11e1d1,#01dcdc,#00cbe5,#00b7f0,#00a8f2,#00a2f3,#00a4f3,#00a9f2,#00aff1,#00b6f0,#00b8f0,#00b0f1,#009ef4,#0086f7,#0069f2,#0059ee,#0063f1,#007af6,#008df6,#0098f5,#009df4,#009af4,#0091f6,#0083f8,#0070f4,#005aef,#0045e9,#0237de,#0333d8,#0236dd,#0040e8,#0054ed,#006bf3,#0081f8)"></i><i style="background:linear-gradient(90deg,#00a2f3,#00abf2,#00b2f1,#00b6f0,#00b5f0,#00adf2,#009cf4,#007bf7,#0052ec,#0061f0,#0099f4,#00c5e9,#05ded9,#1de5c8,#29e9c0,#2ae9bf,#21e6c5,#0ce0d3,#00cfe3,#00b3f1,#0094f5,#007ef7,#007af7,#008ff6,#00b2f1,#00d5e0,#28e9c0,#59f29a,#7ef678,#8cf86c,#83f774,#61f393,#2be9be,#00d2e2,#00aaf2,#0085f7,#0077f6,#008bf6,#00b1f1,#00d9dd,#34ecb8,#67f48d,#88f76f,#91f867,#84f773,#67f48d,#45f0ac,#1fe6c7,#00d0e3,#00aaf2,#0084f7,#006df3,#0077f6,#0093f5,#00b2f1,#00cde4,#0ee0d2,#23e7c4,#23e7c4,#13e2cf,#00d7df,#00c2ea,#00b1f1,#00a6f3,#00a3f3,#00a4f3,#00a8f2,#00aff1,#00b1f1,#00abf2,#009bf4,#0086f7,#006df3,#0060f0,#0069f2,#007df7,#008ef6,#0098f5,#009cf4,#0099f4,#0090f6,#0083f8,#0070f4,#005aef,#0045e9,#0237de,#0332d8,#0235db,#003fe7,#0054ed,#006cf3,#0082f8)"></i><i style="background:linear-gradient(90deg,#00a6f3,#00b0f1,#00b8f0,#00bcee,#00bcee,#00b6f0,#00a5f3,#0085f7,#0058ee,#0062f0,#009cf4,#00c8e7,#0adfd5,#22e7c5,#2febbc,#31ebba,#29e9c0,#14e2ce,#00d3e1,#00b7f0,#0097f5,#007ff8,#007af6,#008ff6,#00b3f1,#00d8de,#2febbc,#64f490,#8af76d,#97f760,#91f867,#70f585,#38eeb5,#00dbdc,#00b3f1,#008af7,#0072f5,#0084f7,#00adf2,#00d9de,#38edb6,#70f585,#94f763,#9ff656,#99f75e,#80f676,#5af399,#2ceabe,#00d6df,#00aef1,#0083f8,#0068f2,#0079f6,#009bf4,#00bded,#00d9de,#20e6c6,#36edb7,#35edb8,#25e8c2,#0adfd5,#00cde4,#00b9ef,#00aaf2,#00a2f3,#009ff4,#00a1f3,#00a8f2,#00abf2,#00a6f3,#0099f4,#0086f7,#0071f4,#0066f2,#006ff4,#0081f8,#008ff6,#0099f4,#009cf4,#0099f4,#0090f6,#0083f8,#0070f4,#005aef,#0045e9,#0237dd,#0331d7,#0334da,#003ee6,#0054ed,#006df3,#0084f7)"></i><i style="background:linear-gradient(90deg,#00aaf2,#00b5f0,#00bded,#00c2ea,#00c3ea,#00beed,#00aff1,#008ef6,#005ef0,#0063f1,#009ef4,#00cbe5,#0ee0d2,#27e8c1,#34ecb8,#38edb6,#30ebbb,#1ce5c9,#00d8de,#00bbee,#009af4,#0080f8,#0079f6,#008ef6,#00b4f1,#00dadd,#35edb7,#6ef587,#95f762,#a1f654,#9cf65b,#7ff677,#45f1ab,#0ce0d4,#00bcee,#008ef6,#006ef4,#007df7,#00a9f2,#00d9de,#3cefb3,#79f67d,#9ef658,#adf447,#aaf44a,#96f761,#6ef587,#39eeb5,#00dcdc,#00b1f1,#0082f8,#0065f1,#007bf7,#00a2f3,#00c6e8,#0ce0d4,#31ebba,#49f1a8,#47f1a9,#36edb7,#1be4ca,#00d6df,#00c0ec,#00aef1,#00a1f3,#009bf4,#009af4,#00a1f3,#00a5f3,#00a2f3,#0098f5,#0088f7,#0075f5,#006df3,#0074f5,#0084f7,#0091f6,#0099f4,#009cf4,#0099f4,#0090f6,#0083f8,#0070f4,#005aef,#0044e9,#0237dd,#0331d6,#0333d9,#013de5,#0054ed,#006ef4,#0085f7)"></i><i style="background:linear-gradient(90deg,#00aef1,#00baef,#00c3ea,#00c8e7,#00cae6,#00c6e8,#00b8f0,#0098f5,#0066f2,#0066f1,#00a0f3,#00cee4,#12e2d0,#2be9be,#3aeeb4,#3eefb2,#36edb7,#23e7c4,#00dcdc,#00bfec,#009df4,#0082f8,#0078f6,#008ef6,#00b5f0,#01dcdc,#3beeb4,#77f67e,#9ef659,#aaf44a,#a5f550,#8cf86c,#53f29f,#17e3cc,#00c2ea,#0091f6,#006af3,#0076f6,#00a6f3,#00d9de,#40f0b0,#82f774,#a9f44c,#baf238,#baf238,#a7f54e,#81f676,#46f1aa,#0adfd5,#00b5f0,#0082f8,#0061f0,#007ef7,#00a9f2,#00cfe3,#1be4c9,#42f0ae,#5df396,#5bf398,#47f1aa,#2ae9bf,#05ded9,#00c7e8,#00b1f1,#00a1f3,#0096f5,#0094f5,#009af4,#00a0f3,#009ff4,#0097f5,#0089f7,#007af6,#0073f5,#007af6,#0087f7,#0092f5,#009af4,#009cf4,#0099f4,#0090f6,#0082f8,#0070f4,#005aef,#0044e9,#0236dc,#0430d5,#0332d8,#013de4,#0054ed,#006ff4,#0087f7)"></i><i style="background:linear-gradient(90deg,#00b2f1,#00beed,#00c8e7,#00cfe3,#00d1e2,#00cee4,#00c1eb,#00a1f3,#0071f4,#006bf3,#00a3f3,#00d1e2,#15e3ce,#2febbc,#3eefb1,#44f0ac,#3cefb2,#29e9c0,#06ded8,#00c2ea,#00a0f3,#0083f8,#0078f6,#008df6,#00b5f0,#03ddda,#3ff0b1,#7ff677,#a5f550,#b2f341,#aef446,#96f761,#5ef395,#20e6c6,#00c8e7,#0094f5,#0067f2,#0071f4,#00a4f3,#00dadd,#46f1aa,#8cf86c,#b3f340,#c7f029,#c9f027,#b6f33c,#92f866,#55f29d,#13e2cf,#00b9f0,#0082f8,#005ff0,#0081f8,#00aff1,#00d7df,#29e9c0,#54f29e,#70f585,#6df587,#59f29a,#38eeb5,#12e1d0,#00cde4,#00b5f0,#00a1f3,#0092f5,#008df6,#0094f5,#009bf4,#009cf4,#0097f5,#008cf6,#007ff8,#0079f6,#007ff8,#008af7,#0093f5,#009af4,#009cf4,#0098f5,#008ff6,#0082f8,#006ff4,#005aee,#0044e9,#0235dc,#042fd4,#0331d6,#013ce4,#0054ed,#0071f4,#0089f7)"></i><i style="background:linear-gradient(90deg,#00b6f0,#00c3ea,#00cee4,#00d5e0,#00d8de,#00d5e0,#00c9e7,#00abf2,#007df7,#0073f5,#00a5f3,#00d1e2,#17e3cc,#31ebba,#43f0ad,#4af1a7,#42f0ae,#2febbc,#0ce0d4,#00c6e8,#00a3f3,#0084f7,#0077f6,#008cf6,#00b5f0,#05ddd9,#44f0ad,#86f771,#acf448,#b9f239,#b5f33e,#9df659,#68f48c,#27e8c1,#00cbe5,#0096f5,#0064f1,#006cf3,#00a3f3,#00dbdc,#4df1a5,#94f763,#bcf235,#d0ec1d,#d4ea19,#c4f12c,#9ff657,#63f490,#1ce5c9,#00bcee,#0084f7,#005ff0,#0083f8,#00b5f0,#03ddda,#36edb7,#64f48f,#80f676,#7ef678,#69f48b,#46f1ab,#1de5c8,#00d3e1,#00b9f0,#00a1f3,#008ff6,#0087f7,#008ef6,#0098f5,#009bf4,#0098f5,#008ff6,#0084f7,#007ff8,#0083f8,#008cf6,#0094f5,#009af4,#009cf4,#0098f5,#008ff6,#0082f8,#006ff4,#005aee,#0043e9,#0335db,#042dd2,#0430d5,#013ce3,#0055ed,#0073f5,#008bf6)"></i><i style="background:linear-gradient(90deg,#00b9ef,#00c7e8,#00d3e1,#00dcdc,#06ded8,#02dddb,#00d1e2,#00b4f1,#0089f7,#007ef7,#00a8f2,#00d1e2,#18e4cb,#34ecb8,#47f1a9,#50f2a2,#49f1a8,#33ecb9,#11e1d1,#00c9e7,#00a6f3,#0086f7,#0077f6,#008bf6,#00b4f1,#05ded8,#47f1a9,#8cf86c,#b1f342,#bff132,#bbf237,#a3f552,#70f585,#2deabd,#00cde4,#0097f5,#0062f0,#006af2,#00a3f3,#02dddb,#53f29f,#9cf65b,#c6f02a,#d9e712,#dde50d,#cfec1f,#abf449,#70f585,#24e7c3,#00c0ec,#0085f7,#0061f0,#0086f7,#00baef,#0de0d3,#42f0ae,#73f582,#8ef86a,#8df86b,#78f67e,#54f29e,#27e8c1,#00d8de,#00bcee,#00a1f3,#008bf6,#0082f8,#0089f7,#0095f5,#009bf4,#009af4,#0093f5,#0089f7,#0085f7,#0087f7,#008ef6,#0095f5,#009af4,#009cf4,#0098f5,#008ff6,#0082f8,#006ff4,#0059ee,#0043e9,#0334da,#052cd0,#042fd4,#013ce4,#0057ee,#0075f5,#008df6)"></i><i style="background:linear-gradient(90deg,#00bded,#00cce5,#00d9de,#0adfd5,#11e1d0,#0ee0d2,#00d8de,#00bded,#0094f5,#0087f7,#00aaf2,#00d1e2,#18e4cb,#35edb7,#4bf1a6,#55f29d,#4ef1a3,#38edb6,#15e3ce,#00cbe5,#00a8f2,#0087f7,#0076f6,#0089f7,#00b3f1,#05ded8,#4af1a7,#90f868,#b6f33d,#c5f02c,#c0f131,#a8f54c,#76f57f,#31ebba,#00cfe3,#0097f5,#0060f0,#0068f2,#00a4f3,#06ded8,#5af398,#a3f552,#ceed21,#e2e308,#e6e102,#d8e814,#b6f33d,#7df679,#2ceabe,#00c3ea,#0087f7,#0063f1,#0089f7,#00beed,#16e3cd,#4ff1a3,#80f676,#99f75e,#98f75e,#85f771,#60f393,#31ebbb,#02ddda,#00bfec,#00a1f3,#0088f7,#007cf7,#0085f7,#0092f5,#009bf4,#009cf4,#0097f5,#008ef6,#008af7,#008bf6,#0090f6,#0096f5,#009bf4,#009cf4,#0098f5,#008ef6,#0081f8,#006ff4,#0059ee,#0042e9,#0333d9,#052ace,#042ed2,#013ce4,#0058ee,#0077f6,#008ff6)"></i><i style="background:linear-gradient(90deg,#00c0eb,#00d0e3,#04ddd9,#14e2ce,#1de5c8,#1ae4ca,#07ded7,#00c5e9,#00a0f3,#0090f6,#00acf2,#00d0e3,#18e3cc,#36edb7,#4ef1a4,#59f29a,#53f29f,#3beeb3,#19e4cb,#00cee4,#00aaf2,#0088f7,#0076f5,#0088f7,#00b1f1,#05ddd9,#4cf1a5,#93f864,#b9f239,#c9f027,#c5f02c,#acf448,#7bf67b,#34ecb9,#00cfe3,#0096f5,#005def,#0067f2,#00a5f3,#09dfd5,#61f392,#aaf44a,#d5ea18,#e9de00,#ecd800,#e0e40a,#c0f131,#88f76f,#33ecb9,#00c7e8,#0089f7,#0065f1,#008cf6,#00c2ea,#1fe6c7,#5bf398,#8cf86b,#a2f553,#a2f553,#91f867,#6cf489,#39eeb5,#09dfd6,#00c2ea,#00a2f3,#0085f7,#0077f6,#0081f8,#0091f6,#009cf4,#009ff4,#009bf4,#0094f5,#008ef6,#008ef6,#0092f5,#0097f5,#009bf4,#009bf4,#0097f5,#008ef6,#0081f8,#006ef4,#0059ee,#0042e8,#0332d7,#0528cc,#042cd1,#013de4,#005aef,#0079f6,#0091f6)"></i><i style="background:linear-gradient(90deg,#00c4e9,#00d5e0,#0ce0d4,#1ee5c7,#28e8c1,#26e8c2,#13e2cf,#00cee4,#00abf2,#0099f4,#00aef1,#00cfe3,#17e3cc,#37edb6,#50f2a2,#5df396,#57f29c,#3eefb1,#1ce5c9,#00d0e3,#00acf2,#0089f7,#0074f5,#0085f7,#00aff1,#03ddda,#4df1a5,#95f762,#bdf235,#ccee23,#c8f028,#aff445,#7ef678,#35edb7,#00cfe3,#0095f5,#005aef,#0066f1,#00a7f2,#0ee0d3,#68f48c,#b1f342,#dbe610,#edd500,#f0cf00,#e8e000,#c9ef27,#92f865,#3beeb4,#00cae6,#008bf6,#0066f2,#008ef6,#00c6e8,#26e8c2,#65f48e,#96f762,#abf449,#abf449,#9af75d,#76f580,#41f0b0,#10e1d1,#00c5e9,#00a2f3,#0083f8,#0072f4,#007df7,#0091f6,#009ef4,#00a3f3,#009ff4,#0099f4,#0093f5,#0091f6,#0094f5,#0098f5,#009bf4,#009bf4,#0097f5,#008ef6,#0081f8,#006ef4,#0059ee,#0041e8,#0331d6,#0626c9,#052bd0,#013de5,#005cef,#007cf7,#0093f5)"></i><i style="background:linear-gradient(90deg,#00c7e8,#00d9de,#15e2ce,#28e9c0,#33ecb9,#31ebba,#1fe6c7,#00d7df,#00b5f0,#00a0f3,#00b0f1,#00cee4,#15e3cd,#36edb7,#51f2a0,#5ff394,#5af399,#41f0af,#1fe6c7,#00d2e2,#00aef1,#0089f7,#0073f5,#0083f8,#00acf2,#01dcdc,#4cf1a5,#97f760,#bff132,#ceed21,#caef26,#b1f342,#80f676,#36edb7,#00cee4,#0093f5,#0057ee,#0064f1,#00a9f2,#12e1d0,#6ef586,#b8f23b,#e1e309,#f2cd00,#f5c700,#ecd800,#d0ec1e,#9af75c,#42f0af,#00cde5,#008cf6,#0067f2,#0090f6,#00cae6,#2deabd,#6ff585,#9df659,#b3f340,#b3f340,#a2f553,#7ff678,#49f1a8,#15e3ce,#00c7e7,#00a3f3,#0080f8,#006df3,#007af6,#0091f6,#00a1f3,#00a6f3,#00a4f3,#009ef4,#0098f5,#0094f5,#0095f5,#0098f5,#009bf4,#009bf4,#0097f5,#008ef6,#0081f8,#006ef4,#0059ee,#0041e8,#0430d5,#0624c7,#052bcf,#013ee5,#005ef0,#007ff8,#0096f5)"></i><i style="background:linear-gradient(90deg,#00cae6,#02dcdb,#1de5c8,#32ecba,#3defb2,#3cefb2,#2be9be,#05ddd9,#00beed,#00a7f2,#00b1f1,#00cde4,#13e2cf,#36edb7,#52f2a0,#62f392,#5cf397,#43f0ad,#21e6c6,#00d3e1,#00aff1,#0089f7,#0071f4,#0080f8,#00a9f2,#00dadd,#4cf1a6,#98f75f,#c1f130,#d0ec1f,#cbee24,#b2f341,#82f775,#36edb7,#00cde4,#0091f6,#0052ec,#0062f1,#00aaf2,#15e3cd,#74f581,#bef134,#e7e102,#f5c500,#f8bf00,#f0d000,#d6e916,#a1f654,#49f1a8,#00cfe3,#008df6,#0066f2,#0092f5,#00cde4,#34ecb8,#78f67d,#a5f550,#baf238,#bbf237,#a9f44b,#86f771,#50f2a2,#1ae4ca,#00cae6,#00a3f3,#007df7,#0067f2,#0077f6,#0092f5,#00a4f3,#00aaf2,#00a9f2,#00a2f3,#009cf4,#0097f5,#0096f5,#0099f4,#009bf4,#009bf4,#0097f5,#008ef6,#0080f8,#006ef4,#0059ee,#0041e8,#042fd4,#0722c5,#052ace,#003ee6,#0060f0,#0081f8,#0098f5)"></i><i style="background:linear-gradient(90deg,#00cde4,#08ded7,#24e7c3,#3beeb3,#4af1a7,#49f1a8,#37edb6,#11e1d0,#00c6e8,#00adf2,#00b2f1,#00cce5,#11e1d0,#34ecb8,#52f2a0,#63f391,#5ef395,#44f0ac,#22e7c5,#00d5e0,#00b1f1,#0089f7,#006ff4,#007cf7,#00a5f3,#00d8de,#4af1a7,#99f75e,#c3f12e,#d1ec1d,#ccee23,#b3f340,#82f774,#36edb7,#00cce5,#008ff6,#004ceb,#005ff0,#00abf2,#19e4cb,#79f67d,#c3f12e,#eadb00,#f8bf00,#fab900,#f3c900,#dbe610,#a8f54d,#51f2a1,#00d2e2,#008df6,#0065f1,#0093f5,#00d0e3,#3aeeb4,#80f676,#abf449,#c0f131,#c2f12f,#aff444,#8df86a,#56f29c,#1ee5c8,#00cbe5,#00a3f3,#007af6,#0062f0,#0075f5,#0093f5,#00a7f2,#00aff1,#00adf2,#00a7f2,#00a0f3,#009af4,#0098f5,#0099f4,#009bf4,#009bf4,#0097f5,#008ef6,#0080f8,#006ef4,#0059ee,#0041e8,#042fd4,#0721c4,#052ace,#003fe7,#0062f0,#0083f8,#009bf4)"></i><i style="background:linear-gradient(90deg,#00d0e3,#0ee0d3,#2ceabe,#45f0ac,#56f29c,#57f29c,#43f0ad,#1ee5c8,#00cee4,#00b3f1,#00b3f1,#00cbe5,#0fe1d2,#32ecb9,#51f2a1,#63f490,#5ff395,#45f0ac,#23e7c4,#00d6e0,#00b1f1,#0089f7,#006cf3,#0078f6,#00a1f3,#00d5e0,#47f1a9,#99f75e,#c4f12d,#d1eb1c,#cdee22,#b3f340,#82f774,#35ecb8,#00cbe6,#008cf6,#0046ea,#005cef,#00acf2,#1be5c9,#7df679,#c8f028,#edd600,#faba00,#fbb400,#f6c300,#e0e40a,#aef446,#57f29b,#00d4e0,#008df6,#0062f1,#0094f5,#00d3e1,#40f0b0,#87f770,#b1f343,#c6f02a,#c8f029,#b5f33e,#93f865,#5bf398,#21e6c5,#00cde5,#00a3f3,#0076f6,#005cef,#0074f5,#0095f5,#00abf2,#00b3f1,#00b2f1,#00acf2,#00a3f3,#009cf4,#0099f4,#009af4,#009cf4,#009cf4,#0097f5,#008ef6,#0081f8,#006ff4,#0059ee,#0041e8,#042fd4,#0721c4,#052acf,#0040e8,#0064f1,#0086f7,#009df4)"></i><i style="background:linear-gradient(90deg,#00d3e1,#13e2cf,#33ecb9,#50f2a2,#62f391,#63f490,#51f2a1,#29e9c0,#00d5e0,#00b8f0,#00b5f0,#00cae6,#0ce0d4,#30ebbb,#4ff1a3,#63f391,#5ef395,#44f0ac,#23e7c4,#00d6df,#00b2f1,#0089f7,#0069f2,#0073f5,#009df4,#00d2e2,#44f0ac,#98f75f,#c4f12d,#d1eb1c,#ccee22,#b3f340,#81f775,#34ecb9,#00cae6,#008bf6,#0040e8,#0058ee,#00adf2,#1de5c8,#81f676,#cbef25,#efd200,#fbb600,#fcaf00,#f8bf00,#e4e205,#b3f340,#5df396,#00d6df,#008df6,#005ff0,#0095f5,#00d5e0,#46f1ab,#8ef86a,#b6f33d,#cbef25,#ccee23,#b9f239,#97f761,#5ff394,#23e7c4,#00cee4,#00a3f3,#0073f5,#0057ee,#0073f5,#0098f5,#00aff1,#00b7f0,#00b6f0,#00b0f1,#00a7f2,#009ff4,#009af4,#009af4,#009cf4,#009cf4,#0097f5,#008ef6,#0081f8,#006ff4,#005aef,#0042e8,#042fd4,#0721c4,#052bd0,#0041e8,#0065f1,#0088f7,#00a0f3)"></i><i style="background:linear-gradient(90deg,#00d5e0,#18e4cb,#3aeeb4,#5af399,#6df587,#6ff585,#5ef395,#34ecb8,#00dbdd,#00bcee,#00b6f0,#00c9e7,#09dfd6,#2deabd,#4bf1a6,#61f392,#5cf397,#42f0ae,#22e7c4,#00d6df,#00b2f1,#0088f7,#0067f2,#006ff4,#0098f5,#00cee4,#41f0af,#96f761,#c3f12d,#d1ec1d,#ccee23,#b2f341,#80f676,#32ecb9,#00c8e7,#0089f7,#013ce3,#0055ed,#00adf2,#1ee5c7,#83f774,#cdee22,#f1ce00,#fbb200,#fdab00,#f9bb00,#e8e000,#b8f23b,#63f391,#00d8de,#008df6,#005cef,#0096f5,#00d8de,#4cf1a6,#92f865,#baf238,#ceed20,#cfec1f,#bdf234,#9af75d,#62f392,#25e7c3,#00cee4,#00a2f3,#0070f4,#0052ec,#0074f5,#009af4,#00b3f1,#00bbee,#00baef,#00b4f1,#00aaf2,#00a1f3,#009bf4,#009af4,#009cf4,#009cf4,#0097f5,#008ef6,#0081f8,#0070f4,#005bef,#0043e9,#0430d5,#0722c5,#042dd1,#0043e9,#0067f2,#008bf6,#00a2f3)"></i><i style="background:linear-gradient(90deg,#00d7df,#1de5c8,#41f0af,#64f490,#78f67e,#7bf67b,#6af48a,#3eefb2,#08ded7,#00c0eb,#00b7f0,#00c8e7,#06ded8,#29e9c0,#47f1aa,#5df396,#59f29a,#3ff0b0,#21e6c6,#00d6df,#00b2f1,#0088f7,#0065f1,#006bf3,#0094f5,#00cbe5,#3defb2,#94f763,#c2f12f,#cfec1f,#cbef25,#b1f343,#7ef678,#31ebba,#00c7e7,#0089f7,#013ae1,#0053ed,#00adf2,#1ee5c7,#83f774,#ceed21,#f2cc00,#fcb000,#fea900,#fab800,#eadd00,#bbf237,#67f48d,#00dadd,#008ef6,#005aef,#0098f5,#00dadd,#50f2a1,#96f761,#bef134,#d1eb1d,#d2eb1b,#c0f131,#9cf65a,#64f490,#25e8c2,#00cee4,#00a1f3,#006df3,#004eec,#0075f5,#009df4,#00b7f0,#00beed,#00bded,#00b7f0,#00adf2,#00a3f3,#009cf4,#009bf4,#009cf4,#009cf4,#0097f5,#008ef6,#0082f8,#0071f4,#005def,#0044e9,#0331d7,#0624c7,#042fd4,#0046e9,#006af2,#008df6,#00a4f3)"></i><i style="background:linear-gradient(90deg,#00d9dd,#22e7c5,#48f1a9,#6df488,#82f775,#85f772,#75f581,#48f1a9,#10e1d1,#00c5e9,#00b9ef,#00c7e8,#02ddda,#25e7c3,#41f0af,#58f29b,#53f29e,#3cefb3,#1ee5c7,#00d5e0,#00b2f1,#0088f7,#0063f1,#0068f2,#0091f6,#00c8e7,#39eeb5,#91f867,#bff133,#cded21,#c9f027,#aef445,#7cf67a,#2febbb,#00c7e8,#0089f7,#013be3,#0052ed,#00acf2,#1de5c8,#82f774,#ceed21,#f2cc00,#fcaf00,#fea700,#fab600,#ebda00,#bef134,#6af48a,#00dbdd,#008ff6,#005cef,#0099f4,#00dbdc,#54f29e,#99f75e,#c1f131,#d3ea1a,#d4ea19,#c2f12e,#9ef658,#65f48f,#25e8c2,#00cde5,#009ff4,#006af3,#004eec,#0077f6,#00a0f3,#00baef,#00c1eb,#00c0ec,#00baef,#00aff1,#00a5f3,#009df4,#009cf4,#009cf4,#009cf4,#0098f5,#008ff6,#0083f8,#0072f5,#005ef0,#0046e9,#0333d8,#0627cb,#0331d7,#0049ea,#006cf3,#008ff6,#00a6f3)"></i><i style="background:linear-gradient(90deg,#00dbdc,#26e8c2,#4ff2a2,#75f580,#8bf86c,#8ff869,#7ef678,#52f2a0,#18e4cb,#00cae6,#00bbee,#00c6e8,#00dbdd,#20e6c6,#3cefb3,#50f2a2,#4cf1a5,#37edb6,#1be4ca,#00d4e1,#00b1f1,#0088f7,#0063f1,#0065f1,#008ef6,#00c6e8,#35edb8,#8bf86c,#baf238,#cbef25,#c6f02a,#acf448,#79f67d,#2eeabc,#00c7e7,#008af7,#003fe7,#0054ed,#00abf2,#1ae4ca,#80f677,#cdee22,#f2cc00,#fcaf00,#fea700,#fbb500,#ecd900,#c0f132,#6cf488,#00dcdc,#0091f6,#0061f0,#009bf4,#01dcdc,#56f29c,#9bf65b,#c3f12e,#d5e918,#d6e917,#c4f12d,#9ef657,#65f48f,#24e7c3,#00cbe6,#009cf4,#0068f2,#0051ec,#007bf7,#00a3f3,#00bcee,#00c4ea,#00c2ea,#00bcee,#00b2f1,#00a6f3,#009ef4,#009cf4,#009df4,#009cf4,#0098f5,#0090f6,#0084f7,#0074f5,#0060f0,#0048ea,#0335db,#052ace,#0334da,#004ceb,#006ff4,#0090f6,#00a7f2)"></i><i style="background:linear-gradient(90deg,#02dddb,#2ae9bf,#56f29c,#7df679,#93f865,#96f761,#86f771,#5af398,#20e6c6,#00cee4,#00beed,#00c6e8,#00d9de,#1ae4ca,#35edb8,#47f1aa,#44f0ac,#32ecba,#16e3cd,#00d2e2,#00b1f1,#0089f7,#0064f1,#0063f1,#008bf6,#00c4ea,#30ebbb,#85f772,#b5f33e,#c7f029,#c2f12f,#a8f54c,#76f580,#2deabd,#00c8e7,#008df6,#0047ea,#0057ee,#00a8f2,#17e3cd,#7cf67a,#cbef25,#f1ce00,#fcb000,#fea800,#fbb500,#ecd800,#c1f130,#6df587,#02dddb,#0093f5,#0066f2,#009cf4,#02dddb,#58f29b,#9df659,#c4f12c,#d6e916,#d6e916,#c4f12c,#9ff657,#64f490,#22e7c5,#00c8e7,#0099f4,#0066f1,#0055ed,#007ff8,#00a5f3,#00beed,#00c6e8,#00c5e9,#00beed,#00b3f1,#00a8f2,#00a0f3,#009df4,#009df4,#009cf4,#0098f5,#0090f6,#0085f7,#0076f5,#0062f1,#004beb,#0237dd,#042ed2,#0237de,#0050ec,#0072f5,#0092f5,#00a8f2)"></i><i style="background:linear-gradient(90deg,#04ddd9,#2eeabd,#5cf397,#84f773,#99f75d,#9cf65a,#8ef86a,#62f392,#26e8c2,#00d2e1,#00c0eb,#00c5e9,#00d6df,#14e2ce,#2deabd,#3defb2,#3beeb3,#2be9be,#11e1d0,#00cfe3,#00b0f1,#0089f7,#0064f1,#0061f0,#0089f7,#00c1eb,#2be9be,#7df679,#aff445,#c2f12f,#bef134,#a4f551,#72f583,#2beabe,#00c8e7,#008ff6,#004fec,#005aee,#00a5f3,#12e2d0,#77f57f,#c8f028,#efd100,#fbb200,#fea900,#fbb600,#ecd800,#c1f130,#6ef587,#03ddda,#0095f5,#006bf3,#009ef4,#03ddda,#59f29a,#9ef658,#c5f02b,#d7e916,#d6e916,#c4f12c,#9ef658,#62f392,#1fe6c6,#00c6e8,#0095f5,#0063f1,#005aee,#0083f8,#00a8f2,#00c0ec,#00c8e7,#00c7e8,#00c0eb,#00b5f0,#00a9f2,#00a1f3,#009ef4,#009df4,#009cf4,#0099f4,#0091f6,#0086f7,#0078f6,#0065f1,#004deb,#0239e0,#0331d6,#013ae1,#0054ed,#0075f5,#0093f5,#00a9f2)"></i><i style="background:linear-gradient(90deg,#06ded8,#31ebba,#61f392,#8bf76d,#9ff657,#a2f553,#94f764,#69f48b,#2deabd,#00d6df,#00c2ea,#00c4e9,#00d3e1,#0de0d3,#25e8c2,#33ecb9,#32ecba,#24e7c3,#0be0d4,#00cde4,#00aff1,#008af7,#0066f1,#005ff0,#0087f7,#00bfec,#25e8c2,#74f581,#a8f54c,#bcf235,#b8f23a,#9ff657,#6df587,#2ae9bf,#00c9e7,#0093f5,#0057ee,#005cef,#00a2f3,#0ce0d4,#70f585,#c3f12e,#edd500,#fbb500,#fdac00,#fab700,#ecd900,#c0f131,#6ef587,#03ddda,#0097f5,#006ff4,#009ff4,#04ddd9,#59f399,#9ff657,#c6f02b,#d7e916,#d6e916,#c4f12d,#9df65a,#5ff394,#1ce5c9,#00c2ea,#0090f6,#0061f0,#005eef,#0087f7,#00acf2,#00c2ea,#00cae6,#00c9e7,#00c2eb,#00b7f0,#00abf2,#00a2f3,#009ef4,#009df4,#009df4,#0099f4,#0092f5,#0088f7,#007af7,#0067f2,#0050ec,#013be3,#0334d9,#013de4,#0058ee,#0078f6,#0095f5,#00aaf2)"></i><i style="background:linear-gradient(90deg,#07ded7,#33ecb9,#66f48e,#91f867,#a5f550,#a8f54d,#99f75e,#6ff585,#32ecba,#00d9dd,#00c4e9,#00c3ea,#00d0e3,#06ded8,#1ce5c9,#29e9c0,#28e9c0,#1be5c9,#05ddd9,#00cae6,#00aef1,#008bf6,#0067f2,#005def,#0084f7,#00bbee,#1fe6c7,#6bf489,#a0f655,#b6f33d,#b3f341,#9af75d,#68f48c,#27e8c1,#00cae6,#0096f5,#005ef0,#005eef,#009ef4,#05ded9,#68f48c,#bdf234,#ebda00,#fab900,#fcaf00,#fab900,#ebdb00,#bff132,#6df587,#03ddda,#0098f5,#0071f4,#00a0f3,#05ddd9,#5af399,#9ef657,#c5f02b,#d6e916,#d5e917,#c2f12e,#9af75c,#5bf397,#18e3cc,#00beec,#008bf6,#005def,#0062f0,#008cf6,#00aff1,#00c4e9,#00cce5,#00cbe6,#00c3ea,#00b8f0,#00acf2,#00a3f3,#009ff4,#009ef4,#009df4,#009af4,#0093f5,#008af7,#007cf7,#006af2,#0053ed,#013ee5,#0236dc,#0040e8,#005bef,#007bf7,#0096f5,#00abf2)"></i><i style="background:linear-gradient(90deg,#08dfd6,#35edb7,#6af48a,#95f762,#aaf44b,#acf447,#9ef659,#75f580,#37edb6,#00dcdc,#00c5e9,#00c2eb,#00cce5,#00dbdd,#12e2cf,#1ee5c7,#1ee5c8,#12e2cf,#00dadd,#00c7e8,#00adf2,#008cf6,#0068f2,#005aef,#0081f8,#00b8f0,#18e3cc,#60f393,#98f75f,#aff445,#acf448,#94f764,#62f392,#25e8c3,#00cae6,#0099f4,#0065f1,#005ff0,#009af4,#00dadd,#60f394,#b7f23b,#e8e000,#f9be00,#fbb300,#f9bc00,#e9dd00,#bdf234,#6cf489,#03ddda,#0098f5,#0072f5,#00a1f3,#05ded9,#59f399,#9ef658,#c5f02c,#d5e917,#d4ea19,#c0f131,#98f75f,#57f29c,#13e2cf,#00baef,#0086f7,#005aee,#0066f1,#0090f6,#00b2f1,#00c6e8,#00cee4,#00cde5,#00c5e9,#00b9ef,#00adf2,#00a4f3,#00a0f3,#009ef4,#009df4,#009af4,#0094f5,#008bf6,#007ff8,#006df3,#0056ed,#003fe7,#0239df,#0043e9,#005ff0,#007ef7,#0097f5,#00acf2)"></i><i style="background:linear-gradient(90deg,#08dfd6,#37edb6,#6ef587,#99f75d,#aef446,#b1f343,#a2f554,#7af67b,#3beeb4,#03ddda,#00c6e8,#00c0eb,#00c9e7,#00d6df,#08ded7,#12e2d0,#12e2cf,#09dfd6,#00d6e0,#00c4e9,#00abf2,#008df6,#006af2,#0058ee,#007df7,#00b4f1,#10e1d1,#55f29d,#8ff869,#a7f54e,#a4f551,#8cf86c,#5bf398,#22e7c5,#00cae6,#009df4,#006bf3,#005ff0,#0096f5,#00d5e0,#56f29d,#b0f344,#e2e307,#f6c400,#fab700,#f8c000,#e7e001,#bbf237,#6af48a,#02dddb,#0098f5,#0072f4,#00a1f3,#05ded8,#59f29a,#9df659,#c3f12e,#d4ea19,#d3eb1b,#bef134,#94f763,#51f2a0,#0de0d3,#00b6f0,#0080f8,#0056ed,#0069f2,#0095f5,#00b6f0,#00c8e7,#00d0e3,#00cee4,#00c6e8,#00baef,#00aef1,#00a5f3,#00a0f3,#009ff4,#009df4,#009bf4,#0095f5,#008df6,#0081f8,#006ff4,#0058ee,#0042e8,#013be2,#0046ea,#0062f0,#0080f8,#0098f5,#00acf2)"></i><i style="background:linear-gradient(90deg,#08dfd6,#38edb6,#71f584,#9df659,#b2f342,#b4f33f,#a5f550,#7ff677,#3eefb1,#06ded8,#00c6e8,#00bfec,#00c5e9,#00d0e3,#00dadd,#06ded8,#06ded8,#00dbdd,#00d0e2,#00c1eb,#00aaf2,#008ef6,#006bf3,#0055ed,#0079f6,#00aff1,#07ded7,#48f1a9,#82f775,#9ef658,#9cf65b,#81f775,#53f29f,#1ee5c7,#00cae6,#00a0f3,#0070f4,#005ff0,#0091f6,#00cfe3,#4bf1a6,#a8f54d,#dce60f,#f2cb00,#f9bd00,#f5c500,#e4e205,#b8f23b,#67f48d,#00dcdc,#0096f5,#0070f4,#00a1f3,#05ded9,#58f29a,#9bf65b,#c1f130,#d2eb1b,#d1ec1d,#baf238,#90f868,#4bf1a6,#07ded7,#00b0f1,#0078f6,#0051ec,#006df3,#0099f4,#00b9ef,#00cbe6,#00d1e2,#00d0e3,#00c8e7,#00bbee,#00aff1,#00a6f3,#00a1f3,#009ff4,#009ef4,#009bf4,#0096f5,#008ef6,#0083f8,#0072f4,#005bef,#0044e9,#013ce4,#0049ea,#0064f1,#0082f8,#0099f4,#00adf2)"></i><i style="background:linear-gradient(90deg,#08ded7,#38eeb5,#73f582,#a0f656,#b5f33e,#b7f23b,#a8f54c,#83f774,#42f0af,#08dfd6,#00c6e8,#00bded,#00c1eb,#00cae6,#00d2e1,#00d7df,#00d8de,#00d4e0,#00cbe5,#00bded,#00a8f2,#008ff6,#006df3,#0053ed,#0074f5,#00aaf2,#00dbdd,#3befb3,#74f581,#94f764,#92f866,#76f57f,#4af1a7,#1ae4ca,#00cae6,#00a3f3,#0075f5,#005ef0,#008cf6,#00c9e7,#3ff0b0,#9ff657,#d5e917,#eed300,#f6c300,#f2cb00,#dfe40b,#b3f340,#64f490,#00dbdd,#0095f5,#006df3,#00a1f3,#05ddd9,#57f29c,#99f75e,#bef133,#d0ec1e,#ceed20,#b6f33c,#8af76d,#44f0ac,#00dcdc,#00abf2,#0071f4,#004ceb,#0070f4,#009ef4,#00bded,#00cde5,#00d3e1,#00d1e2,#00c9e7,#00bcee,#00b0f1,#00a7f2,#00a2f3,#009ff4,#009ef4,#009cf4,#0098f5,#0090f6,#0085f7,#0074f5,#005def,#0046ea,#013ee5,#004beb,#0066f2,#0083f8,#009af4,#00aef1)"></i><i style="background:linear-gradient(90deg,#07ded7,#38eeb5,#75f581,#a2f554,#b7f23b,#b9f239,#abf449,#86f771,#45f0ac,#0adfd5,#00c6e8,#00bbef,#00bded,#00c4e9,#00cbe6,#00cfe3,#00cfe3,#00cde5,#00c5e9,#00b9ef,#00a7f2,#0090f6,#006ff4,#0050ec,#006ff4,#00a5f3,#00d4e0,#2febbb,#64f490,#87f770,#85f772,#69f48b,#40f0b0,#15e3ce,#00c9e6,#00a5f3,#0079f6,#005ef0,#0088f7,#00c2ea,#36edb7,#96f762,#ceed21,#eadd00,#f2cb00,#efd200,#dae711,#aef445,#60f394,#00d9de,#0093f5,#006af3,#00a0f3,#04ddd9,#55f29d,#96f761,#bbf237,#cdee22,#cbee24,#b1f342,#83f774,#3defb2,#00d8de,#00a5f3,#006af2,#0048ea,#0074f5,#00a2f3,#00c0ec,#00cfe3,#00d5e0,#00d3e1,#00cae6,#00beed,#00b1f1,#00a8f2,#00a2f3,#00a0f3,#009ff4,#009df4,#0099f4,#0091f6,#0087f7,#0076f6,#005ff0,#0048ea,#003fe7,#004deb,#0068f2,#0085f7,#009bf4,#00aef1)"></i><i style="background:linear-gradient(90deg,#06ded8,#38eeb5,#75f580,#a3f552,#b9f239,#bbf237,#adf447,#88f76f,#47f1aa,#0bdfd5,#00c5e9,#00b8f0,#00b8f0,#00bded,#00c2ea,#00c6e8,#00c7e8,#00c5e9,#00c0ec,#00b6f0,#00a5f3,#0090f6,#0072f4,#004eec,#006bf3,#009ff4,#00cde4,#22e7c5,#53f29f,#76f57f,#74f581,#5af398,#37edb6,#0fe1d2,#00c8e7,#00a7f2,#007df7,#005ff0,#0085f7,#00bcee,#2ceabe,#8af76e,#c4f12c,#e2e307,#eed500,#ebdb00,#d4ea19,#a8f54c,#5af399,#00d7df,#0091f6,#0068f2,#00a0f3,#02ddda,#52f2a0,#93f865,#b6f33c,#c9ef27,#c7f029,#acf448,#7bf67b,#36edb7,#00d3e1,#009ff4,#0063f1,#0045e9,#0078f6,#00a6f3,#00c3ea,#00d1e2,#00d6df,#00d4e0,#00cbe5,#00bfec,#00b2f1,#00a9f2,#00a3f3,#00a0f3,#009ff4,#009ef4,#009af4,#0093f5,#0088f7,#0078f6,#0061f0,#0049ea,#0040e7,#004eec,#006af2,#0086f7,#009cf4,#00aff1)"></i><i style="background:linear-gradient(90deg,#05ded8,#38edb6,#76f580,#a4f551,#baf238,#bcf236,#adf447,#89f76e,#48f1a9,#0ce0d4,#00c5e9,#00b5f0,#00b2f1,#00b6f0,#00baef,#00bded,#00beed,#00bded,#00baef,#00b1f1,#00a4f3,#0091f6,#0074f5,#0050ec,#0067f2,#0098f5,#00c5e9,#13e2cf,#3ff0b1,#63f391,#62f391,#4af1a7,#2ceabe,#08ded7,#00c6e8,#00a8f2,#0081f8,#0062f1,#0083f8,#00b7f0,#21e6c5,#7bf67b,#b8f23a,#d9e713,#e8df00,#e4e205,#ceed21,#a1f654,#53f29f,#00d5e0,#0091f6,#0069f2,#00a0f3,#00dcdc,#4ef1a4,#8ef86a,#b1f342,#c4f12d,#c1f130,#a5f550,#73f582,#2eeabc,#00cde4,#0099f4,#005def,#0047ea,#007cf7,#00a9f2,#00c5e9,#00d2e1,#00d8de,#00d6e0,#00cde4,#00c0ec,#00b3f1,#00aaf2,#00a4f3,#00a1f3,#00a0f3,#009ef4,#009bf4,#0094f5,#008af7,#007af6,#0062f1,#004aeb,#0040e8,#004fec,#006bf3,#0087f7,#009df4,#00aff1)"></i><i style="background:linear-gradient(90deg,#04ddd9,#37edb6,#75f580,#a3f552,#b9f239,#bcf236,#adf447,#89f76e,#49f1a8,#0de0d3,#00c4e9,#00b3f1,#00acf2,#00adf2,#00b0f1,#00b3f1,#00b4f1,#00b5f0,#00b3f1,#00adf2,#00a2f3,#0091f6,#0075f5,#0053ed,#0065f1,#0092f5,#00bcee,#03ddda,#2eeabd,#4cf1a5,#4df1a4,#39eeb5,#20e6c6,#00dcdc,#00c3ea,#00a8f2,#0083f8,#0067f2,#0082f8,#00b3f1,#17e3cc,#6bf489,#abf449,#cfed20,#dfe50c,#dce610,#c5f02b,#99f75e,#4af1a7,#00d2e2,#0090f6,#006df3,#00a0f3,#00dbdd,#48f1a8,#88f76f,#acf448,#bdf234,#baf238,#9ef658,#69f48b,#26e8c2,#00c8e7,#0093f5,#0059ee,#004beb,#0081f8,#00adf2,#00c7e8,#00d4e0,#00d9de,#00d7df,#00cee4,#00c2eb,#00b5f0,#00abf2,#00a5f3,#00a2f3,#00a0f3,#009ff4,#009cf4,#0095f5,#008bf6,#007bf7,#0063f1,#004beb,#0040e8,#004fec,#006cf3,#0087f7,#009df4,#00aff1)"></i><i style="background:linear-gradient(90deg,#03ddda,#36edb7,#73f582,#a2f553,#b8f23a,#bbf237,#acf448,#89f76f,#49f1a8,#0de0d3,#00c4e9,#00aff1,#00a6f3,#00a5f3,#00a6f3,#00a8f2,#00aaf2,#00acf2,#00acf2,#00a9f2,#00a0f3,#0091f6,#0077f6,#0058ee,#0063f1,#008bf6,#00b2f1,#00d3e1,#1be4ca,#35edb7,#37edb6,#29e9c0,#13e2cf,#00d6df,#00c0eb,#00a7f2,#0086f7,#006df3,#0082f8,#00aff1,#0ce0d4,#5af399,#9cf65a,#c2f12e,#d4ea19,#d2eb1c,#bbf237,#8ff869,#41f0b0,#00cfe3,#0091f6,#0071f4,#00a0f3,#00d9de,#42f0ae,#81f676,#a5f550,#b6f33d,#b2f341,#96f761,#5ff394,#1de5c8,#00c2ea,#008df6,#0056ed,#0052ec,#0086f7,#00aff1,#00c9e7,#00d5e0,#00dadd,#00d8de,#00d0e3,#00c3ea,#00b7f0,#00adf2,#00a6f3,#00a2f3,#00a1f3,#00a0f3,#009cf4,#0096f5,#008cf6,#007cf7,#0064f1,#004beb,#0040e8,#004fec,#006cf3,#0088f7,#009df4,#00b0f1)"></i><i style="background:linear-gradient(90deg,#01dcdb,#34ecb8,#71f584,#a0f655,#b7f23c,#b9f239,#aaf44a,#87f770,#48f1a8,#0de0d3,#00c4ea,#00acf2,#00a0f3,#009bf4,#009cf4,#009df4,#00a0f3,#00a3f3,#00a5f3,#00a5f3,#009ff4,#0092f5,#007af6,#005def,#0061f0,#0084f7,#00a7f2,#00c7e8,#06ded8,#1fe6c7,#22e7c4,#17e3cc,#05ddd9,#00cfe3,#00bded,#00a6f3,#0089f7,#0073f5,#0083f8,#00acf2,#01dcdc,#47f1a9,#8cf86c,#b3f340,#c8f028,#c7f029,#aff445,#82f774,#38edb6,#00cce5,#0091f6,#0075f5,#00a0f3,#00d7df,#3cefb3,#79f67d,#9ef658,#aef446,#a9f44b,#8df86b,#54f29e,#14e2ce,#00bcee,#0087f7,#0054ed,#0059ee,#008af7,#00b2f1,#00cae6,#00d7df,#00dbdc,#00d9de,#00d1e2,#00c5e9,#00b8f0,#00aef1,#00a7f2,#00a3f3,#00a2f3,#00a0f3,#009df4,#0097f5,#008df6,#007cf7,#0064f1,#004beb,#0040e8,#004fec,#006cf3,#0088f7,#009ef4,#00b0f1)"></i><i style="background:linear-gradient(90deg,#00dbdc,#32ecba,#6ff586,#9ef658,#b4f33e,#b7f23c,#a8f54d,#84f772,#47f1aa,#0de0d3,#00c3ea,#00a9f2,#0099f4,#0092f5,#0091f6,#0092f5,#0095f5,#0099f4,#009ef4,#00a1f3,#009ef4,#0092f5,#007cf7,#0062f0,#0061f0,#007cf7,#009cf4,#00baef,#00d1e2,#07ded7,#0ce0d4,#04ddd9,#00d5e0,#00c9e7,#00b9ef,#00a5f3,#008bf6,#0078f6,#0085f7,#00a9f2,#00d5e0,#36edb7,#77f67e,#a3f552,#b9f239,#b9f239,#a3f553,#75f581,#2febbc,#00c8e7,#0091f6,#0079f6,#00a0f3,#00d4e0,#36edb7,#70f585,#96f761,#a5f550,#a0f656,#81f775,#48f1a9,#0adfd5,#00b5f0,#0080f8,#0052ec,#005ff0,#008ff6,#00b5f0,#00cce5,#00d8de,#00dcdc,#00dadd,#00d3e1,#00c7e8,#00baef,#00aff1,#00a8f2,#00a4f3,#00a2f3,#00a1f3,#009ef4,#0098f5,#008df6,#007df7,#0065f1,#004beb,#003fe7,#004eeb,#006cf3,#0088f7,#009ef4,#00b0f1)"></i><i style="background:linear-gradient(90deg,#00dadd,#2febbc,#6bf489,#9bf65b,#b1f342,#b4f33f,#a5f550,#81f775,#45f1ab,#0ce0d3,#00c2eb,#00a5f3,#0092f5,#0088f7,#0085f7,#0087f7,#008af7,#0090f6,#0097f5,#009df4,#009cf4,#0093f5,#007ff8,#0066f2,#0060f0,#0074f5,#0090f6,#00abf2,#00c2eb,#00d0e3,#00d4e0,#00d2e2,#00cbe5,#00c2eb,#00b5f0,#00a3f3,#008df6,#007df7,#0087f7,#00a5f3,#00cde4,#26e8c2,#61f392,#93f865,#a9f44b,#aaf44a,#95f762,#66f48e,#25e8c2,#00c5e9,#0091f6,#007cf7,#00a0f3,#00d2e2,#30ebbb,#66f48e,#8cf86b,#9cf65b,#96f761,#75f580,#3cefb3,#00dcdc,#00aef1,#0079f6,#0050ec,#0065f1,#0094f5,#00b8f0,#00cde4,#00d9de,#02dddb,#00dbdc,#00d4e0,#00c8e7,#00bcee,#00b1f1,#00a9f2,#00a5f3,#00a3f3,#00a2f3,#009ff4,#0099f4,#008ef6,#007df7,#0065f1,#004beb,#013ee5,#004ceb,#006bf3,#0088f7,#009ef4,#00b0f1)"></i><i style="background:linear-gradient(90deg,#00d7df,#2ceabe,#67f48d,#98f75f,#aef446,#b1f343,#a1f654,#7df679,#43f0ae,#0bdfd4,#00c1eb,#00a2f3,#008bf6,#007df7,#0079f6,#007af6,#007ef8,#0086f7,#0090f6,#0099f4,#009cf4,#0094f5,#0082f8,#006bf3,#0061f0,#006cf3,#0083f8,#009bf4,#00b1f1,#00bfec,#00c4e9,#00c4e9,#00c1eb,#00baef,#00b0f1,#00a2f3,#008ff6,#0082f8,#0088f7,#00a2f3,#00c5e9,#14e2ce,#4af1a7,#7df679,#98f75f,#9af75c,#86f771,#57f29b,#1be5c9,#00c1eb,#0091f6,#007ef8,#009ff4,#00cfe3,#29e9c0,#5bf397,#81f676,#92f866,#8bf76d,#68f48c,#32ecba,#00d5e0,#00a6f3,#0070f4,#004eeb,#006bf3,#0099f4,#00baef,#00cee4,#00dadd,#03ddda,#01dcdc,#00d5e0,#00cae6,#00bded,#00b2f1,#00aaf2,#00a5f3,#00a4f3,#00a2f3,#009ff4,#0099f4,#008ff6,#007ef7,#0065f1,#004aea,#013ce3,#004aeb,#006bf3,#0088f7,#009ef4,#00b0f1)"></i><i style="background:linear-gradient(90deg,#00d5e0,#28e8c1,#62f391,#94f763,#aaf44a,#acf448,#9df659,#79f67d,#3ff0b0,#09dfd6,#00bfec,#009ef4,#0083f8,#0071f4,#006bf3,#006cf3,#0071f4,#007bf7,#008af7,#0096f5,#009bf4,#0095f5,#0085f7,#0070f4,#0061f0,#0064f1,#0075f5,#008af7,#009ef4,#00acf2,#00b2f1,#00b6f0,#00b6f0,#00b2f1,#00acf2,#00a1f3,#0091f6,#0085f7,#008af7,#009ef4,#00bded,#02ddda,#35edb7,#66f48e,#85f772,#89f76e,#74f581,#47f1a9,#11e1d0,#00bded,#0090f6,#007ff8,#009ef4,#00cbe5,#22e7c5,#50f2a1,#74f581,#85f772,#7ef679,#5bf398,#27e8c1,#00cee4,#009ff4,#0068f2,#004ceb,#0070f4,#009ef4,#00bded,#00d0e3,#00dadd,#04ddd9,#02ddda,#00d7df,#00cce5,#00bfec,#00b3f1,#00abf2,#00a6f3,#00a4f3,#00a3f3,#00a0f3,#009af4,#008ff6,#007ef8,#0065f1,#0049ea,#0139e0,#0048ea,#006af3,#0088f7,#009ef4,#00b0f1)"></i><i style="background:linear-gradient(90deg,#00d2e1,#23e7c4,#5cf396,#90f868,#a6f54f,#a8f54d,#99f75e,#74f581,#3cefb3,#07ded7,#00bded,#009bf4,#007cf7,#0065f1,#005def,#005eef,#0064f1,#0070f4,#0083f8,#0093f5,#009bf4,#0096f5,#0088f7,#0074f5,#0063f1,#005def,#0066f1,#0076f6,#008af7,#0097f5,#009ef4,#00a6f3,#00aaf2,#00abf2,#00a8f2,#00a0f3,#0093f5,#0088f7,#008bf6,#009af4,#00b3f1,#00d1e2,#21e6c5,#4ff1a3,#6ff586,#75f580,#61f392,#39eeb5,#07ded7,#00b9ef,#008ff6,#0080f8,#009df4,#00c8e7,#1ae4ca,#44f0ac,#67f48d,#77f67e,#70f585,#4df1a4,#1ce5c9,#00c7e7,#0097f5,#005ff0,#0049ea,#0075f5,#00a2f3,#00bfec,#00d1e2,#00dbdd,#05ded9,#04ddda,#00d8de,#00cde4,#00c0eb,#00b4f1,#00acf2,#00a7f2,#00a5f3,#00a3f3,#00a1f3,#009bf4,#0090f6,#007ff8,#0065f1,#0047ea,#0237dd,#0045e9,#0069f2,#0088f7,#009df4,#00b0f1)"></i><i style="background:linear-gradient(90deg,#00cfe3,#1ee5c7,#56f29c,#8af76d,#a1f655,#a2f553,#94f764,#6ef586,#39eeb5,#04ddd9,#00bcee,#0098f5,#0074f5,#0059ee,#004fec,#004fec,#0056ed,#0064f1,#007df7,#0090f6,#009bf4,#0098f5,#008bf6,#0079f6,#0065f1,#0057ee,#0057ee,#0061f0,#0074f5,#0082f8,#008af7,#0097f5,#009ff4,#00a3f3,#00a4f3,#009ff4,#0094f5,#008bf6,#008cf6,#0096f5,#00a9f2,#00c5e9,#0de0d3,#39eeb5,#58f29a,#60f393,#4ff1a3,#2ceabe,#00dadd,#00b5f0,#008ef6,#0080f8,#009bf4,#00c4e9,#12e1d0,#39eeb5,#59f29a,#69f48b,#62f392,#3ff0b1,#11e1d0,#00c0eb,#0090f6,#0057ee,#0047ea,#007af6,#00a6f3,#00c1eb,#00d2e2,#00dbdc,#06ded8,#05ded9,#00d9dd,#00cfe3,#00c2eb,#00b6f0,#00adf2,#00a8f2,#00a6f3,#00a4f3,#00a2f3,#009cf4,#0090f6,#007ff8,#0065f1,#0046ea,#0334d9,#0042e8,#0068f2,#0088f7,#009df4,#00aff1)"></i><i style="background:linear-gradient(90deg,#00cce5,#18e4cb,#4ff2a2,#83f774,#9bf65b,#9cf65a,#8df86a,#68f48c,#34ecb8,#01dcdc,#00baef,#0095f5,#006ef3,#004deb,#0041e8,#0040e8,#0048ea,#0059ee,#0076f6,#008ef6,#009bf4,#0099f4,#008df6,#007df7,#0067f2,#0052ed,#0049ea,#004beb,#005cef,#006bf3,#0074f5,#0089f7,#0095f5,#009cf4,#00a0f3,#009ff4,#0095f5,#008cf6,#008df6,#0091f6,#009ff4,#00b7f0,#00d7df,#26e8c2,#42f0ae,#4bf1a6,#3defb2,#1fe6c6,#00d4e1,#00b1f1,#008df6,#0080f8,#0099f4,#00c0ec,#08dfd6,#2eeabd,#4af1a7,#5af398,#53f29f,#34ecb9,#06ded8,#00baef,#0089f7,#004fec,#0045e9,#007df7,#00aaf2,#00c3ea,#00d2e1,#00dcdc,#07ded7,#06ded8,#00dbdd,#00d0e3,#00c3ea,#00b7f0,#00aef1,#00a9f2,#00a6f3,#00a5f3,#00a2f3,#009cf4,#0091f6,#007ff8,#0065f1,#0045e9,#0430d5,#003fe7,#0067f2,#0088f7,#009df4,#00aff1)"></i><i style="background:linear-gradient(90deg,#00c9e7,#13e2cf,#48f1a9,#7bf67a,#95f763,#96f762,#85f772,#61f393,#2febbb,#00dadd,#00b8f0,#0092f5,#0068f2,#0043e9,#0237dd,#0235db,#013ce4,#004fec,#0071f4,#008cf6,#009bf4,#009af4,#0090f6,#0081f8,#006af2,#0050ec,#003ee6,#0238de,#0044e9,#0053ed,#005def,#007cf7,#008cf6,#0097f5,#009df4,#009ef4,#0096f5,#008df6,#008cf6,#008cf6,#0094f5,#00a9f2,#00cae6,#12e2cf,#2febbb,#38eeb5,#2eeabc,#13e2cf,#00cee4,#00aef1,#008df6,#0080f8,#0097f5,#00bbee,#00dbdd,#22e7c5,#3befb3,#4af1a7,#44f0ac,#28e8c1,#00d9de,#00b3f1,#0083f8,#0048ea,#0045e9,#0081f8,#00adf2,#00c4e9,#00d3e1,#00dcdc,#07ded7,#07ded7,#00dcdc,#00d1e2,#00c4e9,#00b8f0,#00aff1,#00aaf2,#00a7f2,#00a5f3,#00a3f3,#009df4,#0091f6,#007ff8,#0065f1,#0044e9,#042dd1,#013de4,#0066f1,#0087f7,#009df4,#00aff1)"></i><i style="background:linear-gradient(90deg,#00c6e8,#0ce0d3,#3ff0b0,#73f582,#8df86b,#8df86a,#7cf67a,#58f29a,#2ae9bf,#00d7df,#00b5f0,#0090f6,#0064f1,#013de4,#042ed3,#052ace,#0334d9,#0047ea,#006df3,#008af7,#009bf4,#009bf4,#0092f5,#0084f7,#006df3,#0050ec,#0239e0,#052ace,#0334da,#0040e7,#004beb,#0071f4,#0085f7,#0092f5,#009af4,#009df4,#0096f5,#008df6,#008af7,#0086f7,#0088f7,#009bf4,#00bded,#00dcdc,#1de5c8,#27e8c1,#1fe6c7,#06ded8,#00c8e7,#00aaf2,#008df6,#0081f8,#0094f5,#00b5f0,#00d4e1,#15e3ce,#2eeabc,#3beeb3,#37edb6,#1ce5c9,#00d2e2,#00acf2,#007ef7,#0044e9,#0046ea,#0083f8,#00aff1,#00c5e9,#00d3e1,#00dcdc,#07ded7,#08ded7,#01dcdb,#00d2e1,#00c6e8,#00b9ef,#00b0f1,#00abf2,#00a8f2,#00a6f3,#00a3f3,#009df4,#0091f6,#007ff8,#0065f1,#0043e9,#052bcf,#013be2,#0064f1,#0087f7,#009df4,#00aff1)"></i><i style="background:linear-gradient(90deg,#00c2ea,#06ded8,#38edb6,#68f48c,#82f775,#83f774,#72f583,#4ff2a2,#24e7c3,#00d5e0,#00b3f1,#008ef6,#0062f1,#013ae1,#0626ca,#0721c4,#052cd0,#0042e8,#006af2,#0089f7,#009af4,#009cf4,#0094f5,#0087f7,#0070f4,#0053ed,#0239df,#0723c6,#052ace,#0237dd,#0043e9,#006af3,#0081f8,#008ff6,#0098f5,#009bf4,#0095f5,#008cf6,#0087f7,#007ef8,#007cf7,#008df6,#00b0f1,#00d0e3,#0be0d4,#17e3cc,#11e1d1,#00d8de,#00c2ea,#00a8f2,#008ef6,#0083f8,#0092f5,#00aff1,#00cbe5,#07ded7,#20e6c6,#2deabd,#29e9c0,#10e1d1,#00cbe5,#00a6f3,#0079f6,#0044e9,#004aeb,#0084f7,#00aff1,#00c5e9,#00d3e1,#00dcdc,#08ded7,#08dfd6,#02dddb,#00d3e1,#00c7e8,#00bbef,#00b1f1,#00acf2,#00a9f2,#00a7f2,#00a4f3,#009ef4,#0091f6,#007ff8,#0065f1,#0043e9,#052ace,#0239e0,#0062f1,#0086f7,#009cf4,#00aff1)"></i><i style="background:linear-gradient(90deg,#00bfec,#00dcdc,#30ebbb,#5df396,#76f57f,#78f67e,#67f48d,#45f1ab,#1de5c8,#00d1e2,#00b1f1,#008df6,#0062f1,#013ae1,#0722c5,#0721c4,#0627cb,#0040e8,#0068f2,#0088f7,#009af4,#009df4,#0096f5,#008af7,#0074f5,#0058ee,#013de4,#052acd,#052cd0,#0236dc,#0045e9,#0069f2,#0080f8,#008ef6,#0097f5,#009af4,#0095f5,#008bf6,#0082f8,#0075f5,#006df3,#007ff8,#00a3f3,#00c4e9,#00d8de,#06ded8,#02ddda,#00d1e2,#00bded,#00a5f3,#0090f6,#0085f7,#008ff6,#00a7f2,#00c2ea,#00d7df,#12e1d0,#1fe6c7,#1ce5c9,#04ddd9,#00c5e9,#00a2f3,#0076f6,#0047ea,#0050ec,#0086f7,#00aef1,#00c5e9,#00d3e1,#00dcdc,#08ded7,#09dfd6,#02ddda,#00d4e0,#00c8e7,#00bcee,#00b3f1,#00adf2,#00a9f2,#00a8f2,#00a5f3,#009ef4,#0092f5,#0080f8,#0065f1,#0043e9,#052ace,#0238de,#0060f0,#0084f7,#009cf4,#00aff1)"></i><i style="background:linear-gradient(90deg,#00bcee,#00d7df,#27e8c1,#51f2a1,#6af48a,#6cf489,#5bf398,#3befb3,#16e3cd,#00cee4,#00aff1,#008cf6,#0063f1,#013de4,#0624c7,#0721c4,#0627ca,#0041e8,#0068f2,#0088f7,#0099f4,#009ef4,#0098f5,#008cf6,#0078f6,#005ef0,#0045e9,#0235db,#0236dc,#013de5,#004eeb,#006cf3,#0081f8,#008ef6,#0096f5,#0099f4,#0094f5,#008af7,#007ef7,#006bf3,#005ff0,#0070f4,#0097f5,#00baef,#00cde4,#00d6df,#00d5e0,#00cae6,#00b8f0,#00a3f3,#0092f5,#0088f7,#008cf6,#009ff4,#00b8f0,#00cde4,#03ddda,#10e1d1,#0ee0d3,#00d7df,#00bfec,#009ef4,#0075f5,#004ceb,#0056ed,#0087f7,#00aef1,#00c4e9,#00d3e1,#00dcdc,#07ded7,#09dfd6,#03ddda,#00d5e0,#00c9e6,#00bded,#00b4f1,#00aef1,#00aaf2,#00a8f2,#00a5f3,#009ef4,#0092f5,#0080f8,#0065f1,#0044e9,#052bcf,#0236dc,#005def,#0083f8,#009cf4,#00aff1)"></i><i style="background:linear-gradient(90deg,#00b9f0,#00d2e1,#1ee5c7,#44f0ac,#5df396,#5ef395,#4ef1a3,#32ecba,#0fe1d2,#00cae6,#00acf2,#008bf6,#0066f1,#0041e8,#052ace,#0721c4,#052bcf,#0045e9,#006af2,#0088f7,#009af4,#009ff4,#009af4,#008ff6,#007df7,#0066f1,#0050ec,#0043e9,#0043e9,#004ceb,#005bef,#0074f5,#0085f7,#0090f6,#0096f5,#0098f5,#0093f5,#0088f7,#0078f6,#0061f0,#004fec,#0061f0,#008df6,#00aff1,#00c3ea,#00cce5,#00cde4,#00c4ea,#00b3f1,#00a2f3,#0094f5,#008bf6,#0089f7,#0096f5,#00adf2,#00c3ea,#00d4e1,#02dddb,#00dcdc,#00cfe3,#00baef,#009af4,#0075f5,#0052ec,#005bef,#0088f7,#00adf2,#00c4e9,#00d2e2,#00dcdc,#07ded7,#09dfd6,#03ddda,#00d6df,#00cbe6,#00bfec,#00b5f0,#00aff1,#00abf2,#00a9f2,#00a6f3,#009ef4,#0092f5,#0080f8,#0066f1,#0045e9,#052cd0,#0334da,#005bef,#0082f8,#009cf4,#00b0f1)"></i><i style="background:linear-gradient(90deg,#00b5f0,#00cde4,#15e2ce,#39eeb5,#4ff1a3,#50f2a1,#41f0af,#28e9c0,#06ded8,#00c7e8,#00aaf2,#008bf6,#0069f2,#0048ea,#0332d7,#0626c9,#0331d6,#004aeb,#006cf3,#0089f7,#009af4,#00a0f3,#009cf4,#0091f6,#0081f8,#006ef3,#005def,#0054ed,#0056ee,#005eef,#006bf3,#007ef7,#008af7,#0092f5,#0097f5,#0097f5,#0092f5,#0086f7,#0073f5,#0057ee,#003fe7,#0052ed,#0083f8,#00a6f3,#00b9ef,#00c3ea,#00c6e8,#00beed,#00aef1,#00a0f3,#0097f5,#008ef6,#0086f7,#008cf6,#00a1f3,#00b9f0,#00cae6,#00d4e1,#00d3e1,#00c8e7,#00b5f0,#0098f5,#0076f5,#0058ee,#0061f0,#0089f7,#00acf2,#00c3ea,#00d1e2,#00dbdc,#07ded7,#09dfd6,#04ddd9,#00d7df,#00cce5,#00c0eb,#00b6f0,#00aff1,#00acf2,#00aaf2,#00a6f3,#009ff4,#0092f5,#0080f8,#0066f2,#0046e9,#042dd2,#0332d8,#0057ee,#0080f8,#009cf4,#00b0f1)"></i><i style="background:linear-gradient(90deg,#00b1f1,#00c8e7,#0bdfd5,#2eeabd,#40f0b0,#42f0ae,#35edb8,#1de5c8,#00dadd,#00c2ea,#00a7f2,#008bf6,#006df3,#0050ec,#013ae0,#0430d5,#0239df,#0051ec,#0070f4,#008af7,#009bf4,#00a2f3,#009ef4,#0094f5,#0086f7,#0076f6,#006af2,#0066f1,#0069f2,#0070f4,#007bf7,#0088f7,#0091f6,#0096f5,#0098f5,#0097f5,#0091f6,#0085f7,#006ff4,#004eec,#0332d8,#0044e9,#007bf7,#009ff4,#00b0f1,#00baef,#00bfec,#00b9f0,#00aaf2,#009ff4,#009af4,#0091f6,#0082f8,#0081f8,#0095f5,#00adf2,#00c0eb,#00cbe6,#00cbe5,#00c2eb,#00b1f1,#0097f5,#0078f6,#005ff0,#0067f2,#008af7,#00abf2,#00c2ea,#00d1e2,#00dbdd,#07ded7,#09dfd6,#04ddd9,#00d7df,#00cde4,#00c1eb,#00b8f0,#00b0f1,#00adf2,#00abf2,#00a7f2,#009ff4,#0092f5,#0081f8,#0067f2,#0048ea,#042ed3,#0430d5,#0054ed,#007ff8,#009bf4,#00b0f1)"></i><i style="background:linear-gradient(90deg,#00adf2,#00c3ea,#00dcdc,#22e7c5,#34ecb8,#35edb8,#29e9c0,#12e2cf,#00d4e0,#00beed,#00a5f3,#008bf6,#0071f4,#0058ee,#0042e9,#013ae0,#0041e8,#005aee,#0075f5,#008df6,#009df4,#00a3f3,#00a0f3,#0097f5,#008af7,#007ef8,#0076f6,#0076f6,#007bf7,#0082f8,#008af7,#0094f5,#0099f4,#009bf4,#009af4,#0098f5,#0091f6,#0084f7,#006cf3,#0047ea,#0723c6,#013ae1,#0075f5,#0099f4,#00a8f2,#00b2f1,#00baef,#00b4f1,#00a6f3,#009ef4,#009cf4,#0094f5,#007ff8,#0074f5,#0088f7,#00a1f3,#00b7f0,#00c2ea,#00c3ea,#00bcee,#00adf2,#0097f5,#007cf7,#0066f1,#006cf3,#008cf6,#00abf2,#00c1eb,#00d0e3,#00dadd,#06ded8,#09dfd6,#04ddd9,#00d8de,#00cee4,#00c3ea,#00b9f0,#00b1f1,#00aef1,#00acf2,#00a8f2,#009ff4,#0092f5,#0081f8,#0068f2,#0049ea,#042fd4,#042dd1,#0051ec,#007ef7,#009bf4,#00aff1)"></i><i style="background:linear-gradient(90deg,#00a9f2,#00bded,#00d5e0,#16e3cd,#28e8c1,#28e9c0,#1ce5c9,#06ded8,#00cee4,#00b9ef,#00a2f3,#008bf6,#0075f5,#0060f0,#004deb,#0044e9,#004ceb,#0063f1,#007bf7,#0090f6,#009ff4,#00a5f3,#00a2f3,#0099f4,#008ff6,#0086f7,#0082f8,#0085f7,#008bf6,#0091f6,#0098f5,#009ff4,#00a2f3,#00a0f3,#009df4,#0099f4,#0091f6,#0084f7,#006bf3,#0042e9,#0721c4,#0333d9,#0073f5,#0096f5,#00a1f3,#00abf2,#00b6f0,#00b0f1,#00a2f3,#009df4,#009ff4,#0097f5,#007af7,#0066f1,#007af6,#0096f5,#00adf2,#00bbef,#00bcee,#00b7f0,#00abf2,#0097f5,#0080f8,#006df3,#0072f4,#008df6,#00abf2,#00c1eb,#00d0e3,#00dadd,#06ded8,#09dfd6,#05ded9,#00d9de,#00cfe3,#00c4e9,#00baef,#00b2f1,#00aef1,#00acf2,#00a8f2,#00a0f3,#0093f5,#0082f8,#0069f2,#004ceb,#0331d6,#0529cd,#004ceb,#007cf7,#009bf4,#00aff1)"></i><i style="background:linear-gradient(90deg,#00a5f3,#00b6f0,#00cee4,#0adfd5,#1be4ca,#1be4ca,#0fe1d2,#00d8de,#00c7e8,#00b4f1,#009ff4,#008af7,#0079f6,#0068f2,#0058ee,#0050ec,#0058ee,#006df3,#0082f8,#0093f5,#00a2f3,#00a8f2,#00a5f3,#009cf4,#0093f5,#008df6,#008cf6,#0092f5,#0099f4,#009ff4,#00a6f3,#00abf2,#00aaf2,#00a6f3,#00a0f3,#009af4,#0092f5,#0084f7,#006bf3,#0042e8,#0721c4,#0331d7,#0074f5,#0096f5,#009df4,#00a5f3,#00b4f1,#00aef1,#009ff4,#009cf4,#00a1f3,#0099f4,#0076f5,#0055ed,#006bf3,#008bf6,#00a4f3,#00b3f1,#00b6f0,#00b3f1,#00a9f2,#0099f4,#0085f7,#0074f5,#0077f6,#008ff6,#00abf2,#00c0eb,#00cfe3,#00dadd,#06ded8,#09dfd6,#05ded8,#00d9de,#00d0e3,#00c5e9,#00bbef,#00b3f1,#00aff1,#00adf2,#00a9f2,#00a0f3,#0093f5,#0082f8,#006bf3,#004eec,#0332d8,#0625c8,#0048ea,#007af7,#009af4,#00aff1)"></i><i style="background:linear-gradient(90deg,#00a1f3,#00b0f1,#00c6e8,#00dadd,#0de0d3,#0ce0d3,#01dcdc,#00d0e3,#00bfec,#00aef1,#009bf4,#008af7,#007df7,#0070f4,#0063f1,#005cef,#0064f1,#0077f6,#0088f7,#0098f5,#00a5f3,#00aaf2,#00a7f2,#009ef4,#0097f5,#0093f5,#0095f5,#009df4,#00a7f2,#00adf2,#00b3f1,#00b6f0,#00b3f1,#00acf2,#00a4f3,#009cf4,#0093f5,#0085f7,#006cf3,#0046ea,#0721c4,#0236dc,#0079f6,#0099f4,#009bf4,#00a2f3,#00b4f1,#00adf2,#009cf4,#009bf4,#00a2f3,#009bf4,#0071f4,#0043e9,#005cef,#0081f8,#009df4,#00adf2,#00b1f1,#00b0f1,#00a9f2,#009cf4,#008af7,#007bf7,#007df7,#0092f5,#00abf2,#00c0ec,#00cfe3,#00d9dd,#06ded8,#09dfd6,#06ded8,#00dadd,#00d1e2,#00c6e8,#00bcee,#00b4f1,#00b0f1,#00aef1,#00aaf2,#00a1f3,#0094f5,#0083f8,#006df3,#0051ec,#0334da,#0721c4,#0043e9,#0078f6,#009af4,#00aef1)"></i><i style="background:linear-gradient(90deg,#009df4,#00a9f2,#00beed,#00d2e2,#00dbdc,#00dbdd,#00d3e1,#00c7e8,#00b7f0,#00a7f2,#0097f5,#0089f7,#0080f8,#0077f6,#006df3,#0068f2,#0071f4,#0082f8,#0090f6,#009df4,#00a9f2,#00adf2,#00a9f2,#00a1f3,#009af4,#0099f4,#009ef4,#00a8f2,#00b3f1,#00baef,#00bfec,#00c1eb,#00bcee,#00b3f1,#00a8f2,#009ef4,#0094f5,#0087f7,#0070f4,#004eec,#0331d6,#0040e8,#0081f8,#009ef4,#009cf4,#00a1f3,#00b5f0,#00adf2,#0099f4,#009af4,#00a2f3,#009cf4,#006cf3,#0335db,#0050ec,#0079f6,#0097f5,#00a9f2,#00aef1,#00aef1,#00aaf2,#009ff4,#008ff6,#0082f8,#0083f8,#0094f5,#00acf2,#00c0eb,#00cfe3,#00d9dd,#06ded8,#09dfd6,#06ded8,#00dbdd,#00d2e2,#00c8e7,#00bded,#00b4f1,#00b0f1,#00aef1,#00aaf2,#00a1f3,#0095f5,#0085f7,#006ff4,#0054ed,#0236dd,#0721c4,#003fe7,#0076f6,#0098f5,#00adf2)"></i><i style="background:linear-gradient(90deg,#0099f4,#00a1f3,#00b6f0,#00c9e7,#00d2e2,#00d1e2,#00c9e6,#00bded,#00aef1,#00a0f3,#0093f5,#0088f7,#0083f8,#007ef7,#0076f6,#0074f5,#007df7,#008cf6,#0098f5,#00a3f3,#00adf2,#00b0f1,#00abf2,#00a2f3,#009df4,#009ef4,#00a6f3,#00b2f1,#00beed,#00c4e9,#00c9e6,#00cae6,#00c4e9,#00b9ef,#00acf2,#00a1f3,#0096f5,#008af7,#0075f5,#005aee,#0043e9,#0055ed,#008bf6,#00a4f3,#00a0f3,#00a4f3,#00b7f0,#00aef1,#0099f4,#0098f5,#00a0f3,#009af4,#0067f2,#0529cd,#0047ea,#0073f5,#0094f5,#00a7f2,#00adf2,#00aff1,#00adf2,#00a3f3,#0094f5,#0088f7,#0088f7,#0098f5,#00aef1,#00c1eb,#00cfe3,#00d9de,#06ded8,#09dfd6,#07ded7,#00dbdc,#00d3e1,#00c9e7,#00beed,#00b5f0,#00b1f1,#00aff1,#00abf2,#00a2f3,#0096f5,#0086f7,#0071f4,#0057ee,#0239df,#0721c4,#013ce4,#0073f5,#0097f5,#00acf2)"></i><i style="background:linear-gradient(90deg,#0095f5,#009af4,#00acf2,#00bfec,#00c8e7,#00c7e8,#00bfec,#00b3f1,#00a5f3,#0099f4,#008ef6,#0087f7,#0085f7,#0083f8,#0080f8,#0080f8,#0089f7,#0096f5,#00a0f3,#00aaf2,#00b2f1,#00b3f1,#00adf2,#00a4f3,#00a0f3,#00a3f3,#00adf2,#00bbee,#00c7e8,#00cfe3,#00d3e1,#00d3e1,#00cce5,#00c0ec,#00b1f1,#00a4f3,#0098f5,#008cf6,#007cf7,#0068f2,#005bef,#006df3,#0097f5,#00abf2,#00a7f2,#00aaf2,#00baef,#00b0f1,#0099f4,#0096f5,#009cf4,#0095f5,#0063f1,#0627ca,#0043e9,#0071f4,#0093f5,#00a7f2,#00aef1,#00b1f1,#00b0f1,#00a7f2,#009af4,#008ff6,#008ef6,#009bf4,#00b0f1,#00c1eb,#00cfe3,#00d9dd,#06ded8,#09dfd6,#07ded7,#00dcdc,#00d4e0,#00cae6,#00bfec,#00b6f0,#00b2f1,#00aff1,#00abf2,#00a2f3,#0097f5,#0088f7,#0073f5,#005aee,#013be2,#0721c4,#013ae1,#0070f4,#0094f5,#00abf2)"></i><i style="background:linear-gradient(90deg,#0093f5,#0093f5,#00a3f3,#00b6f0,#00beed,#00bcee,#00b4f1,#00a8f2,#009af4,#0090f6,#0089f7,#0085f7,#0086f7,#0088f7,#0088f7,#008bf6,#0093f5,#00a0f3,#00a9f2,#00b1f1,#00b7f0,#00b6f0,#00aff1,#00a5f3,#00a2f3,#00a7f2,#00b3f1,#00c2ea,#00cfe3,#00d8de,#01dcdb,#00dcdc,#00d3e1,#00c6e8,#00b6f0,#00a7f2,#009af4,#008ff6,#0083f8,#0076f6,#0073f5,#0085f7,#00a4f3,#00b4f1,#00b0f1,#00b3f1,#00beec,#00b3f1,#009bf4,#0093f5,#0097f5,#008ef6,#005ef0,#052bcf,#0045e9,#0073f5,#0094f5,#00a9f2,#00b1f1,#00b5f0,#00b4f1,#00adf2,#00a0f3,#0095f5,#0094f5,#009ff4,#00b2f1,#00c2ea,#00d0e3,#00dadd,#06ded8,#0adfd5,#08ded7,#01dcdb,#00d5e0,#00cbe5,#00c0eb,#00b7f0,#00b2f1,#00aff1,#00abf2,#00a3f3,#0098f5,#0089f7,#0076f6,#005def,#013ee5,#0722c5,#0239e0,#006cf3,#0091f6,#00a9f2)"></i><i style="background:linear-gradient(90deg,#0091f6,#008df6,#009af4,#00abf2,#00b3f1,#00b1f1,#00a8f2,#009cf4,#0090f6,#0088f7,#0083f8,#0083f8,#0088f7,#008cf6,#008ff6,#0094f5,#009ef4,#00aaf2,#00b2f1,#00b9f0,#00bcee,#00b9ef,#00b0f1,#00a6f3,#00a3f3,#00abf2,#00b9ef,#00c9e7,#00d7df,#07ded7,#0ee0d2,#0ce0d4,#00dbdd,#00cce5,#00bbee,#00aaf2,#009cf4,#0092f5,#008af7,#0085f7,#0088f7,#0099f4,#00b2f1,#00bded,#00baef,#00bcee,#00c4e9,#00b7f0,#009df4,#0090f6,#0090f6,#0085f7,#005aee,#0332d7,#004beb,#0077f6,#0098f5,#00acf2,#00b6f0,#00baef,#00b9ef,#00b2f1,#00a6f3,#009bf4,#009af4,#00a4f3,#00b4f1,#00c3ea,#00d0e3,#00dadd,#06ded8,#0adfd5,#08dfd6,#02dddb,#00d6df,#00cce5,#00c2eb,#00b8f0,#00b3f1,#00aff1,#00abf2,#00a4f3,#0099f4,#008cf6,#0079f6,#0061f0,#0041e8,#0627cb,#0237de,#0067f2,#008ef6,#00a7f2)"></i><i style="background:linear-gradient(90deg,#0090f6,#0088f7,#0092f5,#00a1f3,#00a8f2,#00a6f3,#009cf4,#0090f6,#0085f7,#007ff8,#007ef7,#0082f8,#0089f7,#0091f6,#0097f5,#009ef4,#00a8f2,#00b3f1,#00bbee,#00c0ec,#00c1eb,#00bcee,#00b1f1,#00a7f2,#00a4f3,#00aef1,#00beed,#00cfe3,#03ddda,#13e2cf,#1be4ca,#18e3cc,#09dfd6,#00d2e1,#00bfec,#00adf2,#009ff4,#0096f5,#0092f5,#0092f5,#009bf4,#00acf2,#00c0ec,#00c7e8,#00c4e9,#00c6e8,#00cae6,#00bcee,#009ff4,#008df6,#0088f7,#007cf7,#0056ed,#0239e0,#0053ed,#007ef7,#009df4,#00b1f1,#00bbee,#00bfec,#00bfec,#00b8f0,#00acf2,#00a2f3,#009ff4,#00a8f2,#00b7f0,#00c5e9,#00d1e2,#00dadd,#06ded8,#0adfd5,#09dfd6,#03ddda,#00d7df,#00cde4,#00c3ea,#00b9ef,#00b3f1,#00b0f1,#00acf2,#00a5f3,#009bf4,#008ef6,#007df7,#0065f1,#0046e9,#052cd0,#0236dc,#0062f1,#008af7,#00a5f3)"></i><i style="background:linear-gradient(90deg,#0091f6,#0083f8,#008bf6,#0098f5,#009ef4,#009af4,#0090f6,#0083f8,#0078f6,#0074f5,#0078f6,#0080f8,#008bf6,#0095f5,#009ef4,#00a7f2,#00b2f1,#00bded,#00c3ea,#00c6e8,#00c6e8,#00bfec,#00b3f1,#00a7f2,#00a5f3,#00b0f1,#00c2eb,#00d4e0,#0ee0d3,#1fe6c7,#26e8c2,#23e7c4,#13e2cf,#00d8de,#00c4ea,#00b0f1,#00a1f3,#009af4,#0099f4,#009ff4,#00acf2,#00beed,#00cde4,#00d2e2,#00cee4,#00d0e3,#00d2e2,#00c1eb,#00a0f3,#0089f7,#0080f8,#0071f4,#0052ed,#0041e8,#005eef,#0085f7,#00a3f3,#00b7f0,#00c1eb,#00c5e9,#00c4e9,#00bded,#00b2f1,#00a7f2,#00a5f3,#00acf2,#00b9ef,#00c6e8,#00d2e2,#00dbdd,#07ded7,#0bdfd5,#09dfd6,#03ddda,#00d8de,#00cfe3,#00c4e9,#00baef,#00b4f1,#00b0f1,#00acf2,#00a6f3,#009df4,#0091f6,#0081f8,#0069f2,#004beb,#0430d5,#0334da,#005def,#0087f7,#00a3f3)"></i><i style="background:linear-gradient(90deg,#0093f5,#0081f8,#0085f7,#0090f6,#0094f5,#008ff6,#0084f7,#0076f5,#006bf3,#006af3,#0072f5,#007ff8,#008df6,#009af4,#00a5f3,#00aff1,#00bbee,#00c5e9,#00cbe6,#00cde4,#00cbe6,#00c2ea,#00b4f1,#00a6f3,#00a5f3,#00b1f1,#00c5e9,#00d9de,#17e3cc,#29e9bf,#31ebba,#2deabd,#1de5c8,#02dddb,#00c8e7,#00b3f1,#00a4f3,#009ef4,#00a1f3,#00acf2,#00bcee,#00cee4,#00dbdd,#01dcdb,#00d8de,#00d9de,#00dadd,#00c6e8,#00a2f3,#0085f7,#0075f5,#0066f1,#004fec,#004beb,#0069f2,#008ef6,#00aaf2,#00beed,#00c7e8,#00cbe5,#00cae6,#00c3ea,#00b8f0,#00adf2,#00aaf2,#00b0f1,#00bcee,#00c8e7,#00d2e1,#00dbdd,#07ded7,#0bdfd5,#0adfd5,#04ddd9,#00d8de,#00d0e3,#00c5e9,#00bbee,#00b4f1,#00b0f1,#00adf2,#00a8f2,#00a0f3,#0094f5,#0084f7,#006ef3,#0051ec,#0334da,#0332d7,#0058ee,#0083f8,#00a1f3)"></i><i style="background:linear-gradient(90deg,#0097f5,#0081f8,#0082f8,#0089f7,#008bf6,#0085f7,#0078f6,#0068f2,#005def,#0061f0,#006ef4,#007ff8,#0090f6,#009ff4,#00abf2,#00b7f0,#00c3ea,#00cde4,#00d2e2,#00d3e1,#00d0e3,#00c5e9,#00b5f0,#00a6f3,#00a4f3,#00b2f1,#00c8e7,#02dddb,#1fe6c7,#33ecb9,#3beeb3,#37edb6,#26e8c2,#0adfd5,#00cbe5,#00b5f0,#00a6f3,#00a3f3,#00a9f2,#00b8f0,#00cae6,#02dddb,#13e2cf,#13e2cf,#0adfd5,#0bdfd5,#0bdfd5,#00cce5,#00a3f3,#0081f8,#006af3,#005aef,#004eeb,#0055ed,#0074f5,#0096f5,#00b2f1,#00c4e9,#00cde4,#00d2e2,#00d0e2,#00c9e7,#00bded,#00b3f1,#00aff1,#00b4f1,#00beec,#00c9e6,#00d3e1,#00dbdc,#07ded7,#0bdfd5,#0adfd5,#04ddd9,#00d9de,#00d1e2,#00c6e8,#00bcee,#00b5f0,#00b1f1,#00aef1,#00a9f2,#00a2f3,#0097f5,#0088f7,#0073f5,#0057ee,#0238df,#042fd4,#0052ec,#0080f8,#009ff4)"></i><i style="background:linear-gradient(90deg,#009df4,#0084f7,#0081f8,#0085f7,#0085f7,#007cf7,#006cf3,#005aef,#0051ec,#0059ee,#006bf3,#007ff8,#0093f5,#00a4f3,#00b2f1,#00beed,#00cae6,#00d4e0,#00d9de,#00d9de,#00d4e0,#00c8e7,#00b6f0,#00a5f3,#00a3f3,#00b3f1,#00cae6,#07ded7,#26e8c2,#3cefb3,#45f1ab,#40f0b0,#2febbc,#11e1d0,#00cfe3,#00b8f0,#00a9f2,#00a7f2,#00b1f1,#00c2ea,#00d8de,#18e4cb,#28e8c1,#24e7c3,#19e4cb,#19e4cb,#19e4cb,#00d2e2,#00a4f3,#007df7,#0060f0,#004eec,#004deb,#005ff0,#0080f8,#009ff4,#00baef,#00cbe5,#00d4e0,#00d8de,#00d6df,#00cee4,#00c2ea,#00b8f0,#00b3f1,#00b8f0,#00c1eb,#00cbe6,#00d4e0,#00dcdc,#07ded7,#0bdfd5,#0adfd5,#05ddd9,#00d9de,#00d1e2,#00c7e8,#00bcee,#00b5f0,#00b2f1,#00b0f1,#00acf2,#00a5f3,#009bf4,#008cf6,#0078f6,#005def,#013ce3,#042dd1,#004ceb,#007cf7,#009ef4)"></i><i style="background:linear-gradient(90deg,#00a5f3,#0089f7,#0084f7,#0084f7,#0080f8,#0075f5,#0062f0,#004fec,#0045e9,#0053ed,#006af2,#0081f8,#0096f5,#00a9f2,#00b8f0,#00c5e9,#00d1e2,#00dbdc,#05ddd9,#03ddda,#00d9de,#00cbe6,#00b7f0,#00a3f3,#00a1f3,#00b2f1,#00cbe5,#0ce0d4,#2ceabe,#44f0ac,#4ff2a2,#49f1a8,#37edb6,#18e4cb,#00d2e2,#00baef,#00abf2,#00abf2,#00b8f0,#00cce5,#0ce0d4,#2deabd,#3beeb3,#35ecb8,#27e8c1,#26e8c2,#26e8c2,#00d8de,#00a5f3,#0079f6,#0055ed,#0043e9,#004eeb,#0068f2,#0089f7,#00a7f2,#00c1eb,#00d2e2,#00dadd,#03ddda,#01dcdc,#00d3e1,#00c7e8,#00bcee,#00b8f0,#00bbee,#00c3ea,#00cce5,#00d5e0,#00dcdc,#07ded7,#0bdfd5,#0adfd5,#05ddd9,#00dadd,#00d2e2,#00c7e8,#00bded,#00b6f0,#00b3f1,#00b2f1,#00aef1,#00a9f2,#00a0f3,#0091f6,#007ef7,#0063f1,#0040e8,#052ace,#0047ea,#0079f6,#009cf4)"></i><i style="background:linear-gradient(90deg,#00b0f1,#0092f5,#008af7,#0086f7,#007ff8,#0070f4,#005bef,#0046e9,#003ee6,#0050ec,#006bf3,#0083f8,#009af4,#00aef1,#00bded,#00cbe6,#00d7df,#09dfd6,#0de0d3,#0bdfd5,#01dcdb,#00cde4,#00b8f0,#00a2f3,#009ff4,#00b1f1,#00cce5,#0fe1d2,#31ebba,#4df1a4,#58f29a,#52f2a0,#3eefb2,#1ee5c7,#00d5e0,#00bcee,#00adf2,#00aff1,#00beec,#00d5e0,#1ee5c8,#41f0af,#51f2a1,#47f1aa,#35edb7,#33ecb9,#34ecb8,#01dcdb,#00a6f3,#0075f5,#004beb,#013be2,#0051ec,#0072f5,#0093f5,#00b0f1,#00c8e7,#00d8de,#06ded8,#0ce0d4,#09dfd6,#00d8de,#00cbe5,#00c0ec,#00bbee,#00beed,#00c5e9,#00cde4,#00d5e0,#00dcdc,#07ded7,#0adfd5,#09dfd5,#04ddd9,#00d9dd,#00d2e1,#00c8e7,#00bded,#00b7f0,#00b5f0,#00b4f1,#00b2f1,#00adf2,#00a4f3,#0096f5,#0083f8,#0069f2,#0045e9,#0528cb,#0042e8,#0077f6,#009bf4)"></i><i style="background:linear-gradient(90deg,#00bcee,#009ef4,#0093f5,#008bf6,#0080f8,#006ff4,#0058ee,#0042e8,#013ce3,#0052ec,#006ff4,#0087f7,#009ff4,#00b3f1,#00c3ea,#00d0e3,#01dcdb,#11e1d0,#15e3ce,#11e1d0,#07ded7,#00d0e3,#00b8f0,#00a0f3,#009df4,#00aff1,#00cce5,#11e1d0,#35edb8,#54f29e,#60f393,#5af399,#45f0ac,#23e7c4,#00d7df,#00bded,#00aff1,#00b3f1,#00c4e9,#03ddda,#2eeabd,#57f29c,#67f48d,#5bf398,#44f0ac,#40f0b0,#3ff0b0,#08dfd6,#00a6f3,#0073f5,#0043e9,#0235db,#0055ed,#007cf7,#009cf4,#00b8f0,#00cfe3,#04ddd9,#0fe1d2,#14e2ce,#11e1d0,#02dcdb,#00d0e3,#00c4e9,#00beec,#00c0ec,#00c7e8,#00cee4,#00d6e0,#00dcdc,#07ded7,#0adfd5,#09dfd6,#04ddda,#00d9de,#00d2e1,#00c8e7,#00beed,#00b7f0,#00b7f0,#00b7f0,#00b5f0,#00b2f1,#00a9f2,#009bf4,#0088f7,#006ff4,#004beb,#0627cb,#003fe6,#0075f5,#009af4)"></i><i style="background:linear-gradient(90deg,#00cae6,#00adf2,#009ef4,#0092f5,#0085f7,#0072f5,#005aee,#0044e9,#003fe7,#0057ee,#0074f5,#008cf6,#00a4f3,#00b9f0,#00c8e7,#00d5e0,#09dfd6,#19e4cb,#1be5c9,#17e3cc,#0be0d4,#00d2e2,#00b9ef,#009ff4,#009af4,#00adf2,#00cbe5,#12e1d0,#38edb6,#59f399,#66f48e,#60f393,#4bf1a6,#27e8c1,#00d9de,#00bfec,#00b1f1,#00b6f0,#00cae6,#0fe1d2,#3cefb3,#6af48a,#7af67b,#6ef586,#56f29c,#4ef1a3,#4af1a7,#0ee0d2,#00a8f2,#0072f5,#003ee5,#0333d9,#005bef,#0084f7,#00a4f3,#00bfec,#00d5e0,#0de0d3,#17e3cc,#1be5c9,#18e4cb,#08dfd6,#00d4e1,#00c7e7,#00c1eb,#00c2ea,#00c8e7,#00cfe3,#00d6df,#00dcdc,#06ded8,#09dfd6,#08ded7,#02ddda,#00d9de,#00d2e2,#00c8e7,#00beed,#00b9f0,#00b9f0,#00baef,#00b9ef,#00b7f0,#00aff1,#00a0f3,#008ef6,#0075f5,#0050ec,#0529cd,#013de5,#0074f5,#009af4)"></i><i style="background:linear-gradient(90deg,#00dadd,#00beed,#00acf2,#009df4,#008cf6,#0079f6,#0060f0,#004ceb,#0049ea,#0060f0,#007cf7,#0093f5,#00aaf2,#00beed,#00cde4,#00dadd,#10e1d1,#1ee5c7,#21e6c5,#1ce5c9,#0fe1d2,#00d4e1,#00baef,#009ff4,#0097f5,#00a9f2,#00c9e7,#11e1d0,#3aeeb4,#5df396,#6bf489,#65f48f,#4ff2a2,#2ae9bf,#00dbdd,#00c0eb,#00b3f1,#00b9ef,#00cfe3,#1ae4ca,#4bf1a6,#7bf67b,#8cf86b,#81f676,#69f48b,#5df396,#51f2a1,#12e2cf,#00acf2,#0073f5,#013ce3,#0235db,#0063f1,#008cf6,#00acf2,#00c6e8,#00dadd,#14e2ce,#1ee5c7,#22e7c5,#1ee5c7,#0ee0d2,#00d7df,#00cbe6,#00c4e9,#00c4e9,#00c9e7,#00cfe3,#00d6df,#00dcdc,#05ded8,#08ded7,#06ded8,#01dcdb,#00d8de,#00d1e2,#00c7e7,#00bfec,#00baef,#00bbee,#00bded,#00beed,#00bcee,#00b4f1,#00a6f3,#0093f5,#007bf7,#0055ed,#042ed3,#013ee5,#0073f5,#009af4)"></i><i style="background:linear-gradient(90deg,#18e4cb,#00cfe3,#00bcee,#00a9f2,#0096f5,#0082f8,#006bf3,#0058ee,#0057ee,#006cf3,#0085f7,#009af4,#00b1f1,#00c3ea,#00d1e2,#03ddda,#15e3cd,#22e7c4,#25e8c3,#1fe6c6,#11e1d0,#00d5e0,#00bbee,#009ef4,#0094f5,#00a5f3,#00c6e8,#10e1d1,#3aeeb4,#5ff394,#6ff586,#69f48b,#52f2a0,#2deabd,#00dcdc,#00c2eb,#00b4f1,#00bcee,#00d3e1,#24e7c4,#5af399,#8af76d,#9af75c,#92f865,#7bf67b,#6af48a,#55f29d,#15e3cd,#00aff1,#0074f5,#013ce3,#013ae1,#006bf3,#0094f5,#00b4f1,#00cce5,#05ded8,#1ae4ca,#24e7c3,#27e8c1,#23e7c4,#13e2cf,#00dbdd,#00cee4,#00c6e8,#00c5e9,#00c9e6,#00cfe3,#00d6e0,#00dbdc,#04ddd9,#06ded8,#05ddd9,#00dbdc,#00d6df,#00d0e3,#00c7e8,#00bfec,#00bcee,#00beed,#00c1eb,#00c3ea,#00c1eb,#00baef,#00acf2,#0099f4,#0080f8,#005aef,#0333d9,#003fe7,#0073f5,#009af4)"></i><i style="background:linear-gradient(90deg,#34ecb8,#07ded7,#00cbe5,#00b7f0,#00a2f3,#008ef6,#0078f6,#0067f2,#0067f2,#0079f6,#008ef6,#00a2f3,#00b7f0,#00c8e7,#00d6df,#09dfd6,#1ae4ca,#26e8c2,#28e9c0,#22e7c4,#13e2cf,#00d6df,#00bcee,#009ef4,#0091f6,#00a0f3,#00c2ea,#0de0d3,#3aeeb4,#61f393,#71f584,#6cf488,#55f29e,#2eeabc,#02dddb,#00c3ea,#00b6f0,#00beed,#00d7df,#2deabd,#67f48d,#96f761,#a6f54f,#a0f656,#8df86b,#76f57f,#58f29a,#17e3cc,#00b3f1,#0076f6,#003ee5,#0040e8,#0073f5,#009cf4,#00bbef,#00d2e2,#0de0d3,#20e6c6,#29e9c0,#2ceabe,#27e8c1,#18e3cc,#03ddda,#00d1e2,#00c8e7,#00c6e8,#00cae6,#00cfe3,#00d5e0,#00dadd,#03ddda,#05ddd9,#03ddda,#00dadd,#00d5e0,#00cee4,#00c6e8,#00bfec,#00beed,#00c1eb,#00c5e9,#00c8e7,#00c7e8,#00c0ec,#00b2f1,#009ff4,#0085f7,#005ff0,#0238df,#0042e8,#0074f5,#009af4)"></i><i style="background:linear-gradient(90deg,#53f29e,#24e7c3,#00dcdc,#00c5e9,#00aff1,#009af4,#0086f7,#0077f6,#0077f6,#0086f7,#0098f5,#00aaf2,#00beed,#00cde4,#00dadd,#0ee0d2,#1ee5c7,#29e9c0,#2be9bf,#24e7c3,#15e3ce,#00d7df,#00bded,#009ef4,#008df6,#009af4,#00beed,#0adfd5,#3aeeb4,#61f392,#73f582,#6ef586,#56f29c,#2febbc,#03ddda,#00c3ea,#00b6f0,#00bfec,#00dbdd,#35ecb8,#73f582,#a0f655,#b1f342,#adf447,#9bf65c,#82f775,#5af398,#19e4cb,#00b6f0,#0079f6,#0040e8,#0049ea,#007cf7,#00a3f3,#00c1eb,#00d7df,#13e2cf,#25e8c2,#2eeabc,#30ebbb,#2be9bf,#1ce5c9,#07ded7,#00d3e1,#00cae6,#00c7e8,#00cae6,#00cfe3,#00d5e0,#00dadd,#01dcdb,#03ddda,#00dcdc,#00d8de,#00d3e1,#00cde5,#00c5e9,#00c0ec,#00c0ec,#00c4e9,#00cae6,#00cde4,#00cde5,#00c6e8,#00b8f0,#00a4f3,#008af7,#0064f1,#013de4,#0045e9,#0075f5,#009bf4)"></i><i style="background:linear-gradient(90deg,#76f57f,#41f0af,#1ae4ca,#00d4e0,#00beed,#00a9f2,#0095f5,#0087f7,#0087f7,#0093f5,#00a2f3,#00b3f1,#00c4e9,#00d3e1,#03ddda,#13e2cf,#21e6c5,#2be9bf,#2deabd,#26e8c2,#16e3cd,#00d8de,#00bfec,#009ef4,#0089f7,#0093f5,#00b9f0,#06ded8,#38eeb5,#61f392,#74f581,#70f585,#57f29b,#2febbb,#03ddda,#00c4e9,#00b7f0,#00c1eb,#02ddda,#3cefb3,#7ef678,#a9f44b,#bcf236,#b9f239,#a7f54d,#8cf86b,#5cf397,#1ae4ca,#00b9ef,#007cf7,#0043e9,#0051ec,#0084f7,#00abf2,#00c7e8,#00dcdc,#19e4cb,#2ae9bf,#32ecba,#34ecb9,#2eeabc,#20e6c6,#0bdfd4,#00d5e0,#00cbe6,#00c7e8,#00c9e6,#00cee4,#00d4e1,#00d9de,#00dcdc,#01dcdc,#00dbdd,#00d7df,#00d1e2,#00cbe6,#00c4e9,#00c0ec,#00c2eb,#00c8e7,#00cfe3,#00d3e1,#00d3e1,#00cce5,#00beed,#00aaf2,#008ff6,#0069f2,#0041e8,#0049ea,#0076f6,#009df4)"></i><i style="background:linear-gradient(90deg,#97f760,#65f48f,#35edb8,#0ce0d4,#00cce5,#00b8f0,#00a4f3,#0097f5,#0096f5,#009ff4,#00acf2,#00bbef,#00cae6,#00d7df,#09dfd6,#17e3cc,#24e7c3,#2ceabd,#2eeabd,#27e8c1,#17e3cc,#00d9dd,#00c0ec,#009ef4,#0084f7,#008bf6,#00b3f1,#01dcdb,#36edb7,#61f393,#75f581,#71f584,#57f29b,#30ebbb,#03ddda,#00c4e9,#00b7f0,#00c1eb,#06ded8,#42f0ae,#88f770,#b2f341,#c6f02b,#c5f02c,#b3f340,#95f763,#5ef395,#1ae4ca,#00bbee,#007ef8,#0046ea,#0058ee,#008cf6,#00b1f1,#00cce5,#07ded7,#1fe6c7,#2eeabc,#35edb7,#37edb6,#31ebba,#23e7c4,#0ee0d2,#00d7df,#00cce5,#00c7e8,#00c9e7,#00cee4,#00d3e1,#00d7df,#00dadd,#00dbdd,#00d9de,#00d5e0,#00cfe3,#00c9e7,#00c3ea,#00c0eb,#00c4e9,#00cbe5,#00d3e1,#00d9de,#00d9de,#00d2e2,#00c3ea,#00aff1,#0093f5,#006ef3,#0047ea,#004beb,#0078f6,#009ef4)"></i><i style="background:linear-gradient(90deg,#b3f340,#89f76f,#54f29e,#24e7c3,#00dbdd,#00c7e8,#00b4f1,#00a6f3,#00a4f3,#00acf2,#00b7f0,#00c2eb,#00d0e3,#00dcdc,#0ee0d2,#1be4ca,#26e8c2,#2deabd,#2eebbc,#27e8c1,#17e3cc,#00dadd,#00c1eb,#009ff4,#007ff8,#0082f8,#00acf2,#00d9dd,#34ecb8,#60f394,#75f581,#71f584,#57f29b,#2febbc,#03ddda,#00c3ea,#00b6f0,#00c1eb,#09dfd6,#49f1a8,#90f868,#baf238,#ceed21,#ceed21,#bdf234,#9cf65b,#5ff394,#1ae4ca,#00bded,#0080f8,#0048ea,#005ff0,#0093f5,#00b8f0,#00d1e2,#0de0d3,#23e7c4,#31ebba,#38eeb5,#39eeb5,#33ecb9,#26e8c2,#11e1d0,#00d8de,#00cce5,#00c7e8,#00c8e7,#00cde5,#00d2e2,#00d6df,#00d9de,#00d9dd,#00d7df,#00d3e1,#00cee4,#00c7e7,#00c2ea,#00c1eb,#00c6e8,#00cfe3,#00d8de,#04ddd9,#04ddd9,#00d7df,#00c9e7,#00b4f1,#0098f5,#0073f5,#004beb,#004eeb,#007af7,#00a0f3)"></i><i style="background:linear-gradient(90deg,#cded22,#a7f54e,#77f57f,#3eefb2,#17e3cc,#00d7df,#00c3ea,#00b6f0,#00b3f1,#00b9f0,#00c0ec,#00c9e7,#00d5e0,#07ded7,#13e2cf,#1de5c8,#28e8c1,#2eeabc,#2febbc,#27e8c1,#17e3cc,#00dbdd,#00c3ea,#009ff4,#0079f6,#0077f6,#00a5f3,#00d6df,#32ecba,#5ef395,#74f581,#71f584,#57f29c,#2febbc,#03ddda,#00c3ea,#00b5f0,#00c1eb,#0bdfd4,#4ff1a3,#96f761,#c1f130,#d4ea18,#d6e917,#c7f029,#a2f553,#5ff394,#19e4cb,#00bfec,#0081f8,#0048ea,#0064f1,#0099f4,#00bded,#00d5e0,#13e2cf,#28e8c1,#34ecb8,#3beeb4,#3beeb3,#35edb7,#28e9c0,#14e2ce,#00dadd,#00cde4,#00c6e8,#00c7e8,#00cbe5,#00d0e2,#00d5e0,#00d7df,#00d8de,#00d6e0,#00d1e2,#00cce5,#00c6e8,#00c1eb,#00c2eb,#00c9e7,#00d3e1,#02dddb,#0de0d3,#0ee0d3,#02dddb,#00cee4,#00b9ef,#009df4,#0078f6,#004fec,#0050ec,#007df7,#00a2f3)"></i><i style="background:linear-gradient(90deg,#e3e307,#c3f12e,#98f75f,#5ef395,#30ebbb,#11e1d0,#00d3e1,#00c4e9,#00c0eb,#00c4e9,#00c9e7,#00cfe3,#00dadd,#0de0d3,#17e3cc,#20e6c6,#29e9c0,#2eeabc,#2eeabc,#27e8c1,#17e3cc,#00dcdc,#00c4e9,#00a0f3,#0074f5,#006af3,#009df4,#00d2e1,#2febbb,#5df396,#74f582,#71f584,#56f29c,#2eeabc,#02dddb,#00c2ea,#00b4f1,#00c0ec,#0ce0d4,#53f29f,#9cf65b,#c7f029,#dbe711,#dde60e,#ceed20,#a8f54c,#5ef395,#19e4cb,#00c1eb,#0082f8,#0047ea,#0069f2,#009ff4,#00c2ea,#00d9de,#18e3cc,#2beabe,#37edb6,#3cefb2,#3defb2,#37edb6,#2ae9bf,#16e3cd,#00dbdd,#00cde4,#00c6e8,#00c6e8,#00cae6,#00cfe3,#00d3e1,#00d6df,#00d6df,#00d4e1,#00cfe3,#00cae6,#00c4e9,#00c0eb,#00c2ea,#00cbe5,#00d7df,#09dfd5,#16e3cd,#17e3cc,#0adfd5,#00d3e1,#00beed,#00a2f3,#007df7,#0053ed,#0051ec,#007ff8,#00a4f3)"></i><i style="background:linear-gradient(90deg,#f2cc00,#dae711,#b3f33f,#7ff678,#4cf1a5,#2beabe,#0adfd5,#00d2e1,#00cde4,#00cfe3,#00d1e2,#00d5e0,#05ded9,#13e2cf,#1ae4ca,#22e7c5,#29e9bf,#2eeabc,#2eeabd,#26e8c2,#17e3cc,#01dcdc,#00c6e8,#00a1f3,#006ff4,#005def,#0096f5,#00cfe3,#2deabd,#5bf398,#73f583,#70f585,#55f29d,#2deabd,#01dcdb,#00c1eb,#00b2f1,#00bfec,#0de0d3,#57f29b,#a0f655,#ccee23,#e0e40a,#e3e206,#d5ea18,#aef446,#5df396,#18e3cc,#00c2ea,#0081f8,#0044e9,#006cf3,#00a4f3,#00c7e8,#01dcdb,#1ce5c9,#2eeabc,#39eeb5,#3eefb1,#3eefb1,#39eeb5,#2ceabe,#18e4cb,#00dbdc,#00cde4,#00c5e9,#00c5e9,#00c9e7,#00cde4,#00d1e2,#00d4e0,#00d5e0,#00d2e2,#00cde4,#00c8e7,#00c3ea,#00c0ec,#00c3ea,#00cee4,#00dbdd,#11e1d0,#1ee5c7,#20e6c6,#13e2cf,#00d7df,#00c2ea,#00a6f3,#0081f8,#0056ed,#0052ec,#0081f8,#00a6f3)"></i><i style="background:linear-gradient(90deg,#fbb300,#edd500,#ceed21,#9df659,#6ef587,#47f1aa,#23e7c4,#07ded7,#00d9dd,#00d9de,#00d9de,#00dadd,#0bdfd4,#18e3cc,#1de5c8,#23e7c4,#2ae9bf,#2deabd,#2deabd,#25e8c3,#16e3cd,#01dcdb,#00c8e7,#00a3f3,#006cf3,#004fec,#008ef6,#00cbe5,#2ae9bf,#58f29a,#71f584,#6ef586,#54f29e,#2ceabe,#00dcdc,#00c1eb,#00b1f1,#00bded,#0de0d3,#5af399,#a4f551,#d0ec1f,#e5e103,#e9de00,#dae711,#b3f340,#5cf397,#17e3cc,#00c4ea,#0080f8,#0041e8,#006ff4,#00a9f2,#00cae6,#05ded9,#1fe6c7,#31ebba,#3beeb4,#3ff0b1,#3ff0b1,#3aeeb4,#2eeabd,#1ae4ca,#00dcdc,#00cde4,#00c4e9,#00c3ea,#00c7e8,#00cbe5,#00cfe3,#00d3e1,#00d3e1,#00d0e3,#00cce5,#00c7e8,#00c2ea,#00c0ec,#00c5e9,#00d1e2,#05ded9,#19e4cb,#27e8c1,#29e9c0,#1be4ca,#00dcdc,#00c6e8,#00abf2,#0085f7,#0059ee,#0052ed,#0083f8,#00a9f2)"></i><i style="background:linear-gradient(90deg,#ff9e00,#f9bb00,#e4e205,#b9f23a,#90f868,#69f48b,#3cefb3,#1ee5c8,#0fe1d2,#0bdfd5,#06ded8,#04ddd9,#10e1d1,#1be5c9,#1fe6c7,#24e7c3,#2ae9bf,#2deabd,#2ceabe,#23e7c4,#14e2ce,#01dcdb,#00c9e6,#00a6f3,#006bf3,#0042e9,#0087f7,#00c8e7,#27e8c1,#56f29c,#6ff586,#6df488,#52f2a0,#2be9be,#00dcdc,#00c0ec,#00aff1,#00bcee,#0de0d3,#5cf397,#a7f54e,#d3eb1b,#e9de00,#ecd800,#dfe50b,#b7f23b,#5bf397,#16e3cd,#00c4e9,#007ff8,#003ee6,#0071f4,#00acf2,#00cce5,#08dfd6,#22e7c5,#33ecb9,#3cefb3,#40f0b0,#40f0b0,#3aeeb4,#2febbc,#1be4ca,#01dcdb,#00cde5,#00c3ea,#00c2eb,#00c5e9,#00c9e6,#00cde4,#00d1e2,#00d1e2,#00cee4,#00cae6,#00c5e9,#00c2eb,#00c0eb,#00c7e8,#00d5e0,#0ce0d4,#21e6c6,#2febbb,#31ebba,#22e7c5,#05ded8,#00cae6,#00aff1,#008af7,#005cef,#0053ed,#0084f7,#00abf2)"></i><i style="background:linear-gradient(90deg,#ff8c00,#ffa300,#f3ca00,#d2eb1b,#acf448,#8af76d,#5af398,#34ecb8,#22e6c5,#19e4cb,#10e1d1,#0adfd5,#14e2ce,#1ee5c7,#21e6c6,#25e8c2,#2ae9bf,#2ceabe,#2ae9bf,#22e6c5,#13e2cf,#01dcdb,#00cbe5,#00a9f2,#006ef3,#013ce3,#0080f8,#00c5e9,#24e7c3,#53f29f,#6cf488,#6af48a,#50f2a1,#2ae9bf,#00dbdc,#00c0ec,#00aef1,#00bbee,#0de0d3,#5df396,#a8f54c,#d5e918,#ebda00,#eed300,#e3e307,#baf238,#5cf397,#15e3ce,#00c3ea,#007df7,#003ee5,#0073f5,#00adf2,#00cee4,#0adfd5,#23e7c4,#34ecb9,#3defb2,#40f0b0,#40f0b0,#3beeb3,#2febbb,#1be5c9,#01dcdb,#00cde5,#00c3ea,#00c0eb,#00c3ea,#00c7e8,#00cbe5,#00cfe3,#00cfe3,#00cde5,#00c8e7,#00c4e9,#00c1eb,#00c1eb,#00c9e7,#00d8de,#12e2cf,#28e9c0,#37edb6,#39eeb5,#28e9c0,#0bdfd5,#00cde4,#00b3f1,#008ef6,#0060f0,#0054ed,#0085f7,#00acf2)"></i><i style="background:linear-gradient(90deg,#fc7700,#ff9100,#fcb100,#e8df00,#c8f028,#a6f54f,#7af67c,#4df1a4,#34ecb8,#26e8c2,#19e4cb,#10e1d1,#18e3cc,#20e6c6,#22e7c5,#26e8c2,#2ae9bf,#2be9bf,#28e9c0,#1fe6c6,#11e1d1,#01dcdc,#00cce5,#00adf2,#0073f5,#013ae0,#0079f6,#00c2eb,#21e6c5,#50f2a2,#69f48b,#68f48c,#4ef1a3,#29e9c0,#00dbdd,#00c0ec,#00aef1,#00bbef,#0de0d3,#5df396,#a9f44c,#d7e916,#edd600,#f1cf00,#e6e103,#bbf236,#5df396,#14e2ce,#00c2ea,#007bf7,#003ee6,#0074f5,#00adf2,#00cfe3,#0ce0d4,#24e7c3,#34ecb8,#3defb2,#41f0af,#40f0b0,#3beeb3,#30ebbb,#1ce5c9,#02dddb,#00cde4,#00c2ea,#00bfec,#00c0eb,#00c4e9,#00c9e7,#00cde4,#00cee4,#00cbe5,#00c7e8,#00c3ea,#00c1eb,#00c3ea,#00cce5,#00dbdc,#19e4cb,#30ebbb,#3ff0b1,#40f0b0,#2eeabc,#10e1d1,#00d0e3,#00b6f0,#0092f5,#0065f1,#0055ed,#0086f7,#00aef1)"></i><i style="background:linear-gradient(90deg,#f96100,#fd7d00,#ff9d00,#f6c400,#dee50d,#c0f131,#97f760,#69f48b,#47f1aa,#33ecb9,#22e7c5,#16e3cd,#1be4ca,#22e6c5,#23e7c4,#26e8c2,#2ae9bf,#2ae9bf,#27e8c1,#1de5c8,#0fe1d2,#00dcdc,#00cee4,#00b1f1,#0079f6,#013ae1,#0073f5,#00bfec,#1fe6c7,#4cf1a5,#66f48e,#65f48f,#4cf1a5,#28e9c0,#00dbdc,#00c0ec,#00aef1,#00baef,#0de0d3,#5df396,#a9f44c,#d8e814,#eed300,#f2cc00,#e8e000,#bdf235,#5ef395,#14e2ce,#00c2eb,#0078f6,#003fe6,#0075f5,#00adf2,#00cfe3,#0ce0d4,#24e7c3,#34ecb8,#3defb2,#41f0af,#40f0b0,#3beeb3,#30ebbb,#1ce5c9,#02ddda,#00cde4,#00c2eb,#00bded,#00beed,#00c1eb,#00c7e8,#00cbe5,#00cce5,#00cae6,#00c6e8,#00c2ea,#00c2eb,#00c5e9,#00cfe3,#05ddd9,#20e6c6,#37edb6,#47f1a9,#48f1a9,#33ecb9,#14e2ce,#00d2e1,#00b9ef,#0096f5,#0069f2,#0056ee,#0088f7,#00b0f1)"></i><i style="background:linear-gradient(90deg,#f24d00,#fa6700,#ff8c00,#fdad00,#efd300,#d6e917,#aef445,#83f773,#5df396,#41f0af,#2beabe,#1be5c9,#1ee5c7,#23e7c4,#24e7c3,#27e8c1,#2ae9bf,#29e9c0,#25e8c3,#1be5c9,#0de0d3,#00dcdc,#00cfe3,#00b6f0,#0080f8,#013de4,#006ef4,#00bded,#1ce5c9,#49f1a8,#62f391,#62f392,#49f1a8,#27e8c1,#00dbdc,#00c0eb,#00aef1,#00baef,#0ee0d3,#5df396,#a8f54c,#d8e814,#efd200,#f3ca00,#e9df00,#bef133,#5df396,#14e2ce,#00c2eb,#0076f5,#0040e8,#0077f6,#00adf2,#00cfe3,#0ce0d4,#24e7c3,#34ecb8,#3defb2,#41f0af,#40f0b0,#3beeb4,#2febbb,#1ce5c9,#02ddda,#00cde4,#00c1eb,#00bcee,#00bbee,#00bfec,#00c5e9,#00c9e6,#00cae6,#00c8e7,#00c5e9,#00c2ea,#00c3ea,#00c7e8,#00d2e2,#0adfd5,#26e8c2,#3defb2,#4ff2a2,#4ff2a2,#38eeb5,#18e3cc,#00d5e0,#00bcee,#009bf4,#006ff4,#0058ee,#0089f7,#00b1f1)"></i><i style="background:linear-gradient(90deg,#eb3900,#f55300,#fc7800,#ff9a00,#f9bb00,#e9df00,#c5f02c,#9af75c,#72f583,#51f2a0,#35edb7,#22e6c5,#22e7c4,#26e8c2,#26e8c2,#28e9c0,#2ae9bf,#28e9c0,#24e7c3,#1ae4ca,#0bdfd5,#00dbdc,#00d0e3,#00baef,#0087f7,#0043e9,#006df3,#00bcee,#1ae4ca,#45f0ac,#5ef395,#5ef395,#47f1aa,#26e8c2,#00dcdc,#00c1eb,#00b0f1,#00bbee,#0fe1d2,#5df396,#a8f54d,#d8e814,#efd100,#f4c900,#e9de00,#bff132,#5df396,#14e2ce,#00c3ea,#0075f5,#0045e9,#0079f6,#00adf2,#00cee4,#0ce0d4,#23e7c4,#33ecb9,#3cefb2,#40f0b0,#40f0b0,#3aeeb4,#2febbc,#1ce5c9,#03ddda,#00cde4,#00c1eb,#00bbee,#00b9ef,#00bcee,#00c3ea,#00c7e7,#00c9e7,#00c7e8,#00c4e9,#00c2ea,#00c4ea,#00c9e6,#00d5e0,#0fe1d1,#2ceabe,#44f0ac,#56f29c,#56f29c,#3cefb3,#1be5c9,#00d7df,#00bfec,#00a0f3,#0075f5,#005bef,#008cf6,#00b3f1)"></i><i style="background:linear-gradient(90deg,#e32900,#ee4000,#f96400,#ff8a00,#fea700,#f4c900,#d6e916,#aef446,#87f770,#62f391,#40f0b0,#29e9c0,#27e8c1,#29e9c0,#28e9c0,#2ae9bf,#2be9bf,#28e9c0,#23e7c4,#19e4cb,#0adfd5,#00dbdc,#00d1e2,#00beed,#008df6,#004eec,#006ff4,#00bbee,#18e3cc,#41f0af,#5af398,#5af398,#44f0ac,#26e8c2,#00dcdc,#00c3ea,#00b2f1,#00bded,#11e1d1,#5ef395,#a7f54e,#d8e815,#efd200,#f3c900,#e8df00,#bff132,#5df396,#15e3cd,#00c4ea,#0077f6,#004ceb,#007cf7,#00adf2,#00cde4,#0bdfd5,#22e7c5,#32ecba,#3cefb3,#40f0b0,#3ff0b1,#3aeeb4,#2eeabc,#1be5c9,#03ddda,#00cee4,#00c1eb,#00bbef,#00b8f0,#00baef,#00c1eb,#00c6e8,#00c8e7,#00c6e8,#00c3ea,#00c2ea,#00c5e9,#00cce5,#00d8de,#14e2ce,#31ebbb,#4af1a7,#5cf397,#5bf398,#40f0b0,#1fe6c7,#00dadd,#00c2eb,#00a4f3,#007cf7,#0060f0,#008ff6,#00b5f0)"></i><i style="background:linear-gradient(90deg,#d81b00,#e83000,#f45200,#fc7800,#ff9800,#fab600,#e6e103,#c0f131,#99f75d,#73f582,#4ef1a4,#33ecb9,#2eeabd,#2eeabd,#2ceabe,#2ceabe,#2ceabe,#29e9c0,#23e7c4,#19e4cb,#0adfd5,#00dcdc,#00d2e2,#00bfec,#0093f5,#005bef,#0075f5,#00bbee,#15e2ce,#3defb2,#56f29d,#56f29c,#41f0af,#25e7c3,#01dcdb,#00c5e9,#00b6f0,#00c0eb,#13e2cf,#5ef395,#a6f54e,#d7e916,#eed300,#f2cb00,#e7e001,#bef134,#60f393,#17e3cc,#00c4e9,#007ef7,#0057ee,#0080f8,#00adf2,#00cde4,#0adfd5,#21e6c5,#31ebba,#3beeb4,#3ff0b1,#3eefb1,#39eeb5,#2deabd,#1be4c9,#03ddda,#00cee4,#00c2eb,#00baef,#00b7f0,#00b9ef,#00bfec,#00c4e9,#00c6e8,#00c5e9,#00c3ea,#00c3ea,#00c7e8,#00cee4,#00dbdd,#19e4cb,#35edb7,#4ff2a2,#60f393,#5ef395,#43f0ad,#22e7c5,#00dcdc,#00c5e9,#00a8f2,#0083f8,#006bf3,#0092f5,#00b6f0)"></i><i style="background:linear-gradient(90deg,#cf1000,#de2300,#ee4200,#fa6700,#ff8a00,#fea600,#f0d000,#d0ec1e,#aaf44b,#85f772,#5df396,#3eefb1,#35edb7,#33ecb9,#30ebbb,#2febbc,#2eeabc,#2ae9bf,#24e7c3,#19e4cb,#0bdfd4,#00dcdc,#00d3e1,#00c1eb,#0098f5,#006af2,#007ff8,#00bcee,#12e2d0,#3aeeb4,#51f2a1,#52f2a0,#3ff0b1,#24e7c3,#02dddb,#00c7e8,#00baef,#00c5e9,#17e3cc,#5ff394,#a6f54f,#d5e918,#edd600,#f1ce00,#e5e103,#bcf236,#64f490,#1ae4ca,#00c5e9,#0085f7,#0063f1,#0084f7,#00aef1,#00cce5,#09dfd6,#20e6c6,#30ebbb,#3aeeb4,#3eefb1,#3defb2,#38edb6,#2deabd,#1ae4ca,#03ddda,#00cee4,#00c2ea,#00baef,#00b6f0,#00b8f0,#00beed,#00c3ea,#00c5e9,#00c5e9,#00c4ea,#00c4e9,#00c9e7,#00d1e2,#03ddda,#1ee5c8,#39eeb5,#53f29f,#63f391,#61f393,#46f1aa,#26e8c2,#04ddd9,#00c8e7,#00acf2,#008af7,#0077f6,#0096f5,#00b8f0)"></i><i style="background:linear-gradient(90deg,#c40a00,#d51700,#e93300,#f65600,#fd7b00,#ff9a00,#f8bf00,#dee50d,#baf238,#95f762,#6df488,#4cf1a5,#3eefb2,#39eeb5,#35edb8,#33ecb9,#31ebbb,#2ceabe,#25e7c3,#1ae4ca,#0de0d3,#02dcdb,#00d4e1,#00c2eb,#009ef4,#0078f6,#0088f7,#00bded,#0fe1d2,#36edb7,#4cf1a5,#4ef1a4,#3defb2,#23e7c4,#03ddda,#00cae6,#00beec,#00cae6,#1be4ca,#61f392,#a5f550,#d3ea1a,#ebda00,#efd200,#e3e307,#b9f239,#67f48d,#1de5c8,#00c6e8,#008ef6,#006ff4,#0089f7,#00aff1,#00cce5,#08ded7,#1fe6c7,#2febbc,#38eeb5,#3defb2,#3cefb3,#37edb6,#2beabe,#1ae4ca,#03ddda,#00cfe3,#00c3ea,#00baef,#00b6f0,#00b8f0,#00bded,#00c2ea,#00c5e9,#00c5e9,#00c4e9,#00c6e8,#00cbe6,#00d4e1,#08ded7,#22e7c5,#3cefb2,#56f29c,#65f48f,#62f391,#49f1a8,#29e9c0,#08ded7,#00cae6,#00b0f1,#0091f6,#0082f8,#009bf4,#00b9ef)"></i></div></div>
<svg width="1570" height="1948" viewBox="0 0 1570 1948" role="img" aria-label="Sound pressure distributions">
<defs><linearGradient id="cb" x1="0" x2="1" y1="0" y2="0"><stop offset="0" stop-color="#0818b0"/><stop offset="0.05" stop-color="#0830d0"/><stop offset="0.1" stop-color="#0050f0"/><stop offset="0.2" stop-color="#0088ff"/><stop offset="0.27" stop-color="#00b0f8"/><stop offset="0.33" stop-color="#00d8e8"/><stop offset="0.4" stop-color="#30f0c0"/><stop offset="0.47" stop-color="#70f890"/><stop offset="0.53" stop-color="#a0f860"/><stop offset="0.6" stop-color="#c8f030"/><stop offset="0.65" stop-color="#e0e810"/><stop offset="0.7" stop-color="#f0d000"/><stop offset="0.75" stop-color="#ffb800"/><stop offset="0.8" stop-color="#ffa000"/><stop offset="0.85" stop-color="#ff8000"/><stop offset="0.9" stop-color="#f86000"/><stop offset="0.95" stop-color="#e83800"/><stop offset="1" stop-color="#d01800"/></linearGradient></defs>
<g>
<path d="M202.5 136L202.5 457" stroke="#000" stroke-width="2.3" fill="none"/>
<path d="M202.5 111.5l12.8 25.4h-25.6z"/>
<path d="M203 253.2H429" stroke="#000" stroke-width="1.5" fill="none"/>
<rect x="202.8" y="457.8" width="1184.6" height="47.1" fill="#d0cece" stroke="#000" stroke-width="4"/>
<path d="M428.5 458.8V503.9" stroke="#000" stroke-width="1.2" fill="none"/>
<path d="M1160.5 458.8V503.9" stroke="#000" stroke-width="1.2" fill="none"/>
<rect x="700.8" y="86.8" width="227.9" height="162.7" fill="#f2f2f2" stroke="#000" stroke-width="4.2"/>
<path d="M722.9 176.4H910" stroke="#000" stroke-width="2.3" fill="none"/>
<path d="M702.9 176.4l25 -12.8v25.6z M930 176.4l-25 -12.8v25.6z"/>
<text x="786" y="154.3" font-size="60">20</text>
<text x="248.09" y="215" font-size="59.2"><tspan font-style="italic">x</tspan> = 10 mm</text>
<text x="107.17" y="276" font-size="59.2">18</text>
<text x="111.03" y="466.6" font-size="59.2">0</text>
<text x="95.93" y="537.5" font-size="59.2">-1</text>
<text x="189.63" y="574.5" font-size="59.2">0</text>
<text x="356.34" y="575" font-size="59.2">20</text>
<text x="1160.03" y="577.4" font-size="59.2">80</text>
<text x="1324.27" y="576.8" font-size="59.2">100</text>
<text x="607.3" y="599.3" font-size="58.8"><tspan font-style="italic">y</tspan> direction [mm]</text>
<text x="776.45" y="656.2" font-size="32.5" font-family="'Liberation Sans',sans-serif" style="stroke:none">(a)</text>
<text transform="translate(45.6 578.31) rotate(-90)" font-size="59.5"><tspan font-style="italic">z</tspan> direction [mm]</text>
</g>
<g>
<path d="M201.3 818L203.8 1087" stroke="#000" stroke-width="2.3" fill="none"/>
<path d="M201.3 792.6l12.8 25.4h-25.6z"/>
<path d="M202 874.9H435.5" stroke="#000" stroke-width="1.5" fill="none"/>
<rect x="203.9" y="1088.1" width="1185.8" height="48" fill="#d0cece" stroke="#000" stroke-width="4"/>
<path d="M435.5 1089.1V1135.1" stroke="#000" stroke-width="1.2" fill="none"/>
<path d="M1155.5 1089.1V1135.1" stroke="#000" stroke-width="1.2" fill="none"/>
<rect x="658.3" y="710.8" width="348.6" height="162.3" fill="#f2f2f2" stroke="#000" stroke-width="4.2"/>
<path d="M680.4 792.4H988.2" stroke="#000" stroke-width="2.3" fill="none"/>
<path d="M660.4 792.4l25 -12.8v25.6z M1008.2 792.4l-25 -12.8v25.6z"/>
<text x="796.5" y="774.9" font-size="60">30</text>
<text x="252.79" y="847.2" font-size="59.2"><tspan font-style="italic">x</tspan> = 7 mm</text>
<text x="110.87" y="893.4" font-size="59.2">18</text>
<text x="112.23" y="1096" font-size="59.2">0</text>
<text x="96.63" y="1168.2" font-size="59.2">-1</text>
<text x="188.03" y="1207" font-size="59.2">0</text>
<text x="402.34" y="1206.4" font-size="59.2">20</text>
<text x="1126.53" y="1211" font-size="59.2">80</text>
<text x="1344.97" y="1212" font-size="59.2">100</text>
<text x="600" y="1217.6" font-size="58.8"><tspan font-style="italic">y</tspan> direction [mm]</text>
<text x="768.85" y="1278.2" font-size="32.5" font-family="'Liberation Sans',sans-serif" style="stroke:none">(b)</text>
<text transform="translate(45.5 1227.81) rotate(-90)" font-size="59"><tspan font-style="italic">z</tspan> direction [mm]</text>
</g>
<g>
<path d="M222 1449L224.8 1718" stroke="#000" stroke-width="2.3" fill="none"/>
<path d="M222 1424.1l12.8 25.4h-25.6z"/>
<path d="M223 1505.8H455" stroke="#000" stroke-width="1.5" fill="none"/>
<rect x="224.9" y="1719.4" width="1185.5" height="47.4" fill="#d0cece" stroke="#000" stroke-width="4"/>
<path d="M454.5 1720.4V1765.8" stroke="#000" stroke-width="1.2" fill="none"/>
<path d="M1176.5 1720.4V1765.8" stroke="#000" stroke-width="1.2" fill="none"/>
<rect x="601" y="1343.3" width="459.1" height="162.5" fill="#f2f2f2" stroke="#000" stroke-width="4.2"/>
<path d="M623.1 1424.4H1041.4" stroke="#000" stroke-width="2.3" fill="none"/>
<path d="M603.1 1424.4l25 -12.8v25.6z M1061.4 1424.4l-25 -12.8v25.6z"/>
<text x="790.1" y="1407.3" font-size="60">40</text>
<text x="274.49" y="1479.4" font-size="59.2"><tspan font-style="italic">x</tspan> = 8 mm</text>
<text x="122.07" y="1536" font-size="59.2">18</text>
<text x="133.03" y="1727.8" font-size="59.2">0</text>
<text x="117.33" y="1797.8" font-size="59.2">-1</text>
<text x="213.53" y="1838.6" font-size="59.2">0</text>
<text x="380.44" y="1838.6" font-size="59.2">20</text>
<text x="1177.53" y="1840" font-size="59.2">80</text>
<text x="1363.37" y="1840.6" font-size="59.2">100</text>
<text x="612.2" y="1862.7" font-size="58.8"><tspan font-style="italic">y</tspan> direction [mm]</text>
<text x="787.45" y="1932" font-size="32.5" font-family="'Liberation Sans',sans-serif" style="stroke:none">(c)</text>
<text transform="translate(41.8 1879.56) rotate(-90)" font-size="58.4"><tspan font-style="italic">z</tspan> direction [mm]</text>
</g>
<text x="1030.68" y="44" font-size="63.45">Sound pressure [arb.]</text>
<text x="1063.8" y="127.6" font-size="52.5">0</text>
<text x="1495.08" y="132.2" font-size="52.5">1</text>
<rect x="1130" y="100" width="336.3" height="24.4" fill="url(#cb)" stroke="#000" stroke-width="2"/>
</svg>
</body>
</html>
